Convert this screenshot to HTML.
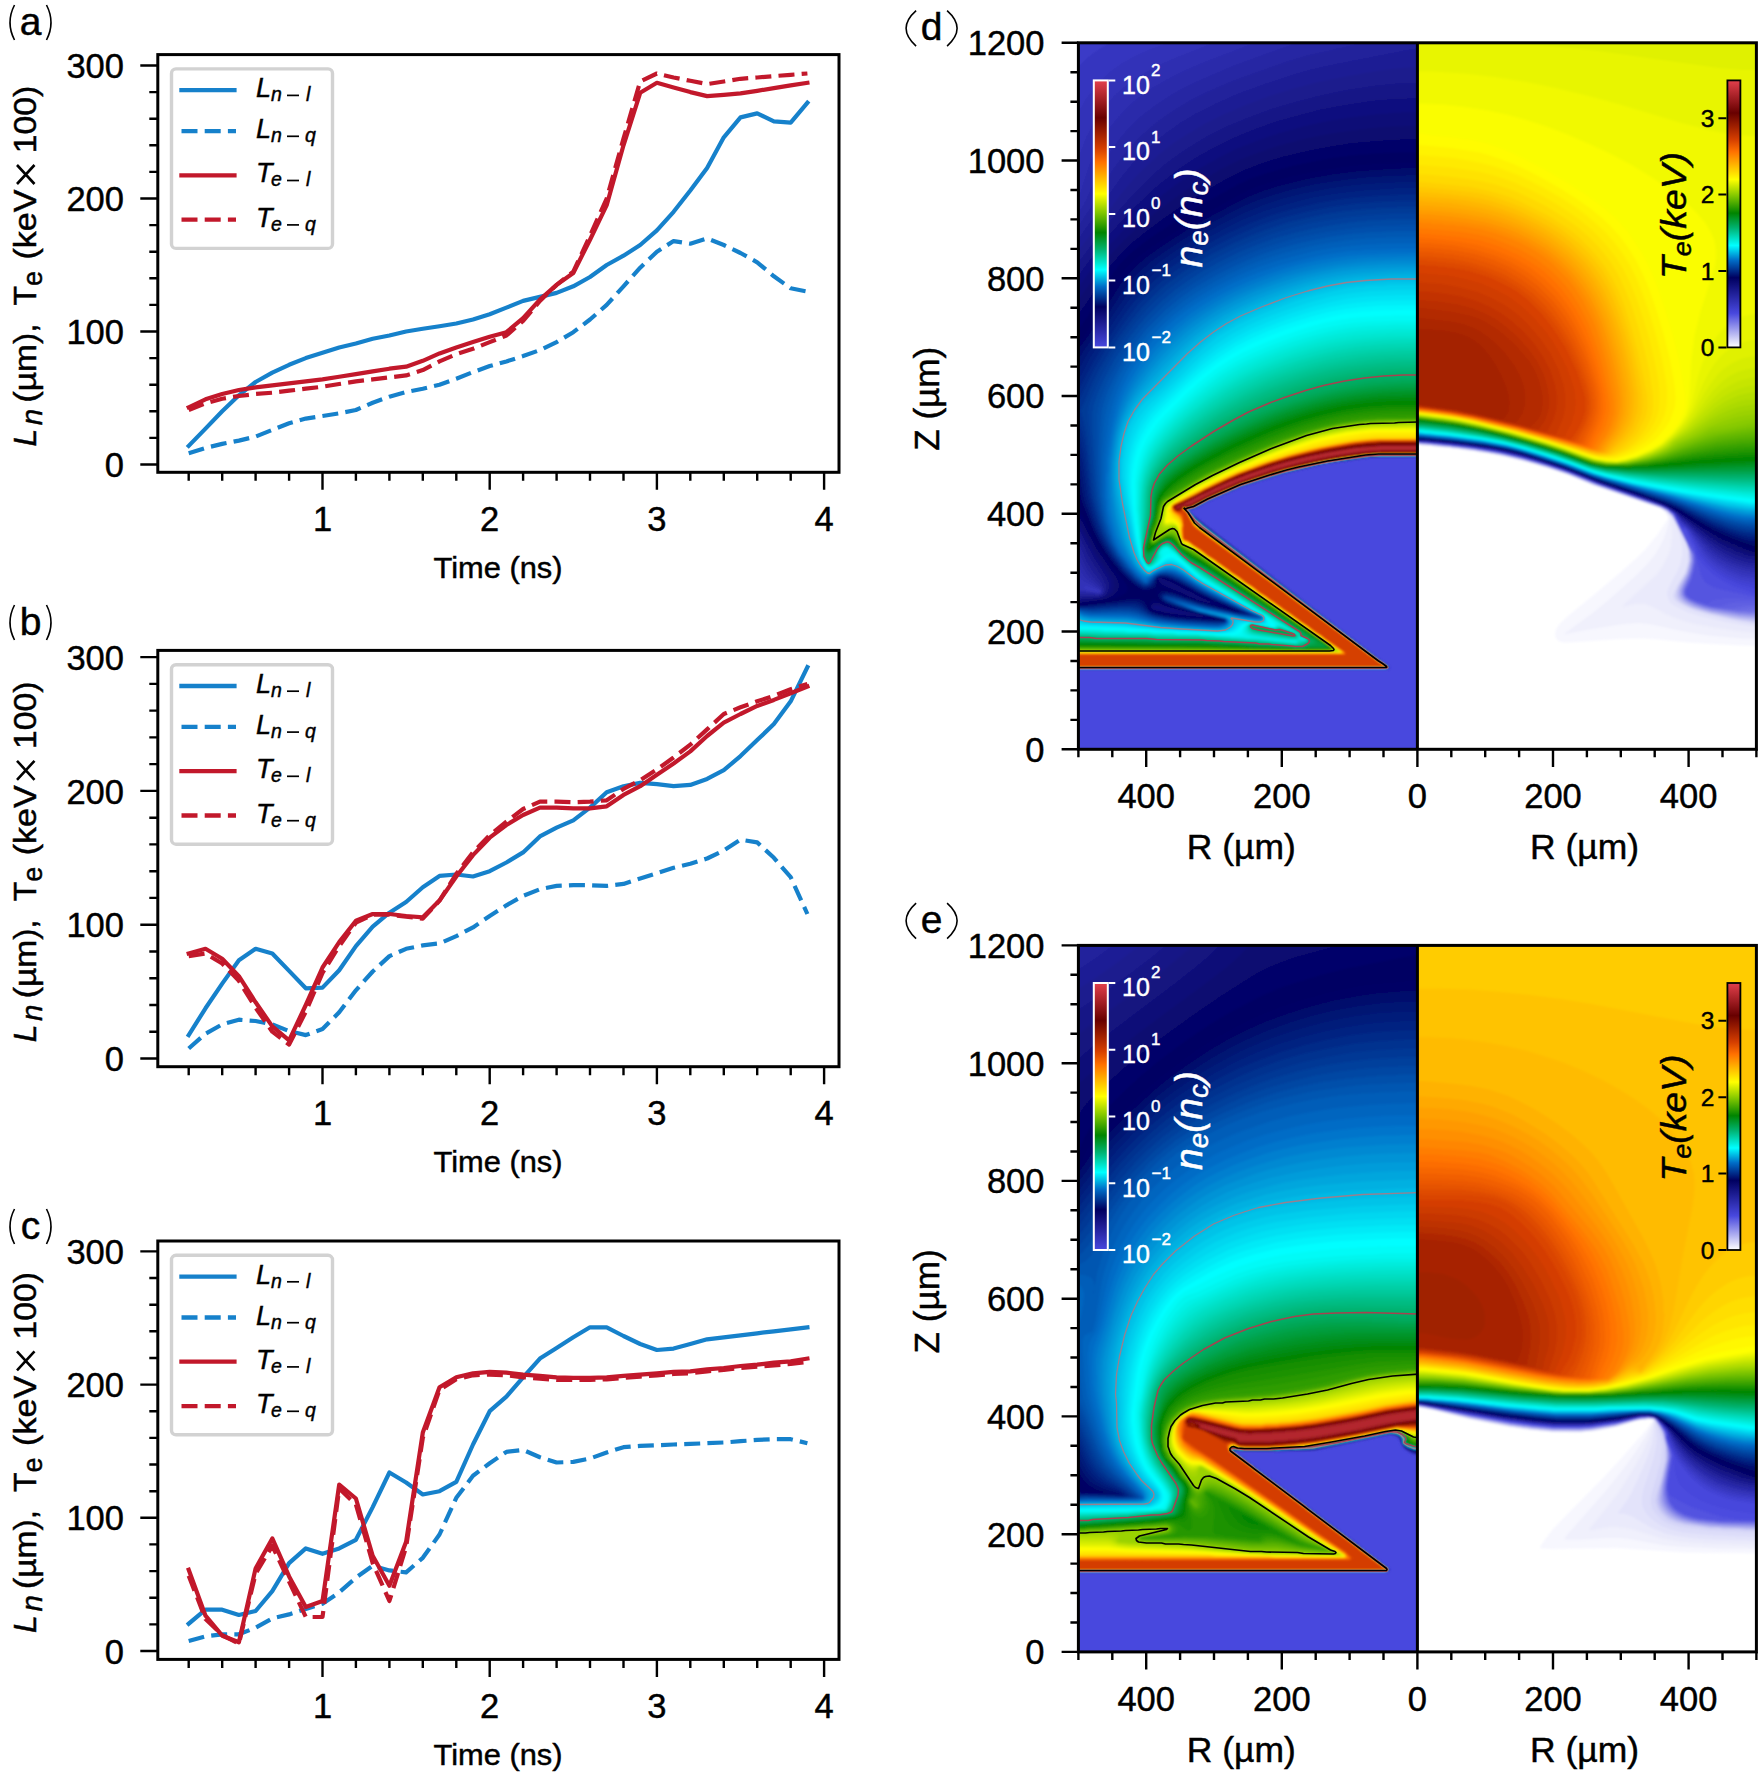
<!DOCTYPE html>
<html><head><meta charset="utf-8"><title>Figure</title>
<style>html,body{margin:0;padding:0;background:#fff}svg{display:block}text{font-family:"Liberation Sans",sans-serif;stroke-width:.45px}</style>
</head><body>
<svg width="1762" height="1776" viewBox="0 0 1762 1776">
<rect width="1762" height="1776" fill="#fff"/>
<g id="pa">
<polyline points="188.7,445.9 205.5,428.6 222.2,411.3 238.9,395.3 255.6,382 272.3,372.7 289.1,364.8 305.8,358.1 322.5,352.8 339.2,347.5 355.9,343.5 372.7,338.8 389.4,335.5 406.1,331.5 422.8,328.8 439.5,326.2 456.3,323.5 473,319.5 489.7,314.2 506.4,307.6 523.1,300.9 539.9,296.9 556.6,292.9 573.3,286.3 590,277 606.7,265 623.5,255.7 640.2,245 656.9,230.4 673.6,211.8 690.3,190.5 707.1,167.9 723.8,137.3 740.5,117.4 757.2,113.4 773.9,121.4 790.7,122.7 807.4,102.7" fill="none" stroke="#1681cb" stroke-width="4.2" stroke-linejoin="round" stroke-linecap="square"/>
<polyline points="188.7,453.2 205.5,447.9 222.2,443.9 238.9,440.6 255.6,436.6 272.3,429.9 289.1,423.3 305.8,418.6 322.5,416 339.2,413.3 355.9,410 372.7,402.7 389.4,396.7 406.1,392 422.8,388.7 439.5,384.7 456.3,378.7 473,372.1 489.7,366.1 506.4,361.4 523.1,356.1 539.9,350.1 556.6,342.1 573.3,332.2 590,319.5 606.7,304.9 623.5,286.3 640.2,267.7 656.9,251.7 673.6,241.1 690.3,243.7 707.1,238.4 723.8,245 740.5,253 757.2,262.3 773.9,276.3 790.7,288.3 807.4,291.6" fill="none" stroke="#1681cb" stroke-width="4.2" stroke-linejoin="round" stroke-linecap="butt" stroke-dasharray="16 7.2"/>
<polyline points="188.7,407.3 205.5,399.3 222.2,394 238.9,390 255.6,387.4 272.3,385.4 289.1,383.4 305.8,381.4 322.5,379.4 339.2,376.7 355.9,374.1 372.7,371.4 389.4,368.7 406.1,366.7 422.8,360.8 439.5,353.4 456.3,347.5 473,342.1 489.7,336.8 506.4,332.2 523.1,318.2 539.9,299.6 556.6,284.9 573.3,273 590,239.7 606.7,205.1 623.5,145.3 640.2,92.8 656.9,82.8 673.6,87.4 690.3,92.1 707.1,96.1 723.8,94.8 740.5,93.4 757.2,90.8 773.9,88.1 790.7,85.4 807.4,82.8" fill="none" stroke="#c2182b" stroke-width="4.2" stroke-linejoin="round" stroke-linecap="square"/>
<polyline points="188.7,410 205.5,403.3 222.2,398.7 238.9,396 255.6,394 272.3,392.7 289.1,390.7 305.8,388.7 322.5,386.7 339.2,384 355.9,381.4 372.7,379.4 389.4,377.4 406.1,375.4 422.8,370.1 439.5,361.4 456.3,354.1 473,348.8 489.7,342.1 506.4,335.5 523.1,320.9 539.9,300.9 556.6,284.9 573.3,271.6 590,235.7 606.7,198.5 623.5,138.6 640.2,81.5 656.9,73.5 673.6,77.5 690.3,80.8 707.1,84.1 723.8,81.5 740.5,78.8 757.2,77.5 773.9,76.1 790.7,74.8 807.4,73.5" fill="none" stroke="#c2182b" stroke-width="4.2" stroke-linejoin="round" stroke-linecap="butt" stroke-dasharray="16 7.2"/>
<path d="M140.3 464.5H157.8M149.3 437.9H157.8M149.3 411.3H157.8M149.3 384.7H157.8M149.3 358.1H157.8M140.3 331.5H157.8M149.3 304.9H157.8M149.3 278.3H157.8M149.3 251.7H157.8M149.3 225.1H157.8M140.3 198.5H157.8M149.3 171.9H157.8M149.3 145.3H157.8M149.3 118.7H157.8M149.3 92.1H157.8M140.3 65.5H157.8M188.7 472.3V480.8M222.2 472.3V480.8M255.6 472.3V480.8M289.1 472.3V480.8M322.5 472.3V489.8M355.9 472.3V480.8M389.4 472.3V480.8M422.8 472.3V480.8M456.3 472.3V480.8M489.7 472.3V489.8M523.1 472.3V480.8M556.6 472.3V480.8M590 472.3V480.8M623.5 472.3V480.8M656.9 472.3V489.8M690.3 472.3V480.8M723.8 472.3V480.8M757.2 472.3V480.8M790.7 472.3V480.8M824.1 472.3V489.8" stroke="#000" stroke-width="2.4" fill="none"/>
<rect x="157.8" y="54.6" width="681.2" height="417.7" fill="none" stroke="#000" stroke-width="3"/>
<text x="124" y="477.1" font-size="34.5" text-anchor="end" stroke="#000">0</text>
<text x="124" y="344.1" font-size="34.5" text-anchor="end" stroke="#000">100</text>
<text x="124" y="211.1" font-size="34.5" text-anchor="end" stroke="#000">200</text>
<text x="124" y="78.1" font-size="34.5" text-anchor="end" stroke="#000">300</text>
<text x="322.5" y="530.9" font-size="34.5" text-anchor="middle" stroke="#000">1</text>
<text x="489.7" y="530.9" font-size="34.5" text-anchor="middle" stroke="#000">2</text>
<text x="656.9" y="530.9" font-size="34.5" text-anchor="middle" stroke="#000">3</text>
<text x="824.1" y="530.9" font-size="34.5" text-anchor="middle" stroke="#000">4</text>
<text x="498" y="577.8" font-size="30" text-anchor="middle" textLength="129" lengthAdjust="spacingAndGlyphs" stroke="#000">Time (ns)</text>
<g transform="translate(36,446.5) rotate(-90)"><text x="0" y="0" font-size="32" font-style="italic" stroke="#000">L</text></g>
<g transform="translate(42,425.2) rotate(-90)"><text x="0" y="0" font-size="29.5" font-style="italic" stroke="#000">n</text></g>
<g transform="translate(36,402.5) rotate(-90)"><text x="0" y="0" font-size="32" textLength="79" lengthAdjust="spacingAndGlyphs" stroke="#000">(µm),</text></g>
<g transform="translate(36,305.5) rotate(-90)"><text x="0" y="0" font-size="32" stroke="#000">T</text></g>
<g transform="translate(42,286) rotate(-90)"><text x="0" y="0" font-size="27" stroke="#000">e</text></g>
<g transform="translate(36,259.5) rotate(-90)"><text x="0" y="0" font-size="32" textLength="70" lengthAdjust="spacingAndGlyphs" stroke="#000">(keV</text></g>
<path d="M17 165l17.5 19m0 -19l-17.5 19" stroke="#000" stroke-width="2.6" fill="none"/>
<g transform="translate(36,153.2) rotate(-90)"><text x="0" y="0" font-size="32" textLength="67.5" lengthAdjust="spacingAndGlyphs" stroke="#000">100)</text></g>
<rect x="171.5" y="68.9" width="161" height="179.5" rx="4.5" fill="#fff" stroke="#d2d2d2" stroke-width="3.4"/>
<path d="M179.3 90.2H236.6" stroke="#1681cb" stroke-width="4.3"/>
<text x="256" y="97.2" font-size="27" stroke="#000"><tspan font-style="italic">L</tspan></text>
<text x="271" y="101.2" font-size="19.5" stroke="#000"><tspan font-style="italic">n</tspan></text>
<path d="M287 95.4h12" stroke="#000" stroke-width="1.7"/>
<text x="306" y="101.2" font-size="19.5" stroke="#000"><tspan font-style="italic">l</tspan></text>
<path d="M181.5 131.1H236" stroke="#1681cb" stroke-width="4.3" stroke-dasharray="16 7.2"/>
<text x="256" y="138.1" font-size="27" stroke="#000"><tspan font-style="italic">L</tspan></text>
<text x="271" y="142.1" font-size="19.5" stroke="#000"><tspan font-style="italic">n</tspan></text>
<path d="M287 136.3h12" stroke="#000" stroke-width="1.7"/>
<text x="305" y="142.1" font-size="19.5" stroke="#000"><tspan font-style="italic">q</tspan></text>
<path d="M179.3 175.3H236.6" stroke="#c2182b" stroke-width="4.3"/>
<text x="256" y="182.3" font-size="27" stroke="#000"><tspan font-style="italic">T</tspan></text>
<text x="271" y="186.3" font-size="19.5" stroke="#000"><tspan font-style="italic">e</tspan></text>
<path d="M287 180.5h12" stroke="#000" stroke-width="1.7"/>
<text x="306" y="186.3" font-size="19.5" stroke="#000"><tspan font-style="italic">l</tspan></text>
<path d="M181.5 219.7H236" stroke="#c2182b" stroke-width="4.3" stroke-dasharray="16 7.2"/>
<text x="256" y="226.7" font-size="27" stroke="#000"><tspan font-style="italic">T</tspan></text>
<text x="271" y="230.7" font-size="19.5" stroke="#000"><tspan font-style="italic">e</tspan></text>
<path d="M287 224.9h12" stroke="#000" stroke-width="1.7"/>
<text x="305" y="230.7" font-size="19.5" stroke="#000"><tspan font-style="italic">q</tspan></text>
<path d="M14.5 5q-9 17.5 0 35M46.5 5q9 17.5 0 35" fill="none" stroke="#000" stroke-width="1.6"/>
<text x="30.5" y="34.5" font-size="39" text-anchor="middle" stroke="#000">a</text>
</g>
<g id="pb">
<polyline points="188.7,1035.1 205.5,1008.3 222.2,983.6 238.9,960.2 255.6,948.8 272.3,953.5 289.1,970.9 305.8,988.3 322.5,987.6 339.2,970.2 355.9,946.1 372.7,926.7 389.4,912.7 406.1,902 422.8,887.2 439.5,875.9 456.3,874.5 473,876.5 489.7,871.2 506.4,862.5 523.1,852.4 539.9,836.4 556.6,827.7 573.3,820.3 590,807.6 606.7,792.2 623.5,786.2 640.2,782.9 656.9,784.2 673.6,786.2 690.3,784.9 707.1,778.9 723.8,770.2 740.5,756.1 757.2,740.1 773.9,724 790.7,701.3 807.4,667.1" fill="none" stroke="#1681cb" stroke-width="4.2" stroke-linejoin="round" stroke-linecap="square"/>
<polyline points="188.7,1048.5 205.5,1033.7 222.2,1024.4 238.9,1019.7 255.6,1021 272.3,1024.4 289.1,1031.1 305.8,1035.1 322.5,1029.1 339.2,1012.3 355.9,990.3 372.7,971.5 389.4,956.1 406.1,948.8 422.8,945.4 439.5,943.4 456.3,936.1 473,927.4 489.7,916 506.4,905.3 523.1,895.9 539.9,889.2 556.6,885.9 573.3,885.2 590,885.2 606.7,885.9 623.5,883.9 640.2,878.5 656.9,873.2 673.6,867.8 690.3,863.8 707.1,858.5 723.8,850.4 740.5,839.7 757.2,842.4 773.9,857.8 790.7,877.2 807.4,914" fill="none" stroke="#1681cb" stroke-width="4.2" stroke-linejoin="round" stroke-linecap="butt" stroke-dasharray="16 7.2"/>
<polyline points="188.7,953.5 205.5,948.8 222.2,958.8 238.9,976.2 255.6,1002.3 272.3,1026.4 289.1,1040.4 305.8,1005 322.5,967.5 339.2,942.1 355.9,920.7 372.7,914 389.4,914 406.1,916 422.8,917.3 439.5,900.6 456.3,876.5 473,855.1 489.7,837.7 506.4,825 523.1,815 539.9,807.6 556.6,807.6 573.3,808.3 590,808.3 606.7,806.3 623.5,794.9 640.2,786.2 656.9,774.8 673.6,763.5 690.3,751.4 707.1,736 723.8,722.7 740.5,714 757.2,705.9 773.9,699.9 790.7,693.2 807.4,686.5" fill="none" stroke="#c2182b" stroke-width="4.2" stroke-linejoin="round" stroke-linecap="square"/>
<polyline points="188.7,956.1 205.5,953.5 222.2,963.5 238.9,980.9 255.6,1007.7 272.3,1031.7 289.1,1044.5 305.8,1011.7 322.5,972.9 339.2,946.1 355.9,922.7 372.7,914.7 389.4,914.7 406.1,916.7 422.8,918.7 439.5,900.6 456.3,873.9 473,852.4 489.7,835.1 506.4,821.7 523.1,809 539.9,801.6 556.6,801.6 573.3,802.3 590,801.6 606.7,800.3 623.5,788.9 640.2,780.2 656.9,769.5 673.6,757.5 690.3,744.7 707.1,729.4 723.8,714 740.5,707.3 757.2,701.3 773.9,695.9 790.7,689.2 807.4,683.9" fill="none" stroke="#c2182b" stroke-width="4.2" stroke-linejoin="round" stroke-linecap="butt" stroke-dasharray="16 7.2"/>
<path d="M140.3 1058.5H157.8M149.3 1031.7H157.8M149.3 1005H157.8M149.3 978.2H157.8M149.3 951.5H157.8M140.3 924.7H157.8M149.3 897.9H157.8M149.3 871.2H157.8M149.3 844.4H157.8M149.3 817.7H157.8M140.3 790.9H157.8M149.3 764.1H157.8M149.3 737.4H157.8M149.3 710.6H157.8M149.3 683.9H157.8M140.3 657.1H157.8M188.7 1066.7V1075.2M222.2 1066.7V1075.2M255.6 1066.7V1075.2M289.1 1066.7V1075.2M322.5 1066.7V1084.2M355.9 1066.7V1075.2M389.4 1066.7V1075.2M422.8 1066.7V1075.2M456.3 1066.7V1075.2M489.7 1066.7V1084.2M523.1 1066.7V1075.2M556.6 1066.7V1075.2M590 1066.7V1075.2M623.5 1066.7V1075.2M656.9 1066.7V1084.2M690.3 1066.7V1075.2M723.8 1066.7V1075.2M757.2 1066.7V1075.2M790.7 1066.7V1075.2M824.1 1066.7V1084.2" stroke="#000" stroke-width="2.4" fill="none"/>
<rect x="157.8" y="650.4" width="681.2" height="416.3" fill="none" stroke="#000" stroke-width="3"/>
<text x="124" y="1071.1" font-size="34.5" text-anchor="end" stroke="#000">0</text>
<text x="124" y="937.3" font-size="34.5" text-anchor="end" stroke="#000">100</text>
<text x="124" y="803.5" font-size="34.5" text-anchor="end" stroke="#000">200</text>
<text x="124" y="669.7" font-size="34.5" text-anchor="end" stroke="#000">300</text>
<text x="322.5" y="1125.3" font-size="34.5" text-anchor="middle" stroke="#000">1</text>
<text x="489.7" y="1125.3" font-size="34.5" text-anchor="middle" stroke="#000">2</text>
<text x="656.9" y="1125.3" font-size="34.5" text-anchor="middle" stroke="#000">3</text>
<text x="824.1" y="1125.3" font-size="34.5" text-anchor="middle" stroke="#000">4</text>
<text x="498" y="1172.2" font-size="30" text-anchor="middle" textLength="129" lengthAdjust="spacingAndGlyphs" stroke="#000">Time (ns)</text>
<g transform="translate(36,1042.3) rotate(-90)"><text x="0" y="0" font-size="32" font-style="italic" stroke="#000">L</text></g>
<g transform="translate(42,1021) rotate(-90)"><text x="0" y="0" font-size="29.5" font-style="italic" stroke="#000">n</text></g>
<g transform="translate(36,998.3) rotate(-90)"><text x="0" y="0" font-size="32" textLength="79" lengthAdjust="spacingAndGlyphs" stroke="#000">(µm),</text></g>
<g transform="translate(36,901.3) rotate(-90)"><text x="0" y="0" font-size="32" stroke="#000">T</text></g>
<g transform="translate(42,881.8) rotate(-90)"><text x="0" y="0" font-size="27" stroke="#000">e</text></g>
<g transform="translate(36,855.3) rotate(-90)"><text x="0" y="0" font-size="32" textLength="70" lengthAdjust="spacingAndGlyphs" stroke="#000">(keV</text></g>
<path d="M17 760.8l17.5 19m0 -19l-17.5 19" stroke="#000" stroke-width="2.6" fill="none"/>
<g transform="translate(36,749) rotate(-90)"><text x="0" y="0" font-size="32" textLength="67.5" lengthAdjust="spacingAndGlyphs" stroke="#000">100)</text></g>
<rect x="171.5" y="664.7" width="161" height="179.5" rx="4.5" fill="#fff" stroke="#d2d2d2" stroke-width="3.4"/>
<path d="M179.3 686H236.6" stroke="#1681cb" stroke-width="4.3"/>
<text x="256" y="693" font-size="27" stroke="#000"><tspan font-style="italic">L</tspan></text>
<text x="271" y="697" font-size="19.5" stroke="#000"><tspan font-style="italic">n</tspan></text>
<path d="M287 691.2h12" stroke="#000" stroke-width="1.7"/>
<text x="306" y="697" font-size="19.5" stroke="#000"><tspan font-style="italic">l</tspan></text>
<path d="M181.5 726.9H236" stroke="#1681cb" stroke-width="4.3" stroke-dasharray="16 7.2"/>
<text x="256" y="733.9" font-size="27" stroke="#000"><tspan font-style="italic">L</tspan></text>
<text x="271" y="737.9" font-size="19.5" stroke="#000"><tspan font-style="italic">n</tspan></text>
<path d="M287 732.1h12" stroke="#000" stroke-width="1.7"/>
<text x="305" y="737.9" font-size="19.5" stroke="#000"><tspan font-style="italic">q</tspan></text>
<path d="M179.3 771.1H236.6" stroke="#c2182b" stroke-width="4.3"/>
<text x="256" y="778.1" font-size="27" stroke="#000"><tspan font-style="italic">T</tspan></text>
<text x="271" y="782.1" font-size="19.5" stroke="#000"><tspan font-style="italic">e</tspan></text>
<path d="M287 776.3h12" stroke="#000" stroke-width="1.7"/>
<text x="306" y="782.1" font-size="19.5" stroke="#000"><tspan font-style="italic">l</tspan></text>
<path d="M181.5 815.5H236" stroke="#c2182b" stroke-width="4.3" stroke-dasharray="16 7.2"/>
<text x="256" y="822.5" font-size="27" stroke="#000"><tspan font-style="italic">T</tspan></text>
<text x="271" y="826.5" font-size="19.5" stroke="#000"><tspan font-style="italic">e</tspan></text>
<path d="M287 820.7h12" stroke="#000" stroke-width="1.7"/>
<text x="305" y="826.5" font-size="19.5" stroke="#000"><tspan font-style="italic">q</tspan></text>
<path d="M14.5 605q-9 17.5 0 35M46.5 605q9 17.5 0 35" fill="none" stroke="#000" stroke-width="1.6"/>
<text x="30.5" y="634.5" font-size="39" text-anchor="middle" stroke="#000">b</text>
</g>
<g id="pc">
<polyline points="188.7,1623.7 205.5,1609.7 222.2,1609.7 238.9,1615 255.6,1611 272.3,1591.1 289.1,1563.1 305.8,1548.4 322.5,1553.8 339.2,1548.4 355.9,1539.8 372.7,1507.1 389.4,1472.5 406.1,1482.5 422.8,1494.5 439.5,1491.2 456.3,1481.8 473,1444.5 489.7,1411.2 506.4,1396.6 523.1,1377.3 539.9,1358.6 556.6,1348 573.3,1337.3 590,1327.3 606.7,1327.3 623.5,1336 640.2,1344 656.9,1350 673.6,1348.6 690.3,1344 707.1,1339.3 723.8,1337.3 740.5,1335.3 757.2,1333.3 773.9,1331.3 790.7,1329.3 807.4,1327.3" fill="none" stroke="#1681cb" stroke-width="4.2" stroke-linejoin="round" stroke-linecap="square"/>
<polyline points="188.7,1641 205.5,1636.3 222.2,1634.3 238.9,1634.3 255.6,1627.7 272.3,1618.4 289.1,1614.4 305.8,1609 322.5,1603.7 339.2,1592.4 355.9,1577.7 372.7,1565.8 389.4,1570.4 406.1,1572.4 422.8,1557.8 439.5,1534.5 456.3,1497.8 473,1475.8 489.7,1463.2 506.4,1451.9 523.1,1449.9 539.9,1457.2 556.6,1462.5 573.3,1461.9 590,1458.5 606.7,1452.5 623.5,1447.2 640.2,1445.9 656.9,1445.2 673.6,1444.5 690.3,1443.9 707.1,1443.2 723.8,1442.5 740.5,1441.2 757.2,1439.9 773.9,1439.2 790.7,1439.2 807.4,1443.2" fill="none" stroke="#1681cb" stroke-width="4.2" stroke-linejoin="round" stroke-linecap="butt" stroke-dasharray="16 7.2"/>
<polyline points="188.7,1569.7 205.5,1615.7 222.2,1635.7 238.9,1642.3 255.6,1568.4 272.3,1538.4 289.1,1576.4 305.8,1607 322.5,1601 339.2,1484.5 355.9,1498.5 372.7,1555.8 389.4,1585.7 406.1,1541.8 422.8,1432.6 439.5,1387.3 456.3,1377.3 473,1373.3 489.7,1371.9 506.4,1372.6 523.1,1374.6 539.9,1375.9 556.6,1377.3 573.3,1377.9 590,1377.9 606.7,1377.3 623.5,1375.9 640.2,1374.6 656.9,1373.3 673.6,1371.9 690.3,1371.3 707.1,1369.3 723.8,1368 740.5,1366 757.2,1364.6 773.9,1362.6 790.7,1361.3 807.4,1358.6" fill="none" stroke="#c2182b" stroke-width="4.2" stroke-linejoin="round" stroke-linecap="square"/>
<polyline points="188.7,1575.7 205.5,1619 222.2,1635 238.9,1643.7 255.6,1573.7 272.3,1545.8 289.1,1581.7 305.8,1617 322.5,1617 339.2,1488.5 355.9,1504.5 372.7,1563.1 389.4,1601 406.1,1547.1 422.8,1437.9 439.5,1389.9 456.3,1379.3 473,1375.3 489.7,1374.6 506.4,1375.3 523.1,1377.3 539.9,1378.6 556.6,1379.9 573.3,1379.9 590,1379.9 606.7,1379.3 623.5,1377.9 640.2,1376.6 656.9,1375.3 673.6,1373.9 690.3,1373.3 707.1,1371.3 723.8,1369.9 740.5,1368 757.2,1366.6 773.9,1365.3 790.7,1364 807.4,1362" fill="none" stroke="#c2182b" stroke-width="4.2" stroke-linejoin="round" stroke-linecap="butt" stroke-dasharray="16 7.2"/>
<path d="M140.3 1651H157.8M149.3 1624.4H157.8M149.3 1597.7H157.8M149.3 1571.1H157.8M149.3 1544.4H157.8M140.3 1517.8H157.8M149.3 1491.2H157.8M149.3 1464.5H157.8M149.3 1437.9H157.8M149.3 1411.2H157.8M140.3 1384.6H157.8M149.3 1358H157.8M149.3 1331.3H157.8M149.3 1304.7H157.8M149.3 1278H157.8M140.3 1251.4H157.8M188.7 1659.4V1667.9M222.2 1659.4V1667.9M255.6 1659.4V1667.9M289.1 1659.4V1667.9M322.5 1659.4V1676.9M355.9 1659.4V1667.9M389.4 1659.4V1667.9M422.8 1659.4V1667.9M456.3 1659.4V1667.9M489.7 1659.4V1676.9M523.1 1659.4V1667.9M556.6 1659.4V1667.9M590 1659.4V1667.9M623.5 1659.4V1667.9M656.9 1659.4V1676.9M690.3 1659.4V1667.9M723.8 1659.4V1667.9M757.2 1659.4V1667.9M790.7 1659.4V1667.9M824.1 1659.4V1676.9" stroke="#000" stroke-width="2.4" fill="none"/>
<rect x="157.8" y="1241" width="681.2" height="418.4" fill="none" stroke="#000" stroke-width="3"/>
<text x="124" y="1663.6" font-size="34.5" text-anchor="end" stroke="#000">0</text>
<text x="124" y="1530.4" font-size="34.5" text-anchor="end" stroke="#000">100</text>
<text x="124" y="1397.2" font-size="34.5" text-anchor="end" stroke="#000">200</text>
<text x="124" y="1264" font-size="34.5" text-anchor="end" stroke="#000">300</text>
<text x="322.5" y="1718" font-size="34.5" text-anchor="middle" stroke="#000">1</text>
<text x="489.7" y="1718" font-size="34.5" text-anchor="middle" stroke="#000">2</text>
<text x="656.9" y="1718" font-size="34.5" text-anchor="middle" stroke="#000">3</text>
<text x="824.1" y="1718" font-size="34.5" text-anchor="middle" stroke="#000">4</text>
<text x="498" y="1764.9" font-size="30" text-anchor="middle" textLength="129" lengthAdjust="spacingAndGlyphs" stroke="#000">Time (ns)</text>
<g transform="translate(36,1632.9) rotate(-90)"><text x="0" y="0" font-size="32" font-style="italic" stroke="#000">L</text></g>
<g transform="translate(42,1611.6) rotate(-90)"><text x="0" y="0" font-size="29.5" font-style="italic" stroke="#000">n</text></g>
<g transform="translate(36,1588.9) rotate(-90)"><text x="0" y="0" font-size="32" textLength="79" lengthAdjust="spacingAndGlyphs" stroke="#000">(µm),</text></g>
<g transform="translate(36,1491.9) rotate(-90)"><text x="0" y="0" font-size="32" stroke="#000">T</text></g>
<g transform="translate(42,1472.4) rotate(-90)"><text x="0" y="0" font-size="27" stroke="#000">e</text></g>
<g transform="translate(36,1445.9) rotate(-90)"><text x="0" y="0" font-size="32" textLength="70" lengthAdjust="spacingAndGlyphs" stroke="#000">(keV</text></g>
<path d="M17 1351.4l17.5 19m0 -19l-17.5 19" stroke="#000" stroke-width="2.6" fill="none"/>
<g transform="translate(36,1339.6) rotate(-90)"><text x="0" y="0" font-size="32" textLength="67.5" lengthAdjust="spacingAndGlyphs" stroke="#000">100)</text></g>
<rect x="171.5" y="1255.3" width="161" height="179.5" rx="4.5" fill="#fff" stroke="#d2d2d2" stroke-width="3.4"/>
<path d="M179.3 1276.6H236.6" stroke="#1681cb" stroke-width="4.3"/>
<text x="256" y="1283.6" font-size="27" stroke="#000"><tspan font-style="italic">L</tspan></text>
<text x="271" y="1287.6" font-size="19.5" stroke="#000"><tspan font-style="italic">n</tspan></text>
<path d="M287 1281.8h12" stroke="#000" stroke-width="1.7"/>
<text x="306" y="1287.6" font-size="19.5" stroke="#000"><tspan font-style="italic">l</tspan></text>
<path d="M181.5 1317.5H236" stroke="#1681cb" stroke-width="4.3" stroke-dasharray="16 7.2"/>
<text x="256" y="1324.5" font-size="27" stroke="#000"><tspan font-style="italic">L</tspan></text>
<text x="271" y="1328.5" font-size="19.5" stroke="#000"><tspan font-style="italic">n</tspan></text>
<path d="M287 1322.7h12" stroke="#000" stroke-width="1.7"/>
<text x="305" y="1328.5" font-size="19.5" stroke="#000"><tspan font-style="italic">q</tspan></text>
<path d="M179.3 1361.7H236.6" stroke="#c2182b" stroke-width="4.3"/>
<text x="256" y="1368.7" font-size="27" stroke="#000"><tspan font-style="italic">T</tspan></text>
<text x="271" y="1372.7" font-size="19.5" stroke="#000"><tspan font-style="italic">e</tspan></text>
<path d="M287 1366.9h12" stroke="#000" stroke-width="1.7"/>
<text x="306" y="1372.7" font-size="19.5" stroke="#000"><tspan font-style="italic">l</tspan></text>
<path d="M181.5 1406.1H236" stroke="#c2182b" stroke-width="4.3" stroke-dasharray="16 7.2"/>
<text x="256" y="1413.1" font-size="27" stroke="#000"><tspan font-style="italic">T</tspan></text>
<text x="271" y="1417.1" font-size="19.5" stroke="#000"><tspan font-style="italic">e</tspan></text>
<path d="M287 1411.3h12" stroke="#000" stroke-width="1.7"/>
<text x="305" y="1417.1" font-size="19.5" stroke="#000"><tspan font-style="italic">q</tspan></text>
<path d="M14.5 1209q-9 17.5 0 35M46.5 1209q9 17.5 0 35" fill="none" stroke="#000" stroke-width="1.6"/>
<text x="30.5" y="1238.5" font-size="39" text-anchor="middle" stroke="#000">c</text>
</g>
<defs>
<linearGradient id="gN" x1="0" y1="0" x2="0" y2="1"><stop offset="0.000" stop-color="#e2404c"/><stop offset="0.140" stop-color="#680000"/><stop offset="0.254" stop-color="#d43e00"/><stop offset="0.305" stop-color="#ff7000"/><stop offset="0.425" stop-color="#ffff00"/><stop offset="0.494" stop-color="#84c800"/><stop offset="0.570" stop-color="#008400"/><stop offset="0.633" stop-color="#00b270"/><stop offset="0.709" stop-color="#00ffff"/><stop offset="0.772" stop-color="#006ec8"/><stop offset="0.848" stop-color="#000060"/><stop offset="1.000" stop-color="#4848de"/></linearGradient>
<linearGradient id="gT" x1="0" y1="0" x2="0" y2="1"><stop offset="0.000" stop-color="#e2404c"/><stop offset="0.122" stop-color="#680000"/><stop offset="0.221" stop-color="#d43e00"/><stop offset="0.266" stop-color="#ff7000"/><stop offset="0.371" stop-color="#ffff00"/><stop offset="0.431" stop-color="#84c800"/><stop offset="0.497" stop-color="#008400"/><stop offset="0.552" stop-color="#00b270"/><stop offset="0.618" stop-color="#00ffff"/><stop offset="0.673" stop-color="#006ec8"/><stop offset="0.739" stop-color="#000060"/><stop offset="0.872" stop-color="#4848de"/><stop offset="1.000" stop-color="#ffffff"/></linearGradient>
<filter id="hb" x="-5%" y="-5%" width="110%" height="110%"><feGaussianBlur stdDeviation="2.4"/></filter>
</defs>
<g id="pd">
<clipPath id="cLd"><rect x="1078.4" y="42.8" width="339.0" height="706.5"/></clipPath>
<clipPath id="cRd"><rect x="1417.4" y="42.8" width="339.0" height="706.5"/></clipPath>
<g clip-path="url(#cLd)"><rect x="1068.4" y="32.8" width="359.0" height="726.5" fill="#4848de"/>
<g transform="scale(.5)"><g filter="url(#hb)"><path fill="#4343d5" d="M2141 69l710 0 0 846-110 0-4 1-12 1-2 1-12 1-2 1-12 1-2 1-14 1-2 1-12 1-2 2-11 0-3 2-6 0-2 2-8 0-2 2-6 0-2 2-14 2-2 1-8 1-2 1-6 1-2 1-6 1-2 1-8 1-2 2-5 0-15 6-5 0-15 6-4 0-2 2-5 0-21 8-5 0-3 2-9 2-25 12-3 0-11 6-3 0-15 8-3 0-37 20-8 0-1 2 13 12 30 23 16 13 12 9 6 5 12 9 16 13 22 16 6 6 12 8 6 6 12 8 16 14 12 8 6 6 12 8 16 14 12 8 6 6 12 8 45 36 29 21 7 7 3 1 8 7 10 7 8 7 2 0 14 12 2 0 4 4 2 0 6 6 2 0 4 4 0 4-2 2-636 0z"/>
<path fill="#3f3fce" d="M2141 69l710 0 0 845-110 1-6 1-10 1-4 1-10 1-4 1-10 1-4 1-10 1-6 1-10 1-4 1-10 1-2 1-6 1-2 1-8 1-26 7-8 1-18 5-16 3-40 13-6 1-20 7-6 1-2 1-10 3-24 11-4 1-10 5-4 1-14 7-4 1-36 19-10 1 4 6 4 3 6 6 45 35 31 23 61 49 13 9 33 27 13 9 16 13 12 9 6 5 12 8 16 14 12 8 16 14 12 8 6 6 10 7 37 29 3 1 5 5 3 1 5 5 3 1 3 3 3 1 5 5 3 1 3 3 1 2-2 3-6 1-630 0z"/>
<path fill="#3b3bc7" d="M2141 69l710 0 0 845-110 0-20 4-8 0-6 2-8 0-6 2-24 2-6 2-8 0-14 4-6 1-28 7-40 9-85 26-37 17-5 1-13 7-4 1-36 19-10 1 0 2 4 4 10 9 44 35 152 117 15 13 13 9 5 5 13 9 16 13 12 9 16 13 4 2 14 12 12 8 6 6 4 2 25 20 3 1 5 5 3 1 5 5 17 11 4 5-2 2-2 2-634 0z"/>
<path fill="#3636bf" d="M2221 69l630 0 0 845-110 0-86 12-20 4-68 16-85 27-64 28-31 16-11 2 1 2 4 5 10 9 46 36 28 21 18 15 10 7 16 13 30 23 81 63 13 9 15 13 13 9 15 13 31 23 6 5 4 2 41 32 17 12 3 4-3 4-634 0 0-1206 16 0 14-14 14-12 15-10 21-12z"/>
<path fill="#3232b8" d="M2338 69l513 0 0 844-110 1-86 12-18 4-68 16-82 25-15 6-55 24-28 15-4 2-9 1 3 5 12 11 17 14 240 186 13 9 15 13 13 9 5 5 41 30 6 6 2 1 14 11 8 5 6 5 4 2 3 4-3 3-634 1 0-163 16 0 2-3-2-4-16 0 0-945 16 0 15-27 15-20 16-18 20-18 23-16 26-14 29-13 37-13zM2169 1173l-2 2 0 2 4 2 22 5 6 0 1-1-3-2-16-6-8-3z"/>
<path fill="#2e2eb1" d="M2428 69l423 0 0 844-110 1-86 12-18 3-68 16-82 26-70 30-28 15-13 3 1 3 4 4 27 23 268 208 59 45 6 5 2 1 14 11 8 5 6 5 4 2 3 4-3 3-634 0 0-159 22 0 8 2 24 5 6-1 0-2-2-3-6-4-26-14-4-3-6-9-16 0 0-835 16 0 16-42 10-20 10-17 10-15 13-16 13-14 15-14 15-12 16-11 36-21 34-15 83-33z"/>
<path fill="#2a2aaa" d="M2512 69l339 0 0 844-110 0-6 2-8 0-6 2-8 0-6 2-8 0-6 2-10 0-4 2-24 2-12 4-6 0-28 8-6 0-20 6-14 2-83 26-65 28-32 17-13 3 5 7 27 23 133 103 34 27 10 7 18 15 10 7 63 49 59 45 6 5 4 2 12 10 18 12 3 4-3 3-4 0-630 0 0-156 22 0 34 5 4 0 2-2 0-2-2-4-4-4-22-16-6-6-5-8-7-13-16 0 0-731 16 0 10-36 8-24 10-26 12-24 14-23 16-22 18-21 18-18 20-16 20-14 22-13 26-14 30-14 36-15 95-36z"/>
<path fill="#2626a3" d="M2595 69l256 0 0 844-110 0-6 2-9 0-5 2-9 0-5 2-9 0-5 2-10 0-6 2-8 0-4 1-10 1-12 3-6 1-28 7-6 1-20 5-14 3-84 26-64 28-34 18-12 2 6 7 26 23 269 208 41 31 24 19 12 8 4 4 18 12 3 4-3 3-4 0-630 0 0-153 22 0 34 3 5-1 2-2 0-2-1-4-4-6-19-18-8-10-7-12-8-20-16 0 0-687 16 0 2-2 12-21 18-41 12-24 12-21 11-18 16-22 17-20 20-20 20-16 22-16 25-16 27-15 32-15 68-29 124-45z"/>
<path fill="#22229b" d="M2729 69l122 0 0 844-110 0-6 2-9 0-5 2-10 0-4 1-10 1-4 1-11 1-3 1-11 1-5 2-8 0-12 3-7 1-27 7-7 1-19 5-15 3-83 26-69 30-29 16-12 2 6 8 26 22 268 208 42 31 24 19 12 8 4 4 18 12 2 4-2 3-4 0-630 0 0-150 24 0 32 2 6-2 3-5-1-6-4-7-20-23-9-14-8-16-7-22-16 0 0-644 16 0 2-2 22-32 28-50 16-26 18-25 19-23 19-20 20-18 20-16 23-16 35-21 40-20 44-19 52-19 54-19 42-13 118-27z"/>
<path fill="#1e1e94" d="M2819 99l14-2 18 0 0 816-110 0-6 1-10 1-4 1-10 1-4 1-10 1-4 1-12 1-4 2-9 0-5 2-9 0-11 3-7 1-27 7-8 1-18 5-15 3-83 26-69 30-29 16-12 2 6 8 26 22 180 139 16 13 30 23 16 13 10 7 16 13 66 50 12 9 4 3 18 13 2 3-2 3-4 0-630 0 0-147 58 0 4-2 3-2 2-6-1-6-4-9-19-25-10-16-17-41-16 0 0-608 16 0 2-2 29-41 35-51 18-26 22-27 22-23 24-22 24-19 28-20 30-18 40-20 46-20 52-19 54-18 42-12 46-10z"/>
<path fill="#1a1a8d" d="M2809 135l42-1 0 778-110 1-6 1-10 1-4 1-10 1-4 1-10 1-4 1-26 3-4 1-9 1-11 3-8 1-26 7-8 1-18 5-16 3-83 26-69 30-12 7-16 8-12 3 6 8 26 23 286 221 48 36 4 3 4 3 4 3 4 3 18 13 2 3-2 2-4 1-630 0 0-144 58-2 4-1 5-4 2-4 0-6-1-8-4-8-18-26-10-16-18-41-2-2-16 0 0-575 16 0 88-117 24-28 26-26 26-24 26-20 28-18 30-18 40-20 46-20 48-18 52-16 50-13 56-11 62-11z"/>
<path fill="#161686" d="M2800 167l51-1 0 746-110 1-6 1-10 1-4 1-10 1-4 1-10 1-4 1-26 3-4 1-10 1-12 3-6 1-26 7-8 1-18 5-16 3-83 26-69 30-12 7-16 8-12 3 4 6 10 10 18 15 195 151 31 23 16 13 38 29 6 5 48 37 4 2 4 4 4 2 4 4 18 12 2 3-2 2-4 1-630 0 0-141 16 0 12-2 24 0 8-2 5-2 4-4 3-6 1-6-2-8-3-8-26-40-24-49-2-3-16 0 0-541 16 0 38-51 42-52 32-36 32-32 26-23 28-21 30-20 32-19 40-20 42-17 46-17 48-14 50-13 54-11 54-8z"/>
<path fill="#11117f" d="M2793 197l58-1 0 716-110 1-20 3-10 1-4 1-10 1-4 1-26 3-4 1-10 1-12 3-6 1-28 7-6 1-20 5-14 3-83 26-69 30-12 7-16 8-12 3 4 6 10 10 18 15 195 151 31 23 16 13 10 7 18 15 10 7 54 42 4 2 4 4 4 2 4 4 18 12 2 3-2 2-4 1-630 0 0-139 16 0 10-1 28-2 8-2 6-3 4-4 3-6 2-8-1-8-4-10-26-40-28-54-2-2-16 0 0-509 16 0 36-49 32-40 38-41 38-37 30-25 30-23 32-21 32-18 38-19 40-17 44-16 46-13 50-13 50-9 52-8z"/>
<path fill="#0d0d77" d="M2800 225l51-1 0 688-110 1-20 3-10 1-4 1-10 1-4 1-26 3-4 1-10 1-12 3-6 1-28 7-6 1-34 8-84 26-64 28-32 17-10 2-2 1 4 6 10 10 18 15 226 174 15 13 11 7 18 15 10 7 70 54 18 12 2 3-2 2-4 1-630 0 0-136 16 0 8-2 32-3 8-2 8-4 6-6 3-6 1-8-1-8-4-10-29-44-30-56-2-2-16 0 0-476 16 0 40-56 25-32 35-37 40-37 34-28 34-25 36-24 36-20 38-19 38-15 44-15 46-13 48-11 50-8 50-6zM2307 1212l-2 2 0 2 10 3 46 8 14 1 4-1-64-15z"/>
<path fill="#090970" d="M2788 253l63-1 0 660-110 0-20 4-10 1-4 1-10 1-4 1-26 3-4 1-10 1-12 3-6 1-28 7-6 1-34 8-84 26-64 28-32 17-10 2-2 1 4 6 10 10 18 15 241 187 11 7 18 15 10 7 70 54 18 12 2 3-2 2-4 0-630 0 0-132 16 0 8-3 34-3 10-3 9-5 7-6 3-6 1-8-1-10-5-10-32-48-30-56-4-5-16 0 0-442 16 0 1-1 44-64 18-24 27-29 32-30 38-31 40-30 42-27 42-25 36-18 36-14 40-14 44-12 46-10 48-8 48-6zM2309 1209l-4 2-2 4 2 3 10 3 46 8 28 2 12 1 2-1-5-2-7-1-4-1-8-1-38-10-24-7zM2319 1157l-1 2 3 4 10 6 65 30 15 4 6 0-12-5-65-33z"/>
<path fill="#050569" d="M2804 279l47-1 0 634-110 0-44 6-4 2-26 3-32 6-28 7-40 9-84 26-64 28-32 17-10 2-3 1 5 7 10 10 18 15 241 186 11 8 18 14 30 22 6 6 40 29 4 4 18 12 2 3-2 2-4 0-630 0 0-130 16 0 8-2 36-5 14-3 11-6 7-6 4-6 1-8-1-8-4-8-39-56-32-60-5-5-16 0 0-406 16 0 2-2 16-23 31-50 15-22 22-25 24-23 42-33 48-34 50-32 51-29 33-16 34-13 42-13 48-11 46-9 44-7 48-4zM2311 1205l-4 1-4 3-1 2-1 4 4 4 8 3 24 5 24 3 50 5 8 0-2 0-1-2-5-1-2-1-32-7-36-9-12-4-12-5zM2317 1156l-1 3 3 5 4 5 6 3 20 8 50 22 32 7 4 0-30-13-65-33-17-7-4 0z"/>
<path fill="#010162" d="M2803 305l48 0 0 607-110 0-74 11-32 6-68 16-84 26-64 28-32 17-10 2-3 1 5 7 10 10 18 15 270 208 30 22 6 6 40 29 4 4 18 12 2 3-2 2-4 0-630 0 0-128 16 0 8-2 22-3 6-1 10-1 25-5 9-3 11-5 6-6 1-6-1-6-6-10-25-30-25-34-16-28-14-32-5-9-4-2-18 0 0-370 16 0 6-6 11-15 14-22 24-44 15-24 14-18 22-22 38-29 64-42 42-26 68-38 28-13 32-11 50-14 48-10 34-6 36-5 50-4zM2303 1200l-2 2-2 5 0 8 4 5 10 4 22 5 26 3 60 6 11-1-4-2-51-12-36-10-12-4-10-6-6-3-6-1zM2319 1155l-2 0-2 2 1 6 3 8 6 4 24 8 50 20 56 14 6 0-4-1-2-1-48-20-64-33-14-5z"/>
<path fill="#000665" d="M2797 325l54-1 0 588-110 0-74 11-32 6-68 16-84 26-65 28-31 17-10 1-3 2 5 7 10 10 18 15 270 208 30 23 6 5 40 29 4 4 18 12 2 3-2 2-4 0-630 0 0-126 16 0 10-2 52-6 46-8 14-1 6 2 4 2 4 5 3 10 4 6 5 4 8 3 22 4 26 4 70 6 12-1-14-4-52-13-43-13-9-4-11-10-2-4-1-10-2-1-4-1-12 4-6-1-8-4-14-9-20-19-15-17-20-26-12-18-14-28-18-46-6-10-3-9-16 0 0-317 20 0 3-2 37-58 24-45 10-17 18-23 13-13 35-27 62-40 116-66 34-16 26-8 42-12 44-9 34-6 46-7 54-4zM2317 1154l-3 3 0 2 1 16 2 3 18 3 10 3 60 22 68 17 3 0-3-2-66-28-62-32-18-6-6-1z"/>
<path fill="#000d6d" d="M2774 339l41-2 36 0 0 575-110 0-74 10-32 6-68 17-84 26-65 28-31 17-10 1-3 2 5 7 10 10 18 15 241 186 59 45 6 5 40 29 4 4 18 12 2 3-2 2-4 0-630 0 0-125 16 0 64-8 34-5 18-1 6 1 6 3 4 3 7 12 4 4 7 4 10 3 30 5 40 4 54 4 4-1 2-1-70-17-29-9-17-6-6-4-4-4-3-4-1-4 1-4 3-3 4-1 6 0 8 1 10 2 54 20 70 18 9 1-2-2-4-2-69-29-58-30-20-8-8-1-6 2-2 4-1 12-3 4-8 3-8 2-6 0-4-2-9-5-9-7-20-18-21-25-15-22-14-24-7-14-24-60-2-10-5-29-16 0 0-266 16 0 14-17 19-28 50-82 15-20 16-17 22-19 31-22 43-28 44-26 56-30 30-15 30-12 36-11 50-12 54-10 52-6z"/>
<path fill="#001574" d="M2798 351l53-1 0 562-110 0-74 10-32 6-68 16-84 27-65 28-31 17-10 1-3 2 5 7 10 10 17 15 242 186 59 45 6 5 40 29 4 4 18 12 1 3-1 2-4 0-630 0 0-124 16 0 62-6 34-5 16 0 8 1 6 3 4 3 9 10 5 4 6 3 12 4 30 5 38 3 44 4 12 0 7-1-1-2-79-20-25-8-14-6-8-6-3-6 1-4 2-2 4-2 6 0 18 4 44 16 12 3 66 17 8 1 7-1-76-32-59-31-12-5-10-3-10-1-6 2-2 2-4 14-6 4-10 3-4 0-6-2-8-4-9-7-19-18-14-16-18-24-13-22-10-20-9-22-14-40-4-14-5-34-3-17-16 0 0-220 16 0 12-19 24-34 50-79 16-21 18-20 24-21 30-22 40-26 44-26 52-28 36-17 36-13 40-12 52-12 54-8 52-6z"/>
<path fill="#001c7b" d="M2771 365l80-2 0 549-110 0-74 10-32 6-68 16-84 27-65 28-31 17-10 1-3 2 5 7 10 10 17 15 242 186 59 45 6 5 44 33 18 13 1 2-1 2-4 0-630 0 0-123 36-2 72-7 18 0 8 1 8 4 13 11 7 5 8 3 12 3 34 5 52 4 32 2 8-1 2-1-2-2-72-19-42-14-9-5-4-6 1-4 2-3 4-1 4-1 8 1 10 3 44 15 14 4 64 16 16 3 3-1-3-2-48-20-30-14-56-29-20-8-10-2-8 1-5 4-3 10-6 6-10 3-4 0-6-2-14-9-20-18-13-16-11-14-13-20-13-22-8-18-9-26-12-38-8-54-5-25-16 0 0-175 16 0 19-34 63-95 20-28 18-21 21-20 25-20 30-21 36-22 48-27 48-24 38-16 38-13 48-12 52-10 52-7z"/>
<path fill="#002482" d="M2788 377l63-1 0 536-110 0-74 10-32 6-68 16-84 27-65 28-31 17-10 1-3 2 5 7 10 10 17 15 242 186 59 45 6 5 44 33 18 13 1 2-1 2-4 0-630 0 0-123 38 0 68-6 18 0 8 1 8 3 16 12 8 4 20 6 36 4 58 5 24 0 6 0 2-2-2-3-72-18-42-15-8-5-4-5 2-4 2-2 8-1 18 4 50 17 70 17 16 2 6 0 1-1-75-32-20-10-46-25-20-7-10-2-8 1-4 3-6 11-4 5-8 3-6 0-4-1-10-5-13-11-14-14-16-20-14-20-13-22-10-22-9-26-11-40-10-68-8-35-16 0 0-130 16 0 25-47 39-60 34-49 26-31 22-21 24-20 30-21 36-23 48-26 48-24 40-16 42-13 50-13 54-9 54-6z"/>
<path fill="#002b89" d="M2811 389l40 0 0 522-110 1-74 10-32 6-68 16-84 27-65 28-31 16-10 2-3 2 5 7 10 11 17 14 241 186 60 45 6 5 44 33 18 13 1 2-1 2-4 0-630 0 0-122 40 0 64-4 18 0 8 1 8 2 18 12 8 4 10 3 14 2 36 5 60 4 20 0 5-1 2-2-1-2-2-1-70-18-41-15-11-6-2-4 2-4 4-1 4 0 20 4 48 16 68 16 18 3 8 1 4-1-4-2-78-34-20-10-42-23-20-8-12-2-8 1-5 4-7 11-4 4-8 3-8-1-8-5-12-10-15-14-11-14-16-22-13-22-10-22-10-28-11-42-12-84-6-28-4-15-16 0 0-86 16 0 29-55 25-40 40-59 16-21 16-18 24-24 26-22 32-22 36-23 48-26 48-22 44-17 44-13 52-12 54-9 58-5z"/>
<path fill="#003290" d="M2769 403l40-1 42-1 0 510-110 1-74 10-32 6-68 16-84 27-65 28-31 16-10 2-3 2 5 7 10 11 17 14 241 186 60 45 6 5 44 33 18 13 1 2-1 1-4 1-630 0 0-121 42 1 60-4 18 0 16 4 20 11 10 4 26 5 38 5 58 3 18 0 4-2 1-2-1-2-2-1-54-14-45-15-15-7-8-5-1-2 0-2 3-2 4 0 16 3 54 16 70 17 24 4 4-1 3-1-82-36-24-12-39-22-20-8-12-2-10 2-6 4-7 10-4 4-7 3-6-1-8-4-8-6-24-24-17-22-13-22-12-24-9-26-8-28-6-24-10-88-5-26-5-20-5-16-16 0 0-40 16 0 2-3 29-59 21-36 36-53 32-42 22-23 24-22 26-20 32-22 44-26 48-24 46-20 44-15 48-12 50-10 52-7z"/>
<path fill="#003a97" d="M2777 415l74-1 0 497-110 1-74 10-32 6-68 16-84 27-65 28-31 16-10 2-3 2 5 7 10 11 17 14 241 186 60 45 6 5 44 33 18 13 1 2-1 1-4 1-630 0 0-120 44 2 56-4 18 1 10 1 8 2 20 10 10 4 26 6 36 3 56 4 18 0 6-1 3-2 1-2-1-2-3-2-54-13-44-15-17-8-6-4-1-2 2-2 4-1 16 3 54 16 70 17 24 3 12 0-89-40-23-12-38-21-18-8-14-2-10 2-5 3-10 12-5 4-6 1-6-1-6-4-10-8-21-22-19-26-15-26-8-18-6-18-6-22-6-24-4-24-10-94-4-26-8-34 0-4 18-42 17-36 19-32 23-36 24-32 21-26 21-22 24-22 28-21 32-22 36-21 38-19 36-16 36-14 36-12 38-9 40-9 40-6 42-4z"/>
<path fill="#00419e" d="M2784 427l67-1 0 485-110 1-74 10-32 6-68 16-84 27-65 28-31 16-10 2-3 2 5 7 10 11 16 14 242 186 60 45 6 5 44 33 18 13 1 2-1 1-4 1-630 0 0-119 16 0 28 2 56-2 18 0 18 4 22 10 10 3 28 5 36 4 56 4 16-1 6-2 1-2 1-2-1-2-3-2-54-13-42-16-16-7-9-6 5-1 22 4 50 15 68 16 24 3 12 1 4-2-4-1-26-11-53-24-29-15-42-24-16-6-12-3-12 1-8 5-14 15-6 1-6-2-16-12-21-22-17-24-14-24-7-18-8-22-6-24-5-26-3-26-7-80-5-50-1-16 2-12 5-14 9-22 10-22 21-38 26-40 23-30 22-26 22-22 24-21 28-21 32-20 36-21 36-18 36-15 34-13 36-11 38-10 40-7 40-6 42-4z"/>
<path fill="#0049a5" d="M2789 439l62-1 0 473-110 1-74 10-32 6-68 16-84 27-65 28-31 16-10 2-3 2 5 7 10 11 16 14 242 186 60 45 6 5 44 33 18 13 1 2-1 1-4 1-630 0 0-118 16 0 16 2 12 1 56-2 20 1 14 3 26 10 14 4 22 4 36 3 62 4 12-2 4-2 2-2 0-2 0-2-4-2-54-14-42-15-20-11 4-1 28 6 42 12 66 15 24 4 18 1 3-1-3-2-6-2-26-11-55-25-29-15-38-22-18-8-14-2-12 2-8 5-13 14-3 1-6-1-16-12-20-22-18-24-13-24-9-20-6-22-6-24-5-26-3-32-6-104 0-30 2-14 4-14 7-18 10-22 21-40 28-42 22-28 22-25 24-23 24-20 28-20 32-21 34-18 36-18 34-14 36-13 36-10 38-9 38-7 40-6 42-4z"/>
<path fill="#0050ac" d="M2790 451l61-1 0 461-110 1-74 10-32 6-68 16-84 26-65 29-31 16-10 2-3 2 5 7 10 11 16 14 242 186 60 45 6 5 44 34 18 12 1 2-1 1-4 1-630 0 0-117 16 0 14 3 14 1 56-2 18 1 16 3 26 10 14 3 22 4 36 3 62 4 12-2 4-2 3-3 0-2-1-2-4-3-52-13-22-7-22-9-14-8 4-1 22 5 42 12 68 15 20 3 20 2 5-2-38-16-51-24-32-16-38-23-16-6-14-3-8 1-6 1-9 6-13 14-2 0-4 0-6-4-10-9-19-19-19-26-13-24-8-20-7-22-5-24-4-28-3-32-2-66 0-40 1-22 2-14 4-16 7-18 8-20 22-40 26-40 22-28 22-24 23-22 25-21 28-19 32-20 34-19 34-16 34-14 36-12 36-11 38-8 38-7 38-5 40-4z"/>
<path fill="#0058b3" d="M2789 463l62-1 0 449-110 1-74 10-32 6-68 16-84 26-66 29-30 16-10 2-3 2 5 7 10 11 16 14 242 186 60 45 5 5 45 34 16 10 3 4-1 1-4 1-630 0 0-116 16 0 14 3 14 2 56-1 18 0 16 3 25 9 15 4 22 3 36 3 44 3 20 1 12-3 4-3 1-2-1-4-4-3-52-13-22-8-22-9-4-3 0-1 2 0 14 2 42 12 70 15 30 4 8 1 8-1-1-2-39-16-58-28-27-14-37-22-16-7-14-2-12 2-10 5-9 8-5 6-2 1-4-1-16-12-16-18-20-26-12-22-8-22-7-22-5-24-4-28-1-32-1-46 1-46 2-28 2-18 4-16 6-18 9-20 10-20 11-20 27-40 20-26 22-23 22-21 26-21 28-20 32-19 32-17 34-16 34-14 36-12 36-10 36-8 36-7 38-5 38-3z"/>
<path fill="#005fba" d="M2784 475l67-1 0 437-110 1-74 10-32 6-68 16-84 26-66 29-30 16-10 2-3 2 5 7 10 11 16 14 242 186 60 45 5 5 45 34 16 10 3 4-1 1-4 1-630 0 0-115 16 0 12 3 14 2 58 0 18 1 16 3 26 8 14 3 52 6 48 3 20 1 12-2 4-2 3-3 1-4-1-2-3-3-54-13-22-8-20-10 4-1 48 13 70 15 36 4 8 0 3-1-1-2-14-5-26-12-60-29-26-14-34-21-16-7-8-2-8 0-14 3-7 3-10 8-4 4-2 4-4 0-17-14-14-16-21-28-11-20-7-20-7-22-4-24-4-28-1-36 0-40 2-38 2-32 3-18 4-18 7-20 7-18 9-20 11-20 13-20 14-20 19-24 24-25 22-20 23-19 29-20 32-19 30-16 32-15 32-13 36-12 36-10 38-9 34-6 36-5 36-3z"/>
<path fill="#0066c1" d="M2777 487l74-1 0 425-110 1-74 10-32 6-68 16-84 26-66 29-30 16-11 2-2 2 5 8 10 10 16 14 307 236 45 34 16 10 3 4-1 1-4 1-630 0 0-114 16 0 12 4 14 2 58 0 18 1 14 2 28 8 16 4 52 5 46 3 20 1 8-1 6-2 4-2 2-3 0-4 0-2-4-3-54-14-24-9-8-4-2-2 2 0 42 10 76 17 32 3 8 0 2-2-2-2-41-18-57-28-28-15-34-21-16-7-14-2-14 2-10 5-13 10-3 5-2 0-16-14-14-15-22-30-10-19-4-11-9-30-4-24-3-28-1-38 1-38 3-34 3-26 3-22 5-20 6-20 7-18 9-20 11-20 11-17 15-21 17-22 26-27 21-19 23-18 24-17 36-22 28-14 30-14 32-13 36-12 38-10 36-9 34-6 36-4 32-3z"/>
<path fill="#006ec8" d="M2774 499l11-1 66 0 0 413-110 1-74 10-32 6-68 16-84 26-66 29-30 16-11 2-3 2 6 8 10 11 16 14 307 235 45 34 16 11 3 3-1 1-4 1-630 0 0-113 16 0 12 5 14 2 56 0 18 1 16 3 32 8 20 3 40 4 60 4 14 0 10-3 6-4 1-2 0-4-1-2-4-3-54-14-22-9-3-2 3-1 3 1 29 7 82 17 26 3 8-1 2-2-2-3-40-17-64-32-24-14-32-20-14-6-14-3-14 2-10 5-16 10-4 4-2-1-13-11-15-16-20-28-8-16-6-15-8-29-5-26 0-16-2-6 0-48 1-6 1-26 1-6 1-14 2-14 4-26 5-28 4-16 8-24 6-14 14-28 14-22 15-22 15-19 35-35 15-13 24-18 19-13 41-24 27-14 22-10 31-12 42-14 64-16 30-6 48-7 18 0 10-2z"/>
<path fill="#0078cc" d="M2780 507l71-1 0 405-110 1-74 10-32 6-68 16-84 26-66 29-30 16-11 2-3 2 6 8 10 11 16 14 307 235 45 34 16 11 3 3-1 1-4 1-630 0 0-112 16 0 10 5 12 2 76 2 16 2 34 8 20 3 40 4 60 4 14-1 10-2 4-2 3-3 1-6-1-2-5-4-54-13-16-7-2-2 4 0 24 6 84 17 26 3 6-1 2-1 1-2-3-3-21-9-21-10-63-32-23-13-32-20-14-7-12-2-12 1-12 4-16 10-6 2-4 0-10-9-9-10-18-24-13-24-7-18-7-28-5-26-2-24-1-38 2-12 0-22 7-50 4-22 7-26 6-20 7-18 10-20 11-18 14-22 14-19 15-17 21-22 18-16 28-22 32-22 28-16 34-17 22-10 40-15 32-11 32-9 36-8 38-6 32-4 30-2z"/>
<path fill="#0081cf" d="M2766 515l31-1 54-1 0 398-110 1-74 10-32 6-68 16-84 26-66 29-30 16-11 2-3 2 6 8 10 11 16 14 307 235 45 34 16 11 3 3-1 1-4 1-630 0 0-111 16 0 10 5 14 3 74 2 16 2 36 8 18 2 40 4 62 4 14-1 10-3 4-3 2-3 1-3-2-4-3-3-4-2-52-13-6-3-3-1 1-1 104 21 24 3 8-2 1-3-1-2-2-1-21-9-20-10-63-32-24-14-32-21-14-6-10-2-12 1-14 5-14 8-6 2-6-1-11-10-11-14-12-18-12-22-7-18-7-26-5-28-2-24-1-40 2-32 4-34 7-38 6-24 8-22 9-18 10-19 14-22 14-19 18-23 20-21 22-21 22-18 27-19 27-17 26-15 32-15 32-13 36-13 34-10 36-9 34-6 34-5 40-4z"/>
<path fill="#008bd3" d="M2792 521l59 0 0 390-110 1-74 10-32 6-68 16-84 26-66 29-30 16-11 2-3 2 6 8 10 11 16 14 336 257 32 23 3 3-3 2-4 0-628 0 0-110 16 0 4 3 6 3 14 2 74 2 16 3 36 7 18 3 40 3 62 4 14-1 10-3 4-2 3-4 0-6-3-4-4-2-24-7-6-1-10-3-6-1-11-4 3-1 78 17 32 5 14 0 4-2 1-3-1-2-2-2-20-8-22-11-67-35-21-12-28-19-14-7-12-2-10 0-14 5-16 9-6 1-6-2-11-9-9-12-11-18-10-20-8-20-6-26-5-26-4-28-1-38 1-30 4-34 4-24 5-18 6-20 8-20 9-19 10-17 14-21 16-21 20-24 22-22 22-21 24-19 26-18 28-17 30-16 30-13 34-13 36-13 34-9 36-8 34-6 34-4 32-3z"/>
<path fill="#0095d7" d="M2769 529l82-1 0 383-110 1-74 10-32 6-68 16-84 26-66 29-30 16-11 2-3 2 6 8 10 11 16 14 336 257 32 23 3 3-3 2-4 0-628 0 0-108 16 0 4 3 6 2 14 3 72 2 18 2 38 7 16 3 40 3 64 3 14 0 10-4 3-2 3-4 0-6-3-4-5-3-20-5-2-1-8-1-2-1-4-1 0-1 6 0 62 13 26 4 12 0 4-2 1-2 1-2-1-2-3-2-23-10-81-42-24-14-30-20-12-7-12-3-12 1-14 5-16 9-4 1-6-2-4-2-13-14-16-28-7-16-5-14-11-40-6-46-2-36 1-28 2-18 6-38 9-33 12-29 16-28 24-33 28-33 26-27 28-25 30-22 32-21 36-19 38-17 42-15 44-14 40-9 42-8 40-4z"/>
<path fill="#009fdb" d="M2803 535l48 0 0 376-110 0-74 11-32 6-68 16-84 26-66 29-30 16-11 2-3 2 16 19 16 14 336 257 32 23 3 3-3 2-4 0-628 0 0-106 16 0 4 3 6 2 14 3 72 2 18 2 54 9 40 3 66 3 12 0 8-2 7-5 3-6-1-4-1-2-6-4-20-6 8 0 42 8 28 4 10 0 4-1 2-3 0-2-1-2-3-2-22-10-84-44-24-14-28-20-14-7-10-2-10 0-16 6-16 10-8-2-8-5-7-8-8-12-8-16-9-20-7-22-6-30-6-30-3-24-1-24 1-30 2-20 3-24 4-20 6-20 7-18 8-16 10-17 12-17 18-23 24-28 24-25 22-20 24-20 26-19 26-16 28-15 30-14 36-14 38-13 36-11 36-8 34-6 34-4 38-2z"/>
<path fill="#00a9de" d="M2771 543l80-1 0 369-110 0-74 11-32 6-68 16-84 26-66 29-30 16-11 2-3 2 16 19 16 14 336 257 2 1 14 11 16 11 3 3-3 2-4 0-628 0 0-104 16 0 10 5 14 2 72 3 70 10 42 3 66 3 10 0 8-2 6-2 4-4 3-6-1-4-2-3-6-4-4-1 2-1 4 0 28 6 28 4 10 0 4-1 1-2 2-4-4-4-43-21-72-39-17-10-27-19-12-7-12-3-12 2-12 4-10 5-6 5-4 1-6-2-4-3-10-11-7-12-7-14-12-32-11-48-7-44-2-30 1-36 6-38 8-32 12-26 15-26 20-25 38-43 30-30 28-25 28-21 31-20 33-17 40-18 44-16 44-14 38-9 40-7 38-4z"/>
<path fill="#00b2e2" d="M2813 549l38 0 0 362-110 0-74 11-32 6-68 16-84 26-66 29-30 16-11 2-3 2 16 19 16 14 336 257 2 1 14 11 16 11 3 3-3 1-4 1-628 0 0-101 16 0 10 4 16 2 76 3 66 9 40 3 70 3 8 0 8-2 6-3 4-4 3-6-1-4-4-4-6-4 38 7 22 3 10-1 3-1 2-4-1-4-3-2-43-21-74-41-16-10-24-17-12-7-12-4-12 1-14 5-11 6-7 5-2 0-6-3-7-6-6-8-6-10-9-20-7-22-6-22-7-36-5-26-3-22-1-20 0-26 3-24 3-20 4-18 5-16 7-16 9-17 10-15 12-15 64-69 23-22 23-20 22-16 24-16 26-15 28-14 38-15 42-15 38-12 36-8 36-7 36-4 52-3z"/>
<path fill="#00bce6" d="M2770 557l81-1 0 355-110 0-74 11-32 6-68 16-84 26-66 29-30 16-11 2-3 2 16 19 16 14 336 257 2 1 14 11 16 11 3 3-3 1-4 1-628 0 0-99 16 0 12 4 14 2 74 2 66 9 42 3 70 3 16-2 5-2 5-3 3-5 2-4-1-4-4-4 2-2 48 9 10 0 4-1 2-2 1-6-3-4-44-22-74-41-15-9-27-20-12-7-12-3-10 1-18 8-9 5-5 4-2 0-6-4-10-11-6-11-5-10-11-34-15-68-5-34-2-22 1-34 5-38 8-28 12-26 16-24 16-17 54-56 28-27 28-24 26-20 26-16 32-17 40-17 48-17 41-13 35-9 40-7 36-4z"/>
<path fill="#00c6e9" d="M2751 565l32-2 68 0 0 348-110 0-74 11-32 6-68 16-84 26-66 29-30 16-11 2-3 2 16 19 16 15 336 256 2 1 14 11 16 11 3 3-3 1-4 1-628 0 0-97 16 0 12 4 14 1 70 3 70 8 40 3 72 3 14-1 10-4 5-4 3-4 1-6-1-4 2-1 48 7 6-1 4-2 2-3 0-4-4-4-24-12-94-52-16-10-26-20-12-7-12-3-10 2-16 7-12 7-4 3-4-1-10-10-10-18-7-18-4-16-17-76-5-32-2-20 0-34 4-30 4-18 4-12 7-18 9-16 12-18 9-10 34-32 50-50 20-18 31-26 31-20 26-15 40-18 56-21 34-11 36-9 36-7 28-4z"/>
<path fill="#00d0ed" d="M2770 571l9-1 72 0 0 341-110 0-74 11-32 6-68 16-84 26-66 29-30 16-11 2-3 2 16 20 16 14 336 256 2 1 14 11 16 11 3 3-3 1-4 0-628 0 0-93 16 0 12 3 14 1 68 2 64 7 46 4 76 3 14-1 10-4 5-5 7-11 2-1 10 0 34 5 6-1 3-2 1-6-1-4-2-2-24-12-95-53-14-9-28-22-12-6-10-3-10 1-10 4-24 13-2 0-2-1-8-8-10-18-10-34-9-46-11-50-2-14-1-10-1-6 0-36 2-6 0-10 2-6 2-16 8-27 8-16 6-11 12-16 10-10 34-29 55-55 26-24 28-22 37-22 33-16 35-14 50-19 38-11 34-8 34-7 8 0 6-2 14 0 6-2 32 0z"/>
<path fill="#00daf1" d="M2768 581l23-1 60 0 0 331-110 0-74 11-32 6-68 16-84 26-67 29-29 16-12 2-2 2 16 20 16 14 336 256 2 1 14 11 16 11 3 3-3 1-4 0-628 0 0-90 16 0 26 3 66 2 70 7 118 6 14-1 10-3 7-5 9-10 5-2 13 0 24 4 6-1 4-2 1-3 0-4-2-4-2-2-24-12-96-54-15-10-26-21-12-7-10-3-10 1-34 17-4 0-7-9-8-12-2-6-9-34-10-56-5-20-5-36-2-18 1-28 5-30 7-22 6-16 10-18 13-17 12-13 44-40 56-54 30-24 32-21 32-17 36-16 52-19 38-12 40-11 36-6 40-5z"/>
<path fill="#00e3f5" d="M2767 591l32-1 52 0 0 320-110 1-74 10-32 6-68 17-84 26-67 29-29 16-12 2-2 2 16 20 16 14 336 256 2 1 14 11 16 11 3 3-3 1-4 0-628 0 0-88 16 0 24 2 68 3 68 6 120 6 14-1 12-3 6-4 10-10 6-2 18 0 22 3 4-2 2-3 0-4-1-4-3-4-24-12-96-55-14-9-28-23-12-7-10-3-8 0-6 2-20 13-10 4-4 0-5-6-10-18-8-28-5-26-13-82-2-28 1-24 5-28 7-24 8-18 10-18 12-16 14-15 97-91 31-24 32-20 30-16 38-16 48-18 40-12 36-9 34-7 34-4z"/>
<path fill="#00edf8" d="M2767 601l84-1 0 310-110 1-74 10-32 6-68 17-84 26-67 29-29 16-12 2-2 2 16 20 16 14 336 256 2 1 14 11 16 11 3 3-3 1-4 0-628 0 0-86 106 4 68 6 124 6 14-1 10-2 7-4 11-10 4-2 6-2 14 0 20 4 4 0 2-1 1-3 0-6-1-4-4-4-24-13-96-55-14-9-28-24-14-8-8-3-8 1-6 3-19 12-9 5-6 0-3-3-12-22-6-26-4-18-8-52-4-36-1-28 1-22 4-26 7-23 8-19 11-18 13-18 15-16 61-58 30-27 30-23 32-20 32-17 36-15 44-17 42-13 36-9 34-6 34-4z"/>
<path fill="#00f7fc" d="M2765 611l86-1 0 300-110 1-74 10-32 6-68 16-84 27-67 29-29 16-12 2-2 2 16 20 16 14 336 256 2 1 14 11 16 11 3 3-3 1-4 0-628 0 0-83 20 0 88 3 50 3 14 2 34 1 14 2 36 0 8 2 34 1 16-1 12-2 6-4 12-11 8-3 10-1 20 4 12 1 0-5-1-6-3-4-4-5-24-12-95-55-15-10-30-26-12-8-8-3-6 1-6 2-16 12-12 7-6 2-2-1-3-4-11-20-7-32-8-60-4-36-1-26 1-22 4-24 7-24 9-20 11-19 14-19 17-18 49-47 34-30 32-24 32-21 32-16 36-16 42-15 42-13 34-9 34-6 34-4z"/>
<path fill="#00fefd" d="M2762 621l35-1 54-1 0 291-90 0-20 1-74 10-32 6-68 16-84 27-67 29-29 16-12 2-2 2 16 20 16 14 336 256 2 1 14 11 16 11 3 3-3 1-4 0-628 0 0-81 58 1 16 1 34 1 14 1 38 2 10 1 36 1 14 2 36 0 8 2 22 0 12 2 24-2 6-1 6-3 10-12 6-3 4-2 8 0 22 4 19 3-10-16-7-7-25-13-95-56-12-8-32-29-14-9-8-2-6 1-4 2-15 13-9 6-10 4-2-1-2-2-11-21 0-6-9-42-6-60-2-38 1-22 4-26 6-22 9-20 12-20 14-20 19-20 41-40 34-30 32-25 32-20 30-16 38-16 42-16 42-13 36-9 34-7 34-4z"/>
<path fill="#00f9f4" d="M2795 631l56 0 0 279-90 0-20 1-74 10-32 6-68 16-84 27-67 29-29 16-12 2-2 2 16 20 16 14 336 256 2 1 14 11 16 11 3 3-1 1-6 0-628 0 0-79 58 0 13 2 37 0 11 2 39 1 10 1 38 1 12 2 38 0 6 2 24 0 8 2 28 0 8-1 5-2 3-2 9-14 5-3 6-2 4 0 40 8 6-1-5-8-17-16-23-12-102-60-8-6-31-29-18-13-6-1-6 1-12 14-12 10-6 3-6 2-2-1-2-2-10-20 0-6-4-16-4-26-5-48-1-52 2-20 5-26 7-21 12-25 20-28 16-18 43-42 23-21 34-27 26-17 28-16 40-18 40-16 44-15 40-11 30-6 28-4 26-2z"/>
<path fill="#00f4eb" d="M2773 643l8-1 70 0 0 268-90 0-20 1-74 10-32 6-68 16-84 27-67 29-29 15-12 3-2 2 16 20 15 14 337 256 2 1 14 11 16 11 2 3 0 1-6 0-628 0 0-78 58 1 10 2 38 0 10 2 42 0 10 2 38 0 8 2 40 0 8 2 24 0 6 2 24 0 10 1 17-1 1-8 2-8 6-6 6-2 4-1 40 9 6 0 1-2 2-6-1-2-14-9-10-7-44-25-82-50-52-47-14-10-3 0-3 2-2 0-4 4 2 4 0 6-3 6-7 8-12 8-6 1-3-1-11-20 0-8-4-26-2-28-2-6 0-16-2-10 0-56 5-28 8-28 8-18 20-30 13-16 24-25 34-33 28-23 26-20 32-20 32-16 42-18 50-18 48-14 28-6 38-6 16-1 8-1z"/>
<path fill="#00efe2" d="M2766 651l27-2 58 0 0 261-90 0-20 1-74 10-32 6-68 16-84 27-67 29-29 15-12 3-3 2 17 20 15 14 337 256 2 1 14 11 16 11 2 3 0 1-6 0-628 0 0-76 56 0 12 2 36 0 12 2 38 0 12 2 38 0 10 2 40 0 8 2 24 0 6 2 24 0 6 1 24 1 6 1 26 0 1 0-17-1-8-2-5-3-2-4 0-4 1-6 3-4 5-3 6-1 36 7 2 1 8 0 2 0 2-4 2-2 6 0-160-96-50-46-16-12-4 0-4 1-6 5-2 4 3 6 0 4-2 4-5 6-7 6-5 3-4 1-4-1-11-19 0-8-4-26-2-28-1-8 0-16-2-10 1-52 3-18 7-28 11-26 14-21 17-21 25-27 36-33 28-23 28-21 30-18 30-15 38-16 42-16 40-12 40-10 32-6 38-4z"/>
<path fill="#00ead9" d="M2801 657l50 0 0 253-92 0-18 1-74 10-32 6-68 16-84 27-67 29-29 15-12 3-3 2 17 21 15 13 337 256 2 1 14 11 16 11 1 1 1 2-6 1-628 0 0-75 56 1 12 1 36 0 12 2 38 0 10 2 38 0 12 2 40 0 8 1 22 1 8 1 22 1 8 1 52 3 42 5 12 0 8 2 14 1 2-2-2-1-12-1-74-9-10-3-4-5 0-7 2-6 3-2 5-2 28 5 14 3 8 1 4-5 2 0 4 0 12 6 3 0-175-106-36-31-15-15-14-10-3-1-6 1-8 8-1 4 2 4 0 4-3 6-5 6-5 4-6 3-4 0-2-1-6-8-5-10 0-8-3-26-4-62 1-50 4-20 6-22 10-24 13-21 20-25 26-27 34-31 32-25 30-21 32-19 34-16 40-16 44-15 44-13 34-7 34-5 30-2zM2601 1275l-1 0 3 2 2 1 2 0 1-1z"/>
<path fill="#00e6d0" d="M2788 665l63-1 0 246-92 0-19 1-73 10-32 6-68 16-84 27-67 29-29 15-12 3-3 2 17 21 15 13 337 256 2 1 14 11 16 11 2 3-6 1-628 0 0-74 54 1 14 1 36 1 12 1 38 0 12 2 36 0 12 2 40 0 8 1 22 1 38 3 22 1 8 1 22 1 62 7 17 0 0-2-3-2-12-1-54-6-22-4-7-3-4-6 1-6 1-4 3-2 4-2 28 5 12 3 10 1 4-4 4 0 16 6 8 5 4 0-185-112-37-32-14-14-14-10-4-2-6 1-6 5-3 6 1 8-1 4-4 6-6 6-5 3-4 1-4-1-2-2-8-15 0-8-3-26-3-64 2-46 3-20 4-14 9-23 13-23 19-24 24-26 32-29 34-27 30-21 32-19 34-17 38-16 42-15 42-12 36-8 34-6 34-3zM2599 1273l0 2 1 2 3 2 6 1 3-1-3-2z"/>
<path fill="#00e1c7" d="M2778 673l73-1 0 238-92 0-19 1-73 10-32 6-68 16-84 27-67 29-29 15-12 3-3 2 17 21 15 13 337 256 2 1 14 11 16 11 2 3-6 1-628 0 0-73 54 1 16 1 32 1 14 1 36 0 14 2 36 0 12 1 38 1 70 5 20 0 10 2 20 0 64 7 14 1 4-1 0-2-1-2-3-1-12-1-54-6-18-3-8-3-5-6 0-6 1-4 2-2 6-2 38 9 10 1 4-4 6 0 24 11 10 5 2 2 1-2-25-16-36-21-134-82-37-31-15-15-14-10-4-1-6 1-8 7-2 4 1 8-1 4-4 6-6 6-4 2-4 2-2-1-4-3-3-4-5-10 0-8-1-6-2-22-1-66 1-24 2-22 5-24 9-22 12-22 17-23 22-24 30-27 36-29 32-23 32-19 32-16 38-16 40-15 40-12 36-9 36-6 36-4zM2599 1272l-1 1 0 2 2 4 9 2 2 0 2-2z"/>
<path fill="#00dcbe" d="M2769 681l38-2 44 0 0 231-92 0-20 1-72 10-32 6-68 16-84 27-67 29-29 15-12 3-3 2 17 21 14 13 338 256 2 1 14 11 16 11 2 3-6 1-628 0 0-72 116 4 36 0 16 2 32 0 14 1 38 0 100 7 20 1 78 8 4-1 4-5 12 0 2-1 0-1-2-2-10-4-5-6-191-117-38-31-24-22-6-4-4-1-6 1-7 6-3 6-1 8-1 4-3 6-6 6-7 3-2 0-4-3-3-4-1-4-4-6-2-34 0-88 2-20 4-19 8-24 11-21 15-21 20-22 30-29 34-28 32-23 34-21 32-17 36-15 38-15 40-12 38-10 36-7 36-5zM2498 1249l3-1 4 0 36 8 10 1 6-3 4 0 24 10 10 5 2 2 0 6-2 2-16 0-54-7-20-4-6-3-4-6 0-6z"/>
<path fill="#00d7b4" d="M2801 687l50-1 0 224-92 0-20 1-72 10-32 6-68 16-84 27-67 29-29 15-12 3-3 2 17 21 14 13 338 256 2 1 14 11 16 11 2 3-8 1-626 0 0-71 70 2 82 2 18 2 44 1 38 0 100 7 20 1 78 8 3-1 7-4 10-1 2-1 1-2-1-1-12-5-4-6-192-118-32-25-30-28-6-4-4-1-6 1-4 3-4 4-2 4-3 14-4 6-5 6-6 2-4-1-2-2-7-13-2-34 2-92 2-20 5-20 9-22 13-21 18-23 24-24 30-27 36-27 34-23 34-19 34-16 38-15 42-14 40-11 36-8 36-6 40-4zM2499 1249l2-1 4 0 36 8 10 1 6-3 4 1 24 9 10 6 1 1 0 4-1 2-2 1-12 0-56-8-18-3-6-3-5-5 0-6z"/>
<path fill="#00d2ab" d="M2785 695l66-1 0 216-92 0-20 1-72 10-32 6-68 16-84 27-67 29-29 15-12 3-3 2 17 21 14 13 338 256 2 1 14 11 16 11 2 3-8 1-626 0 0-70 70 3 80 1 20 2 44 1 38 0 100 7 18 0 80 8 4-1 6-3 12-2 1-3-1-1-12-6-4-6-192-118-32-25-22-21-12-9-4-2-4 0-4 1-4 2-6 7-3 14-6 10-5 4-4 2-4-1-2-2-7-13-2-24 4-100 2-18 3-16 9-22 12-22 17-21 22-23 30-26 34-26 34-23 34-20 34-17 36-14 40-15 38-11 38-9 36-6 38-4zM2499 1249l6-1 36 8 10 2 6-3 4 0 30 13 5 3 0 2-1 3-2 1-10 0-56-7-18-4-8-3-3-4-1-6 0-2z"/>
<path fill="#00cda2" d="M2773 703l38-2 40 0 0 209-92 0-20 1-72 10-32 6-68 16-84 27-68 29-28 15-12 3-3 2 17 21 14 13 338 256 2 1 14 11 16 11 2 3-8 1-626 0 0-69 70 3 80 1 24 2 78 1 100 7 18 0 80 8 22-7 1-3-1-1-12-6-4-6-192-119-31-24-29-27-6-4-4-2-4 0-4 1-4 3-6 7-4 14-6 10-5 4-3 1-4-1-2-1-7-13-1-24 4-58 1-42 2-16 3-14 8-22 12-20 16-21 20-21 28-24 34-26 34-23 34-20 32-16 36-16 38-13 38-12 36-9 36-7 36-5zM2500 1249l5 0 46 9 6-2 4 0 10 3 20 9 5 3 0 2-1 2-4 1-10 0-70-10-8-3-4-4-2-6 1-2z"/>
<path fill="#00c899" d="M2800 709l51-1 0 202-92 0-20 1-72 10-32 6-68 16-84 27-68 29-28 15-12 3-3 2 17 21 14 13 338 256 2 1 14 11 16 11 2 3-8 1-626 0 0-68 70 3 82 1 22 2 80 1 96 6 20 1 80 7 4 0 18-6 2-2 0-2-2-2-12-5-2-5-2-2-192-120-30-22-14-12-16-16-6-4-4-1-4 0-4 1-4 2-7 8-4 14-6 10-3 3-4 2-4-1-2-2-7-12-1-20 5-62 2-44 2-16 4-14 9-21 13-21 19-22 22-20 32-27 34-24 34-21 36-20 34-16 38-15 38-12 38-11 36-7 38-7 38-4zM2501 1249l4 0 46 9 6-2 4 0 10 4 20 8 2 2 2 1 0 2-2 2-4 1-8 0-70-11-8-3-4-5-1-4 0-2z"/>
<path fill="#00c390" d="M2783 717l68-1 0 194-92 0-20 1-72 10-32 6-68 16-84 27-68 29-28 15-12 3-3 2 17 22 14 12 338 257 2 0 14 12 16 10 2 3-2 1-6 0-626 0 0-67 68 3 84 1 22 2 80 1 96 6 20 1 80 7 6-1 16-5 2-3 0-2-2-2-12-5-2-5-2-2-172-108-42-28-22-18-16-17-6-4-4-1-4 0-8 3-5 5-3 4-5 14-5 10-6 4-4-1-2-1-6-12-1-20 6-62 2-42 1-14 3-12 8-20 13-20 16-20 22-21 30-24 36-26 34-22 34-19 34-16 34-13 38-14 38-11 36-8 36-6 36-5zM2502 1249l49 9 6-1 4 0 24 9 10 5 0 1-2 2-4 1-8 0-70-11-7-3-4-4-2-4 1-2z"/>
<path fill="#00be87" d="M2812 723l39 0 0 187-92 0-20 1-72 10-32 6-68 16-84 27-68 29-28 15-12 3-3 2 17 22 13 12 339 257 2 0 14 12 16 10 2 3-2 1-6 0-626 0 0-65 34 0 34 2 84 1 22 2 82 1 92 6 22 0 80 8 14-3 8-3 2-2 1-4-3-2-12-6-1-4-3-3-170-107-44-29-22-18-16-17-6-4-4-1-4 0-8 4-7 7-7 18-5 8-5 4-4-1-2-2-6-11-1-20 8-62 2-44 2-14 4-14 9-19 14-20 18-19 24-21 34-26 36-25 36-21 36-18 36-16 36-13 38-12 38-10 36-7 38-5 40-4zM2499 1251l4-2 38 8 10 2 6-2 4 0 24 9 6 3 3 2-1 2-2 1-8 0-68-10-8-3-4-2-3-4z"/>
<path fill="#00ba7e" d="M2789 731l62-1 0 180-92 0-20 1-72 10-32 6-68 16-84 27-68 29-28 15-12 3-3 2 17 22 13 12 339 257 2 0 14 12 16 10 2 3-2 1-6 0-626 0 0-64 34 0 34 2 84 1 22 2 84 1 50 3 26 1 12 1 24 1 80 7 14-2 9-4 2-2 0-4-3-3-12-5-1-4-3-3-119-75-95-62-22-18-15-16-7-5-4-1-4 0-8 4-8 8-8 20-6 8-4 1-4-2-6-12-1-19 10-62 2-44 4-22 9-20 12-17 16-18 22-19 32-25 36-25 36-21 34-18 34-16 34-13 38-13 36-10 36-8 36-6 36-4zM2500 1251l1-1 4 0 36 7 10 2 6-1 4 0 24 8 6 3 2 2-2 2-2 1-6 0-68-11-8-3-4-2-3-3z"/>
<path fill="#00b575" d="M2818 737l33 0 0 173-92 0-20 1-72 10-32 6-68 16-84 26-68 30-28 15-12 3-4 2 20 24 11 10 339 257 2 0 14 12 16 10 2 3-2 1-6 0-626 0 0-63 36 0 30 2 88 1 20 2 88 0 46 4 26 1 10 1 26 1 8 1 18 1 8 1 16 1 30 3 14-2 10-5 2-2 0-4-4-3-12-5 0-4-2-2-216-138-8-6-14-12-14-16-8-6-4-1-4 0-6 3-4 3-6 7-9 20-4 6-2 2-3 1-4-3-6-12 0-18 11-64 1-34 1-12 5-20 9-18 13-17 18-18 26-22 36-26 36-23 38-21 38-18 36-15 38-14 36-10 36-9 36-7 36-5 38-3zM2500 1251l3-1 2 0 32 6 4 2 10 1 10-1 24 8 6 3 1 2-3 2-6 0-66-11-12-4-4-3z"/>
<path fill="#00b06c" d="M2795 745l56-1 0 166-92 0-20 1-72 10-32 6-68 16-84 26-68 30-28 15-12 3-4 2 2 1 18 23 11 10 339 257 2 0 14 12 16 10 2 3-2 1-6 0-626 0 0-62 36 0 22 2 98 1 16 2 90 0 10 2 26 0 8 2 64 2 8 2 18 1 8 1 38 3 8 1 14-1 10-5 3-4-1-4-2-2-13-6-1-4-2-3-120-76-78-51-18-11-21-17-15-17-8-6-4-1-4 0-6 3-4 3-7 8-13 26-2 2-2 0-4-2-5-12-1-18 13-64 1-36 2-14 3-12 7-16 12-16 14-15 26-22 36-25 34-22 38-22 34-17 36-15 32-12 34-11 38-11 38-8 34-5 34-4zM2500 1251l5-1 32 6 4 2 10 1 10 0 24 8 5 2 1 2-4 1-6 0-64-11-12-4-4-3z"/>
<path fill="#00ac62" d="M2791 753l22-1 38 0 0 158-92 0-20 1-72 10-32 6-68 16-84 26-68 30-28 15-12 3-4 2 2 1 16 21 13 12 339 257 2 0 14 12 16 10 2 3-2 1-6 0-626 0 0-61 36 1 16 1 104 1 16 2 90 0 10 2 26 0 8 2 28 0 8 2 28 0 6 2 20 0 6 2 40 2 8 2 16-2 10-5 2-4-1-4-3-3-12-5-1-4-3-4-119-76-79-52-24-14-14-12-16-18-6-5-4-2-4 0-8 3-5 4-6 6-2 4-11 23-2 2-2 1-3-2-6-12-1-16 15-66 1-36 2-14 4-12 6-14 10-13 14-15 26-21 42-29 33-20 37-21 32-15 36-15 26-10 38-13 38-10 40-9 28-4 32-4zM2501 1251l4-1 46 10 8-1 10 2 16 6 4 2 1 2-3 1-6-1-64-11-12-4-4-3z"/>
<path fill="#00a859" d="M2791 761l14-2 46 0 0 151-92 0-20 1-72 10-32 6-68 16-84 26-68 30-28 15-12 3-4 2 2 1 16 21 13 12 339 257 2 0 14 12 16 10 2 3-2 1-6 0-626 0 0-59 36 0 12 2 108 0 14 2 92 0 8 2 28 0 6 2 30 0 6 1 28 1 8 2 18 0 8 2 40 2 8 1 16 0 12-7 3-4-1-2-6-5-12-5 0-2 1-2-3-3-198-129-24-14-16-13-15-17-7-7-4-1-4 0-8 3-6 5-7 8-13 25-2 1-2-1-6-10-1-17 15-64 2-38 2-14 6-16 8-14 19-20 10-8 17-13 46-30 30-18 55-29 61-25 54-18 30-8 46-10 38-6 18-3 16 0 8-2zM2502 1251l3 0 4 1 8 1 4 1 16 3 4 2 8 0 2 1 8 0 8 1 18 6 3 2 0 2-71-12-12-3-3-3z"/>
<path fill="#00a54f" d="M2805 765l46 0 0 145-92 0-20 1-72 10-32 6-68 16-84 26-68 30-28 15-12 3-4 2 2 1 16 22 12 11 340 257 2 0 14 12 16 10 2 3-2 1-6 0-626 0 0-58 34 0 12 2 108 0 14 2 92 0 10 2 26 0 8 1 28 1 8 1 28 1 6 1 20 1 6 1 42 2 8 2 18-1 20-11-1-2-7-2-6-4-11-4 0-2 3-2-8-6-194-126-25-14-17-14-14-16-8-8-6-2-10 4-8 6-16 21-4 2-2 0-4-3-2-5-1-9 7-25 2-13 8-26 1-36 3-16 7-14 8-14 11-12 36-28 40-26 22-13 30-17 48-24 46-18 34-12 32-10 40-10 28-6 40-6 40-4 26-1zM2503 1251l33 6 3 1 8 1 4 1 8 0 18 5 10 4-2 1-6-1-62-11-12-3-2-2z"/>
<path fill="#00a146" d="M2782 771l31-2 38 0 0 140-92 0-20 2-72 10-32 6-68 16-84 26-68 30-28 15-12 3-4 2 2 1 16 22 12 11 340 257 2 0 14 12 16 10 2 3-8 1-626 0 0-57 32 0 14 2 106 0 16 2 90 0 10 1 64 3 8 1 26 1 8 1 18 1 32 2 18 1 8 1 18 0 4-2 7-2 9-4 2-3-1-3-5-3-4 0-5-3 1-2-4-4-206-134-26-15-18-15-14-15-8-8-4-1-4 0-8 4-8 5-12 15-4 3-4 1-4-1-3-5-1-6 7-24 2-14 7-24 2-36 4-16 6-14 9-14 13-13 20-16 33-23 41-25 34-19 44-21 44-18 34-12 32-10 26-7 34-8 24-4 44-6zM2511 1255l6-1 3 1 1 1 6 0 3 1 1 1 9 1-1 1-2 0zM2542 1261l5-1 12 1 4 1 6 1 2 1 9 3-5 0z"/>
<path fill="#009d3d" d="M2794 775l57-1 0 135-92 0-20 2-72 10-32 6-68 16-84 26-68 30-28 15-12 3-4 2 2 1 16 22 12 11 340 257 2 0 14 12 16 10 2 3-8 1-626 0 0-55 30 0 18 1 100 0 20 2 90 0 10 1 28 1 8 1 28 1 8 1 60 4 42 1 8 2 18 0 4-2 16-3 4-2 1-4-2-4-5-3-6-1-3-2 1-2-2-2-88-57-124-81-24-14-16-13-18-19-6-5-6-2-6 2-12 7-12 14-4 3-4 1-4-2-2-4-1-6 6-22 2-12 8-28 2-32 4-16 9-18 10-13 16-15 24-18 32-21 34-20 36-19 42-20 40-17 36-13 32-9 32-9 36-7 36-6 28-3z"/>
<path fill="#009933" d="M2804 779l47-1 0 131-92 0-20 1-72 11-32 6-68 16-84 26-68 30-28 15-12 3-4 2 2 1 16 22 12 11 340 257 2 0 14 12 16 10 2 3-8 1-626 0 0-54 30 0 18 1 98 1 22 1 88 0 48 3 28 1 42 3 68 2 6 2 20 0 8-2 32 0 3-1-1-2-10-5-9-7-11-4-2-4-2-2-88-56-122-80-26-15-16-13-18-19-6-5-6-2-6 2-12 8-16 15-4 1-4-2-2-4 0-4 6-22 1-12 9-28 2-26 2-12 6-16 11-18 15-15 18-14 32-22 38-23 42-22 42-20 38-16 38-13 34-11 34-8 34-7 36-5 38-4z"/>
<path fill="#00952a" d="M2832 783l19 0 0 126-92 0-20 1-72 11-32 5-68 17-46 14-40 13-66 29-28 15-12 2-4 3 2 1 16 22 12 11 340 257 2 0 14 12 16 11 2 2-8 1-626 0 0-53 50 1 206 2 76 3 42 4 68 2 6 1 22 1 2-1 4-1 34 0 3-2-21-14-8-5-10-7-86-55-122-80-26-16-16-12-18-19-6-5-6-1-7 2-11 7-16 15-4 1-2-1-3-4 0-6 6-20 1-12 9-28 2-28 3-12 8-17 12-16 16-15 26-20 38-23 44-25 44-21 38-17 34-13 38-12 36-10 36-8 36-6 34-4 36-2z"/>
<path fill="#009120" d="M2780 789l71-1 0 121-92 0-20 1-72 10-32 6-68 17-46 14-40 13-66 29-28 15-12 2-4 3 2 1 16 22 12 11 340 257 2 1 14 11 8 5 6 5 3 1 1 2-8 1-626 0 0-52 256 3 94 4 8 2 16 1 68 1 6 2 22 0 6-2 41 0-14-10-115-74-116-76-32-20-16-12-16-17-6-5-6-3-4 1-4 1-12 7-16 14-4 2-2-1-2-3 0-6 5-20 1-12 9-28 4-32 6-16 11-17 14-15 18-14 28-19 36-21 42-23 40-19 34-14 34-13 34-11 34-10 34-7 32-6 34-4z"/>
<path fill="#008d17" d="M2789 793l62-1 0 117-92 0-20 1-72 10-32 6-68 16-46 14-40 14-66 29-28 15-12 2-4 3 2 1 16 22 12 12 340 256 10 7 6 5 8 5 6 5 3 1 0 2-7 1-626 0 0-50 256 2 92 4 10 2 84 2 6 1 22 1 6-2 40 0 2-1-14-10-122-78-110-73-32-20-16-12-16-17-6-5-6-2-4 0-4 1-12 8-17 14-3 1-2-1-1-2-1-4 6-22 0-12 10-28 4-31 6-15 11-16 15-16 20-15 30-20 36-21 42-22 42-19 34-14 36-13 34-11 32-9 34-7 34-5 32-4z"/>
<path fill="#008a0d" d="M2804 797l47 0 0 112-92 0-20 1-72 10-32 6-68 16-46 14-40 14-66 29-28 15-12 2-4 3 2 2 16 22 12 11 340 256 10 7 6 5 8 5 6 5 2 1 1 2-7 1-626 0 0-49 256 2 92 4 10 1 82 2 8 1 22 1 8-2 40 0 0-1-2-2-62-41-67-43-113-75-40-25-12-9-14-16-6-5-6-2-8 2-12 7-18 14-2 1-2-2-1-6 6-20 0-12 9-28 5-30 6-14 11-16 18-18 22-16 34-21 40-22 42-21 42-19 34-13 36-13 34-10 34-8 32-6 34-5 38-3z"/>
<path fill="#008604" d="M2765 803l32-1 54-1 0 108-92 0-20 1-72 10-32 6-68 16-46 14-40 14-66 29-28 15-12 2-4 3 2 2 16 22 12 11 340 256 10 7 6 5 8 5 6 5 2 1 1 2-7 1-626 0 0-48 256 2 90 3 10 2 84 1 8 2 22 0 8-1 41 0 0-2-3-2-56-37-6-5-84-54-96-64-42-26-10-8-14-16-6-5-6-1-8 1-12 7-14 10-4 4-2 1-1-1-1-4 5-22 0-12 10-28 5-30 5-12 9-13 12-12 18-15 26-18 28-16 48-26 48-22 42-18 46-16 42-12 42-10 42-6z"/>
<path fill="#058700" d="M2770 807l81-1 0 103-92 0-20 1-72 10-32 6-68 16-46 14-40 14-66 29-28 15-12 2-4 3 2 2 16 22 12 11 340 256 10 7 6 5 8 5 6 5 2 1 1 2-7 1-626 0 0-46 258 1 88 3 10 2 84 1 30 2 8-2 42 0-1-2-8-6-57-39-68-43-106-71-26-17-22-13-10-8-14-16-6-4-8-2-8 3-23 14-7 6-1-4 5-22 0-6-1-4 1-2 11-34 1-12 3-12 5-10 10-14 12-12 18-14 26-17 28-17 48-25 48-22 40-17 50-17 40-12 46-9 38-6z"/>
<path fill="#0e8b00" d="M2772 811l79-1 0 99-92 0-20 1-72 10-32 6-68 16-46 14-40 14-66 29-28 15-12 2-4 3 2 2 16 22 12 11 340 256 2 1 6 5 2 1 6 5 8 5 6 5 2 1 1 2-7 1-626 0 0-45 258 1 86 2 12 2 84 1 30 2 8-1 42-1-1-2-7-6-57-38-69-45-132-88-10-5-14-9-10-9-10-12-6-5-8-3-8 2-20 12-6 3-6 6 0-5 5-24 0-2-1-4 0-2 12-34 1-12 3-12 5-10 10-12 13-12 16-13 28-18 24-14 52-27 46-21 40-17 52-18 40-11 50-11 46-6z"/>
<path fill="#189000" d="M2772 815l79 0 0 94-92 0-20 1-72 10-32 6-68 16-46 14-40 14-66 28-28 15-12 3-5 3 3 2 16 22 12 11 340 256 2 1 6 5 2 1 6 5 8 5 6 5 2 1 1 2-7 1-626 0 0-44 258 1 84 2 16 2 82 1 30 1 8-1 42 0 1-1-1-2-3-2-61-42-70-46-131-88-11-5-14-9-10-8-10-13-6-5-6-2-8 1-8 4-14 9-8 2-2 2 0-8 4-18-2-5 13-35 1-12 4-12 4-8 10-13 13-11 16-12 29-19 19-11 60-30 43-20 38-16 58-20 36-10 48-10 48-6 22-1z"/>
<path fill="#219500" d="M2770 821l11-1 70 0 0 89-92 0-20 1-72 10-32 6-68 16-46 14-40 14-66 28-28 15-12 3-5 3 3 2 16 22 12 12 340 255 2 1 6 5 2 1 6 5 8 5 6 5 2 1 1 2-7 1-626 0 0-43 258 1 84 1 14 2 82 1 32 1 8-1 42 0 1-1-1-2-2-2-62-42-64-42-128-88-10-6-10-4-16-11-8-6-10-13-6-5-6-2-6 1-8 3-16 10-4 1-4-1-1-3 1-6 3-12 0-2-2-2 1-6 5-12 7-18 0-10 2-8 5-10 5-7 10-9 30-23 26-16 32-18 28-14 70-31 48-19 48-16 38-10 28-6 42-6 20-2z"/>
<path fill="#2a9900" d="M2765 827l22-1 64 0 0 83-92 0-20 1-72 10-32 6-68 16-46 14-40 14-66 28-28 15-12 3-5 3 3 2 16 23 12 11 340 255 2 1 6 5 2 1 6 5 8 5 6 5 2 1 1 2-7 1-626 0 0-42 258 1 84 1 16 1 80 1 32 2 10-1 40 0 1-2-1-2-16-12-112-75-128-88-20-10-16-10-8-7-10-13-6-5-6-2-6 1-8 3-16 10-4 1-2 0-2-3 0-6 4-12 0-4 0-2-2 1 0-3 4-10 2 5 1-3-1-2 0-4 1 2 0 2 1 0 1-4-1-2 0-4 4-12 1-10 2-8 5-10 6-6 26-20 30-19 22-13 38-19 90-41 40-15 42-14 40-11 28-6 42-5z"/>
<path fill="#339e00" d="M2755 833l96-1 0 77-92 0-20 1-72 10-32 6-68 16-46 14-40 14-66 28-28 15-12 3-5 3 3 2 16 23 10 9 342 257 2 1 6 5 2 1 6 5 8 5 6 5 2 1 1 2-7 1-626 0 0-42 260 1 210 5 10-1 40 0 1-2-1-3-16-11-112-76-132-90-14-7-20-13-7-6-7-10-6-5-6-3-8 0-8 4-14 9-6 2-2-1-1-2 0-6 3-10 1-6 3-6 4-12 0-4 0-2 2-2 0-6 1-4 1-10 2-7 6-11 6-5 26-18 40-24 54-28 62-28 46-19 50-18 34-9 36-8 48-7z"/>
<path fill="#3ca300" d="M2754 837l97-1 0 73-92 0-20 1-72 10-34 7-66 15-46 14-40 14-66 28-28 15-12 3-5 3 3 2 16 23 10 9 342 257 2 1 6 5 2 1 6 5 8 5 6 5 2 1 1 2-633 1 0-41 260 1 210 4 8-1 42 0 2-2-2-3-16-12-112-75-128-88-38-22-7-6-7-11-6-6-6-2-8 1-8 3-18 11-2 0-3-2 0-6 4-14 8-20 2-10-1-4 2-4 1-8 2-8 5-10 6-5 18-10 8-6 54-32 54-26 68-30 32-13 50-17 40-12 28-5 46-6 20-1z"/>
<path fill="#45a700" d="M2752 839l7-1 92 0 0 71-92 0-20 1-72 10-34 6-66 16-46 14-40 14-66 28-28 15-12 3-5 3 3 2 16 23 10 10 342 256 2 1 6 5 2 1 6 5 8 5 6 5 2 1 1 2-633 1 0-40 260 1 210 3 10 0 38 0 3-1 1-2-2-3-16-12-112-76-128-88-38-22-6-5-8-12-6-6-6-2-8 1-8 3-18 11-2 0-2-1-1-6 5-14 7-20 3-10-1-4 5-20 5-10 13-9 10-5 6-4 54-33 58-28 68-30 20-7 10-5 46-16 28-8 44-10 10-1 18-3 14-1 4-1z"/>
<path fill="#4eac00" d="M2763 839l88-1 0 71-92 0-20 1-72 10-34 6-66 16-46 14-40 13-66 29-28 15-12 3-5 3 6 6 13 19 10 10 342 256 2 1 6 5 2 1 6 5 8 5 6 5 2 1 1 2-633 1 0-40 260 1 210 4 10-1 38 0 3-1 1-2-2-4-16-11-240-165-40-23-5-5-7-11-6-6-6-2-8 1-8 4-18 11-2 0-2-2 0-5 5-16 7-18 2-8 0-6 5-20 4-8 3-3 10-6 74-44 54-26 68-30 30-12 58-20 40-11 20-4 48-6z"/>
<path fill="#57b100" d="M2751 841l10-1 90-1 0 70-92 0-20 1-72 10-34 6-66 16-46 14-40 13-66 29-28 15-12 3-5 3 6 6 13 19 10 10 342 256 2 1 14 11 8 5 6 5 2 1 1 2-633 1 0-39 260 1 210 3 48-1 4-1 1-2-3-4-64-45-90-61-102-70-40-24-4-4-8-13-6-5-6-2-8 1-8 4-18 11-2 0-2-2 0-4 15-42 0-6 4-18 5-10 5-4 43-26 38-23 54-25 68-30 30-13 48-16 34-10 36-8 48-6z"/>
<path fill="#60b600" d="M2757 841l94-1 0 69-92 0-20 1-72 10-34 6-66 16-46 14-40 13-66 29-28 15-12 3-5 3 6 6 13 20 10 9 342 256 2 1 14 11 8 5 6 5 2 1 1 2-633 0 0-37 260 1 210 2 48 0 4-2 1-2-3-4-16-12-240-165-40-23-4-4-8-14-6-5-6-2-8 1-26 16-2 0-1-2-1-4 15-42 5-24 5-10 5-4 44-27 36-21 54-26 70-30 30-12 46-17 42-11 30-6 30-5z"/>
<path fill="#69ba00" d="M2795 841l56 0 0 68-92 0-20 1-72 10-34 6-66 16-46 14-40 13-66 29-28 15-12 3-5 3 6 6 13 20 10 9 342 256 2 1 14 11 8 5 6 5 2 1 1 2-633 0 0-37 262 1 208 2 48 0 4-1 1-3-2-4-17-12-240-166-40-23-5-5-7-14-6-5-6-1-8 2-26 15-2 0-1-1 0-4 15-42 4-24 3-6 3-4 60-37 38-21 62-29 54-23 36-14 54-18 42-10 42-6 40-3z"/>
<path fill="#72bf00" d="M2754 843l45-1 52-1 0 68-92 0-20 1-40 5-44 7-22 4-66 16-46 14-40 13-66 29-28 15-12 3-5 3 6 6 13 20 10 9 342 256 2 1 14 11 8 5 6 5 2 1 1 2-633 0 0-36 260 1 210 2 48-1 4-1 2-1 0-2-3-4-17-12-239-166-19-12-22-12-4-4-6-12-6-7-6-2-8 1-12 6-16 11-3-1 0-4 15-42 5-24 5-9 4-3 46-28 34-20 42-20 82-37 30-12 46-16 28-8 34-8 42-6z"/>
<path fill="#7bc400" d="M2792 843l7-1 52 0 0 66-92 0-20 2-40 5-66 11-66 16-46 14-40 13-66 29-28 15-12 3-5 3 6 6 13 20 10 9 342 256 2 1 14 11 8 5 6 5 2 1 1 2-633 0 0-35 470 2 52-1 2-2-1-4-19-14-238-166-20-13-22-11-3-4-7-14-6-7-6-2-8 2-28 17-2 0 0-4 15-42 5-24 3-6 3-4 73-44 49-25 90-40 36-13 54-18 42-10 42-7 22-2z"/>
<path fill="#84c800" d="M2798 843l53 0 0 65-92 0-28 2-76 12-58 12-24 6-34 10-58 19-66 29-28 15-12 3-5 3 6 6 13 20 10 10 342 255 2 1 14 11 8 5 8 6 0 2-632 0 0-34 470 1 48 0 5-1 2-2 0-2-3-4-18-13-238-166-20-13-22-11-3-3-7-16-6-7-6-2-6 2-6 3-24 15-2 0 0-3 15-42 5-24 2-4 4-5 74-45 48-24 90-40 36-14 54-18 42-10 42-6 22-2 48-1z"/>
<path fill="#8ecc00" d="M2791 845l8-1 52 0 0 64-92 0-20 2-40 5-66 11-66 16-46 14-39 13-67 29-28 15-12 3-2 1-2 1-2-2-1 1 8 8 13 21 10 9 342 255 2 1 14 11 8 5 8 6 0 2-632 0 0-34 470 1 48 0 6-1 2-2-1-2-3-4-18-13-250-175-8-5-22-10-2-3-8-19-2-3-4-4-6-1-10 4-26 18-2-1 2-7 14-37 5-24 5-8 74-45 50-25 46-21 62-26 50-18 20-6 42-10 42-6 14-1 8-1z"/>
<path fill="#97d100" d="M2795 845l56 0 0 63-92 0-20 2-40 5-66 11-66 16-46 14-39 13-67 29-28 15-12 3-2 1-2 1-2-2-1 1 8 8 13 21 10 9 258 192 54 41 32 23 14 11 8 5 8 6 0 2-632 0 0-33 470 0 48 0 8-1 1-2-1-2-6-6-251-176-23-16-22-10-2-2-9-24-5-5-4-1-6 2-8 5-20 14-4 2 1-7 14-36 5-24 6-8 72-44 52-26 44-20 62-26 50-18 28-8 34-8 22-3 6-1 10-1 6-1 14-1 6-1 50-1z"/>
<path fill="#a0d500" d="M2792 847l7-1 52 0 0 62-92 0-20 2-40 5-66 11-66 16-46 14-39 13-67 29-28 15-12 3-2 1-2 1-2-2-1 1 8 8 13 21 10 9 258 192 100 75 8 5 7 6 1 2-632 0 0-33 470 1 48 0 12-2-8-9-10-7-256-180-9-6-23-11-4-9-6-18-4-6-4-1-4 1-20 10-4 0-2-2-1-4 1-4 8-24 2-16 5-8 5-4 48-30 40-21 78-37 36-15 42-16 34-12 26-8 48-10 24-3 6-1 16-1 6-1z"/>
<path fill="#aad900" d="M2797 847l54 0 0 61-92 0-20 2-40 5-66 11-66 16-46 14-40 13-66 29-28 15-12 3-2 1-2 1-2-2-1 1 8 8 13 21 10 9 258 192 100 75 8 5 7 6 1 2-632 0 0-33 518 1 15-2-11-9-28-20-240-169-13-8-17-7-4-9-5-18-5-8-8 0-12 5-6-1-3-4-1-6 5-16 2-16 5-7 6-5 30-18 16-11 40-21 42-20 72-32 58-22 46-14 46-10 54-6 46-1z"/>
<path fill="#b3dd00" d="M2795 849l10-1 46 0 0 60-92 0-20 2-40 5-66 11-66 16-46 14-40 13-66 29-28 15-12 3-2 1-2 1-2-2-1 1 8 8 13 21 10 9 258 192 100 76 8 4 7 6 1 2-632 0 0-32 518 0 14-1 2-1-40-29-170-120-69-49-17-10-14-6-6-14-2-12-5-8-3-1-6 0-12 3-4-1-2-3-2-4 1-6 5-26 4-6 7-6 45-28 44-23 60-28 50-22 60-22 44-14 46-10 54-6z"/>
<path fill="#bce100" d="M2778 851l27-1 46 0 0 58-92 0-20 1-40 5-66 12-66 16-46 14-40 13-66 29-28 15-12 3-2 1-2 1-2-2-1 1 7 8 14 21 9 9 259 192 98 74 10 6 7 6 1 2-632 0 0-32 537 0-43-31-212-150-26-19-18-10-13-6-4-8-5-19-4-7-4-2-4-1-10 3-4 0-4-2-1-2-1-4 0-4 5-24 5-8 7-6 43-27 42-23 62-28 50-22 28-10 62-21 30-8 20-4 26-4 38-5z"/>
<path fill="#c6e500" d="M2811 851l40 0 0 57-92 0-20 1-40 5-66 12-66 16-46 14-40 13-66 29-28 15-12 3-2 1-2 1-2-2-2 1 8 8 14 22 9 8 259 192 98 74 10 6 7 6 1 2-632 0 0-32 538 0-44-32-212-149-26-19-18-11-12-5-2-1-3-7-5-18-4-9-4-2-4 0-12 2-4-2-2-3-1-6 5-24 2-4 5-6 15-11 32-19 44-24 60-28 50-21 60-22 44-13 48-10 54-6 42-1z"/>
<path fill="#cfea00" d="M2796 853l55-1 0 56-92 0-20 1-40 5-66 12-66 16-46 14-40 13-66 29-29 15-11 3-2 1-2 0-2-1-2 1 8 8 14 22 9 8 259 192 98 74 10 6 7 6 1 2-632 0 0-32 538 1 1-1-13-8-4-4-240-169-25-19-19-11-12-5-2-2-3-6-4-18-5-9-4-3-4 0-12 1-5-3-1-6 4-22 2-5 4-5 16-12 34-21 40-21 40-19 40-17 34-14 42-16 30-10 28-8 50-11 54-6z"/>
<path fill="#d8ee00" d="M2750 855l101-1 0 54-92 0-20 1-40 5-66 12-66 15-46 14-40 14-66 29-29 15-11 3-2 1-2 0-2-1-2 1 8 8 14 22 9 8 259 192 98 74 10 7 7 5 1 2-632 0 0-31 530 0 8 0 1-1-257-182-25-18-19-12-12-5-2-2-3-5-4-18-5-10-4-2-4-1-10 1-4-1-3-3 0-6 4-20 1-3 5-7 10-8 37-23 18-10 52-26 34-15 68-27 38-14 34-11 30-7 32-6 30-5z"/>
<path fill="#e2f200" d="M2739 857l112-2 0 53-92 0-20 1-40 5-66 12-66 15-46 14-40 14-66 29-29 15-11 3-2 1-2 0-2-1-2 1 8 8 14 22 9 8 259 192 98 74 10 7 7 5 0 2-631 0 0-31 530 0 8 1 2-2-14-9-31-23-17-11-220-157-20-12-12-5-4-7-5-18-4-10-3-2-6-2-12 1-4-3 0-6 4-22 6-8 12-9 34-21 18-10 52-26 34-15 68-27 36-13 36-11 32-8 30-6z"/>
<path fill="#ebf600" d="M2799 857l52 0 0 51-92 0-20 1-40 5-66 12-60 14-34 10-58 19-66 29-29 15-11 3-2 1-2 0-2-1-2 1 8 8 14 22 8 8 259 192 99 74 10 7 7 5 0 2-631 0 0-31 530 0 9 1 1-2-14-9-268-191-20-12-12-6-5-8-5-21-4-7-8-4-4 0-8 2-3-2 0-6 3-10 0-8 1-4 5-6 8-8 10-7 30-18 44-22 44-21 46-19 44-17 64-21 34-8 30-6 50-6z"/>
<path fill="#f4fa00" d="M2744 859l107-1 0 50-92 0-20 1-40 5-66 12-60 14-34 10-58 19-66 29-29 15-11 3-2 1-2 0-2-2-2 2 8 8 14 23 8 7 259 192 99 74 10 7 7 5 0 2-631 0 0-31 530 0 10 1 0-2-62-43-220-157-20-13-12-5-5-8-5-23-3-5-3-2-6-3-4 0-8 2-2-1 0-4 3-12-1-8 2-4 5-6 11-10 36-22 68-34 66-29 68-24 48-15 56-12z"/>
<path fill="#feff00" d="M2737 861l14-1 100 0 0 48-94 0-26 2-44 6-54 10-60 14-34 10-58 19-66 29-29 15-11 3-2 1-2 0-2-2-2 2 8 8 14 23 8 7 259 192 35 27 8 5 56 42 10 7 7 5-1 2-630 0 0-31 530 0 10 1 0-2-162-115-119-85-21-13-12-5-4-8-4-17-2-7-2-4-6-5-6-2-4 1-4 2-3 0 0-6 3-10-1-8 1-3 6-7 10-9 34-21 71-36 65-28 50-18 58-18 34-9 30-6z"/>
<path fill="#fff700" d="M2737 863l10-1 104 0 0 46-94 0-26 2-44 6-54 10-60 14-36 10-56 19-66 29-29 15-11 3-2 1-2 0-2-2-2 2 8 8 14 23 8 7 259 192 35 27 8 5 56 43 10 6 7 5-1 2-630 0 0-30 541 0-1-3-162-114-119-85-21-14-12-5-4-7-5-24-3-6-6-4-8-3-4 1-4 2 0-4 4-10-3-8 8-10 5-5 12-9 24-14 76-38 62-26 50-18 58-19 34-8 30-6 30-4z"/>
<path fill="#ffed00" d="M2743 865l108 0 0 43-94 0-26 2-44 6-54 10-60 14-36 10-56 19-66 28-29 16-11 3-2 1-2 0-2-2-2 2 8 8 14 23 8 7 259 192 35 27 8 5 56 43 10 6 6 5 0 2-630 0 0-30 528 0 10 1 3-1 0-2-1-1-162-114-14-11-14-9-90-65-21-14-7-4-6-1-4-7-4-24-2-5-4-5-12-8-1-2 0-6-3-2-2-4 2-3 3-1 2-6 5-5 38-22 58-30 26-12 38-15 54-20 64-20 40-10 20-4 38-6 14-1z"/>
<path fill="#ffe400" d="M2729 871l24-2 98 0 0 39-94 0-26 2-44 6-54 9-60 14-36 11-56 19-66 28-29 16-13 4-2 0-2-2-2 2 8 8 14 24 8 7 259 191 35 27 8 5 56 43 10 6 6 5 0 1-4 1-626 0 0-30 528 0 10 1 4-1-1-2-1-1-162-114-14-11-24-16-80-58-26-17-8-3-4-6-3-18-1-8-1-4-5-6-8-7-2-3-2-6-4-2-1-2 1-1 2-1 2-2 1-4 5-6 31-18 65-33 26-12 36-14 58-21 62-19 52-11z"/>
<path fill="#ffda00" d="M2734 875l17-2 100 0 0 34-94 1-26 2-44 6-54 9-60 14-36 11-56 19-66 28-29 16-13 4-2 0-2-2-2 2 8 8 14 24 8 7 259 191 35 27 8 5 56 43 10 6 6 5-2 2-4 0-624 0 0-30 528 0 10 1 4-1 0-2-12-8-154-109-12-9-16-11-88-63-26-18-6-1-2-1-3-4-1-6-3-16 1-6-2-6-4-5-8-7-5-8-5-4 4 0 1-8 3-4 12-7 46-25 40-19 26-12 36-14 66-23 60-16 50-11 40-6z"/>
<path fill="#ffd100" d="M2740 877l3-1 14 0 94 0 0 31-94 0-26 3-44 6-54 9-60 14-36 11-56 19-66 28-30 16-12 4-2 0-2-2-3 2 9 8 14 24 8 7 280 207 14 11 8 5 48 37 4 2 4 4 10 6 6 5-2 2-628 0 0-29 538 0 5-1-1-2-12-9-154-108-12-10-16-10-88-64-26-17-6-1-2-2-3-5-2-6-1-12 1-8-1-6-4-6-10-9-5-7 0-8 2-4 3-3 80-42 48-22 48-18 56-18 36-10 26-6 66-12z"/>
<path fill="#ffc800" d="M2754 877l97 0 0 30-94 0-26 2-44 7-54 9-60 14-36 11-56 18-66 29-30 16-12 4-2 0-2-2-3 2 9 8 14 24 8 7 280 207 14 11 8 5 40 31 4 2 4 4 4 2 4 4 10 6 6 5-2 1-628 1 0-29 538 0 6-1-14-11-106-75-32-23-16-11-12-9-92-65-12-9-26-18-8-2-3-5-1-6-2-14 2-6-2-9-4-6-10-8-4-5-1-8 2-4 3-3 82-42 46-21 60-22 58-18 48-12 64-12 12 0 6-2 14 0 6-2z"/>
<path fill="#ffbe00" d="M2739 879l4-1 14-1 94 0 0 30-94 0-26 2-44 7-54 9-60 14-36 11-56 18-66 29-30 16-12 4-2 0-2-2-3 2 5 5 2 1 2 3 13 23 9 8 280 206 14 11 7 5 41 31 4 2 4 4 4 2 4 4 10 6 6 5-2 1-628 0 0-28 538 0 7-1-43-31-22-15-6-5-96-67-14-11-14-9-62-45-16-11-12-9-26-18-6-1-2-1-3-5-1-6-1-14 2-6-3-11-4-5-10-8-3-4-2-8 2-4 3-3 84-43 44-20 48-17 56-18 44-12 8-1 10-3 8-1 34-7 8-1 4-1 8-1 4-1 12-1 4-1z"/>
<path fill="#ffb500" d="M2741 879l18-1 92 0 0 29-94 0-26 2-44 6-54 10-62 15-34 10-56 18-66 29-30 16-12 3-2 1-2-2-3 2 7 6 15 26 9 8 280 206 14 11 7 5 41 31 4 2 4 4 4 2 4 4 10 6 5 5-1 1-628 0 0-28 538 1 7-2-43-32-22-14-6-6-48-33-34-25-14-9-14-11-14-9-14-11-62-43-14-11-26-17-6-2-2-1-3-4-2-14 0-6 2-6-1-8-4-7-15-13-1-8 1-4 3-3 84-42 44-20 9-3 39-15 56-18 46-12 70-14 24-3 4-1z"/>
<path fill="#ffab00" d="M2742 879l19-1 90 0 0 29-94 0-26 2-44 6-54 10-62 15-34 10-56 18-66 29-30 16-12 3-2 0-2-1-3 2 5 5 2 1 15 26 9 8 163 120 87 65 8 5 84 63 4 2 4 4 4 2 4 4 10 6 5 5-1 1-628 0 0-28 538 1 6-1 2-1-44-32-22-14-6-6-48-33-34-25-14-9-14-11-14-9-14-11-14-9-34-25-14-9-14-11-14-9-12-9-6-1-2-1-2-4-2-14 0-6 2-6-2-9-4-7-14-12-2-8 0-2 4-4 44-22 4-3 4-1 8-5 12-5 12-7 4-1 40-19 10-3 38-15 58-18 44-12 70-13 30-5z"/>
<path fill="#ffa200" d="M2747 879l104-1 0 29-94 0-26 2-44 6-54 10-62 15-34 10-56 18-66 29-30 16-12 3-2 0-2-2-2 1-1 2 5 5 2 1 15 26 9 8 163 120 87 65 8 5 84 63 4 2 4 4 4 2 4 4 10 6 5 5-1 1-628 0 0-27 546 0 0-2-2-2-36-25-6-5-15-10-13-10-15-10-19-14-14-9-34-25-14-9-14-11-14-9-14-11-14-9-34-25-14-9-14-11-14-9-12-9-6-1-2-2-2-3-2-14 0-6 2-6-2-10-2-4-3-4-12-10-3-6 0-4 4-4 6-3 46-23 8-5 12-5 8-5 22-10 26-12 60-21 46-15 36-9 26-6 64-12z"/>
<path fill="#ff9800" d="M2757 879l94 0 0 28-94 0-26 2-44 6-54 10-74 18-78 25-66 29-30 16-12 3-2 0-2-2-2 1-1 2 7 6 14 26 10 9 163 119 65 49 8 5 14 11 8 5 84 63 4 3 4 3 4 3 4 3 10 7 5 4-1 1-628 0 0-27 547 0-1-2-2-2-36-25-6-5-15-10-13-10-15-10-19-14-14-9-6-5-23-16-5-4-14-9-14-11-14-9-14-11-14-9-34-25-14-9-14-11-14-9-12-9-6-1-2-2-2-3-1-6-1-12 2-8-2-11-4-7-13-10-2-4 0-6 3-4 6-3 46-23 8-5 12-5 30-15 28-12 60-22 44-13 34-9 28-7 64-11z"/>
<path fill="#ff8f00" d="M2738 881l23-2 90 0 0 28-92 0-28 2-32 4-66 12-60 14-70 21-22 8-38 16-32 15-26 14-12 3-2 0-2-2-2 1-1 2 7 6 16 28 8 7 163 119 65 49 8 5 78 59 28 21 4 2 4 4 4 2 4 4 10 6 5 4-1 1-628 0 0-27 548 0-4-4-36-25-6-6-15-9-13-11-15-9-19-15-14-8-6-6-23-15-5-5-14-8-14-12-14-8-14-12-14-8-6-6-23-15-5-5-14-8-14-12-14-8-12-9-6-2-2-1-2-3-1-6 0-12 2-8-3-12-2-4-3-4-11-8-3-4 0-6 3-4 6-3 35-17 19-10 42-20 28-13 58-21 58-17 50-12 64-12z"/>
<path fill="#ff8500" d="M2740 881l21-1 90-1 0 28-92 0-28 2-32 4-66 12-60 14-70 21-24 9-36 15-32 15-27 14-11 3-2 0-2-2-2 1-1 2 7 7 2 3 8 16 5 8 9 7 163 119 65 49 8 5 78 59 28 21 4 2 12 10 10 6 5 4-1 0-628 1 0-27 546 1 2-1-4-5-36-24-6-6-15-9-13-11-15-9-19-15-14-8-6-6-23-15-5-5-14-8-14-12-14-8-14-12-14-8-6-6-23-15-5-5-14-8-14-12-14-8-12-10-6-1-2-2-1-2-1-6-1-12 2-8-3-13-4-7-12-8-3-6 0-4 3-4 4-2 38-18 20-11 42-20 26-11 58-22 46-14 36-9 26-6 64-12z"/>
<path fill="#ff7c00" d="M2742 881l19-1 90 0 0 27-94 0-26 2-32 4-66 12-60 14-70 21-24 9-38 16-30 14-27 14-11 3-2 0-2-2-2 1-2 2 8 7 2 3 13 24 9 7 141 103 13 11 8 5 44 33 8 5 100 75 28 21 4 2 12 10 10 6 4 4-628 1 0-26 548-1-1-2-3-3-36-25-6-5-14-9-14-11-14-9-20-15-14-9-6-5-22-15-6-5-14-9-14-11-14-9-14-11-14-9-6-5-22-15-6-5-14-9-14-11-14-9-12-9-5-1-3-2-2-4-1-14 2-12-3-12-4-6-12-9-3-5 0-4 3-3 4-2 38-19 20-11 42-20 24-10 60-22 46-14 62-16 54-10z"/>
<path fill="#ff7200" d="M2746 881l17-1 88 0 0 27-94 0-26 2-76 11-58 13-24 6-34 10-60 20-64 28-31 16-11 3-2 0-2-2-3 1-1 2 10 10 8 16 5 8 9 8 118 86 14 11 8 5 14 11 8 5 22 17 8 5 14 11 8 5 86 64 14 11 28 21 4 2 12 10 10 6 4 4-628 1 0-26 548 0 1-1-2-2-3-3-36-25-6-5-14-9-14-11-14-9-20-15-14-9-6-5-22-15-6-5-14-9-14-11-14-9-14-11-14-9-20-15-8-5-6-5-14-9-14-11-14-9-6-5-6-4-5-1-3-2-1-2-1-6 0-12 1-8-2-14-4-6-13-9-2-5-1-4 3-3 4-2 39-19 19-11 42-20 24-10 60-22 46-14 62-15 54-10 30-4z"/>
<path fill="#fa6a00" d="M2752 881l99-1 0 27-94 0-26 2-76 11-58 13-24 5-34 10-60 21-64 28-31 16-11 3-2 0-2-2-3 1-1 2 10 10 7 16 5 8 8 7 98 71 14 11 8 5 14 11 8 5 14 11 8 5 22 17 118 87 12 9 10 7 20 15 2 1 12 10 10 6 4 4-628 1 0-26 548 0 1-1-5-5-36-25-6-5-14-9-14-11-14-9-20-15-14-9-6-5-22-15-6-5-14-9-14-11-14-9-14-11-14-9-6-5-22-15-6-5-14-9-14-11-14-9-6-5-6-4-4-1-3-2-2-4-1-12 1-14-3-14-4-6-8-4-4-4-2-4-1-4 3-3 4-2 39-19 19-10 42-20 24-11 66-24 40-12 62-15 67-12z"/>
<path fill="#f46300" d="M2756 881l95 0 0 25-94 1-10 1-16 1-32 4-44 7-58 13-24 5-34 10-60 20-64 28-31 17-11 3-2 0-2-2-3 1-1 2 1 2 7 5 2 4 7 15 5 8 8 7 54 39 14 11 8 5 14 11 8 5 14 11 8 5 14 11 8 5 14 11 8 5 22 17 97 71 11 9 10 7 12 9 10 7 20 15 2 1 12 10 10 6 4 4-628 0 0-25 548 0 1-1-3-4-16-12-22-14-6-6-14-8-14-12-14-8-20-16-14-8-34-26-14-8-14-12-14-8-14-12-14-8-34-26-14-8-14-12-14-8-12-10-7-2-1-2-1-4-1-14 1-10-2-14-4-6-9-5-4-3-2-4 0-4 2-3 4-2 40-19 18-10 42-20 26-12 64-23 40-12 62-15 68-12z"/>
<path fill="#ee5c00" d="M2761 881l90 0 0 25-94 0-10 2-16 0-32 5-44 7-58 12-24 6-34 10-60 20-64 28-31 17-11 3-2-1-2-1-3 1-1 2 1 2 7 6 14 26 8 7 164 120 86 64 33 23 11 9 10 7 12 10 32 22 12 10 10 6 3 4-627 0 0-24 548 0 2-2-4-4-38-27-4-3-16-11-12-9-16-11-18-13-16-11-32-23-16-11-12-9-16-11-12-9-16-11-32-23-16-11-12-9-28-20-7-2-2-4 0-14 1-12-3-16-3-4-12-7-4-6 0-3 2-3 4-2 40-19 18-10 42-20 26-11 64-23 34-11 40-10 48-11 50-8z"/>
<path fill="#e75500" d="M2739 883l22-2 90 0 0 25-94 0-10 2-16 0-32 5-44 7-58 12-24 6-34 10-60 20-64 28-31 17-11 3-4-2-3 1-1 2 0 2 8 6 11 22 5 7 170 124 64 48 10 6 12 10 11 7 11 9 10 7 12 10 10 6 12 10 4 2 24 19 3 1 5 5 3 1 5 5 9 5 4 4-627 0 0-24 548 0 2-2-4-5-38-26-4-4-16-10-12-10-16-10-18-14-16-10-18-14-10-6-4-4-16-10-12-10-16-10-12-10-16-10-4-4-24-16-4-4-16-10-12-10-16-10-10-8-8-3-2-2 0-2-1-14 1-12-2-16-2-3-2-2-12-6-4-7 0-2 2-3 4-2 36-17 24-13 40-19 26-11 58-21 40-13 40-10 28-6 56-11 30-4z"/>
<path fill="#e14d00" d="M2742 883l19-1 90 0 0 24-94 0-10 2-18 0-30 5-44 7-58 12-24 6-34 10-60 20-64 28-32 17-10 3-4-2-3 1-1 2 0 2 8 6 10 22 3 4 3 3 148 108 12 10 10 6 42 32 10 7 12 9 10 7 12 9 10 7 12 10 10 6 4 4 18 12 40 31 3 1 5 5 3 1 5 5 9 5 4 4-627 0 0-24 549 0 2-2-5-5-38-26-4-4-16-10-12-10-16-10-18-14-16-10-18-14-10-6-4-4-16-10-12-10-16-10-12-10-16-10-4-4-24-16-4-4-16-10-12-10-16-10-10-8-8-3-2-4-1-16 1-8-2-20-4-4-8-3-4-3-4-6 0-2 2-2 4-3 37-17 23-13 40-19 26-11 64-23 42-12 60-15 56-10 30-4z"/>
<path fill="#db4600" d="M2748 883l15-1 88 0 0 24-94 0-10 2-18 0-6 2-24 2-44 8-58 12-24 6-34 10-60 20-10 5-28 11-22 11-4 1-32 17-10 3-4-2-3 1-2 2 1 3 7 5 3 4 1 4 9 18 10 9 76 54 12 10 10 7 12 9 10 7 12 9 10 7 12 9 10 7 20 15 32 23 12 10 10 6 12 10 10 6 4 4 18 12 62 47 2 1 6 5 2 1 6 5 8 5 4 4-626 0 0-23 546 0 4-1 1-2-5-6-38-26-4-4-16-10-12-10-16-10-4-3-10-7-4-4-16-10-4-4-10-6-4-4-10-6-4-4-16-10-12-10-16-10-12-10-16-10-4-4-24-16-4-4-16-10-12-10-16-10-4-4-8-5-6-2-2-3 0-4 0-14 1-6-2-20-3-4-10-3-4-3-4-6 0-2 2-2 4-2 16-7 43-23 41-19 26-12 64-23 42-12 60-15 56-10 30-4z"/>
<path fill="#d53f00" d="M2753 883l10-1 88 0 0 24-94 0-10 2-18 0-64 10-32 6-12 3-24 5-24 6-34 10-60 20-10 5-28 11-22 11-4 1-32 17-10 3-4-3-3 2-2 2 1 4 2 2 6 4 6 12 1 4 7 11 18 13 12 10 10 6 12 10 10 6 12 10 10 6 12 10 10 6 14 11 8 5 4 4 18 12 14 11 8 5 22 17 29 21 35 26 9 6 13 11 9 5 13 11 8 5 14 11 8 5 20 16 2 0 14 12 2 0 4 4 2 0 2 2 0 2-624 0 0-23 546 1 4-1 2-3-1-2-5-4-37-26-5-4-15-10-13-10-15-10-19-14-15-10-5-4-23-16-5-4-15-10-13-10-15-10-13-10-15-10-19-14-9-6-5-4-15-10-13-10-15-10-11-8-8-4-1-14 1-14-3-20-1-3-2-1-8-1-4-2-4-4-2-5 2-2 4-2 14-6 45-24 41-19 26-12 64-23 42-12 60-14 70-13 18-2z"/>
<path fill="#cd3a00" d="M2755 883l96-1 0 24-98 0-4 1-20 1-6 2-24 2-66 12-12 3-24 5-38 10-40 12-40 14-10 5-24 9-26 13-4 1-8 4-4 3-20 10-10 2-4-2-2 1-3 3 0 4-1 3-4 0-6-1-4-3-3-5 0-2 1-2 4-2 14-6 36-18 6-4 44-21 26-11 64-23 34-11 40-10 48-10 50-8z"/>
<path fill="#c53500" d="M2757 883l94 0 0 23-98 0-4 1-20 1-6 2-24 2-66 12-62 14-34 10-58 20-64 28-8 4-4 3-20 10-10 2-4-2-2 1-3 3-1 5-2 1-6 0-4-2-5-6 0-2 1-2 4-2 14-6 36-18 6-4 44-21 26-11 64-23 34-10 40-11 48-10 50-8z"/>
<path fill="#bd3100" d="M2737 885l24-2 90 0 0 23-98 0-4 1-20 1-6 2-24 2-66 12-12 3-24 5-40 10-38 12-40 14-64 28-16 9-16 8-10 2-4-2-2 1-3 3-1 3-2 2-4 1-4-1-4-3-2-4-1-2 1-1 5-3 13-6 36-18 7-4 42-20 27-12 58-21 40-12 40-10 28-6 56-11z"/>
<path fill="#b52c00" d="M2746 885l15-2 90 0 0 23-98 0-4 1-20 1-4 1-26 3-4 1-8 1-14 3-8 1-4 1-28 5-12 3-26 5-38 10-38 12-40 14-11 5-23 9-18 9-12 5-16 9-17 8-9 2-4-2-2 1-2 1-3 6-3 1-4 0-4-1-4-6 0-3 5-3 13-5 36-18 7-5 13-5 30-15 27-12 63-23 50-14 52-12 56-10 32-4z"/>
<path fill="#ac2700" d="M2753 885l8-1 90 0 0 22-98 0-4 1-20 1-4 1-26 3-4 1-8 1-14 3-8 1-4 1-28 5-12 3-26 5-38 10-38 12-40 14-11 5-23 9-23 11-7 3-16 9-17 8-9 2-4-2-2 0-2 2-4 6-2 1-4 0-4-2-4-6 0-1 5-4 13-5 36-18 8-5 12-5 30-15 28-12 62-22 34-10 40-11 48-10 50-8 18-2z"/>
<path fill="#a42300" d="M2755 885l8-1 88 0 0 21-94 0-10 2-18 1-4 1-12 1-4 1-22 3-14 3-8 0-5 2-29 5-28 7-8 1-38 10-38 12-40 14-34 14-23 11-7 3-17 9-16 8-9 2-4-2-2 0-3 2-3 5-2 1-4 1-4-2-4-7 6-4 12-5 36-18 8-5 12-5 31-15 27-12 62-22 34-10 40-10 48-10 50-9 12 0 6-2z"/>
<path fill="#9c1e00" d="M2756 885l95-1 0 21-94 0-10 2-18 1-5 1-11 1-4 1-22 3-15 3-7 0-16 4-18 3-11 3-25 5-38 10-38 12-40 13-34 15-23 11-7 2-17 10-17 8-8 2-4-2-2 0-3 2-3 5-2 1-6 0-3-2-2-4-1-2 6-4 12-5 45-23 42-20 28-12 62-22 49-14 72-16 50-8 12-1 6-1 22-1z"/>
<path fill="#941900" d="M2758 885l93 0 0 20-96 0-8 2-18 0-5 2-11 0-5 2-9 0-5 2-9 1-14 3-6 0-6 2-28 5-12 3-6 1-42 10-70 22-22 7-34 14-34 16-9 6-21 10-8 2-4-2-2 0-3 2-5 5-6 1-2-2-3-4 0-2 5-4 12-4 46-24 42-20 22-9 26-10 42-15 50-14 24-6 14-2 14-4 6 0 14-4 8-1 27-5 9 0 6-2 10 0 6-2 22-1z"/>
<path fill="#8c1500" d="M2752 887l11-2 88 0 0 20-96 0-8 2-18 0-6 2-10 0-6 2-8 0-5 2-9 1-14 3-8 0-4 2-28 4-12 4-24 5-38 9-38 12-40 14-34 14-30 14-34 18-8 2-4-3-2 1-3 2-3 3-4 2-4 0-2-1-2-4 0-2 4-3 12-5 46-24 42-19 22-10 26-10 42-14 50-15 72-15 50-9 12 0 6-2z"/>
<path fill="#841000" d="M2755 887l8-1 88 0 0 19-96 0-8 2-18 0-6 2-12 0-4 2-8 0-6 2-8 0-14 4-8 0-68 14-24 6-34 10-58 20-34 14-32 15-12 7-21 10-7 1-4-2-2 1-4 2-2 3-4 2-4 0-3-3-1-4 4-3 12-5 46-23 42-20 22-10 26-10 42-14 50-14 72-16 50-8 12-1 6-1z"/>
<path fill="#7c0c00" d="M2757 887l8-1 86 0 0 19-96 0-8 1-18 1-6 2-26 2-4 2-30 4-68 14-24 6-34 10-58 20-36 15-30 14-12 7-21 10-7 1-4-2-2 1-10 7-4 0-3-3 0-4 3-3 12-5 88-43 22-9 26-10 42-14 50-15 64-14 58-10 12 0 8-2 18 0z"/>
<path fill="#740700" d="M2760 887l91 0 0 18-94 0-10 1-18 1-64 10-32 6-38 8-24 6-34 10-60 21-34 14-30 14-13 7-20 10-7 1-4-2-2 0-8 7-4 1-2-1-3-2 0-4 3-2 20-9 80-39 22-10 26-10 42-14 50-14 64-14 58-10 12-1 8-1 18-1z"/>
<path fill="#6c0200" d="M2752 889l13-2 86 0 0 17-94 0-10 2-18 1-64 9-32 6-36 8-24 6-34 10-60 21-36 15-30 14-13 7-21 10-6 0-4-1-2 0-8 6-4 1-2 0-2-2 0-4 2-2 20-9 80-39 22-10 26-9 42-14 50-15 64-14 58-9 20-3z"/>
<path fill="#6c0202" d="M2756 889l11-1 84 0 0 16-94 0-10 2-18 0-64 10-68 14-24 6-36 11-58 19-34 15-26 12-4 1-36 19-6 0-4-1-4 1-8 6-4 0-2-2 0-4 3-2 19-8 58-29 26-12 44-18 50-16 42-12 64-14 58-10 20-2z"/>
<path fill="#730607" d="M2758 889l93-1 0 16-94 0-10 1-18 1-64 10-70 14-58 16-58 20-10 5-24 9-26 13-4 1-16 9-21 10-5 0-4-1-4 1-8 5-4 1-2-2 0-2 1-2 2-2 19-8 58-29 26-12 44-18 50-16 42-12 64-14 58-9z"/>
<path fill="#7a0a0b" d="M2766 889l85 0 0 15-94 0-10 1-18 1-6 1-24 3-4 1-20 3-2 1-10 1-2 1-20 3-2 1-8 1-28 7-8 1-58 16-58 20-11 5-23 9-27 13-3 1-33 17-5 2-8-2-4 2-8 5-4 0-1-1-1-2 1-2 3-2 20-9 56-28 26-12 44-17 50-17 42-11 66-15 56-9z"/>
<path fill="#820d10" d="M2753 891l14-1 84-1 0 14-96 0-8 2-20 1-4 1-12 1-4 1-10 1-3 1-9 1-14 3-8 1-3 1-19 3-3 1-7 1-3 1-15 3-12 3-6 1-58 16-58 20-34 14-30 13-34 18-6 2-6-2-4 1-8 6-4 0-1-1-1-2 1-2 3-2 20-8 56-28 26-12 44-18 50-16 42-12 66-14 56-9 20-2z"/>
<path fill="#891114" d="M2756 891l11-1 84 0 0 13-96 0-12 2-16 0-6 2-24 2-4 2-8 0-4 2-18 2-68 14-58 16-58 20-44 19-54 27-6 1-6-1-4 1-8 5-4 1-1-1 0-2 1-2 2-1 20-9 58-29 24-11 44-17 50-17 20-6 48-11 40-9 56-9z"/>
<path fill="#901519" d="M2760 891l91 0 0 11-86 0-38 3-28 3-46 8-60 13-44 12-32 10-40 14-42 18-54 27-4 1-10 0-10 6-2 1-3-1 0-2 3-3 20-9 28-14 55-26 43-17 50-16 20-6 48-12 40-8 50-8z"/>
<path fill="#97191e" d="M2749 893l16-2 86 0 0 10-86 0-36 3-56 8-32 6-48 10-44 12-60 20-16 6-46 20-46 23-6 2-6 0-4 1-9 5-3 0-1-2 3-3 20-8 28-15 56-26 42-16 50-17 20-6 48-12 40-8 50-8 24-2z"/>
<path fill="#9f1d22" d="M2754 893l13-1 84 0 0 8-84 1-36 2-58 8-32 6-48 11-46 12-70 24-52 22-44 23-6 1-6 0-6 2-6 4-4 1-1-2 3-2 20-9 28-14 54-26 44-17 50-16 20-6 48-12 40-8 50-8 24-3z"/>
<path fill="#a62027" d="M2756 893l11-1 84 0 0 8-84 0-36 2-58 8-32 6-46 10-48 13-70 24-52 23-44 22-6 2-6 0-6 2-6 4-2 1-2-1 0-1 2-2 8-3 14-6 26-14 54-25 44-18 51-16 19-6 48-12 40-8 50-8z"/>
<path fill="#ad242b" d="M2761 893l90 0 0 6-84 0-34 2-60 8-32 6-44 10-50 13-70 24-52 23-44 22-8 2-6 1-1-1 69-34 42-18 48-17 46-14 48-12 40-8 52-9 22-2 18 0zM2356 1013l3-1 2 1-4 3-2 0-2-1z"/>
<path fill="#b42830" d="M2753 895l12-1 86 0 0 4-84 0-36 2-58 8-32 6-44 10-52 14-70 24-50 22-44 22-8 3-6 0 8-3 16-8 4-3 4-1 4-3 4-1 25-13 9-3 17-9 5-1 6-3 26-10 62-21 62-16 40-8 50-8 14-1 8-1zM2357 1013l3 0-3 2-3 0z"/>
<path fill="#bc2c34" d="M2756 895l95-1 0 2-84 0-10 2-22 0-34 5-48 8-54 11-52 14-74 26-22 10-2 0-1-1 12-6 5-1 1-1 4-2 3 0 6-4 10-3 6-3 4-1 2-1 30-10 6-1 2-1 4-1 14-5 6-1 8-3 22-5 2-1 22-5 2-1 6-1 4-1 18-3 2-1 6-1 4-1 8-1 4-1 20-3 4-1 10-1 4-1 16-1 6-1 22-1zM2438 975l5 0-14 7-3-1zM2404 991l4 0-5 3-2 0zM2396 995l4 0-5 3-2-1zM2381 1003l4 0-4 3-3-1z"/></g>
<path d="M2839 911l-98 0 -74 11 -32 6 -68 16 -84 26 -66 29 -30 16 -11 2 -3 2 16 19 16 14 336 257 32 23 3 3 -1 1 -622 1M2153 1239l4 0 10 3 14 2 70 2 70 9 42 3 72 4 16 -2 10 -6 4 -5 1 -4 0 -4 -4 -4 1 -1 48 8 10 0 6 -3 1 -6 -3 -4 -24 -11 -94 -52 -16 -10 -24 -18 -12 -7 -12 -4 -12 1 -18 8 -9 5 -5 4 -4 -1 -6 -5 -8 -10 -7 -12 -6 -14 -9 -30 -14 -68 -7 -48 0 -36 4 -30 6 -26 8 -24 13 -23 16 -22 90 -91 26 -23 26 -20 26 -17 28 -15 42 -18 50 -19 42 -13 40 -10 38 -7 38 -4 52 -3 56 0" fill="none" stroke="#9a7f8e" stroke-width="2.6" stroke-linejoin="round"/>
<path d="M2839 910l-80 0 -20 1 -84 12 -80 18 -54 16 -40 13 -66 29 -28 15 -12 3 -4 2 18 22 13 12 339 257 32 22 2 3 -8 1 -614 0M2501 1251l4 -1 46 10 9 -1 25 8 4 2 1 2 -3 1 -6 -1 -64 -11 -12 -3 -4 -4 0 -2M2153 1275l26 0 14 2 100 0 20 2 90 1 10 1 26 1 8 1 64 3 8 2 18 0 6 1 40 3 8 1 14 0 11 -6 3 -4 -1 -4 -3 -2 -13 -6 0 -4 -3 -4 -198 -127 -19 -11 -19 -16 -16 -18 -6 -5 -4 -2 -4 0 -8 3 -5 4 -5 6 -15 28 -3 2 -3 -2 -6 -12 -1 -17 14 -65 1 -38 2 -12 5 -15 10 -18 16 -18 22 -19 26 -19 46 -30 38 -22 30 -16 42 -18 30 -11 42 -14 36 -10 42 -9 40 -6 38 -4 40 -2 32 0" fill="none" stroke="#a8414f" stroke-width="3.0" stroke-linejoin="round"/>
<path d="M2839 908l-82 0 -26 2 -76 12 -58 12 -24 6 -34 10 -58 19 -66 29 -28 15 -12 3 -2 1 -2 1 -2 -2 -1 1 8 8 13 21 10 9 358 267 8 5 8 6 0 2 -620 0M2153 1302l458 0 48 0 8 -1 1 -2 -1 -2 -6 -6 -251 -176 -23 -16 -22 -10 -2 -2 -9 -24 -5 -5 -4 -1 -6 2 -32 21 4 -15 11 -28 5 -24 4 -6 4 -4 56 -34 34 -18 54 -26 64 -28 70 -26 52 -14 54 -8 14 -1 8 -1 48 -1 8 -1 42 -1" fill="none" stroke="#000" stroke-width="3.2" stroke-linejoin="round"/>
</g></g>
<g clip-path="url(#cRd)"><rect x="1407.4" y="32.8" width="359.0" height="726.5" fill="#ffffff"/>
<g transform="scale(.5)"><g filter="url(#hb)"><path fill="#f7f7fe" d="M2819 69l710 0 0 1223-46-1-60-3-46-3-70-7-26-1-42 1-100 7-14 0-8-3-3-3-3-4-1-8 2-8 6-10 19-18 60-49 48-41 26-23 20-20 24-29 20-30 1-4-1-2-6-10-8-6-134-46-49-20-42-14-35-10-48-12-40-8-10-1-18-4-22-2-6-2-10 0-6-2-12 0-6-2-14 0-6-2-16 0-6-2-22 0z"/>
<path fill="#f0f0fc" d="M2819 69l710 0 0 1209-48-1-66-6-48-8-64-14-26-3-16 1-20 2-68 11-44 9 0-2 55-40 33-27 56-50 26-27 11-14 9-15 7-13 6-16 5-18 1-10-2-6-4-6-10-8-4-2-131-44-53-22-35-12-40-12-48-12-40-8-10 0-16-4-10 0-18-4-12 0-4-2-32-2-6-1-16-1-6-1-22-1z"/>
<path fill="#eaeafb" d="M2819 69l710 0 0 1196-28 0-28-3-46-7-38-7-22-6-20-7-16-7-28-15-14-5-16 0-12 2-14 4-2-1 7-8 61-56 13-18 10-20 5-16 2-16 1-18-2-18-1-8-4-6-6-6-10-7-46-16-7-3-5-1-7-3-5-1-7-3-5-1-7-3-45-15-51-21-42-14-5-1-15-5-5-1-9-3-15-4-42-10-28-5-2-1-22-2-5-2-9 0-5-2-9 0-6-2-10 0-5-2-13 0-5-2-15 0-6-2-16 0-6-2-22 0z"/>
<path fill="#e3e3fa" d="M2819 69l710 0 0 1184-22 0-16-2-40-7-48-11-24-7-18-8-12-6-9-7-3-6-2-6-1-6 1-6 4-10 15-28 6-14 4-18 0-16-1-10-4-14-12-30-6-10-4-4-4-4-12-8-46-15-6-3-6-1-6-3-6-1-6-3-6-1-6-3-46-15-50-21-42-14-6-1-14-5-30-8-32-8-40-8-10-1-16-3-10-1-4-1-10-1-6-1-10-1-6-1-12-1-4-1-16-1-6-1-16-1-6-1-22 0z"/>
<path fill="#ddddf9" d="M2819 69l710 0 0 1179-22 0-16-3-8-1-72-16-15-5-5-1-16-6-16-8-10-7-3-6 0-6 3-8 5-10 17-28 6-22-1-20-5-15-20-41-6-10-12-12-12-8-134-45-50-21-42-14-50-15-32-7-40-8-10-1-16-3-10-1-20-4-10 0-6-2-32-2-6-2-16 0-6-1-22-1z"/>
<path fill="#d6d6f8" d="M2819 69l710 0 0 1177-20 0-26-4-70-15-26-8-12-5-12-6-10-7-4-6-1-4 1-4 7-16 15-26 6-22 0-22-6-16-20-41-6-10-11-11-12-8-133-45-52-21-42-15-50-14-42-10-30-6-10-1-16-3-30-4-10 0-6-2-32-2-6-2-14 0-8-2-22 0z"/>
<path fill="#d0d0f6" d="M2819 69l710 0 0 1176-20 0-26-4-20-3-50-12-22-6-16-7-11-6-8-6-3-4-2-4 0-8 5-12 16-28 6-24-1-20-4-14-22-44-6-10-10-10-13-8-133-45-52-22-42-14-50-14-42-10-30-6-26-4-46-6-30-2-8-2-14 0-8-2-22 0z"/>
<path fill="#c9c9f5" d="M2819 69l710 0 0 1174-20 0-24-3-22-4-42-9-36-11-16-7-11-8-3-4-2-4 0-8 4-12 16-28 6-24-1-20-5-14-26-51-4-6-8-7-13-8-133-46-52-21-42-14-50-14-42-10-56-10-46-6-38-4-14-1-8-1-22 0z"/>
<path fill="#c3c3f4" d="M2819 69l710 0 0 1173-20 0-24-3-22-4-42-9-28-8-16-6-12-7-7-6-4-8 1-8 4-12 14-24 3-10 4-16-2-20-5-15-26-51-5-6-9-8-10-6-136-47-50-20-42-14-50-15-42-10-30-5-28-5-44-5-38-4-14-1-8-1-22 0z"/>
<path fill="#bcbcf3" d="M2819 69l710 0 0 1171-20 0-24-3-22-3-42-9-28-8-10-3-13-7-10-8-4-8 0-8 4-12 14-24 3-10 3-16-1-18-6-17-26-51-4-6-9-8-11-6-136-47-50-20-42-14-50-15-42-10-30-6-28-4-44-6-38-4-22-2-22 0z"/>
<path fill="#b6b6f2" d="M2819 69l710 0 0 1170-22-1-24-2-22-4-40-8-26-7-12-4-12-7-9-7-4-8-1-8 5-12 12-24 4-14 3-14-2-18-6-16-26-51-4-5-9-8-11-6-136-47-50-21-42-14-50-14-42-10-30-6-27-4-45-6-38-4-22-2-22 0z"/>
<path fill="#afaff1" d="M2819 69l710 0 0 1168-22 0-24-2-24-4-38-7-36-12-12-6-9-7-5-8 0-8 3-10 12-24 4-12 3-16 0-8-1-10-7-18-26-51-4-5-8-8-12-6-134-47-52-21-42-14-50-14-42-10-56-10-46-6-38-4-22-2-22 0z"/>
<path fill="#a8a8ef" d="M2819 69l710 0 0 1167-24-1-24-2-58-10-16-4-20-7-14-7-8-6-5-8 0-4 0-6 4-10 11-22 4-14 3-16-2-16-7-18-26-52-3-4-9-8-12-7-134-46-52-21-42-14-50-15-42-10-56-9-46-6-38-4-22-2-22 0z"/>
<path fill="#a2a2ee" d="M2819 69l710 0 0 1165-26 0-22-2-56-9-18-5-20-7-12-6-8-6-5-8-1-4 0-6 4-10 11-22 3-10 4-18-2-14-2-8-6-14-26-52-3-4-9-8-12-7-134-46-52-21-42-14-50-15-42-10-56-9-46-7-38-3-22-2-22 0z"/>
<path fill="#9b9bed" d="M2819 69l710 0 0 1164-26 0-24-2-54-9-16-4-20-7-12-6-9-6-5-8-1-4 0-6 4-10 10-20 4-12 3-18-1-14-2-8-6-14-22-44-6-10-10-10-15-8-132-45-52-21-42-15-50-14-42-10-56-10-46-6-38-4-22-2-22 0z"/>
<path fill="#9595ec" d="M2819 69l710 0 0 1162-28 0-22-2-54-8-16-4-20-7-12-6-8-6-5-7-1-4 0-6 4-10 10-20 3-12 4-18-2-14-8-22-28-54-10-10-15-8-132-45-52-22-42-14-50-14-42-10-56-10-46-6-38-4-22-2-22 0z"/>
<path fill="#8e8eeb" d="M2819 69l710 0 0 1161-28 0-24-2-52-8-16-4-20-7-12-6-8-6-5-8 0-8 3-8 10-21 4-11 3-18 0-8 0-6-4-10-6-14-28-54-10-10-14-8-133-46-52-21-42-14-50-14-42-10-56-10-46-6-38-4-22-2-22 0z"/>
<path fill="#8888ea" d="M2819 69l710 0 0 1160-30 0-22-2-52-8-16-4-20-7-11-5-8-6-5-8 0-8 3-8 9-20 5-14 3-18-1-12-10-24-27-54-10-10-15-8-133-46-52-21-42-14-50-15-42-10-56-9-46-6-38-4-22-2-22 0z"/>
<path fill="#8181e8" d="M2819 69l710 0 0 1158-30 0-22-1-52-8-14-3-20-7-12-6-8-5-5-8 0-8 3-8 9-20 5-14 3-18-1-12-11-24-20-42-8-14-11-9-13-7-127-44-58-23-42-14-50-15-42-10-56-10-84-9-22-2-22 0z"/>
<path fill="#7b7be7" d="M2819 69l710 0 0 1157-30 0-22-1-52-8-14-3-20-7-12-6-8-6-4-6 0-8 2-8 10-20 5-16 3-16-2-12-10-22-29-58-11-10-12-6-128-44-58-23-42-15-50-14-42-10-56-10-84-9-22-2-22-1z"/>
<path fill="#7474e6" d="M2819 69l710 0 0 1155-32 1-20-2-52-7-14-3-20-7-12-6-7-5-4-6 0-8 2-8 9-17 4-11 4-22-1-12-4-12-36-70-11-10-12-6-128-44-58-24-42-14-50-14-42-10-56-10-84-10-22-2-22 0z"/>
<path fill="#6e6ee5" d="M2819 69l710 0 0 1153-16 0-16 1-6-1-16 0-40-5-18-3-24-8-12-5-8-6-4-6-1-8 3-7 8-16 4-13 5-22-1-12-5-12-3-5-19-39-13-26-12-10-12-6-128-44-58-24-40-13-52-16-42-10-56-9-84-10-22-2-22 0z"/>
<path fill="#6767e4" d="M2819 69l710 0 0 1148-18 0-34 4-42-5-18-3-24-8-12-5-8-6-4-7 0-6 11-22 4-14 5-22-1-12-2-6-7-11-32-65-12-10-12-6-128-45-56-22-26-9-36-12-32-9-42-10-56-9-84-10-22-2-22 0z"/>
<path fill="#6161e2" d="M2819 69l710 0 0 1142-34 1-20 3-10 2-16 0-24-3-20-5-15-6-9-4-8-6-3-6 0-6 11-22 4-14 4-22 0-12-3-6-7-12-3-8-29-56-11-10-13-7-128-44-56-22-25-9-37-12-32-9-42-10-56-10-84-9-22-2-22 0z"/>
<path fill="#5a5ae1" d="M2819 69l710 0 0 1136-56 0-18 3-15 5-13 0-10-2-24-8-12-5-7-5-3-6 0-6 11-22 4-14 4-20-1-14-2-6-8-13-3-7-28-56-12-10-13-7-128-44-56-23-24-8-38-12-32-9-42-10-56-10-48-6-42-4-18-1-20 0z"/>
<path fill="#5454e0" d="M2819 69l710 0 0 1130-22-1-40-3-20 1-19 3-7 3-5 5-3 0-21-6-17-10-2-4 0-6 10-20 5-16 3-20-1-14-1-6-4-4-6-10-31-62-12-10-13-7-128-44-56-23-24-8-38-12-32-9-52-12-46-8-48-6-42-4-18-2-20 0z"/>
<path fill="#4d4ddf" d="M2819 69l710 0 0 1124-24-1-61-13-19-6-12-7-6-7-5-10-12-44-5-14-11-22-3-7-2-3-1 2 0 2 10 20-1 2-29-56-11-10-14-7-128-44-56-23-24-8-38-13-32-9-52-12-46-7-48-6-42-4-18-2-20 0zM3379 1085l1 2 3 6-2 0 0-2-2-2z"/>
<path fill="#4747dc" d="M2819 69l710 0 0 1118-18 0-42-14-22-11-16-10-14-12-9-9-13-17-3-7 0-4-5-12-14-28-4-6-4 2-2-2-14-28-12-10-16-8-126-44-56-22-26-9-36-12-38-10-46-11-46-7-48-6-42-5-18-1-20 0z"/>
<path fill="#4343d6" d="M2819 69l710 0 0 1109-22-1-24-6-30-13-22-14-16-14-16-19-10-22-15-28-5-5-6-2-15-27-13-10-14-6-126-44-56-22-26-10-36-11-38-11-50-11-42-7-48-6-42-4-20-1-18 0z"/>
<path fill="#4040cf" d="M2819 69l710 0 0 1102-24-1-24-6-26-11-12-7-12-8-14-12-13-15-29-50-4-5-6-3-4-4-13-22-11-9-16-8-126-43-56-23-22-7-40-13-36-11-44-10-50-8-48-6-44-4-36-2z"/>
<path fill="#3c3cc9" d="M2819 69l710 0 0 1095-24 0-24-5-26-11-22-14-14-12-12-13-30-48-5-6-9-6-14-22-12-9-16-8-126-44-56-22-22-8-40-13-36-10-44-10-50-8-48-6-44-5-36-1z"/>
<path fill="#3838c2" d="M2819 69l710 0 0 1090-24-1-22-4-24-10-24-14-14-11-12-13-32-47-4-4-10-8-14-20-13-10-15-7-126-44-56-22-22-8-40-13-36-10-52-12-42-7-50-6-42-4-36-1z"/>
<path fill="#3434bb" d="M2819 69l710 0 0 1084-24 0-22-4-24-10-22-13-14-11-12-12-33-44-15-14-13-18-14-10-15-7-124-43-58-24-22-7-40-13-36-11-52-11-42-7-50-6-42-4-36-1z"/>
<path fill="#3030b5" d="M2819 69l710 0 0 1079-24 0-20-4-22-8-22-12-14-10-14-14-33-41-15-14-16-20-16-10-22-9-114-40-58-23-22-8-40-13-44-12-46-10-56-9-76-8-36-1z"/>
<path fill="#2d2dae" d="M2819 69l710 0 0 1075-24-1-20-4-22-8-20-11-14-10-14-12-35-41-15-14-16-18-16-11-24-9-112-39-58-23-22-8-40-13-44-12-44-10-58-9-76-8-36-1z"/>
<path fill="#2929a7" d="M2819 69l710 0 0 1070-24 0-18-4-22-8-22-11-14-10-14-13-33-36-17-15-13-15-7-6-12-7-12-5-28-11-96-32-58-24-40-13-50-16-40-10-20-4-42-6-50-6-44-4-34-1z"/>
<path fill="#2525a1" d="M2819 69l710 0 0 1066-24-1-18-3-20-7-22-12-14-9-14-12-33-34-17-15-16-17-20-12-38-15-96-33-58-23-22-8-68-21-40-10-20-4-42-6-50-7-44-4-34-1z"/>
<path fill="#21219a" d="M2819 69l710 0 0 1061-22 0-18-3-20-7-22-11-14-9-14-11-68-64-20-12-38-15-96-33-56-22-24-9-68-21-40-10-20-4-42-7-50-6-42-4-36-1z"/>
<path fill="#1d1d94" d="M2819 69l710 0 0 1057-22 0-18-3-20-7-22-11-14-9-14-11-67-60-21-13-36-14-98-33-56-23-24-8-68-22-40-10-20-4-42-6-50-6-42-4-36-1z"/>
<path fill="#1a1a8d" d="M2819 69l710 0 0 1054-22-1-16-3-20-6-22-11-16-10-14-10-66-57-22-13-36-14-98-33-56-23-28-10-64-20-40-10-20-4-40-6-52-7-34-2-8-2-36-1z"/>
<path fill="#161686" d="M2819 69l710 0 0 1050-20 0-16-3-22-8-22-10-16-10-14-10-65-53-23-13-36-14-98-34-56-22-28-10-64-21-40-9-20-4-40-7-52-6-34-3-8-1-36-1z"/>
<path fill="#121280" d="M2819 69l710 0 0 1046-20 0-14-2-20-7-24-11-16-9-14-10-66-51-24-14-38-15-96-32-56-23-36-12-56-18-40-10-20-4-40-6-52-6-34-3-8-1-36-1z"/>
<path fill="#0e0e79" d="M2819 69l710 0 0 1043-20 0-12-2-22-8-24-11-16-9-18-12-62-46-24-13-38-15-96-32-56-23-60-21-32-9-32-8-40-8-44-6-10-1-6-1-32-3-6-2-16 0-8-2-36-1z"/>
<path fill="#0b0b72" d="M2819 69l710 0 0 1040-18 0-12-2-22-8-26-12-18-9-18-12-60-42-24-14-36-14-98-33-56-23-58-19-34-11-24-6-48-10-24-3-4-1-12-1-4-1-12-1-4-1-32-2-6-2-16 0-8-2-36-1z"/>
<path fill="#07076c" d="M2819 69l710 0 0 1037-18 0-12-3-30-11-26-12-42-26-46-31-24-13-36-14-97-33-57-23-64-22-26-8-32-8-42-8-24-3-4-1-12-1-4-1-12-1-4-1-12-1-6-1-14-1-6-1-16-1-6-1-18-1-4-1-16 0z"/>
<path fill="#030365" d="M2819 69l710 0 0 1034-16 0-6 0-30-12-33-14-43-25-42-28-28-15-36-14-96-32-58-23-64-22-26-8-40-10-34-7-22-2-6-2-10 0-6-2-10 0-6-2-32-2-6-2-16 0-6-2-16 0-6-1-16 0z"/>
<path fill="#000161" d="M2819 69l710 0 0 1031-20-1-44-17-22-10-42-23-48-30-22-11-36-13-96-33-58-23-64-22-26-8-40-10-34-6-22-3-6-1-10-1-6-1-10-1-6-1-30-3-8-1-16-1-6-1-16-1-6-1-16 0z"/>
<path fill="#000868" d="M2819 69l710 0 0 1024-16 0-8-1-38-13-18-8-24-11-28-16-30-18-14-8-22-10-36-14-108-37-36-14-32-12-68-22-40-10-46-8-86-11-16 0-6-2-16 0-6-1-16 0z"/>
<path fill="#000f6f" d="M2819 69l710 0 0 1019-18 0-8-1-16-5-20-7-18-7-22-10-28-15-45-26-27-12-48-17-92-31-36-15-32-12-68-22-40-10-46-8-42-5-6-1-10-1-6-1-14-1-6-1-18-1-6-1-16-1-6-1-16 0z"/>
<path fill="#001675" d="M2819 69l710 0 0 1014-18 0-10-1-16-4-20-7-36-15-28-14-46-26-26-11-50-18-91-30-41-17-28-10-68-22-40-10-46-8-42-5-6-1-10-1-6-1-14-1-6-1-18-1-6-1-16-1-6-1-16 0z"/>
<path fill="#001d7c" d="M2819 69l710 0 0 1010-18 0-12-1-16-4-20-7-36-15-71-37-27-11-50-18-90-29-42-17-28-10-74-24-32-8-48-9-84-10-16 0-6-2-16 0-8-2-16 0z"/>
<path fill="#002482" d="M2819 69l710 0 0 1006-18 0-12-1-18-4-20-7-34-13-70-36-27-11-23-8-118-39-42-17-28-10-74-23-32-9-48-8-84-10-16-1-30-3-16 0z"/>
<path fill="#002b88" d="M2819 69l710 0 0 1002-20 0-12-1-18-4-20-7-34-13-68-33-26-11-142-46-58-23-86-28-32-8-48-8-84-11-16 0-30-4-16 0z"/>
<path fill="#00328f" d="M2819 69l710 0 0 998-20 0-14-1-18-4-20-6-32-13-64-30-30-12-142-46-58-22-86-28-32-8-46-9-86-10-46-4-16 0z"/>
<path fill="#003995" d="M2819 69l710 0 0 995-20 0-14-2-18-3-20-6-34-13-59-27-30-12-145-46-58-23-86-28-32-8-46-8-86-10-46-4-16 0z"/>
<path fill="#003f9c" d="M2819 69l710 0 0 991-20 0-16-1-18-4-20-6-32-12-60-26-28-11-140-44-64-24-86-28-32-8-46-8-86-11-44-4-18 0z"/>
<path fill="#0046a2" d="M2819 69l710 0 0 988-20 0-16-2-18-3-20-6-32-11-61-26-27-10-120-37-28-9-62-24-54-18-42-12-16-4-34-6-62-8-80-8-18 0z"/>
<path fill="#004da9" d="M2819 69l710 0 0 985-20 0-16-2-20-4-20-5-32-11-56-23-27-10-123-37-28-10-62-23-54-18-42-12-16-4-34-6-62-9-80-8-18 0z"/>
<path fill="#0054af" d="M2819 69l710 0 0 982-22-1-16-1-18-4-22-6-30-10-57-22-25-9-124-37-28-9-55-21-37-13-48-15-26-6-54-11-66-8-64-6-18 0z"/>
<path fill="#005bb6" d="M2819 69l710 0 0 978-22 0-16-1-20-4-22-6-30-10-76-28-136-40-28-9-48-19-36-12-50-16-24-6-54-10-66-9-64-6-18 0z"/>
<path fill="#0062bc" d="M2819 69l710 0 0 975-22 0-16-1-20-4-24-6-28-9-74-26-138-40-28-10-48-18-36-12-26-9-48-13-54-10-50-7-80-8-18 0z"/>
<path fill="#0069c3" d="M2819 69l710 0 0 972-22 0-18-1-20-4-24-6-104-35-134-38-28-9-48-19-36-12-26-8-48-14-52-10-54-7-76-7-20-1z"/>
<path fill="#0070c9" d="M2819 69l710 0 0 969-22 0-18-1-22-4-26-7-100-32-134-37-28-10-48-18-42-14-44-14-24-6-52-10-54-7-76-8-20 0z"/>
<path fill="#0079cc" d="M2819 69l710 0 0 967-24 0-18-2-22-4-26-7-98-30-134-37-26-8-50-20-42-14-44-13-32-8-44-8-68-9-62-6-20-1z"/>
<path fill="#0082d0" d="M2819 69l710 0 0 965-24-1-18-1-24-5-28-7-94-28-132-36-28-9-50-19-42-14-44-13-32-9-44-8-70-9-60-6-20 0z"/>
<path fill="#008bd3" d="M2819 69l710 0 0 962-24 0-18-2-24-4-30-7-92-27-76-20-56-15-26-8-50-20-44-14-44-14-32-8-44-8-70-9-60-6-20 0z"/>
<path fill="#0094d7" d="M2819 69l710 0 0 960-24 0-20-2-26-5-32-8-82-23-80-20-56-16-26-8-50-19-44-15-46-14-30-7-44-8-70-10-60-6-20 0z"/>
<path fill="#009dda" d="M2819 69l710 0 0 958-34-1-38-7-38-9-82-22-72-18-58-16-24-7-46-18-48-16-46-14-30-8-44-8-70-9-60-6-20 0z"/>
<path fill="#00a6dd" d="M2819 69l710 0 0 955-34-1-38-6-190-47-60-16-24-8-46-17-48-16-46-14-30-8-44-8-70-10-60-6-20 0z"/>
<path fill="#00afe1" d="M2819 69l710 0 0 953-34-1-38-6-40-9-150-36-58-16-26-8-46-18-48-16-46-14-30-7-44-9-70-9-60-6-20 0z"/>
<path fill="#00b9e4" d="M2819 69l710 0 0 951-34-1-40-6-42-9-146-35-50-13-28-8-52-20-48-16-46-14-30-8-42-8-72-10-60-5-20-1z"/>
<path fill="#00c2e8" d="M2819 69l710 0 0 949-32-1-42-6-44-10-144-32-50-13-28-9-52-19-48-16-46-14-30-8-54-10-60-8-58-6-22 0z"/>
<path fill="#00cbeb" d="M2819 69l710 0 0 947-32-1-42-6-44-9-144-32-58-15-20-6-50-19-54-18-40-12-32-9-54-9-58-8-60-6-22 0z"/>
<path fill="#00d4ef" d="M2819 69l710 0 0 945-32-1-54-9-56-11-120-26-50-12-28-9-50-18-66-22-60-17-54-10-58-8-52-4-8-2-22 0z"/>
<path fill="#00ddf2" d="M2819 69l710 0 0 942-30 0-56-9-56-10-120-25-58-15-20-6-50-19-66-22-60-16-54-10-58-8-52-5-8-1-22 0z"/>
<path fill="#00e6f5" d="M2819 69l710 0 0 940-30 0-58-9-90-16-84-18-58-14-20-6-18-7-32-12-66-22-60-17-54-10-58-7-32-3-8-2-12 0-8-2-22 0z"/>
<path fill="#00eff9" d="M2819 69l710 0 0 938-28 0-60-9-78-13-96-19-58-15-38-12-32-13-66-22-44-12-26-6-44-8-24-3-18-3-12-1-4-1-32-2-6-2-14 0-6-2-24 0z"/>
<path fill="#00f8fc" d="M2819 69l710 0 0 936-28 0-58-8-80-13-96-19-57-14-20-6-18-6-33-13-66-22-42-12-26-6-44-8-39-5-5-1-11-1-5-1-12-1-6-1-14-1-6-1-14-1-6-1-24-1z"/>
<path fill="#00fefd" d="M2819 69l710 0 0 934-28 0-18-3-10-1-6-2-8 0-6-2-10 0-18-4-10 0-18-4-32-4-96-19-58-13-20-6-18-6-34-14-80-26-44-12-30-6-38-6-10 0-6-2-24-2-6-2-12-1-4-1-14 0-6-2-14 0-8-2-24 0z"/>
<path fill="#00f9f4" d="M2819 69l710 0 0 931-24 0-88-11-52-8-76-14-62-13-36-10-18-6-33-13-36-12-44-14-45-12-54-10-24-3-20-4-10 0-6-2-30-2-6-1-14-1-8-2-24 0z"/>
<path fill="#00f5ec" d="M2819 69l710 0 0 928-24 0-58-7-80-11-78-13-36-7-56-14-24-7-32-13-42-14-52-16-40-10-46-9-24-3-20-3-10-1-6-1-30-3-6-1-14-1-6-1-26 0z"/>
<path fill="#00f0e4" d="M2819 69l710 0 0 925-26 0-56-6-80-11-78-12-36-7-54-13-26-8-32-13-42-14-52-16-40-10-46-8-76-11-12 0-28-4-26 0z"/>
<path fill="#00ecdb" d="M2819 69l710 0 0 922-36-1-88-10-62-8-72-12-50-10-24-6-24-8-32-12-36-12-58-18-40-10-46-9-74-10-42-5-26 0z"/>
<path fill="#00e7d3" d="M2819 69l710 0 0 919-36-1-88-9-84-11-68-11-40-8-20-6-20-6-32-13-36-12-58-18-40-10-44-8-76-11-42-4-26 0z"/>
<path fill="#00e3ca" d="M2819 69l710 0 0 917-40-2-86-8-82-10-68-11-40-8-20-5-18-6-34-13-36-12-58-18-40-10-44-9-76-11-42-4-26 0z"/>
<path fill="#00dec2" d="M2819 69l710 0 0 914-42-1-86-8-82-10-66-10-40-8-20-5-18-5-34-13-36-13-58-18-40-10-44-8-62-9-56-7-26 0z"/>
<path fill="#00daba" d="M2819 69l710 0 0 911-44-1-86-8-82-8-64-10-40-7-20-5-18-6-34-13-36-12-58-18-40-10-44-9-62-9-56-6-26-1z"/>
<path fill="#00d5b1" d="M2819 69l710 0 0 908-46-1-90-7-80-8-60-8-40-8-20-5-18-5-34-13-36-13-58-17-40-11-44-8-62-10-56-6-26 0z"/>
<path fill="#00d1a9" d="M2819 69l710 0 0 906-48-2-98-7-80-8-52-7-38-6-26-7-82-29-58-18-40-10-44-9-62-9-56-7-26 0z"/>
<path fill="#00cca0" d="M2819 69l710 0 0 903-50-1-100-7-80-7-50-7-36-6-26-6-82-29-56-18-42-11-44-8-62-10-56-6-26-1z"/>
<path fill="#00c898" d="M2819 69l710 0 0 900-52-1-100-6-78-7-50-6-36-6-26-6-82-29-58-18-50-12-48-9-62-10-42-4-26 0z"/>
<path fill="#00c390" d="M2819 69l710 0 0 898-60-2-124-7-82-8-44-6-20-4-16-4-76-28-58-18-42-10-44-9-62-10-56-7-26 0z"/>
<path fill="#00bf87" d="M2819 69l710 0 0 895-64-1-130-7-76-7-44-6-32-8-76-27-56-17-44-12-44-9-62-10-54-6-28-1z"/>
<path fill="#00ba7f" d="M2819 69l710 0 0 892-66-1-132-6-72-6-44-6-32-7-76-28-54-16-46-12-44-10-62-10-54-6-28-1z"/>
<path fill="#00b677" d="M2819 69l710 0 0 890-68-1-132-6-70-5-44-6-32-7-76-27-56-17-52-14-48-9-52-9-52-6-28 0z"/>
<path fill="#00b16e" d="M2819 69l710 0 0 887-72-1-132-4-68-5-44-5-32-8-68-25-52-16-62-16-48-10-52-8-52-6-28-1z"/>
<path fill="#00ae65" d="M2819 69l710 0 0 884-88-1-136-4-48-3-44-5-30-7-76-27-54-17-54-14-48-10-54-8-50-6-28-1z"/>
<path fill="#00aa5d" d="M2819 69l710 0 0 881-90 0-136-3-48-3-44-5-32-7-66-25-58-18-62-16-44-9-52-8-50-6-28-1z"/>
<path fill="#00a654" d="M2819 69l710 0 0 878-228-1-46-3-44-4-32-8-66-24-60-19-60-15-42-9-54-9-50-6-28 0z"/>
<path fill="#00a34b" d="M2819 69l710 0 0 876-228-1-46-2-46-4-30-7-62-23-62-20-62-16-42-9-54-9-48-5-30-1z"/>
<path fill="#009f42" d="M2819 69l710 0 0 873-228 1-46-1-46-5-30-7-62-23-62-19-62-16-42-9-54-10-48-5-30-1z"/>
<path fill="#009c3a" d="M2819 69l710 0 0 870-228 3-46-1-46-4-30-7-62-23-64-20-68-18-34-7-54-9-48-6-30-1z"/>
<path fill="#009831" d="M2819 69l710 0 0 867-228 4-46 0-46-4-30-7-62-23-64-20-68-17-34-8-54-9-48-6-30-1z"/>
<path fill="#009528" d="M2819 69l710 0 0 864-38 0-190 6-44 0-48-3-30-7-62-23-64-20-68-18-34-7-54-10-46-6-32-1z"/>
<path fill="#009120" d="M2819 69l710 0 0 861-72 2-156 6-30-1-16 1-12-1-34-2-30-7-62-23-64-20-76-19-26-6-54-10-46-5-32-2z"/>
<path fill="#008d17" d="M2819 69l710 0 0 858-34 1-38 1-156 8-32-1-14 1-12-1-34-2-14-2-16-4-61-23-64-20-77-20-26-6-52-9-48-6-16-2-16 0z"/>
<path fill="#008a0e" d="M2819 69l710 0 0 855-38 1-98 4-60 5-22 0-10 1-34 0-8 2-6-1-8-1-36-1-14-2-16-5-60-22-64-20-76-20-28-6-52-10-40-5-6-1-18-2-16 0z"/>
<path fill="#008606" d="M2819 69l710 0 0 853-40 0-10 1-24 1-10 1-54 2-32 3-18 1-8 1-22 1-8 1-36 0-8 2-6 0-8-2-36-1-14-2-16-4-60-23-64-20-76-20-26-6-54-10-64-8-16 0z"/>
<path fill="#038600" d="M2819 69l710 0 0 849-42 1-10 1-26 1-6 1-26 1-8 1-22 1-8 1-18 1-6 1-19 1-7 2-22 0-8 2-36 0-6 2-6 0-8-2-34 0-16-3-16-4-44-17-28-9-74-23-54-13-26-6-54-10-62-8-18 0z"/>
<path fill="#0b8a00" d="M2819 69l710 0 0 845-42 1-36 2-64 5-32 4-18 1-8 2-22 1-10 2-32 1-8 1-10-1-36-1-6-1-8-1-18-4-43-17-48-16-55-16-54-14-66-14-22-2-6-2-10 0-6-2-10 0-6-2-10 0-6-2-18 0z"/>
<path fill="#148e00" d="M2819 69l710 0 0 841-40 1-36 2-64 6-60 8-22 2-8 2-34 1-8 1-10-1-36 0-6-2-8 0-16-4-44-17-48-16-54-16-54-14-68-14-22-3-6-2-10 0-6-2-10 0-6-2-10 0-6-1-18-1z"/>
<path fill="#1c9300" d="M2819 69l710 0 0 837-42 1-64 5-128 18-30 1-10 2-8-1-34 0-16-3-16-4-44-17-48-16-54-15-54-14-68-15-76-10-18 0z"/>
<path fill="#259700" d="M2819 69l710 0 0 833-42 1-58 5-134 21-30 2-10 1-8-1-34 0-16-2-16-4-44-17-48-16-54-16-54-14-68-14-76-10-18 0z"/>
<path fill="#2d9b00" d="M2819 69l710 0 0 829-42 1-52 5-48 7-61 12-33 5-38 4-42-1-16-3-16-4-44-16-48-16-54-16-54-14-68-15-76-10-18 0z"/>
<path fill="#35a000" d="M2819 69l710 0 0 825-42 0-52 6-48 8-62 14-33 5-37 4-42-1-16-2-16-4-44-17-48-16-54-16-54-14-68-14-75-10-19 0z"/>
<path fill="#3ea400" d="M2819 69l710 0 0 820-42 1-52 6-48 10-62 14-34 6-36 4-42 0-16-2-16-4-44-17-48-16-54-16-54-14-66-14-76-10-20-1z"/>
<path fill="#46a800" d="M2819 69l710 0 0 816-42 1-52 6-48 11-62 16-34 6-36 5-40 0-18-3-16-4-44-16-48-16-54-16-54-14-66-14-76-11-20 0z"/>
<path fill="#4fac00" d="M2819 69l710 0 0 812-42 1-54 7-48 11-60 17-34 7-36 5-40 0-18-2-16-4-50-19-42-14-54-16-54-14-46-10-34-6-62-8-20 0z"/>
<path fill="#57b100" d="M2819 69l710 0 0 807-24 0-20 2-30 3-24 4-50 13-56 18-34 7-36 5-40 1-18-3-16-4-50-18-42-14-76-22-32-8-46-10-34-6-62-8-20-1z"/>
<path fill="#5fb500" d="M2819 69l710 0 0 802-38 2-50 7-34 8-40 12-40 14-30 7-42 7-22 1-18-1-18-2-16-4-50-19-42-13-76-22-32-8-46-11-34-6-62-8-20 0z"/>
<path fill="#68b900" d="M2819 69l710 0 0 798-20 0-18 1-54 8-30 8-42 14-36 13-30 9-44 7-22 1-16 0-20-3-14-3-52-19-40-13-76-22-34-9-46-10-36-6-60-8-20-1z"/>
<path fill="#70be00" d="M2819 69l710 0 0 793-20 0-16 1-58 9-26 8-46 16-34 14-28 8-46 9-22 1-16 0-20-3-14-3-56-21-38-12-74-22-52-12-48-10-28-5-50-6-18 0z"/>
<path fill="#79c200" d="M2819 69l710 0 0 788-20 0-14 1-66 12-14 4-46 17-37 16-21 7-22 6-30 6-28 2-18-1-26-5-62-22-36-12-74-21-58-14-42-9-30-4-48-6-18 0z"/>
<path fill="#81c600" d="M2819 69l710 0 0 783-24 0-52 9-28 5-62 24-30 15-20 7-20 6-20 4-18 4-22 1-20 0-24-5-24-7-40-15-36-12-74-21-58-14-42-9-28-4-48-6-20-1z"/>
<path fill="#89ca00" d="M2819 69l710 0 0 776-26 1-42 9-36 7-8 2-19 9-39 16-26 14-20 8-20 6-20 5-18 3-22 2-20-1-24-4-24-8-40-15-34-11-76-22-56-13-40-9-32-5-48-6-20 0z"/>
<path fill="#92ce00" d="M2819 69l710 0 0 768-22 1-16 2-70 17-24 13-42 18-22 13-18 8-18 6-22 6-20 4-22 2-20-1-24-4-24-8-40-15-34-11-76-22-56-14-40-8-34-5-46-6-20 0z"/>
<path fill="#9bd200" d="M2819 69l710 0 0 760-22 0-16 2-20 4-26 8-30 12-37 20-25 11-19 13-17 8-20 7-22 6-20 4-22 2-20-1-24-4-24-8-40-14-34-11-76-22-56-14-40-8-34-6-46-6-20 0z"/>
<path fill="#a3d600" d="M2819 69l710 0 0 750-22 0-14 2-16 3-20 7-22 8-18 9-36 21-30 15-16 12-17 9-19 7-24 7-22 5-20 2-20-1-24-4-24-8-36-13-38-13-76-22-56-13-38-8-36-6-46-6-20 0z"/>
<path fill="#acda00" d="M2819 69l710 0 0 740-22 0-14 2-16 3-18 6-20 9-20 11-41 27-33 18-3 4-5 4-18 10-20 8-24 7-22 5-20 3-20-1-24-5-24-7-36-14-38-12-68-20-64-16-38-8-34-5-48-6-20-1z"/>
<path fill="#b4de00" d="M2819 69l710 0 0 729-22 0-14 1-16 4-16 6-18 9-18 11-44 32-36 22-8 8-14 9-21 9-27 9-22 5-20 2-20-1-24-4-24-8-36-13-38-12-68-20-64-16-38-8-34-6-48-6-20 0z"/>
<path fill="#bde200" d="M2819 69l710 0 0 716-22 0-14 2-16 4-16 7-14 7-16 11-53 43-33 22-10 9-10 7-21 10-29 10-22 5-20 3-20-1-24-4-66-24-38-12-62-18-64-16-38-8-34-5-48-6-20-1z"/>
<path fill="#c6e500" d="M2819 69l710 0 0 702-22 0-14 2-16 5-16 7-14 8-14 10-14 12-44 42-32 24-9 8-9 6-22 11-28 10-24 6-18 3-20-1-24-5-30-10-30-11-44-14-62-18-64-16-38-8-34-6-48-6-20 0z"/>
<path fill="#cee900" d="M2819 69l710 0 0 686-22 0-16 3-16 5-16 8-16 10-16 15-39 43-15 16-46 37-22 12-29 11-25 7-18 2-20-1-24-4-30-10-30-11-42-14-64-18-64-16-38-8-34-6-48-6-20 0z"/>
<path fill="#d7ed00" d="M2819 69l710 0 0 667-22 0-16 3-16 5-16 8-16 12-16 16-14 18-25 35-16 18-12 12-31 26-9 6-15 8-31 12-23 6-18 3-20-1-24-5-64-22-38-12-64-19-64-16-48-10-24-4-48-6-20 0z"/>
<path fill="#e0f100" d="M2819 69l710 0 0 643-24 1-20 4-20 9-18 12-14 14-12 16-12 18-22 39-14 20-19 20-25 22-8 6-20 11-30 11-20 6-18 3-20-2-24-4-72-25-66-20-28-8-64-16-48-10-24-4-10-1-38-5-20 0z"/>
<path fill="#e8f500" d="M2819 69l207 0 0 16 97 9 74 8 240 34 48 4 44 0 0 540-26 0-10 2-12 4-10 5-10 5-10 8-10 9-14 17-13 21-11 23-17 43-13 22-11 14-13 14-22 20-10 7-17 9-25 10-24 7-18 3-6-1-14 0-24-4-66-24-58-18-42-12-64-16-48-10-24-3-10-1-36-5-22-1z"/>
<path fill="#f1f900" d="M2819 143l46 0 62 4 62 7 64 10 62 13 66 16 62 17 120 36 54 14 30 6 28 4 26 2 28 0 0 356-18 0-10 1-12 3-12 5-12 7-12 8-10 10-10 11-15 24-13 28-9 28-13 56-8 20-10 16-10 12-11 12-22 20-21 12-30 13-20 5-18 4-20-2-24-4-30-10-34-13-58-18-44-12-64-16-46-10-26-4-10 0-36-6-22 0z"/>
<path fill="#fafd00" d="M2819 209l0-2 16 0 50 2 46 5 44 7 38 8 40 11 40 13 42 16 46 20 43 20 41 22 36 22 36 24 30 24 24 22 19 22 11 18 8 18 3 18 0 18-2 14-4 14-25 78-6 24-6 24-6 46-4 74-3 22-5 16-12 20-14 17-22 21-20 12-32 14-6 1-15 5-7 1-4 1-6 1-20-1-4-1-10-1-8-2-31-10-35-13-58-18-42-12-66-16-46-10-22-3-4-1-10-1-20-3-10-1-6-1-22 0z"/>
<path fill="#fffc00" d="M2819 269l0-2 24 0 20 4 46 4 20 4 10 0 28 6 20 6 12 4 28 12 46 23 22 12 44 26 40 26 34 26 20 18 21 23 28 42 17 32 14 34 10 28 20 64 16 64 9 52 1 8 1 8 0 20-5 16-6 12-8 12-8 10-22 22-23 14-27 12-20 6-18 4-20-1-22-4-30-10-30-11-38-12-68-19-48-13-34-8-56-10-24-2-6-2-10 0-6-2-22 0z"/>
<path fill="#fff300" d="M2819 291l0-1 18 0 26 2 40 4 32 5 24 4 24 7 20 7 24 9 32 15 30 16 35 20 31 20 26 18 22 18 19 18 16 18 18 24 15 24 14 28 13 30 15 44 14 46 13 52 7 38 3 22 1 18-1 14-4 14-6 16-9 14-13 16-12 12-13 9-15 9-11 6-14 5-22 6-14 1-16-2-24-6-46-16-56-18-50-14-46-12-35-8-43-8-22-3-6-1-10-1-6-1-10-1-6-1-22 0z"/>
<path fill="#ffea00" d="M2819 311l26 0 28 2 34 3 30 5 24 5 24 6 24 8 24 9 28 13 30 16 30 17 28 18 24 18 20 17 18 17 16 18 18 24 15 24 13 26 12 30 14 40 13 44 12 48 7 38 3 22 0 18-1 16-4 16-7 16-9 14-11 14-13 12-23 16-21 10-12 4-8 1-8 0-16-1-22-5-48-16-56-18-72-20-58-13-32-7-40-6-26-2-6-2-22 0z"/>
<path fill="#ffe200" d="M2819 331l0-1 20 0 28 2 36 3 34 5 24 4 24 6 24 8 22 8 28 13 28 14 26 15 26 17 22 16 22 18 16 16 16 18 17 22 15 24 14 28 12 30 13 38 13 44 11 46 7 38 2 22 0 18-1 16-4 14-6 14-10 16-12 14-13 12-18 13-24 10-14 2-16 0-22-5-78-26-68-19-88-22-32-6-40-6-32-4-22 0z"/>
<path fill="#ffd900" d="M2819 349l22 0 22 1 48 5 36 5 22 4 20 5 22 7 22 8 26 12 28 14 22 13 26 17 18 13 26 22 14 14 14 17 16 21 14 24 13 28 13 32 14 46 12 44 9 40 6 38 2 14 0 18-2 16-3 10-10 20-8 12-12 14-14 12-9 6-19 9-16 3-18-1-16-4-78-25-68-20-88-22-30-6-42-6-32-4-22 0z"/>
<path fill="#ffd000" d="M2819 365l0-1 26 0 96 10 34 7 22 6 22 7 24 10 42 21 18 10 27 18 17 12 18 16 25 26 20 26 16 26 11 22 11 28 16 50 10 38 12 52 8 42 1 22-2 14-3 10-11 22-6 10-22 23-9 7-19 10-14 2-16-1-16-4-76-24-68-19-88-22-30-6-40-6-34-4-22 0z"/>
<path fill="#ffc800" d="M2819 375l0-1 16 0 22 1 48 5 36 4 24 4 20 5 18 6 22 8 24 10 30 15 20 11 24 16 18 14 18 15 16 16 13 15 17 22 14 24 11 22 12 30 13 40 11 40 11 50 6 32 2 18 0 16-2 14-4 12-7 16-7 12-12 14-12 12-20 15-14 2-14-1-16-4-76-24-68-19-88-22-30-6-40-6-34-4-22 0z"/>
<path fill="#ffbf00" d="M2819 385l0-1 42 1 42 4 34 4 24 4 22 5 22 7 22 8 24 11 26 13 22 13 22 14 18 14 18 17 16 16 14 17 15 21 14 24 12 26 11 30 12 36 12 46 8 42 5 32 0 18-1 16-5 16-5 14-9 14-9 12-10 10-18 16-6 3-10 0-10 0-12-3-80-24-68-20-88-21-30-6-40-6-34-4-22 0z"/>
<path fill="#ffb600" d="M2819 395l0-2 40 1 40 3 34 4 26 5 22 5 22 7 22 8 24 10 24 12 22 13 20 14 18 14 18 16 16 16 13 16 15 22 14 24 12 26 11 28 12 36 11 42 8 40 5 30 0 18-1 16-3 16-5 14-8 14-8 12-9 10-19 20-4 1-10 1-20-3-83-25-64-18-89-22-30-6-40-6-34-4-22 0z"/>
<path fill="#ffad00" d="M2819 403l0-1 20 0 28 2 34 2 32 5 24 4 22 5 22 6 22 8 24 11 22 11 20 11 20 14 18 14 16 14 16 16 13 16 15 20 14 24 12 25 11 27 11 34 11 38 8 38 5 32 2 18-1 16-2 16-4 14-7 14-7 12-27 34-2 1-8 2-10-1-12-2-82-24-64-18-90-22-30-6-42-6-32-4-22 0z"/>
<path fill="#ffa500" d="M2819 413l0-2 40 1 36 3 34 4 24 4 22 5 22 6 22 8 22 9 22 11 20 11 18 12 18 14 17 14 15 16 14 16 16 22 13 22 12 24 11 26 10 32 11 38 8 38 6 32 1 18 0 16-2 16-4 14-6 14-7 12-26 34-5 1-8 0-16-3-144-41-90-22-42-8-46-6-18-2-20 0z"/>
<path fill="#ff9c00" d="M2819 421l0-1 40 1 38 3 32 4 44 8 20 6 22 7 22 9 20 10 20 11 19 12 17 13 16 14 15 15 14 16 15 20 14 23 12 25 11 26 10 30 11 38 8 36 5 32 2 18 0 16-1 14-4 14-5 14-7 12-24 35-2 1-8 0-16-3-144-40-90-22-42-8-46-6-18-2-20-1z"/>
<path fill="#ff9300" d="M2819 429l18-1 22 1 42 4 30 4 42 8 40 12 22 9 20 10 18 10 18 11 16 12 16 14 14 14 14 16 15 20 14 22 12 24 11 26 10 30 11 38 8 36 6 32 2 18 0 14-2 14-3 14-5 14-6 12-23 33-6 2-14-2-146-41-90-22-42-8-46-6-18-2-20 0z"/>
<path fill="#ff8b00" d="M2819 437l18 0 20 1 72 7 42 7 22 7 18 6 40 17 34 20 15 11 16 14 17 16 10 12 15 20 15 23 13 25 10 24 9 28 12 40 8 34 7 38 1 16 0 14 0 10-4 14-4 12-7 14-21 32-2 1-6 0-16-3-138-39-90-21-42-8-46-6-18-2-20-1z"/>
<path fill="#ff8200" d="M2819 445l0-1 20 0 6 2 14 0 6 2 18 0 6 2 18 0 6 2 12 0 38 7 30 8 22 8 24 10 30 16 18 12 20 16 28 28 14 18 18 28 14 28 8 18 10 30 8 28 8 32 10 50 2 14 0 22-6 25-10 21-18 26-4 2-16-3-138-38-90-22-42-8-46-6-18-2-20 0z"/>
<path fill="#ff7900" d="M2819 457l0-1 24 0 78 7 36 6 20 5 20 7 40 16 18 10 17 10 27 21 16 15 14 15 15 19 14 22 12 22 10 22 11 30 9 28 8 32 8 38 2 14 2 18-1 12-3 12-3 12-4 10-21 36-3 2-2 0-10-2-138-38-90-21-42-8-46-6-18-2-20-1z"/>
<path fill="#ff7100" d="M2819 467l18 0 22 1 62 6 40 7 36 11 38 17 16 9 16 10 16 11 14 12 14 14 12 13 14 18 14 21 11 20 11 22 10 26 9 28 9 32 7 30 3 18 1 14 0 12-3 14-3 12-4 12-19 36-2 2-2 0-22-5-122-33-90-22-42-8-46-6-18-2-20 0z"/>
<path fill="#fa6a00" d="M2819 477l16-1 24 1 56 6 40 7 38 12 36 15 32 19 28 22 14 13 13 14 14 18 14 20 11 20 11 22 11 26 9 26 9 30 6 26 3 18 1 14 0 14-2 12-3 12-5 12-17 36-5 2-16-4-122-33-90-21-44-8-44-6-20-3-18 0z"/>
<path fill="#f46300" d="M2819 487l0-1 36 0 54 5 40 8 38 11 36 15 32 19 28 22 26 26 14 17 14 20 12 20 10 20 11 24 9 26 9 28 7 26 3 16 1 14 0 14-2 12-3 12-4 12-17 36-4 1-18-3-114-31-92-22-44-8-46-6-18-2-18 0z"/>
<path fill="#ee5c00" d="M2819 495l44 1 48 5 38 7 36 11 34 15 30 18 28 21 26 26 14 17 14 19 12 20 10 20 11 24 10 24 8 26 7 24 4 28 0 14-2 12-3 12-4 12-17 36-4 1-12-2-114-31-92-21-44-8-46-7-18-2-18 0z"/>
<path fill="#e85600" d="M2819 505l0-1 34 0 52 5 38 7 36 11 34 14 30 18 28 21 26 25 14 17 13 19 13 20 11 20 10 22 10 24 9 26 6 22 3 16 1 12 0 12-2 12-3 12-4 12-16 34-5 1-6-1-114-30-92-22-44-8-46-6-18-2-18 0z"/>
<path fill="#e24f00" d="M2819 513l38 0 50 5 34 7 36 11 32 13 30 18 27 20 24 24 14 16 13 18 13 20 12 20 11 23 10 24 9 25 6 22 4 24 0 12-2 12-8 24-17 32-4 1-10-2-104-28-92-21-44-8-46-7-18-2-18 0z"/>
<path fill="#dd4800" d="M2819 523l0-2 28 0 60 6 32 6 34 11 32 13 30 17 27 21 22 22 15 17 12 16 14 21 12 20 12 26 10 23 10 27 5 18 2 12 1 8-1 12-1 10-4 14-5 10-7 14-10 15-2 1-6 0-104-27-92-22-44-8-46-6-18-2-18 0z"/>
<path fill="#d74100" d="M2819 531l0-1 30 0 8 1 16 1 36 4 30 6 38 12 30 14 24 13 26 20 24 24 20 25 18 26 11 17 17 35 7 15 9 26 6 20 2 10 0 22-6 20-4 9-8 14-10 14-2 1-20-4-84-22-92-21-44-8-46-7-18-2-18 0z"/>
<path fill="#d03c00" d="M2819 547l0-1 28 1 50 4 34 7 32 9 30 13 26 14 24 18 24 23 26 30 12 17 10 17 11 20 8 18 7 18 6 18 3 14 1 12 0 12-1 10-6 22-14 30-7 1-7-1-79-20-48-12-44-10-32-6-74-10-20 0z"/>
<path fill="#c93800" d="M2819 567l0-2 22 0 44 3 36 7 34 9 28 12 26 14 24 17 24 23 24 28 20 29 8 16 8 16 10 30 4 24 0 12-1 12-2 12-4 12-12 28-16-2-107-27-44-10-32-6-74-10-20 0z"/>
<path fill="#c23300" d="M2819 583l34 0 36 4 34 6 30 9 26 11 24 14 22 16 22 20 23 26 17 26 14 26 9 28 4 24 0 12-1 12-6 22-12 24-6 0-14-2-38-10-74-17-50-10-72-10-22 0z"/>
<path fill="#ba2f00" d="M2819 601l0-1 24 0 38 3 36 6 30 8 24 10 22 12 20 15 22 19 23 26 17 24 12 24 8 26 4 24 0 12-2 12-3 10-4 10-5 8-6 8-4 2-13-2-25-7-74-17-50-10-72-10-22 0z"/>
<path fill="#b32b00" d="M2819 617l0-2 26 1 62 8 32 7 18 6 18 9 20 13 14 11 23 21 25 29 13 21 8 20 7 28 0 22-1 8-3 12-8 12-11 10-7 0-110-25-8 0-24-6-72-10-22 0z"/>
<path fill="#ab2700" d="M2819 637l0-1 20 0 30 3 34 4 24 5 18 7 16 8 16 11 15 13 19 20 18 24 11 20 8 22 3 20-1 18-3 10-3 8-11 16-8 0-14-2-20-5-7-1-19-5-7-1-11-3-9-1-3-1-7-1-15-4-7 0-5-2-9 0-5-2-11 0-3-1-11-1-5-2-11 0-5-2-22 0z"/>
<path fill="#a42200" d="M2819 659l0-2 30 1 38 3 24 4 14 4 12 5 12 7 12 9 15 17 14 20 13 24 10 24 5 18 1 16-2 14-3 6-4 6-5 3-4 1-12-3-6-1-2-1-6-1-2-1-6-1-2-1-8-1-2-1-6-1-2-1-10-1-2-1-8-1-2-1-8-1-2-1-10-1-2-1-12-1-4-2-12 0-2-1-12-1-4-2-12 0-4-2-22 0z"/></g>
</g></g>
<rect x="1093.8" y="80.4" width="14" height="267" fill="url(#gN)" stroke="#fff" stroke-width="2"/>
<path d="M1108.8 347.4h6.5M1108.8 280.6h6.5M1108.8 213.9h6.5M1108.8 147.1h6.5M1108.8 80.4h6.5" stroke="#fff" stroke-width="2" fill="none"/>
<text x="1122" y="360.6" font-size="25" fill="#fff" stroke="#fff">10</text>
<text x="1151.5" y="342.8" font-size="17" fill="#fff" stroke="#fff">−2</text>
<text x="1122" y="293.8" font-size="25" fill="#fff" stroke="#fff">10</text>
<text x="1151.5" y="276" font-size="17" fill="#fff" stroke="#fff">−1</text>
<text x="1122" y="227.1" font-size="25" fill="#fff" stroke="#fff">10</text>
<text x="1151" y="209.3" font-size="17" fill="#fff" stroke="#fff">0</text>
<text x="1122" y="160.3" font-size="25" fill="#fff" stroke="#fff">10</text>
<text x="1151" y="142.5" font-size="17" fill="#fff" stroke="#fff">1</text>
<text x="1122" y="93.6" font-size="25" fill="#fff" stroke="#fff">10</text>
<text x="1151" y="75.8" font-size="17" fill="#fff" stroke="#fff">2</text>
<g transform="translate(1201.6,267.5) rotate(-90)"><text x="0" y="0" font-size="38" textLength="99" lengthAdjust="spacingAndGlyphs" fill="#fff" stroke="#fff" font-style="italic">n<tspan font-size="27" dy="6">e</tspan><tspan dy="-6">(n</tspan><tspan font-size="27" dy="6">c</tspan><tspan dy="-6">)</tspan></text></g>
<rect x="1727.4" y="80.4" width="13" height="267" fill="url(#gT)" stroke="#000" stroke-width="1.8"/>
<path d="M1718.4 347.4h8M1718.4 271h8M1718.4 194.6h8M1718.4 118.2h8" stroke="#000" stroke-width="2" fill="none"/>
<text x="1714.5" y="356" font-size="24.5" text-anchor="end" stroke="#000">0</text>
<text x="1714.5" y="279.6" font-size="24.5" text-anchor="end" stroke="#000">1</text>
<text x="1714.5" y="203.2" font-size="24.5" text-anchor="end" stroke="#000">2</text>
<text x="1714.5" y="126.8" font-size="24.5" text-anchor="end" stroke="#000">3</text>
<g transform="translate(1686.3,279) rotate(-90)"><text x="0" y="0" font-size="34.5" textLength="127" lengthAdjust="spacingAndGlyphs" font-style="italic" stroke="#000">T<tspan font-size="25" dy="5">e</tspan><tspan dy="-5">(keV)</tspan></text></g>
<path d="M1061.6 749.3H1078.4M1070.4 719.9H1078.4M1070.4 690.4H1078.4M1070.4 661H1078.4M1061.6 631.5H1078.4M1070.4 602.1H1078.4M1070.4 572.7H1078.4M1070.4 543.2H1078.4M1061.6 513.8H1078.4M1070.4 484.4H1078.4M1070.4 454.9H1078.4M1070.4 425.5H1078.4M1061.6 396H1078.4M1070.4 366.6H1078.4M1070.4 337.2H1078.4M1070.4 307.7H1078.4M1061.6 278.3H1078.4M1070.4 248.9H1078.4M1070.4 219.4H1078.4M1070.4 190H1078.4M1061.6 160.5H1078.4M1070.4 131.1H1078.4M1070.4 101.7H1078.4M1070.4 72.2H1078.4M1061.6 42.8H1078.4M1078.4 749.3V757.3M1112.3 749.3V757.3M1146.2 749.3V766.9M1180.1 749.3V757.3M1214 749.3V757.3M1247.9 749.3V757.3M1281.8 749.3V766.9M1315.7 749.3V757.3M1349.6 749.3V757.3M1383.5 749.3V757.3M1417.4 749.3V766.9M1451.3 749.3V757.3M1485.2 749.3V757.3M1519.1 749.3V757.3M1553 749.3V766.9M1586.9 749.3V757.3M1620.8 749.3V757.3M1654.7 749.3V757.3M1688.6 749.3V766.9M1722.5 749.3V757.3M1756.4 749.3V757.3" stroke="#000" stroke-width="2.4" fill="none"/>
<path d="M1417.4 42.8V749.3" stroke="#000" stroke-width="3"/>
<rect x="1078.4" y="42.8" width="678" height="706.5" fill="none" stroke="#000" stroke-width="3"/>
<text x="1044.5" y="761.7" font-size="34.5" text-anchor="end" stroke="#000">0</text>
<text x="1044.5" y="643.9" font-size="34.5" text-anchor="end" stroke="#000">200</text>
<text x="1044.5" y="526.2" font-size="34.5" text-anchor="end" stroke="#000">400</text>
<text x="1044.5" y="408.4" font-size="34.5" text-anchor="end" stroke="#000">600</text>
<text x="1044.5" y="290.7" font-size="34.5" text-anchor="end" stroke="#000">800</text>
<text x="1044.5" y="172.9" font-size="34.5" text-anchor="end" stroke="#000">1000</text>
<text x="1044.5" y="55.2" font-size="34.5" text-anchor="end" stroke="#000">1200</text>
<text x="1146.2" y="808.3" font-size="34.5" text-anchor="middle" stroke="#000">400</text>
<text x="1281.8" y="808.3" font-size="34.5" text-anchor="middle" stroke="#000">200</text>
<text x="1417.4" y="808.3" font-size="34.5" text-anchor="middle" stroke="#000">0</text>
<text x="1553" y="808.3" font-size="34.5" text-anchor="middle" stroke="#000">200</text>
<text x="1688.6" y="808.3" font-size="34.5" text-anchor="middle" stroke="#000">400</text>
<text x="1241.3" y="858.9" font-size="34.5" text-anchor="middle" textLength="109" lengthAdjust="spacingAndGlyphs" stroke="#000">R (µm)</text>
<text x="1584.5" y="858.9" font-size="34.5" text-anchor="middle" textLength="109" lengthAdjust="spacingAndGlyphs" stroke="#000">R (µm)</text>
<g transform="translate(939,450.8) rotate(-90)"><text x="0" y="0" font-size="34.5" textLength="104" lengthAdjust="spacingAndGlyphs" stroke="#000">Z (µm)</text></g>
<path d="M916.1 10.6q-20 17.75 0 35.5M947.1 10.6q20 17.75 0 35.5" fill="none" stroke="#000" stroke-width="1.6"/>
<text x="931.6" y="40.1" font-size="39" text-anchor="middle" stroke="#000">d</text>
</g>
<g id="pe">
<clipPath id="cLe"><rect x="1078.4" y="945.4" width="339.0" height="706.5"/></clipPath>
<clipPath id="cRe"><rect x="1417.4" y="945.4" width="339.0" height="706.5"/></clipPath>
<g clip-path="url(#cLe)"><rect x="1068.4" y="935.4" width="359.0" height="726.5" fill="#4848de"/>
<g transform="scale(.5)"><g filter="url(#hb)"><path fill="#4343d5" d="M2141 1873l710 0 0 1038-22 0-6-2-14-10-7-10-3-9-3-5-8-4-7-2-10 2-10 3-8 1-2 1-8 1-10 3-18 3-10 3-18 3-10 3-8 1-10 3-8 1-22 5-160 1 2 2 2 0 6 6 2 0 6 6 2 0 6 6 2 0 6 6 2 0 8 8 2 0 6 6 2 0 6 6 2 0 6 6 2 0 6 6 2 0 14 12 2 0 6 6 2 0 6 6 2 0 6 6 2 0 6 6 2 0 6 6 2 0 6 6 2 0 8 8 2 0 6 6 2 0 6 6 2 0 6 6 2 0 6 6 2 0 14 12 2 0 6 6 2 0 6 6 2 0 6 6 2 0 6 6 2 0 14 12 2 0 8 8 2 0 6 6 2 0 6 6 2 0 6 6 2 0 6 6 2 0 6 6 2 0 6 6 2 0 4 4 0 2 0 2-4 4-634 0z"/>
<path fill="#3f3fce" d="M2141 1873l710 0 0 1037-20 0-8-2-12-8-3-3-6-10-5-12-8-4-8-2-154 32-88 2-68-1-3 1 2 2 3 1 5 5 3 1 5 5 3 1 5 5 3 1 5 5 3 1 7 7 3 1 5 5 3 1 5 5 3 1 5 5 3 1 5 5 3 1 5 5 3 1 5 5 3 1 5 5 3 1 5 5 3 1 5 5 3 1 5 5 3 1 5 5 3 1 5 5 3 1 7 7 3 1 5 5 3 1 5 5 3 1 5 5 3 1 5 5 3 1 5 5 3 1 5 5 3 1 5 5 3 1 5 5 3 1 5 5 3 1 5 5 3 1 5 5 3 1 5 5 3 1 7 7 3 1 5 5 3 1 5 5 3 1 5 5 3 1 5 5 3 1 5 5 3 1 5 5 3 1 3 3 1 2-1 2-3 3-4 1-630 0z"/>
<path fill="#3b3bc7" d="M2141 1873l710 0 0 1037-22-1-12-6-9-6-5-8-2-8-4-7-12-5-4-1-152 33-92 1-68 0-1 1 10 8 3 1 5 5 3 1 5 5 3 1 5 5 3 1 7 7 3 1 5 5 3 1 5 5 3 1 5 5 3 1 5 5 3 1 5 5 3 1 5 5 11 7 5 5 3 1 21 17 3 1 5 5 3 1 7 7 3 1 5 5 3 1 5 5 3 1 5 5 3 1 5 5 3 1 5 5 3 1 5 5 11 7 5 5 3 1 13 11 3 1 5 5 11 7 7 7 3 1 5 5 3 1 5 5 3 1 5 5 3 1 5 5 3 1 5 5 11 7 4 5-4 5-4 1-630 0z"/>
<path fill="#3737c0" d="M2141 1873l710 0 0 1036-20 0-8-3-14-9-5-8-3-8-4-7-11-5-5-1-36 7-12 4-16 2-12 3-16 3-12 3-7 1-11 3-7 1-23 5-92 2-48 0-20-1-2 2 27 20 3 2 5 4 3 2 7 6 3 2 5 4 3 2 5 4 3 2 5 4 3 2 5 4 3 2 5 4 3 2 5 4 3 2 5 4 3 2 5 4 3 2 5 4 27 20 7 6 3 2 5 4 3 2 5 4 3 2 5 4 3 2 5 4 3 2 5 4 3 2 5 4 3 2 5 4 3 2 5 4 3 2 5 4 27 20 7 6 3 2 5 4 3 2 5 4 3 2 5 4 27 20 3 4-5 6-632 0z"/>
<path fill="#3333b8" d="M2141 1873l710 0 0 1036-22-1-12-6-6-4-4-5-10-20-10-4-6-1-9 1-21 5-7 1-11 3-17 3-11 3-18 3-10 3-8 1-10 3-8 1-22 5-92 2-70-1 0 2 2 2 2 1 22 17 4 2 4 4 4 2 6 6 4 2 4 4 4 2 4 4 4 2 4 4 4 2 4 4 4 2 4 4 2 1 22 17 4 2 4 4 4 2 4 4 4 2 4 4 4 2 4 4 4 2 6 6 4 2 4 4 4 2 4 4 4 2 4 4 4 2 4 4 4 2 4 4 2 1 22 17 4 2 4 4 4 2 4 4 4 2 4 4 4 2 4 4 4 2 6 6 2 1 22 17 4 2 4 4 4 2 4 4 4 2 4 4 4 2 3 4-5 5-632 1z"/>
<path fill="#2e2eb1" d="M2141 1873l710 0 0 1035-22-1-12-5-6-4-4-5-10-20-9-4-7-1-10 1-10 3-18 3-10 3-18 3-10 3-18 3-12 3-6 1-40 9-92 2-71-1 3 4 2 1 14 11 4 2 4 4 4 2 4 4 4 2 6 6 4 2 4 4 4 2 4 4 4 2 4 4 4 2 4 4 4 2 4 4 4 2 4 4 4 2 4 4 4 2 4 4 4 2 4 4 4 2 4 4 2 1 14 11 4 2 6 6 4 2 4 4 4 2 4 4 4 2 4 4 4 2 4 4 4 2 4 4 4 2 4 4 4 2 4 4 4 2 4 4 4 2 4 4 4 2 4 4 2 1 14 11 4 2 6 6 4 2 4 4 4 2 4 4 4 2 4 4 4 2 4 4 2 1 14 11 4 2 3 4-5 5-632 0z"/>
<path fill="#2a2aaa" d="M2141 1873l710 0 0 1035-22-1-12-6-6-4-4-5-3-5-3-8-3-6-10-4-7-2-154 33-90 1-71 0 3 4 20 14 4 4 4 2 4 4 4 2 6 6 4 2 4 4 4 2 4 4 4 2 4 4 4 2 4 4 4 2 4 4 4 2 4 4 4 2 4 4 4 2 4 4 4 2 4 4 4 2 4 4 20 14 6 6 4 2 4 4 4 2 4 4 4 2 4 4 4 2 4 4 4 2 4 4 4 2 4 4 4 2 4 4 4 2 4 4 4 2 4 4 4 2 4 4 20 14 6 6 4 2 4 4 4 2 4 4 4 2 4 4 4 2 4 4 20 14 3 4-1 2-4 3-632 0z"/>
<path fill="#2626a3" d="M2141 1873l710 0 0 1034-20 0-6-2-6-3-8-5-3-4-4-6-3-9-3-5-9-4-8-2-154 33-90 1-72 0 4 4 20 14 4 4 4 2 4 4 4 2 6 6 4 2 4 4 4 2 4 4 4 2 4 4 4 2 4 4 4 2 4 4 4 2 4 4 4 2 4 4 4 2 4 4 4 2 4 4 4 2 4 4 20 14 6 6 4 2 4 4 4 2 4 4 4 2 4 4 4 2 4 4 4 2 4 4 4 2 4 4 4 2 4 4 4 2 4 4 4 2 4 4 4 2 4 4 20 14 6 6 4 2 4 4 4 2 4 4 4 2 4 4 4 2 4 4 20 14 3 4-1 2-4 3-632 0z"/>
<path fill="#22229c" d="M2173 1873l678 0 0 1034-20-1-6-1-8-5-6-4-4-4-3-5-3-10-3-4-9-4-8-2-154 32-88 2-70-1-4 1 4 4 20 14 4 4 4 2 4 4 4 2 6 6 4 2 4 4 4 2 4 4 4 2 4 4 4 2 4 4 4 2 4 4 4 2 4 4 4 2 4 4 4 2 4 4 4 2 4 4 4 2 4 4 20 14 6 6 4 2 4 4 4 2 4 4 4 2 4 4 4 2 4 4 4 2 4 4 4 2 4 4 4 2 4 4 4 2 4 4 4 2 4 4 4 2 4 4 20 14 6 6 4 2 4 4 4 2 4 4 4 2 4 4 4 2 4 4 20 14 2 4 0 2-4 3-632 0 0-1245 16 0 14-8 2-2z"/>
<path fill="#1e1e95" d="M2227 1873l624 0 0 1033-20 0-6-2-8-4-6-4-4-5-3-6-3-8-3-4-8-4-9-2-154 32-88 2-70-1-4 1 4 4 20 15 4 3 4 3 4 3 4 3 6 5 4 3 4 3 4 3 4 3 4 3 4 3 4 3 4 3 4 3 4 3 4 3 4 3 4 3 4 3 4 3 4 3 4 3 4 3 4 3 4 3 20 15 6 5 4 3 4 3 4 3 4 3 4 3 4 3 4 3 4 3 4 3 4 3 4 3 4 3 4 3 4 3 4 3 4 3 4 3 4 3 4 3 4 3 20 15 6 5 4 3 4 3 4 3 4 3 4 3 4 3 4 3 4 3 20 15 2 3-1 2-3 3-632 0 0-1206 16 0 2-1 32-21 30-22 6-5z"/>
<path fill="#1a1a8e" d="M2281 1873l570 0 0 1033-20-1-12-4-8-5-4-5-3-6-3-8-2-4-9-4-9-2-154 32-88 2-70-1-4 1 4 4 20 15 4 3 4 3 4 3 4 3 6 5 4 3 4 3 4 3 4 3 4 3 4 3 4 3 4 3 4 3 4 3 4 3 4 3 4 3 4 3 4 3 4 3 4 3 4 3 4 3 4 3 20 15 6 5 4 3 4 3 4 3 4 3 4 3 4 3 4 3 4 3 4 3 4 3 4 3 4 3 4 3 4 3 4 3 4 3 4 3 4 3 4 3 4 3 20 15 6 5 4 3 4 3 4 3 4 3 4 3 4 3 4 3 4 3 20 15 2 3-1 2-3 3-632 0 0-1168 16 0 2 0 36-23 42-30 44-34z"/>
<path fill="#161686" d="M2335 1873l516 0 0 1032-20 0-12-5-8-5-4-5-3-5-2-8-3-4-8-4-10-2-154 32-88 2-50 0-20-1-4 1 4 5 28 20 4 4 4 2 6 6 4 2 4 4 4 2 4 4 4 2 4 4 4 2 4 4 4 2 4 4 4 2 4 4 4 2 4 4 4 2 4 4 4 2 4 4 28 20 6 6 4 2 4 4 4 2 4 4 4 2 4 4 4 2 4 4 4 2 4 4 4 2 4 4 4 2 4 4 4 2 4 4 4 2 4 4 28 20 6 6 4 2 4 4 4 2 4 4 4 2 4 4 28 20 2 3-1 2-3 2-632 1 0-1124 16 0 2-1 56-38 52-38 38-29 30-25z"/>
<path fill="#12127f" d="M2389 1873l462 0 0 1032-20-1-12-4-8-5-4-5-3-5-2-8-3-4-8-4-10-3-154 33-88 2-50 0-20-1-5 1 5 5 28 20 4 4 4 2 6 6 4 2 4 4 4 2 4 4 4 2 4 4 4 2 4 4 4 2 4 4 4 2 4 4 4 2 4 4 4 2 4 4 4 2 4 4 28 20 6 6 4 2 4 4 4 2 4 4 4 2 4 4 4 2 4 4 4 2 4 4 4 2 4 4 4 2 4 4 4 2 4 4 4 2 4 4 28 20 6 6 4 2 4 4 4 2 4 4 4 2 4 4 28 20 2 3-1 2-3 2-632 1 0-1075 16 0 2-2 31-24 87-64 55-42 55-46 2-2z"/>
<path fill="#0e0e78" d="M2443 1873l408 0 0 1031-20 0-12-4-8-6-4-4-3-5-2-8-3-5-8-3-10-3-154 32-88 3-50 0-20-1-4 0-1 1 5 5 36 26 6 6 4 2 4 4 4 2 4 4 4 2 4 4 4 2 4 4 4 2 4 4 4 2 4 4 4 2 4 4 4 2 4 4 36 26 6 6 4 2 4 4 4 2 4 4 4 2 4 4 4 2 4 4 4 2 4 4 4 2 4 4 4 2 4 4 4 2 4 4 36 26 6 6 4 2 4 4 4 2 4 4 36 26 2 3-1 2-3 2-632 1 0-1026 16 0 2-1 30-26 35-28 127-96 42-33 27-23 21-20 2-2z"/>
<path fill="#0a0a71" d="M2497 1873l354 0 0 1031-20 0-12-5-8-5-4-5-2-4-3-8-3-5-8-4-10-2-154 32-88 3-50 0-22-2-3 2 5 5 36 26 6 6 4 2 4 4 4 2 4 4 4 2 4 4 4 2 4 4 4 2 4 4 4 2 4 4 4 2 4 4 44 32 6 6 4 2 4 4 4 2 4 4 4 2 4 4 4 2 4 4 4 2 4 4 4 2 4 4 4 2 4 4 44 32 6 6 4 2 4 4 44 32 2 3-1 2-3 2-632 0 0-976 16 0 2-1 58-51 49-40 53-40 103-76 36-28 22-20 14-16 3-6z"/>
<path fill="#06066a" d="M2681 1873l170 0 0 1031-20-1-12-4-8-5-4-5-2-4-2-8-4-5-8-4-10-2-154 32-88 2-50 0-22-1-3 2 5 5 36 26 6 6 4 2 4 4 4 2 4 4 4 2 4 4 4 2 4 4 4 2 4 4 4 2 4 4 52 38 6 6 4 2 4 4 4 2 4 4 4 2 4 4 4 2 4 4 4 2 4 4 4 2 4 4 52 38 6 6 52 38 2 3-2 3-6 1-628 0 0-913 16 0 12-19 17-18 40-38 41-36 36-29 42-31 46-33 50-34 66-42 20-11 20-9 20-8 26-9 88-24z"/>
<path fill="#020263" d="M2827 1911l24 0 0 992-20 0-12-5-6-3-6-6-4-12-4-5-8-4-10-2-154 32-88 2-50 0-22-1-2 1-1 1 5 5 36 26 6 6 4 2 4 4 4 2 4 4 4 2 4 4 4 2 4 4 68 50 6 6 4 2 4 4 4 2 4 4 4 2 4 4 4 2 4 4 68 50 6 6 52 38 2 3-1 2-3 2-4 0-628 0 0-839 16 0 5-15 7-15 10-16 12-16 14-16 22-23 29-28 24-22 37-31 48-36 50-34 44-27 38-20 34-17 36-15 38-12 44-13 48-12 106-21z"/>
<path fill="#000565" d="M2822 1961l29-1 0 943-20-1-12-4-6-3-6-6-4-12-4-6-10-4-8-1-154 32-88 2-50 0-22-1-2 0-1 2 5 5 36 26 6 6 100 74 6 6 4 2 4 4 92 68 6 6 52 38 2 3-1 2-3 2-4 0-628 0 0-161 16 0 20 3 6-2-12-6-6-4-4-5-4-7-16 0 0-632 16 0 8-12 10-20 10-12 19-22 83-80 34-30 44-33 32-23 40-25 40-22 42-20 42-17 44-14 48-14 42-9 34-6 34-4z"/>
<path fill="#000c6c" d="M2804 1983l47-1 0 920-20 0-12-4-6-4-6-6-4-11-4-6-10-4-8-1-154 32-88 2-50 0-22-1-2 0-2 2 6 5 36 26 6 6 100 74 6 6 4 2 4 4 92 68 6 6 52 38 2 3-1 2-3 2-4 0-628 0 0-158 16 0 20 1 18 0 6 1 12 0 1-2-11-3-12-4-14-8-9-9-11-18-16 0 0-597 16 0 11-15 22-32 23-27 54-53 44-40 32-26 38-27 38-25 38-22 38-19 38-17 44-16 46-14 46-12 44-8 42-6z"/>
<path fill="#001473" d="M2809 2003l42-1 0 900-20 0-12-4-6-4-6-6-4-11-4-6-10-4-8-1-154 31-88 3-50 0-22-1-2 0-2 2 6 5 36 26 6 6 100 74 6 6 4 2 4 4 92 68 6 6 52 38 2 3-1 2-3 2-4 0-628 0 0-156 52 0 8 2 16-1 8 2 16-1-3-2-11-3-20-6-18-9-9-6-7-8-7-10-9-17-16 0 0-565 16 0 14-18 28-38 22-26 42-42 48-44 32-25 36-26 38-24 38-22 40-20 40-17 44-16 46-14 46-11 46-8 46-6z"/>
<path fill="#001b7a" d="M2801 2023l50-1 0 880-20 0-12-5-6-3-6-6-3-11-5-6-10-4-8-1-154 31-88 3-50 0-22-1-2 0-2 2 6 5 36 26 6 6 100 74 6 6 4 2 4 4 92 68 6 6 52 38 2 3-1 2-3 2-4 0-628 0 0-155 28 0 74 3 2 0 1-2-5-4-33-12-17-10-10-9-8-11-7-12-9-18-16 0 0-533 16 0 2-2 48-63 22-26 36-36 42-38 32-26 34-24 36-24 38-21 40-21 40-17 44-16 44-13 46-12 48-9 46-6z"/>
<path fill="#002281" d="M2786 2043l65-2 0 861-20-1-12-4-6-3-6-6-3-11-5-6-10-4-8-1-154 31-88 3-50 0-22-1-2 0-2 2 6 5 36 26 6 6 100 74 6 6 158 119 1 2-1 2-2 2-4 0-628 0 0-153 28-1 74 3 7-1 0-2-7-5-32-15-18-12-9-10-9-12-8-15-10-23-16 0 0-500 16 0 2-2 53-68 21-25 31-33 37-33 32-27 32-23 34-22 36-21 40-21 40-18 42-16 44-13 46-12 46-9 46-7z"/>
<path fill="#002a88" d="M2799 2061l52-1 0 842-20-1-6-1-8-4-6-4-4-4-3-11-5-6-9-4-9-1-154 31-88 3-50 0-22-1-2 0-2 2 6 5 36 27 6 5 100 75 6 5 158 119 1 2-1 2-2 2-4 0-628 0 0-151 16 0 14-2 72 3 13-2-13-10-32-17-14-11-11-12-9-14-8-16-12-29-16 0 0-468 16 0 2-2 58-74 21-25 29-31 34-31 32-26 32-24 36-23 36-21 42-21 42-17 44-16 44-13 46-11 48-9 48-6z"/>
<path fill="#00318f" d="M2809 2079l42 0 0 822-20 0-6-2-8-3-6-4-4-4-3-11-4-6-10-4-9-2-154 32-88 3-50 0-22-1-3 0-1 2 6 5 36 27 6 5 100 75 6 5 158 119 1 2-1 2-2 2-4 0-628 0 0-150 16 0 6-1 8 0 72 2 16-1 1-2-15-12-30-18-16-14-10-12-10-16-7-16-15-35-16 0 0-435 16 0 2-2 57-74 23-29 30-32 32-30 32-27 32-23 34-22 36-20 42-21 44-18 44-16 46-13 48-10 50-9 50-5z"/>
<path fill="#003995" d="M2808 2097l43 0 0 804-20 0-12-4-8-5-4-5-3-10-4-6-10-4-9-2-154 32-88 3-50 0-22-2-3 1-1 2 6 5 36 27 6 5 100 75 6 5 158 119 1 2-1 2-2 2-4 0-628 0 0-148 16 0 6-2 8 0 72 2 14-1 7-1 0-2-7-6-37-26-18-16-11-14-9-16-25-59-16 0 0-402 16 0 2-2 58-77 23-30 29-32 30-29 30-25 32-24 32-21 36-20 42-21 44-18 44-15 48-14 48-10 50-9 52-5z"/>
<path fill="#00409c" d="M2798 2115l53-1 0 787-20-1-12-4-8-5-4-4-3-10-4-6-9-4-10-2-154 32-88 3-50 0-22-2-3 1-1 2 6 5 36 27 6 5 100 75 6 5 158 119 1 2-1 2-2 2-4 0-628 0 0-147 16 0 8-2 8 0 72 2 14-1 10-2-1-2-13-11-34-25-16-16-10-14-9-16-29-68-16 0 0-370 16 0 2-2 14-17 43-61 25-32 28-32 28-28 27-24 29-22 32-21 34-20 42-21 44-19 44-16 46-13 48-11 50-8 52-6z"/>
<path fill="#0047a3" d="M2783 2133l68-1 0 769-20-1-12-4-8-5-4-4-3-10-4-6-9-4-10-2-154 32-88 3-50 0-22-2-3 1-1 2 6 5 36 27 6 5 100 75 6 5 158 119 1 2-1 2-2 2-4 0-628 0 0-146 16 0 8-2 8 0 72 2 26-2 2 0 0-2-16-15-32-25-17-18-9-14-10-18-31-74-1-2-16 0 0-336 16 0 8-8 14-18 39-58 23-32 26-31 28-29 26-24 26-20 30-21 32-19 40-20 42-19 44-16 46-13 48-12 48-8 50-6z"/>
<path fill="#004faa" d="M2811 2149l40 0 0 751-20 0-12-4-6-3-6-6-2-10-5-6-8-4-11-2-154 32-88 3-50 0-22-2-4 1 0 2 6 6 36 26 6 6 100 74 6 6 158 118 1 2-1 2-2 2-4 0-628 0 0-145 16 0 8-1 10-1 70 2 26-1 6-2 0-2-14-13-36-31-16-18-9-14-9-18-24-62-10-21-2-3-16 0 0-303 16 0 8-6 8-9 12-16 35-56 24-34 27-34 28-30 26-23 26-21 30-20 32-19 42-20 46-19 46-16 48-13 50-10 50-7 56-5z"/>
<path fill="#0056b1" d="M2783 2167l32-1 36-1 0 735-20 0-12-4-6-4-6-5-2-10-5-6-8-4-11-2-156 32-86 3-50 0-22-2-4 1 0 2 6 6 36 26 6 6 100 74 6 6 158 118 1 2-1 2-2 2-4 0-628 0 0-144 16 0 18-2 72 2 26-2 9-2-50-46-17-20-10-16-9-18-25-68-10-22-4-7-16 0 0-269 16 0 4-1 10-6 10-9 10-15 26-49 23-38 27-36 26-29 26-26 24-20 30-21 30-18 40-20 42-18 46-17 40-11 54-12 48-7 50-6z"/>
<path fill="#005db8" d="M2803 2183l48 0 0 717-20 0-14-5-6-4-4-4-2-10-4-6-9-4-11-2-156 32-86 3-50 0-22-2-4 1 0 2 6 6 36 26 6 6 100 74 6 6 156 116 3 4-1 2-2 2-4 0-628 0 0-143 16 0 18-2 82 1 26-2 1-2-52-52-13-16-10-16-13-30-30-86-2-14-7-54-16 0 0-178 16 0 10 1 11 3 6 4 3 6 2 16-3 6 1 6 0-4 2-4 0-12 2-4 3-20 13-44 20-46 14-26 12-18 22-30 36-40 20-18 22-18 20-14 27-16 25-13 22-11 38-16 41-14 21-6 40-10 40-8 52-8 14-1 8-1 16-1 8-1 28-1 10-1 34-1z"/>
<path fill="#0065bf" d="M2801 2207l50-1 0 694-20-1-14-5-6-3-4-4-2-10-4-6-8-4-12-2-156 31-86 4-50 0-22-2-4 1-1 2 7 6 36 26 6 6 98 72 8 8 156 116 3 4-1 2-2 1-4 1-628 0 0-142 16 0 20-1 80 0 18-1 8-1 3-1 0-2-3-5-39-39-15-18-13-20-12-24-10-30-20-68-5-34-4-60 0-16 3-8 4-4 11-5 3-3 1-4 4-16 12-76 6-24 8-24 9-24 12-24 13-22 13-20 20-26 21-24 22-22 26-22 26-18 28-17 30-16 34-15 36-13 36-12 38-10 42-8 40-7 40-4 44-4zM2141 2569l0-1 16 0 7 7 4 10 0 10-2 16-5 26-4 12-16 0z"/>
<path fill="#006cc6" d="M2778 2231l73-1 0 669-20 0-14-5-6-4-4-3-2-10-4-6-8-4-12-2-156 31-86 4-50 0-22-2-4 1-1 2 7 6 36 26 6 6 98 73 8 7 156 117 3 3-1 2-2 1-4 1-628 0 0-141 16 0 20-1 82 0 24-2 2 0 2-2 0-4-4-6-36-38-15-18-11-18-10-20-12-34-16-62-4-28-3-40 0-24 2-16 4-10 10-16 3-10 16-74 9-34 10-26 11-25 13-23 15-24 18-24 20-23 22-22 24-20 26-19 26-16 28-16 32-14 34-14 34-11 36-9 38-9 40-7 40-5 44-4z"/>
<path fill="#0075cb" d="M2801 2251l50 0 0 648-20 0-14-5-6-4-3-3-3-10-4-6-8-4-12-2-106 22-50 9-86 4-50 0-22-2-4 1-1 2 7 6 36 26 6 6 98 73 8 7 156 117 3 3-1 2-2 1-4 1-628 0 0-140 36-1 64 0 28 0 16-2 3-3-1-6-4-7-32-35-16-20-11-18-9-20-11-34-13-56-5-30-2-34 1-26 3-18 14-40 16-66 10-32 10-26 12-26 15-26 16-23 18-23 22-23 22-21 24-19 26-18 28-16 28-14 32-13 34-13 34-10 36-9 40-8 42-6 42-5 46-3z"/>
<path fill="#007fcf" d="M2765 2271l42-1 44-1 0 630-20 0-14-5-9-7-1-2-1-8-5-6-8-4-12-2-106 22-50 9-86 4-50 0-22-2-4 1-1 2 7 6 36 26 6 6 98 73 8 7 2 1 6 5 92 68 6 6 50 37 3 3-1 2-2 1-4 1-628 0 0-139 34-1 66 0 32-1 12-1 3-2 1-4-1-6-3-6-31-34-15-20-11-18-9-20-10-32-11-50-5-32-1-32 0-28 4-22 13-42 14-53 8-27 10-27 12-25 13-24 16-24 17-22 20-22 22-21 22-18 24-18 24-15 28-14 28-13 32-12 32-11 34-9 36-8 38-6 40-6 42-4z"/>
<path fill="#0089d2" d="M2773 2289l78-1 0 611-20 0-14-5-9-7-1-2-1-8-5-6-8-4-12-2-106 22-50 9-86 4-50 0-22-2-4 1-1 2 7 6 36 26 6 6 2 1 38 29 2 1 6 5 2 1 6 5 42 31 8 7 2 1 6 5 2 1 6 5 2 1 6 5 2 1 6 5 2 1 6 5 2 1 6 5 2 1 6 5 44 32 6 6 2 1 6 5 42 31 3 3-1 2-2 1-4 1-628 0 0-139 34-1 66 1 34-1 12-2 2-2 2-4-1-6-4-8-29-32-16-22-10-18-9-20-9-30-9-46-4-32-2-32 2-30 4-24 32-110 11-28 12-26 14-25 16-23 17-22 19-20 22-21 22-18 24-16 24-15 26-13 30-13 30-11 32-10 36-10 36-7 40-7 40-5 42-3z"/>
<path fill="#0093d6" d="M2777 2307l74-1 0 593-20-1-14-4-9-7-1-2-1-8-5-7-8-3-12-2-106 22-50 9-86 4-50 0-22-2-4 1-1 2 7 6 2 1 6 5 28 20 6 6 2 1 30 23 2 1 6 5 2 1 6 5 2 1 22 17 26 19 8 7 2 1 6 5 2 1 6 5 2 1 6 5 2 1 6 5 2 1 6 5 2 1 6 5 2 1 6 5 2 1 6 5 2 1 6 5 28 20 6 6 2 1 6 5 2 1 6 5 2 1 6 5 26 19 3 3-1 2-2 1-4 1-628 0 0-138 136-1 10-2 4-3 2-4-1-6-4-8-27-32-18-24-10-18-7-18-8-26-7-38-5-38-1-34 1-30 5-26 18-66 11-34 11-28 12-26 15-26 17-24 18-22 19-20 21-19 22-17 24-17 24-14 26-13 28-11 30-11 32-10 34-8 36-7 38-6 42-5 44-4z"/>
<path fill="#009cda" d="M2775 2325l76-1 0 575-20-1-14-5-9-6-1-2-1-8-5-7-8-3-12-2-106 22-50 9-86 4-50 0-22-2-4 1-1 2 39 30 4 2 6 6 18 13 6 5 2 1 6 5 2 1 62 47 2 1 8 7 2 1 6 5 2 1 6 5 2 1 6 5 2 1 6 5 2 1 6 5 2 1 6 5 2 1 6 5 2 1 6 5 2 1 6 5 2 1 6 5 20 14 6 6 2 1 6 5 2 1 6 5 2 1 6 5 2 1 6 5 18 13 3 3-1 2-2 1-4 1-628 0 0-137 138-1 10-3 4-3 2-4 0-6-4-8-26-30-18-26-11-20-7-18-7-24-4-28-6-46-1-34 2-30 5-28 11-42 16-48 11-28 13-27 15-25 17-24 18-22 18-18 20-18 22-17 24-16 24-14 26-13 26-10 30-10 30-9 32-7 36-7 38-6 42-5 44-4z"/>
<path fill="#00a6dd" d="M2769 2343l82-2 0 557-20 0-14-5-9-6-1-2-1-8-2-4-3-3-8-4-12-1-106 21-50 10-86 3-50 0-22-1-4 1-1 2 39 30 4 2 6 6 2 1 6 5 2 1 6 5 2 1 6 5 2 1 6 5 2 1 6 5 2 1 6 5 2 1 6 5 2 1 6 5 2 1 6 5 2 1 6 5 2 1 6 5 12 8 6 6 10 7 6 5 2 1 6 5 2 1 6 5 2 1 6 5 2 1 14 11 2 1 6 5 2 1 6 5 2 1 6 5 2 1 6 5 2 1 6 5 2 1 8 7 2 1 6 5 2 1 6 5 2 1 6 5 2 1 6 5 2 1 6 5 10 7 3 3-1 2-2 1-4 1-628 0 0-136 140-1 10-3 4-4 2-4 0-6-2-6-25-30-16-22-14-24-8-20-5-20-4-22-5-54-1-32 2-30 5-30 10-36 14-44 12-30 13-26 15-26 17-23 18-21 18-19 20-17 22-17 22-15 24-13 24-11 26-11 28-9 30-8 32-8 34-6 38-5 42-5z"/>
<path fill="#00b0e1" d="M2821 2359l30 0 0 539-20 0-14-5-9-6-1-2-1-8-2-4-3-3-8-4-12-1-106 21-50 10-86 3-50 0-22-1-4 0-1 3 39 30 4 2 6 6 2 1 6 5 2 1 6 5 2 1 6 5 2 1 6 5 2 1 6 5 2 1 6 5 2 1 6 5 2 1 6 5 2 1 6 5 2 1 6 5 2 1 6 5 12 8 6 6 2 1 6 5 2 1 30 23 2 1 46 35 10 7 8 7 2 1 6 5 2 1 6 5 2 1 6 5 2 1 6 5 2 1 6 5 10 7 3 3-1 2-2 1-4 1-628 0 0-135 142-1 6-1 6-3 3-4 2-4 1-6-2-6-26-30-16-22-14-26-8-20-5-20-2-18-5-58 1-34 3-30 6-34 11-38 13-37 12-28 15-27 15-24 20-24 18-20 20-18 22-18 22-15 22-12 24-12 26-11 28-9 30-9 32-7 34-6 38-5 44-4 46-4z"/>
<path fill="#00bae5" d="M2796 2377l55-1 0 522-20 0-14-5-9-6-1-2-1-8-2-4-3-3-8-4-12-2-106 22-50 10-86 3-50 0-22-2-4 1-1 3 39 30 4 2 6 6 2 1 6 5 2 1 6 5 2 1 6 5 2 1 6 5 2 1 6 5 2 1 6 5 2 1 6 5 2 1 6 5 2 1 6 5 2 1 6 5 2 1 6 5 12 8 6 6 2 1 6 5 2 1 54 41 2 1 6 5 2 1 14 11 2 1 6 5 2 1 8 7 2 1 6 5 2 1 6 5 2 1 6 5 2 1 6 5 2 1 6 5 10 7 3 3-1 2-2 1-4 1-628 0 0-135 144 0 8-2 4-2 4-3 3-6 1-6-2-6-5-6-15-15-14-17-14-22-10-20-4-10-6-20-2-14-4-76 1-34 4-28 8-38 12-38 14-38 13-25 18-29 20-26 18-19 16-15 22-18 22-16 22-13 22-12 24-10 26-9 26-7 30-7 32-6 34-5 86-8z"/>
<path fill="#00c3e8" d="M2823 2393l28 0 0 505-20-1-14-4-9-6-1-2 0-8-3-4-3-3-8-4-12-2-106 22-50 10-86 3-50 0-22-2-4 1-1 3 39 30 4 2 6 6 2 1 6 5 2 1 6 5 2 1 6 5 2 1 6 5 2 1 6 5 2 1 6 5 2 1 6 5 2 1 6 5 2 1 6 5 2 1 6 5 2 1 6 5 12 8 6 6 2 1 46 35 2 1 46 35 2 1 8 7 2 1 6 5 2 1 6 5 2 1 6 5 2 1 6 5 2 1 6 5 10 7 3 3-1 2-2 1-4 1-628 0 0-134 152-1 6-1 2-1 7-7 3-6 0-4-2-6-24-22-14-18-10-16-14-28-6-18-5-22 0-56-2-10 0-8 1-10 1-26 4-26 8-38 12-38 7-19 16-35 18-28 22-29 32-32 20-16 27-19 25-15 25-11 41-15 22-6 40-8 64-8 102-9z"/>
<path fill="#00cdec" d="M2805 2409l46-1 0 490-20-1-14-4-9-6-1-2 0-8-2-4-4-3-8-4-12-2-106 22-50 9-86 4-50 0-22-2-4 1-1 3 39 30 4 2 6 6 2 1 6 5 2 1 6 5 2 1 6 5 2 1 6 5 2 1 6 5 2 1 6 5 2 1 6 5 2 1 6 5 2 1 6 5 2 1 6 5 2 1 6 5 12 8 6 6 2 1 30 23 2 1 6 5 2 1 6 5 2 1 38 29 10 7 8 7 2 1 6 5 2 1 6 5 2 1 6 5 2 1 6 5 2 1 6 5 10 7 3 3-1 2-2 1-4 0-628 0 0-131 158-1 3-1 5-4 6-6 3-4 0-6-3-6-27-26-17-24-12-22-8-20-5-20-3-16-1-68 2-34 5-28 8-36 8-28 17-40 12-24 16-24 20-26 17-18 20-17 20-15 24-16 22-12 20-10 26-10 24-7 24-7 30-6 68-9 102-8z"/>
<path fill="#00d7f0" d="M2794 2423l57-1 0 475-20 0-14-5-9-5-1-2 0-6-1-4-5-6-8-3-12-2-106 22-50 9-86 4-50 0-22-2-4 1-1 3 39 30 4 2 6 6 2 1 6 5 2 1 6 5 2 1 6 5 2 1 6 5 2 1 6 5 2 1 6 5 2 1 6 5 2 1 6 5 2 1 6 5 2 1 6 5 2 1 6 5 12 8 6 6 2 1 30 23 2 1 54 41 10 7 8 7 2 1 6 5 2 1 6 5 2 1 6 5 2 1 6 5 2 1 6 5 10 7 3 3-1 2-2 1-4 0-628 0 0-129 158-2 4-1 7-5 5-5 3-5 0-6-3-6-6-7-20-21-17-24-11-22-7-18-5-20-3-20 0-62 3-34 4-30 8-32 10-30 12-30 14-28 16-24 18-22 16-17 18-15 22-16 22-15 22-12 22-10 24-10 24-8 24-6 28-6 64-9 84-8z"/>
<path fill="#00e0f3" d="M2784 2437l67-1 0 461-20 0-14-5-8-5-2-2 1-6-2-4-5-6-8-3-12-2-106 22-50 9-86 4-50 0-22-2-4 1-1 3 39 30 4 2 6 6 2 1 6 5 2 1 6 5 2 1 6 5 2 1 6 5 2 1 6 5 2 1 6 5 2 1 6 5 2 1 6 5 2 1 6 5 2 1 6 5 2 1 6 5 12 8 6 6 2 1 38 29 2 1 6 5 10 7 38 29 2 1 8 7 2 1 6 5 2 1 6 5 2 1 6 5 2 1 6 5 2 1 6 5 10 7 3 3-1 2-2 1-4 0-628 0 0-127 156-2 6-2 7-4 5-4 4-6 1-8-3-7-6-8-18-19-9-12-12-20-10-24-7-20-3-20-2-20 1-28 1-32 5-38 7-32 9-32 12-30 15-30 15-24 18-23 14-14 18-15 22-16 24-15 22-12 22-11 24-9 24-8 24-7 28-6 60-9 80-7z"/>
<path fill="#00eaf7" d="M2771 2451l80-1 0 447-20 0-14-5-8-5-2-2 1-6-2-4-5-6-8-3-12-2-106 22-50 9-86 4-50 0-22-2-4 1-1 3 39 30 4 2 6 6 2 1 6 5 2 1 6 5 2 1 6 5 2 1 6 5 2 1 6 5 2 1 6 5 2 1 6 5 2 1 6 5 2 1 6 5 2 1 6 5 2 1 6 5 12 8 6 6 2 1 22 17 2 1 6 5 2 1 6 5 2 1 6 5 2 1 6 5 2 1 6 5 2 1 6 5 2 1 6 5 10 7 6 5 2 1 8 7 2 1 6 5 2 1 6 5 2 1 6 5 2 1 6 5 2 1 6 5 10 7 3 3-1 2-2 1-4 0-628 0 0-126 156-2 8-2 8-4 5-5 3-6 1-8-3-8-6-8-18-20-9-12-10-18-9-20-6-20-4-18-2-22 0-24 3-36 4-36 7-32 9-30 11-30 15-30 17-26 16-20 14-14 16-13 22-15 24-15 22-11 22-11 24-9 24-8 24-6 26-6 58-9 74-7z"/>
<path fill="#00f4fb" d="M2756 2465l95-2 0 434-20 0-14-5-8-5-1-2 0-6-1-4-6-6-8-3-12-2-106 22-50 9-86 4-50 0-22-2-4 1-1 3 39 30 4 2 6 6 2 1 6 5 2 1 6 5 2 1 6 5 2 1 6 5 2 1 6 5 2 1 6 5 2 1 6 5 2 1 6 5 2 1 6 5 2 1 6 5 2 1 6 5 12 8 6 6 2 1 6 5 2 1 6 5 2 1 6 5 2 1 54 41 2 1 6 5 10 7 8 7 2 1 6 5 2 1 6 5 2 1 6 5 2 1 6 5 2 1 6 5 10 7 3 3-2 2-1 1-4 0-628 0 0-124 32-1 80 0 44-1 10-3 8-4 5-4 3-6 1-8-3-10-6-9-16-19-9-12-10-18-8-18-6-20-4-18-2-22 0-22 2-34 6-40 6-28 8-28 12-30 13-28 16-26 16-20 12-12 16-13 22-14 24-14 24-13 22-10 22-9 24-7 46-12 56-9 70-7z"/>
<path fill="#00feff" d="M2742 2479l49-2 60 0 0 420-20-1-16-5-6-4-1-2 0-8-5-7-4-2-6-2-12-2-106 22-50 9-86 4-50 0-22-2-4 1-1 1 0 2 39 30 3 2 7 6 2 1 6 5 2 1 6 5 2 1 6 5 2 1 6 5 2 1 6 5 2 1 6 5 2 1 6 5 2 1 6 5 2 1 6 5 2 1 6 5 2 1 6 5 11 8 7 6 2 1 14 11 2 1 6 5 2 1 6 5 2 1 6 5 2 1 6 5 2 1 6 5 2 1 6 5 2 1 6 5 2 1 6 5 2 1 6 5 10 7 8 7 2 1 6 5 2 1 6 5 2 1 6 5 2 1 6 5 2 1 6 5 10 7 3 3-2 2-1 1-4 0-628 0 0-122 30-1 82 0 46-2 12-3 6-3 5-4 4-6 1-4 0-6-3-10-7-10-16-20-9-12-8-16-8-18-6-20-3-18-3-24 0-20 3-24 7-52 6-26 8-26 11-28 15-28 15-25 15-19 11-11 12-9 50-29 24-12 22-10 22-8 22-7 44-11 52-8 66-7z"/>
<path fill="#00fbf7" d="M2760 2493l91-1 0 405-20-1-16-5-6-4-1-2 0-8-5-7-4-2-6-3-12-1-106 22-50 9-86 4-50 0-22-2-4 1-1 1-1 2 32 24 3 2 5 4 3 2 7 6 2 1 6 5 2 1 6 5 2 1 6 5 2 1 6 5 2 1 6 5 2 1 6 5 2 1 6 5 2 1 6 5 2 1 6 5 2 1 6 5 2 1 6 5 11 8 7 6 2 1 38 29 2 1 22 17 2 1 22 17 10 7 8 7 2 1 6 5 2 1 6 5 2 1 6 5 2 1 6 5 2 1 6 5 10 7 3 3-2 2-1 1-4 0-628 0 0-121 114 0 12-2 32 0 17-4 5-2 5-4 3-6 2-10-3-10-9-14-15-18-8-12-8-14-5-14-7-24-4-20-3-24 0-18 2-18 10-60 5-20 8-28 12-28 14-28 17-26 14-18 10-9 8-6 68-34 40-17 42-13 44-10 54-7 64-6z"/>
<path fill="#00f6ee" d="M2748 2509l19-2 84 0 0 389-20 0-16-5-6-4-1-2 0-8-2-4-3-3-4-3-6-2-12-1-106 22-50 9-86 4-50 0-22-2-4 1-1 1-1 2 32 24 3 2 5 4 3 2 7 6 2 1 6 5 2 1 6 5 2 1 6 5 2 1 6 5 2 1 6 5 2 1 6 5 2 1 6 5 2 1 6 5 2 1 6 5 2 1 6 5 2 1 6 5 11 8 7 6 2 1 14 11 10 7 6 5 2 1 6 5 2 1 6 5 2 1 6 5 2 1 6 5 2 1 6 5 2 1 6 5 11 8 5 4 2 1 8 7 2 1 6 5 2 1 6 5 2 1 6 5 2 1 6 5 2 1 6 5 10 7 3 3-2 2-1 1-4 0-628 0 0-119 116-1 12-2 32 0 26-4 2-2 4-8 2-6 0-5 0-4-2-6-12-19-14-17-8-12-7-12-5-14-7-24-4-22-1-16-1-8 0-16 2-18 3-10 9-50 4-16 8-26 11-27 8-17 18-30 18-25 12-11 6-4 20-6 46-22 34-15 30-10 22-6 40-8 46-6 66-6 22-1 12-1z"/>
<path fill="#00f1e5" d="M2778 2517l73 0 0 379-20 0-16-6-6-3-1-2 0-8-2-4-4-4-9-4-12-1-106 22-50 9-88 4-48 0-22-2-4 1-1 1-1 2 32 24 3 2 5 4 3 2 7 6 2 1 6 5 2 1 6 5 2 1 6 5 2 1 6 5 2 1 6 5 2 1 6 5 2 1 6 5 2 1 6 5 2 1 6 5 2 1 6 5 2 1 6 5 11 8 7 6 2 1 6 5 2 1 6 5 2 1 6 5 2 1 6 5 2 1 6 5 2 1 6 5 2 1 6 5 2 1 6 5 2 1 6 5 2 1 6 5 2 1 6 5 10 7 8 7 2 1 6 5 2 1 6 5 2 1 6 5 2 1 6 5 2 1 6 5 10 7 3 3-2 2-1 1-4 0-628 0 0-118 118-1 12-1 32-1 6-2 20 0 2-2 2-4 4-10 0-14-4-9-8-12-12-15-16-24-6-14-5-14-4-16-3-22-1-16-1-8 0-12 2-18 3-10 10-50 4-16 9-24 8-20 17-32 19-28 16-18 6-5 8-5 20-8 70-33 32-11 42-11 40-7 52-6 80-6z"/>
<path fill="#00ecdc" d="M2774 2525l77 0 0 371-20 0-16-6-6-3-1-2 0-8-2-4-4-4-9-4-12-1-106 22-50 9-88 4-48 0-22-2-4 1-1 1-1 2 32 24 3 2 5 4 3 2 7 6 2 1 6 5 2 1 6 5 2 1 6 5 2 1 6 5 2 1 6 5 2 1 6 5 2 1 6 5 2 1 6 5 2 1 6 5 2 1 6 5 2 1 6 5 11 8 7 6 2 1 54 41 2 1 6 5 2 1 22 17 10 7 8 7 2 1 6 5 2 1 6 5 2 1 6 5 2 1 6 5 2 1 6 5 10 7 3 3-2 2-1 1-4 0-628 0 0-116 118-2 12-1 32-1 6-2 22-1 3-6 4-12 1-10-2-6-10-17-21-29-6-10-7-14-5-14-4-16-3-22-2-34 3-20 10-50 7-24 8-21 11-23 15-26 16-23 16-19 10-8 12-8 66-31 38-15 42-13 44-8 58-7 54-5z"/>
<path fill="#00e7d3" d="M2767 2533l84-1 0 364-20 0-16-6-5-3-2-2 0-8-2-4-4-4-9-4-12-1-106 21-50 10-86 4-50 0-22-2-4 1-2 1 0 2 32 24 3 2 5 4 3 2 7 6 2 1 6 5 2 1 6 5 2 1 6 5 2 1 6 5 2 1 6 5 2 1 6 5 2 1 6 5 2 1 6 5 2 1 6 5 2 1 6 5 2 1 6 5 11 8 7 6 2 1 6 5 2 1 6 5 2 1 6 5 2 1 6 5 2 1 6 5 2 1 6 5 2 1 6 5 2 1 6 5 2 1 6 5 2 1 6 5 2 1 6 5 10 7 8 7 2 1 6 5 2 1 6 5 2 1 6 5 2 1 6 5 2 1 6 5 10 7 3 3-2 2-1 1-4 0-628 0 0-115 116-2 16-2 30-1 28-2 4-7 4-10 0-4 1-10-2-6-10-16-15-20-11-18-7-14-5-14-4-16-4-22-1-34 3-20 10-48 6-20 7-18 14-28 14-23 16-22 16-17 12-11 12-8 48-24 46-19 24-8 24-7 44-8 56-8 60-4z"/>
<path fill="#00e2ca" d="M2756 2541l95-1 0 356-20-1-16-5-5-3-2-2 1-8-2-4-4-4-10-4-12-1-106 21-50 10-86 4-50 0-22-2-4 1-2 1 0 2 24 18 3 2 5 4 3 2 5 4 3 2 7 6 2 1 6 5 2 1 6 5 2 1 6 5 2 1 6 5 2 1 6 5 2 1 6 5 2 1 6 5 2 1 6 5 2 1 6 5 2 1 6 5 2 1 6 5 11 8 7 6 2 1 38 29 2 1 14 11 2 1 6 5 2 1 6 5 2 1 6 5 2 1 6 5 10 7 8 7 2 1 6 5 2 1 6 5 2 1 6 5 2 1 6 5 2 1 6 5 10 7 3 3-2 2-1 1-4 0-628 0 0-114 116-2 16-2 30-1 28-3 2-1 3-6 4-10 0-4 1-10-2-6-9-16-16-22-10-16-7-14-6-16-4-16-3-20-1-34 3-20 8-38 7-22 8-21 12-23 14-23 16-21 16-18 12-11 13-9 15-9 22-11 50-22 24-8 24-7 44-10 54-7 62-5z"/>
<path fill="#00dec1" d="M2740 2549l111-1 0 347-20 0-16-5-7-5 1-8-2-4-4-4-10-4-12-1-106 21-50 9-86 5-50 0-22-3-4 1-2 2 0 2 24 18 3 2 5 4 3 2 5 4 3 2 7 6 2 1 6 5 2 1 6 5 2 1 6 5 2 1 6 5 2 1 6 5 2 1 6 5 2 1 6 5 2 1 6 5 2 1 6 5 2 1 6 5 2 1 6 5 11 8 7 6 2 1 6 5 2 1 6 5 2 1 6 5 2 1 14 11 2 1 14 11 2 1 14 11 2 1 14 11 10 7 8 7 2 1 6 5 2 1 6 5 2 1 6 5 2 1 6 5 2 1 6 5 10 7 3 3-2 2-1 1-4 0-628 0 0-113 114-2 18-2 30-1 28-3 3-2 3-6 4-10 1-6 0-8-2-8-8-14-19-26-8-14-8-16-5-16-4-14-2-18-1-34 3-20 8-34 6-20 7-19 12-23 14-22 16-21 16-17 12-11 14-11 14-9 18-9 24-12 26-10 24-9 24-7 44-10 48-8 58-5z"/>
<path fill="#00d9b8" d="M2724 2557l127-1 0 339-20 0-16-5-7-5 1-8-2-4-4-4-10-4-12-1-106 21-50 9-86 5-50 0-22-3-4 1-2 2 0 2 24 18 3 2 5 4 3 2 5 4 3 2 7 6 2 1 6 5 2 1 6 5 2 1 14 11 2 1 6 5 2 1 6 5 2 1 6 5 2 1 6 5 2 1 22 17 10 7 8 7 2 1 46 35 2 1 14 11 2 1 14 11 2 1 14 11 2 1 8 7 2 1 6 5 2 1 6 5 2 1 6 5 2 1 6 5 2 1 6 5 10 7 2 3-1 2-1 1-4 0-628 0 0-111 114-3 48-4 28-2 3-3 4-6 3-8 2-8 0-8-1-6-3-7-5-9-26-38-11-24-5-16-4-18-1-18 0-22 3-22 7-30 5-18 7-18 10-18 14-23 16-20 16-18 12-11 14-12 14-9 16-9 22-11 24-10 24-10 24-7 42-11 48-8 56-6z"/>
<path fill="#00d4af" d="M2708 2565l61-1 82-1 0 332-20 0-16-5-7-5 1-8-2-4-4-4-8-4-12-1-12 1-96 20-50 9-86 5-50 0-22-3-4 1-2 2 0 2 24 18 3 2 5 4 3 2 5 4 3 2 7 6 2 1 6 5 2 1 6 5 2 1 14 11 2 1 6 5 2 1 14 11 2 1 6 5 2 1 14 11 2 1 14 11 2 1 8 7 2 1 38 29 2 1 54 41 2 1 8 7 2 1 6 5 2 1 6 5 2 1 6 5 2 1 6 5 2 1 6 5 10 7 2 3-1 2-5 1-628 0 0-110 116-4 70-5 6-2 6-8 3-8 2-8 0-8-1-6-3-8-4-8-28-40-10-24-5-16-3-16-1-18 0-20 3-22 6-28 5-18 7-16 9-17 14-22 14-18 16-18 12-11 14-12 14-9 16-10 42-20 46-17 42-12 46-8 52-6z"/>
<path fill="#00cfa6" d="M2693 2573l62-2 96 0 0 324-20 0-16-6-6-4 1-8-2-4-4-4-9-4-12-2-12 2-96 20-50 9-86 5-50 0-22-3-4 1-2 2 0 2 24 18 3 2 5 4 3 2 5 4 3 2 7 6 2 1 14 11 2 1 46 35 2 1 14 11 2 1 6 5 10 7 8 7 2 1 14 11 2 1 6 5 2 1 6 5 2 1 6 5 2 1 6 5 2 1 6 5 2 1 6 5 2 1 6 5 2 1 6 5 2 1 6 5 10 7 8 7 2 1 6 5 2 1 6 5 2 1 6 5 2 1 6 5 2 1 6 5 10 7 2 3-1 2-5 1-628 0 0-109 114-4 72-6 4 0 3-2 6-8 4-10 1-8 0-8-1-6-7-14-27-40-11-24-5-16-2-14-1-16 0-20 2-22 6-26 5-18 6-16 9-17 12-18 14-18 14-15 26-24 14-11 16-10 18-10 22-10 44-17 42-12 44-10 50-6z"/>
<path fill="#00ca9d" d="M2747 2579l104 0 0 316-20-1-16-5-6-4 1-8-2-4-4-4-9-4-12-2-12 2-96 20-50 9-86 5-50 0-22-3-4 1-2 2 0 2 24 18 3 2 5 4 3 2 5 4 3 2 7 6 2 1 14 11 2 1 6 5 2 1 6 5 2 1 6 5 2 1 6 5 2 1 6 5 2 1 6 5 11 8 5 4 2 1 6 5 10 7 8 7 2 1 22 17 2 1 6 5 2 1 6 5 2 1 6 5 2 1 6 5 2 1 6 5 2 1 6 5 2 1 6 5 2 1 6 5 10 7 8 7 2 1 6 5 2 1 6 5 2 1 6 5 2 1 6 5 2 1 6 5 10 7 2 3-1 2-5 1-628 0 0-108 114-4 72-6 4-1 4-2 5-6 4-10 2-10 1-8-1-6-7-14-27-40-6-12-6-14-4-14-3-16-1-18 1-18 3-22 5-26 5-16 7-16 10-17 14-19 16-19 16-16 14-12 16-12 16-10 18-10 22-11 24-10 24-8 24-7 46-11 50-8 56-4z"/>
<path fill="#00c594" d="M2712 2587l139 0 0 307-20 0-16-5-6-4 1-8-2-4-4-4-9-4-12-2-12 2-96 20-50 9-88 5-48 0-22-3-4 1-2 2 0 2 24 19 3 1 5 5 3 1 5 5 3 1 7 7 2 0 6 6 2 0 6 6 2 0 6 6 2 0 6 6 2 0 6 6 2 0 6 6 2 0 6 6 2 0 6 6 2 0 6 6 2 0 6 6 2 0 6 6 10 6 8 8 10 6 6 6 2 0 6 6 2 0 6 6 2 0 6 6 2 0 6 6 2 0 6 6 2 0 6 6 2 0 6 6 2 0 6 6 11 7 5 5 2 0 8 8 2 0 6 6 2 0 6 6 2 0 6 6 2 0 6 6 2 0 6 6 10 6 2 3-1 2-5 1-628 0 0-107 16 0 98-4 72-6 8-3 4-3 2-4 4-10 3-12 0-8-1-6-7-14-26-38-6-12-6-14-4-12-3-14-1-18 0-16 3-20 5-26 4-18 6-14 7-14 12-17 14-16 16-17 14-13 16-12 16-12 16-9 20-11 20-9 46-17 44-12 48-9 52-5z"/>
<path fill="#00c08b" d="M2688 2595l51-1 112 0 0 300-20 0-16-5-6-4 1-4 0-4-2-4-4-4-9-4-12-2-12 2-96 20-50 9-88 5-48 0-22-3-4 1-2 2 0 2 24 19 3 1 5 5 3 1 5 5 3 1 7 7 2 0 6 6 2 0 6 6 2 0 6 6 2 0 6 6 2 0 6 6 2 0 6 6 2 0 6 6 2 0 6 6 2 0 6 6 2 0 6 6 2 0 6 6 10 6 8 8 2 0 6 6 2 0 6 6 2 0 6 6 2 0 6 6 2 0 6 6 2 0 6 6 2 0 6 6 2 0 6 6 2 0 6 6 2 0 6 6 2 0 6 6 10 6 8 8 2 0 6 6 2 0 6 6 2 0 6 6 2 0 6 6 2 0 6 6 10 6 2 3-1 2-5 1-628 0 0-106 16 0 98-4 74-7 4-1 4-2 5-7 7-22 0-8 0-6-7-14-26-38-11-22-5-14-3-12-1-28 1-18 4-24 5-22 5-16 7-14 9-14 12-15 14-15 14-13 16-13 32-22 36-19 44-18 44-13 44-10 50-6z"/>
<path fill="#00bc82" d="M2668 2603l61-2 122 1 0 292-20 0-16-5-6-4 1-4 0-4-1-4-4-4-10-5-12-1-12 2-96 20-50 9-88 5-48 0-22-3-4 1-2 2 0 2 24 19 3 1 5 5 3 1 5 5 3 1 7 7 2 0 6 6 2 0 6 6 10 6 6 6 2 0 6 6 2 0 6 6 2 0 6 6 2 0 6 6 2 0 6 6 2 0 6 6 11 7 5 5 2 0 8 8 2 0 6 6 2 0 6 6 2 0 6 6 2 0 6 6 10 6 54 42 2 0 8 8 2 0 6 6 2 0 6 6 2 0 6 6 2 0 6 6 2 0 6 6 10 6 2 3-1 2-5 1-628 0 0-104 32-1 82-4 60-6 18-2 6-3 4-5 7-24 1-8-1-8-7-14-25-36-11-21-5-13-3-12-2-26 2-20 3-20 5-24 4-15 5-11 7-12 10-12 12-14 30-27 32-23 34-19 40-18 44-14 44-11 46-8z"/>
<path fill="#00b779" d="M2700 2609l151 1 0 284-20 0-16-5-6-4 2-4 0-4-2-4-4-4-10-5-12-1-12 2-96 20-50 9-36 2-52 3-48 0-22-3-4 1-2 2 0 2 24 19 3 1 5 5 3 1 5 5 3 1 7 7 2 0 6 6 2 0 6 6 2 0 6 6 2 0 6 6 2 0 6 6 2 0 6 6 2 0 6 6 2 0 6 6 11 7 5 5 2 0 6 6 10 6 8 8 2 0 22 18 2 0 6 6 2 0 6 6 2 0 6 6 2 0 6 6 2 0 6 6 2 0 6 6 2 0 6 6 2 0 6 6 10 6 8 8 2 0 6 6 2 0 6 6 2 0 6 6 2 0 6 6 2 0 6 6 10 6 2 3-1 2-5 1-628 0 0-103 32-1 82-4 60-6 20-3 6-4 3-4 8-26 1-8-1-6-7-14-25-36-12-24-5-12-3-12-1-24 1-20 4-20 4-22 5-16 6-12 6-10 10-12 12-12 16-15 16-13 18-12 20-13 38-20 46-18 46-13 46-10 52-6z"/>
<path fill="#00b270" d="M2667 2617l62-1 122 2 0 276-20 0-16-5-6-4 2-4 0-4-2-4-4-4-10-5-12-1-12 2-96 20-50 9-36 2-52 3-48 0-22-3-4 1-2 2 0 2 24 19 3 1 5 5 3 1 5 5 3 1 7 7 2 0 6 6 2 0 6 6 2 0 6 6 2 0 6 6 2 0 6 6 2 0 14 12 2 0 14 12 2 0 6 6 2 0 6 6 10 6 8 8 10 6 6 6 2 0 6 6 2 0 6 6 2 0 6 6 2 0 6 6 2 0 14 12 2 0 14 12 2 0 14 12 2 0 8 8 2 0 6 6 2 0 6 6 2 0 6 6 2 0 6 6 2 0 6 6 10 6 2 3-1 2-5 1-628 0 0-102 34-1 10-1 46-2 8-1 18-1 60-5 18-3 6-3 3-4 10-28 1-8-1-6-5-10-25-36-10-18-7-16-4-10-2-10-1-14 1-12 1-16 6-30 5-22 4-10 5-10 7-9 10-11 32-27 34-24 36-20 40-18 46-15 42-11 46-7z"/>
<path fill="#00ae66" d="M2654 2625l73-1 86 2 38 0 0 268-20-1-16-5-6-3 2-6 0-2-2-4-4-4-10-5-12-1-12 2-96 20-50 8-36 3-52 3-48 0-22-3-4 1-2 1 0 3 24 19 3 1 5 5 3 1 5 5 3 1 7 7 2 0 6 6 2 0 6 6 2 0 6 6 2 0 6 6 2 0 6 6 2 0 6 6 2 0 6 6 2 0 6 6 2 0 6 6 2 0 6 6 2 0 6 6 10 6 8 8 2 0 6 6 2 0 6 6 2 0 6 6 2 0 6 6 2 0 6 6 2 0 6 6 2 0 6 6 2 0 6 6 2 0 6 6 2 0 6 6 2 0 6 6 10 6 8 8 2 0 6 6 2 0 6 6 2 0 6 6 2 0 6 6 2 0 6 6 10 6 2 3-1 2-5 1-628 0 0-101 34 0 10-2 20 0 8-2 44-2 8-1 32-3 6-1 14-1 18-2 8-4 3-4 10-28 1-8-1-6-4-10-25-35-12-20-8-19-4-14-1-6 0-22 2-16 10-48 2-8 5-9 6-9 8-9 12-11 20-16 28-20 38-22 38-17 42-15 46-13 46-8z"/>
<path fill="#00aa5d" d="M2647 2633l20-1 66 0 74 3 44 0 0 258-20 0-16-5-5-3 1-4 1-4-2-4-4-4-5-3-6-2-12-1-12 2-96 19-50 9-36 3-52 3-48-1-22-2-4 1-2 1 0 3 24 19 3 1 5 5 3 1 5 5 3 1 7 7 2 0 6 6 2 0 6 6 2 0 6 6 2 0 6 6 2 0 6 6 2 0 6 6 2 0 6 6 2 0 6 6 2 0 6 6 2 0 6 6 2 0 6 6 10 6 8 8 2 0 6 6 2 0 6 6 2 0 6 6 2 0 6 6 2 0 6 6 2 0 6 6 2 0 6 6 2 0 6 6 2 0 6 6 2 0 6 6 2 0 6 6 10 6 8 8 2 0 6 6 2 0 6 6 2 0 6 6 2 0 6 6 2 0 6 6 10 6 2 3-1 2-5 1-628 0 0-100 36 0 8-2 22 0 6-2 46-2 6-1 32-3 6-1 14-1 4-1 16-1 7-3 3-4 6-20 4-8 2-6 1-6 0-4-6-10-26-36-12-20-8-18-3-14-1-6 0-22 2-14 10-50 3-8 4-8 4-6 10-11 12-10 20-15 22-15 36-21 22-11 18-7 42-16 28-8 24-6 46-8z"/>
<path fill="#00a654" d="M2693 2639l44 0 10 2 40 0 14 2 50 0 0 250-20 0-16-5-5-3 2-4 0-4-2-4-4-4-5-3-6-2-12-1-108 21-50 9-36 3-52 2-48 0-22-2-4 1-2 1 0 3 24 19 3 1 5 5 3 1 5 5 3 1 7 7 2 0 6 6 2 0 6 6 2 0 6 6 2 0 6 6 2 0 6 6 2 0 6 6 2 0 6 6 2 0 6 6 2 0 6 6 2 0 6 6 2 0 6 6 10 6 8 8 2 0 6 6 2 0 6 6 2 0 6 6 2 0 6 6 2 0 6 6 2 0 6 6 2 0 6 6 2 0 6 6 2 0 6 6 2 0 6 6 2 0 6 6 10 6 8 8 2 0 6 6 2 0 6 6 2 0 6 6 2 0 6 6 2 0 6 6 10 6 2 3-1 2-5 1-628 0 0-98 39-1 7-2 20 0 6-1 22-1 6-1 18-1 8-1 14-1 6-1 12-1 6-1 12-1 6-1 13-1 9-2 3-4 6-20 7-15 2-7-1-4-2-6-4-6-8-10-27-38-11-26-4-14 0-6 0-20 8-44 5-20 2-6 6-10 16-16 12-10 36-24 36-20 46-21 34-12 48-14 28-6 46-6 18-1 10-2z"/>
<path fill="#00a34a" d="M2653 2647l24-1 48-1 78 3 48 0 0 245-20 0-16-5-5-3 2-4 0-4-2-4-4-4-5-3-6-2-12-1-108 21-50 9-36 3-52 2-48 0-22-3-4 1-2 2 0 3 24 19 3 1 5 5 3 1 5 5 3 1 7 7 2 0 6 6 2 0 6 6 2 0 6 6 2 0 6 6 2 0 6 6 2 0 6 6 2 0 6 6 2 0 6 6 2 0 6 6 2 0 6 6 2 0 6 6 10 6 8 8 2 0 6 6 2 0 6 6 2 0 6 6 2 0 6 6 2 0 6 6 2 0 6 6 2 0 6 6 2 0 6 6 2 0 6 6 2 0 6 6 2 0 6 6 10 6 8 8 2 0 6 6 2 0 6 6 2 0 6 6 2 0 6 6 2 0 6 6 10 6 2 3-1 2-5 1-628 0 0-97 40-1 8-2 18 0 8-1 20-1 6-1 40-3 6-1 12-1 6-1 32-3 10-3 3-4 6-20 6-14 2-6 0-6-2-6-4-6-9-10-26-38-10-20-4-14-2-12 1-20 4-22 8-32 3-10 5-8 5-8 8-8 20-16 42-27 40-20 36-16 44-14 44-11 46-8z"/>
<path fill="#009f41" d="M2666 2653l61-1 80 2 44 0 0 239-20 0-16-5-5-3 2-4 1-4-2-4-4-4-6-3-6-2-12-1-108 21-50 9-36 3-52 2-48 0-22-3-4 1-2 2 0 3 24 19 3 1 5 5 3 1 5 5 3 1 7 7 2 0 22 18 2 0 54 42 2 0 14 12 2 0 8 8 2 0 14 12 2 0 5 5 11 7 6 6 2 0 6 6 2 0 6 6 2 0 6 6 2 0 6 6 2 0 6 6 2 0 6 6 2 0 6 6 2 0 8 8 2 0 6 6 2 0 6 6 2 0 6 6 2 0 6 6 2 0 6 6 10 6 2 3-1 2-5 1-628 0 0-96 40-1 8-1 46-3 64-6 36-4 10-2 4-2 3-4 12-34 1-6 0-6-3-8-12-14-28-42-8-18-3-12-2-14 0-16 2-14 11-40 4-10 5-8 6-8 8-8 22-17 38-23 42-21 40-16 44-13 44-11 46-7z"/>
<path fill="#009b38" d="M2681 2659l50-1 120 1 0 233-20 0-16-4-4-3 2-4 0-4-2-4-4-4-6-4-6-2-12 0-108 21-50 9-36 3-52 2-48 0-22-3-4 1-2 2 0 3 24 19 3 1 5 5 3 1 5 5 3 1 7 7 2 0 6 6 2 0 6 6 2 0 6 6 2 0 6 6 2 0 6 6 2 0 6 6 2 0 6 6 2 0 6 6 2 0 6 6 2 0 6 6 2 0 6 6 11 7 7 7 2 0 6 6 2 0 6 6 2 0 6 6 2 0 6 6 2 0 6 6 2 0 6 6 2 0 6 6 2 0 6 6 2 0 6 6 2 0 6 6 2 0 6 6 10 6 8 8 2 0 6 6 2 0 6 6 2 0 6 6 2 0 6 6 2 0 6 6 10 6 2 3-1 2-5 1-628 0 0-95 40-1 100-8 36-4 20-2 10-2 4-3 2-4 12-34 1-6 0-6-5-10-9-12-30-42-5-12-3-12-3-14-1-8 1-14 2-12 5-20 5-16 5-12 5-8 8-10 8-8 24-18 36-21 42-20 42-15 46-14 44-9 48-7z"/>
<path fill="#00972e" d="M2692 2665l45-1 114 1 0 227-20 0-16-5-4-2 2-4 0-4-2-4-4-4-6-4-6-2-12 0-108 21-50 9-36 3-52 2-48 0-22-3-4 1-2 2-1 3 25 19 3 1 5 5 3 1 5 5 3 1 7 7 2 0 6 6 2 0 6 6 2 0 6 6 2 0 6 6 2 0 6 6 2 0 6 6 2 0 6 6 2 0 6 6 2 0 6 6 2 0 6 6 2 0 6 6 11 7 7 7 2 0 14 12 2 0 5 5 11 7 6 6 2 0 6 6 2 0 6 6 2 0 6 6 2 0 6 6 2 0 6 6 2 0 6 6 2 0 6 6 2 0 8 8 2 0 6 6 2 0 6 6 2 0 6 6 2 0 6 6 2 0 6 6 10 6 2 3-1 2-5 1-628 0 0-94 40-1 100-8 36-4 30-4 5-4 3-4 11-34 1-8-1-6-3-8-10-12-11-16-13-17-7-11-4-12-4-12-1-12-1-10 0-12 3-14 4-16 6-16 6-13 6-9 7-8 9-9 12-9 14-9 36-20 42-18 42-15 46-12 46-10 50-6z"/>
<path fill="#009325" d="M2701 2671l46-1 104 1 0 221-20 0-16-5-4-2 3-4 0-4-2-4-4-4-7-4-6-2-12-1-108 22-50 9-36 3-52 2-48 0-22-3-4 1-2 2-1 3 25 19 3 1 5 5 3 1 5 5 3 1 7 7 2 1 6 5 2 1 6 5 2 1 6 5 2 1 6 5 2 1 6 5 2 1 6 5 2 1 6 5 2 1 6 5 2 1 6 5 2 1 6 5 2 1 6 5 11 7 7 7 2 1 6 5 2 1 6 5 2 1 6 5 2 1 6 5 2 1 6 5 2 1 6 5 2 1 6 5 2 1 6 5 2 1 6 5 2 1 6 5 2 1 6 5 10 7 8 7 2 1 6 5 2 1 6 5 2 1 6 5 2 1 6 5 2 1 6 5 10 7 2 2-1 2-5 1-628 0 0-93 42-2 98-7 38-4 28-4 5-3 5-6 3-8 8-28 0-6 0-6-4-8-10-12-12-18-13-16-6-10-4-10-3-14-2-22 0-12 2-12 5-16 6-16 6-12 6-9 8-9 8-7 12-9 14-10 34-18 40-17 44-15 48-12 50-10 52-6z"/>
<path fill="#008f1c" d="M2707 2677l46-1 98 0 0 216-20 0-16-5-3-2 2-4 0-4-2-4-4-4-7-4-6-2-12-1-108 22-50 9-36 3-52 2-48 0-22-3-4 1-2 2-1 3 25 19 3 1 5 5 3 1 5 5 3 1 7 7 2 1 6 5 2 1 6 5 2 1 6 5 2 1 6 5 2 1 6 5 2 1 6 5 2 1 6 5 2 1 6 5 2 1 6 5 2 1 6 5 2 1 6 5 11 7 7 7 2 1 6 5 2 1 6 5 2 1 6 5 2 1 6 5 2 1 6 5 10 7 46 35 2 1 8 7 2 1 6 5 2 1 6 5 2 1 6 5 2 1 6 5 2 1 6 5 10 7 2 2-1 2-5 1-628 0 0-92 20 0 22-2 96-7 40-4 30-5 5-3 5-6 3-8 7-28 1-6-1-6-5-10-9-10-10-16-15-18-6-10-4-10-3-14-2-22 1-12 1-10 5-16 5-13 6-11 7-10 7-9 10-9 12-9 14-9 34-17 40-17 42-13 50-13 52-9 52-7z"/>
<path fill="#008b12" d="M2711 2683l44-1 96 0 0 210-20-1-15-4-4-2 3-4-1-4-2-4-4-4-5-3-6-3-6-1-8 0-108 22-50 9-36 3-52 2-48 0-14-1-8-2-4 1-2 2-1 3 25 19 3 1 5 5 3 1 5 5 3 1 7 7 2 1 6 5 2 1 6 5 2 1 6 5 2 1 6 5 2 1 6 5 2 1 6 5 2 1 6 5 2 1 6 5 2 1 6 5 2 1 6 5 2 1 6 5 11 7 7 7 2 1 6 5 2 1 6 5 2 1 6 5 2 1 14 11 2 1 14 11 2 1 14 11 2 1 14 11 10 7 8 7 2 1 6 5 2 1 6 5 2 1 6 5 2 1 6 5 2 1 6 5 10 7 2 2-1 2-5 1-628 0 0-91 22 0 60-5 58-4 38-4 30-5 6-3 5-5 4-8 6-30 1-6-1-6-5-10-9-10-11-18-14-16-6-10-4-10-3-14-1-22 0-12 2-10 5-16 5-12 6-11 8-10 16-16 12-9 14-8 32-16 38-16 42-13 50-11 56-11 54-7z"/>
<path fill="#008809" d="M2713 2689l42-2 96 1 0 203-20 0-14-4-4-2 2-4 0-4-2-4-4-4-6-4-7-2-13-1-108 22-50 8-36 4-42 1-10 1-48 0-14-1-8-2-4 1-2 1-1 4 25 19 3 1 5 5 3 1 5 5 3 1 7 7 2 1 6 5 2 1 6 5 2 1 6 5 2 1 6 5 2 1 6 5 2 1 6 5 2 1 6 5 2 1 6 5 2 1 6 5 2 1 6 5 2 1 6 5 11 7 7 7 2 1 22 17 2 1 14 11 2 1 6 5 2 1 6 5 2 1 6 5 2 1 6 5 2 1 6 5 2 1 14 11 2 1 8 7 2 1 6 5 2 1 6 5 2 1 6 5 2 1 6 5 2 1 6 5 10 7 2 2-1 2-5 1-628 0 0-90 22 0 38-4 22 0 58-5 38-4 32-5 8-4 4-5 3-8 6-30 0-6-1-6-5-10-9-10-11-18-6-8-9-9-5-9-5-12-2-14-1-16 1-20 4-14 4-11 6-12 6-9 10-11 10-10 24-16 30-15 40-16 40-12 50-11 60-11 56-7z"/>
<path fill="#018400" d="M2714 2695l39-2 98 0 0 198-20 0-14-5-3-1 2-4-1-4-2-4-4-4-6-4-7-2-13-1-108 22-50 8-36 3-42 2-10 1-48 0-14-1-8-2-4 1-2 1-1 4 25 19 2 1 6 5 2 1 6 5 2 1 8 7 2 1 6 5 2 1 6 5 2 1 6 5 2 1 6 5 2 1 6 5 2 1 6 5 2 1 6 5 2 1 6 5 2 1 6 5 2 1 6 5 2 1 6 5 10 7 8 7 2 1 6 5 2 1 6 5 2 1 6 5 2 1 6 5 2 1 6 5 2 1 6 5 2 1 6 5 2 1 6 5 2 1 6 5 2 1 6 5 2 1 6 5 10 7 8 7 2 1 6 5 2 1 6 5 2 1 6 5 2 1 6 5 2 1 6 5 10 7 2 2-2 2-4 1-628 0 0-89 24 0 8-2 50-2 8-2 20 0 8-2 22 0 8-2 14-1 46-6 10-4 6-5 3-8 1-16 4-18 0-8-6-13-9-9-11-18-6-8-10-10-5-8-4-12-2-14 0-16 0-20 8-24 6-10 5-7 12-14 10-9 22-14 28-14 40-16 38-11 46-10 68-12 58-8z"/>
<path fill="#0a8900" d="M2745 2699l106 0 0 191-20 0-16-5 2-4-1-4-2-4-5-4-6-4-8-2-12-1-108 22-50 8-36 3-42 2-10 1-48 0-14-1-8-2-4 1-2 1-1 4 25 19 2 1 6 5 2 1 6 5 2 1 8 7 2 1 6 5 2 1 6 5 2 1 6 5 2 1 6 5 2 1 6 5 2 1 6 5 2 1 6 5 2 1 6 5 2 1 6 5 2 1 6 5 2 1 6 5 10 7 8 7 2 1 6 5 2 1 6 5 2 1 6 5 2 1 6 5 2 1 6 5 2 1 6 5 2 1 6 5 2 1 6 5 2 1 6 5 2 1 6 5 2 1 6 5 10 7 8 7 2 1 6 5 2 1 6 5 2 1 6 5 2 1 6 5 2 1 6 5 10 7 2 2-2 2-632 1 0-88 24 0 8-2 20 0 8-2 22 0 8-2 20 0 8-2 22 0 8-2 16-1 46-6 12-4 4-4 2-6 2-20 4-18 0-6 0-4-7-12-5-4-5-6-5-10-10-14-10-9-4-5-6-14 0-10-2-6 1-34 6-20 9-17 14-16 10-9 22-14 28-14 42-15 38-11 54-10 86-15 66-7zM2483 3031l1 2 3 4 8 7 10 4 10 1 3 0-5-4-14-8-12-6z"/>
<path fill="#138e00" d="M2739 2705l112 0 0 185-20 0-14-5 1-4-2-4-2-4-5-5-6-3-8-3-12 0-108 22-50 8-36 3-42 2-10 1-48 0-14-2-8-2-4 1-2 2-1 4 25 19 2 1 6 5 2 1 6 5 2 1 8 7 2 1 6 5 2 1 6 5 2 1 6 5 2 1 6 5 2 1 6 5 2 1 6 5 2 1 6 5 2 1 6 5 2 1 6 5 2 1 6 5 2 1 6 5 10 7 8 7 2 1 6 5 2 1 6 5 2 1 6 5 2 1 6 5 2 1 6 5 2 1 6 5 2 1 6 5 2 1 6 5 2 1 6 5 2 1 6 5 2 1 6 5 10 7 8 7 2 1 6 5 2 1 6 5 2 1 6 5 2 1 6 5 2 1 6 5 10 7 2 2-2 2-632 1 0-87 26 0 6-2 22 0 8-2 22 0 6-2 22 0 8-2 22 0 6-2 16 0 6-2 10 0 6-2 24-2 16-3 2-1 3-8 0-24 4-14 1-12-8-14-1-2-5-3-4-5-5-10-10-14-9-8-5-6-6-14 0-10-2-6 1-34 6-18 10-18 22-21 23-15 30-14 39-14 39-10 53-10 8-1 4-1 8-1 4-1 32-5 4-1 10-1 18-3 10-1 4-1 26-3 6-1 12-1 6-1 12-1 6-1 20-1zM2459 3015l-1 2 1 2 10 16 8 9 10 7 8 3 10 3 32 3 3-1-19-12-22-13-34-17z"/>
<path fill="#1c9200" d="M2782 2713l69-1 0 177-18 0-9-2-4-2-6-12-7-6-12-5-12 0-108 21-50 9-36 3-42 2-10 1-48 0-14-2-8-2-4 1-3 4 1 3 16 12 2 1 6 5 2 1 6 5 2 1 6 5 2 1 7 6 11 8 6 5 2 1 6 5 2 1 6 5 2 1 6 5 2 1 6 5 2 1 6 5 2 1 6 5 2 1 6 5 2 1 6 5 2 1 6 5 2 1 6 5 2 1 8 7 2 1 6 5 2 1 6 5 2 1 6 5 2 1 6 5 2 1 6 5 2 1 6 5 2 1 6 5 2 1 6 5 2 1 6 5 2 1 6 5 2 1 6 5 10 7 8 7 2 1 6 5 2 1 6 5 2 1 6 5 2 1 6 5 2 1 6 5 10 7 2 2-2 2-632 1 0-87 26 0 8-1 22-1 6-1 22-1 8-1 50-2 6-2 16 0 24-4 16-1 22 2 4-1 3-3 2-4 0-6-2-26 3-14 2-12-8-14-4-4-4-2-3-4-4-6-1-4-9-12-15-16-6-14 0-10-2-6 2-32 5-16 6-10 8-12 11-10 10-7 18-11 24-11 36-11 38-10 116-20 102-15 50-6zM2437 3001l-1 2 15 36 8 10 11 8 13 5 16 4 12 1 16-2 8 0 14 2 14 4 3 0-67-39-40-21z"/>
<path fill="#259700" d="M2805 2721l46-1 0 168-18 0-8-2-4-3-6-10-7-6-13-5-12 0-108 21-50 9-36 3-42 2-10 1-48 0-14-2-8-2-4 1-3 4 1 3 16 12 2 1 6 5 2 1 6 5 2 1 6 5 2 1 7 6 11 8 6 5 2 1 6 5 2 1 6 5 2 1 6 5 2 1 6 5 2 1 6 5 2 1 6 5 2 1 6 5 2 1 6 5 2 1 6 5 2 1 6 5 2 1 8 7 2 1 6 5 2 1 6 5 2 1 6 5 2 1 6 5 2 1 6 5 2 1 6 5 2 1 6 5 2 1 6 5 2 1 6 5 2 1 6 5 2 1 6 5 10 7 8 7 2 1 6 5 2 1 6 5 2 1 6 5 2 1 6 5 2 1 6 5 10 7 2 2-2 2-632 1 0-86 26 0 8-1 22-1 8-1 20-1 8-1 50-3 6-1 16 0 26-4 12 1 8 2 7 3 17 12 4 0 4-4 1-6 0-10-7-24-2-12 0-6 4-10 1-12-4-8-5-7-3-3-4-2-3-4-4-6-2-4-8-12-15-16-6-14 0-10-2-6 2-28 4-12 3-7 6-10 8-10 10-9 10-7 18-10 22-8 28-8 34-7 126-20 124-21 38-5zM2417 2988l-1 1 8 12 4 12 1 16-3 30 1 6 4 4 16 2 4 2 18 1 6 1 18 1 6 1 6 1 12-1 6-5 6-2 12-1 14 3 32 11 3 0-19-12-72-42-48-25-27-13z"/>
<path fill="#2e9c00" d="M2813 2729l38-1 0 159-16 0-9-2-5-4-6-8-7-6-5-3-8-2-12 0-108 21-50 9-36 3-42 2-10 1-48 0-14-2-8-2-4 1-3 4 1 3 16 12 2 1 6 5 2 1 6 5 2 1 6 5 2 1 7 6 11 8 6 5 2 1 6 5 2 1 6 5 2 1 6 5 2 1 6 5 2 1 6 5 2 1 6 5 2 1 6 5 2 1 6 5 2 1 6 5 2 1 6 5 2 1 8 7 2 1 6 5 2 1 6 5 2 1 6 5 2 1 6 5 2 1 6 5 2 1 6 5 2 1 6 5 2 1 6 5 2 1 6 5 2 1 6 5 2 1 6 5 10 7 8 7 2 1 6 5 2 1 6 5 2 1 6 5 2 1 6 5 2 1 6 5 10 7 2 2-2 2-632 1 0-85 26 0 8-1 22-1 8-1 20-1 8-1 22-1 8-1 42-3 22-2 8 0 10 1 7 5 4 6-1 6-3 4-5 3-10 2-15 1 33 1 12-2 50 1 34 3 16 1 8 1 16 1 8 1 22 1 4-4 4-3 12-1 18 3 40 13 9 0-5-1-6-4-112-65-34-18-35-16-5 0 0 2 5 10 2 10 0 10-3 9-6 7-6 2-8-1-6-3-4-4-4-7-5-13 0-6 4-14 0-10-1-3-8-13-2-2-4-2-4-5-5-9-8-12-15-16-1-2 1-2-2 0-4-10-1-10-1-8 1-18 3-12 6-14 6-9 6-7 10-9 10-6 12-7 12-5 28-8 44-8 90-11 48-8 44-8 86-17 38-4z"/>
<path fill="#37a000" d="M2815 2737l36-1 0 150-16 0-8-2-5-3-8-10-9-6-12-4-10 1-108 21-50 9-36 3-42 2-10 1-48 0-14-2-8-2-4 1-3 4 1 3 16 12 2 1 6 5 2 1 6 5 2 1 6 5 2 1 7 6 11 8 6 5 2 1 6 5 2 1 6 5 2 1 6 5 2 1 6 5 2 1 6 5 2 1 6 5 2 1 6 5 2 1 6 5 2 1 6 5 2 1 6 5 2 1 8 7 2 1 6 5 2 1 6 5 2 1 6 5 2 1 6 5 2 1 6 5 2 1 6 5 2 1 6 5 2 1 6 5 2 1 6 5 2 1 6 5 2 1 6 5 10 7 8 7 2 1 6 5 2 1 6 5 2 1 6 5 2 1 6 5 2 1 6 5 10 7 2 2-2 2-632 1 0-84 26 0 10-2 20 0 136-10 10 2 6 5 2 4 0 4-3 4-2 2-7 3-24 3-30 2 28 1 14-1 30 0 10-1 46 1 86 7 20 1 4-1 8-4 12-2 18 3 40 12 20 3 7-1-5-1-24-9-112-66-38-20-30-13-6-1-3 2 2 24-2 6-3 6-4 4-6 1-4 0-6-3-6-8-4-10 1-6 4-10-1-12-1-4-8-12-7-5-2-3-7-12-9-12-8-8-2-5-2-1-1-4-3-4 1-2-3-2-2-4 0-10-2-6 2-16 2-8 5-14 11-15 14-12 10-7 12-5 28-9 32-5 92-8 36-4 80-14 56-14 26-6 44-6z"/>
<path fill="#40a500" d="M2814 2741l7-2 30 0 0 146-16 0-6-1-6-3-9-10-9-6-12-4-10 1-108 21-50 9-36 3-42 2-10 1-48 0-14-2-8-2-4 1-2 2-1 2 1 3 16 12 2 1 6 5 2 1 6 5 2 1 6 5 2 1 6 6 12 8 6 5 2 1 6 5 2 1 6 5 2 1 6 5 2 1 6 5 2 1 6 5 2 1 6 5 2 1 6 5 2 1 6 5 2 1 6 5 2 1 6 5 2 1 8 7 2 1 6 5 2 1 6 5 2 1 6 5 2 1 6 5 2 1 6 5 2 1 6 5 2 1 6 5 2 1 6 5 2 1 6 5 2 1 6 5 2 1 6 5 10 7 8 7 2 1 6 5 2 1 6 5 2 1 6 5 2 1 6 5 2 1 6 5 10 7 2 2-2 2-632 1 0-84 26 1 10-2 20 0 136-10 8 2 3 2 3 4 0 6-3 4-2 2-7 2-20 3-32 3-1 0-1 2 34 1 10-2 30 0 14-1 38 1 92 8 20 1 14-5 12 0 18 3 38 10 38 5 4-1-4-2-6-1-32-12-116-68-36-20-26-11-10-1-2 0-3 3-1 8-1 18-2 4-3 4-6 2-4 0-4-2-6-8-3-8 1-4 4-6 1-4-3-14-8-14-8-7-15-23-10-10-1-4-4-4-2-8-5-6-2-18 2-14 6-18 8-12 17-17 14-8 28-10 12-2 7-1 5-1 12-1 4-1 18-1 8-2 20 0 6-1 19-1 5-1 20-1 6-1 14-1 6-2 9 0 5-2 9 0 17-4 7 0 15-4 7 0 11-3 17-3 47-13 38-8 10-1 4-1 13-1 5-1 15-1 5-1z"/>
<path fill="#49a900" d="M2819 2741l32-1 0 144-16 0-8-2-4-3-8-8-6-4-8-4-10-2-10 1-106 21-36 7-28 3-76 5-46 0-14-2-8-2-4 1-2 1-1 3 1 3 16 12 2 1 6 5 2 1 6 5 2 1 6 5 2 1 6 6 12 8 6 5 2 1 6 5 2 1 6 5 2 1 6 5 2 1 6 5 2 1 6 5 2 1 6 5 2 1 6 5 2 1 6 5 2 1 6 5 2 1 6 5 2 1 8 7 2 1 6 5 2 1 6 5 2 1 6 5 2 1 6 5 2 1 6 5 2 1 6 5 2 1 6 5 2 1 6 5 2 1 6 5 2 1 6 5 2 1 6 5 10 7 8 7 2 1 6 5 2 1 6 5 2 1 6 5 2 1 6 5 2 1 6 5 10 7 1 2-1 2-632 1 0-83 26 0 12-1 18-1 136-9 8 3 4 4 0 6-2 3-4 2-6 2-18 3-32 3-2 1-1 2 3 1 20 0 66-1 38 1 102 8 12 0 14-3 12 0 18 2 36 9 38 5 8 1 2-1-2-2-34-12-12-5-114-68-36-19-24-11-10-2-4 0-4 2-4 5-3 8-1 14-2 6-2 2-4 1-6-2-4-5-4-8 1-4 5-4 2-4-1-4-4-12-9-14-7-8-15-22-10-11-12-23-2-16 4-20 4-12 8-12 16-15 14-9 30-10 40-6 44-3 32-3 18-1 50-6 46-8 28-6 40-11 34-8 26-4z"/>
<path fill="#52ae00" d="M2815 2743l12-1 24-1 0 141-16 0-6-1-6-3-13-11-9-4-10-2-10 1-106 21-36 6-28 4-76 5-46 0-14-2-8-2-4 1-2 1-1 3 1 3 10 7 6 5 2 1 6 5 2 1 6 5 2 1 6 5 2 1 6 6 12 8 6 5 2 1 6 5 2 1 6 5 2 1 6 5 2 1 6 5 2 1 6 5 2 1 6 5 2 1 6 5 2 1 6 5 2 1 6 5 2 1 6 5 2 1 8 7 2 1 6 5 2 1 6 5 2 1 6 5 2 1 6 5 2 1 6 5 2 1 6 5 2 1 6 5 2 1 6 5 2 1 6 5 2 1 6 5 2 1 6 5 10 7 8 7 2 1 6 5 2 1 6 5 2 1 6 5 2 1 6 5 2 1 6 5 10 7 1 2-1 2-632 1 0-82 26 0 12-1 18-1 134-9 8 2 4 4 0 2 0 4-4 4-6 2-18 3-32 4-3 1 0 2 1 2 2 0 16 0 70-1 36 1 102 9 12 0 16-2 12-1 16 2 40 9 48 5 1-2-5-3-32-11-14-7-112-68-34-18-24-11-12-3-6 1-4 2-15 14 4 12-1 6-1 2-3 1-2 0-4-3-6-8-1-4 1-2 10-4 1-2-14-26-5-8-6-6-15-22-11-12-11-22-1-14 1-12 2-10 5-12 8-12 14-14 14-8 30-11 40-6 94-7 50-6 46-8 28-6 40-11 34-8 44-6z"/>
<path fill="#5bb300" d="M2821 2743l30-1 0 139-16 0-6-1-6-3-7-6-7-5-8-3-10-2-10 0-10 2-52 11-80 15-28 4-76 5-46 0-14-2-8-2-4 1-2 1-1 3 1 3 10 7 6 5 2 1 6 5 2 1 6 5 2 1 6 5 2 1 6 6 12 8 6 5 2 1 6 5 2 1 6 5 2 1 6 5 2 1 6 5 2 1 6 5 2 1 6 5 2 1 6 5 2 1 6 5 2 1 6 5 2 1 6 5 2 1 8 7 2 1 6 5 2 1 6 5 2 1 6 5 2 1 6 5 2 1 6 5 2 1 6 5 2 1 6 5 2 1 6 5 2 1 6 5 2 1 6 5 2 1 6 5 10 7 8 7 2 1 6 5 2 1 6 5 2 1 6 5 2 1 6 5 2 1 6 5 10 7 1 2-1 2-632 1 0-81 26 0 12-2 20 0 132-9 6 1 4 4 1 2-1 4-4 4-6 2-16 3-32 3-3 2-1 2 2 2 16 1 72 0 36 1 100 9 14 0 18-2 12 0 16 2 44 8 38 4 10 0 0-1-10-5-33-13-13-6-104-65-32-18-24-12-14-5-10-1-8 3-10 8-4 1-4-2-4-5-12-20-8-9-14-21-11-12-10-20-1-4-1-12 1-12 2-10 5-12 8-12 15-14 14-8 28-10 24-4 16-2 96-7 48-6 46-8 28-6 40-11 36-8 26-4zM2381 3001l4-1 6 3 4 6 0 4-2 1-4-1-6-7z"/>
<path fill="#64b700" d="M2813 2745l16-2 22 0 0 137-16 0-6-1-6-3-14-10-8-3-10-2-20 2-52 11-80 15-28 4-76 5-46 0-14-2-8-2-4 0-2 2-1 3 0 2 1 1 10 7 6 5 2 1 6 5 2 1 6 5 2 1 6 5 2 1 6 6 12 8 6 5 2 1 6 5 2 1 6 5 2 1 6 5 2 1 6 5 2 1 6 5 2 1 6 5 2 1 6 5 2 1 6 5 2 1 6 5 2 1 6 5 2 1 8 7 2 1 6 5 2 1 6 5 2 1 6 5 2 1 6 5 2 1 6 5 2 1 6 5 2 1 6 5 2 1 6 5 2 1 6 5 2 1 6 5 2 1 6 5 10 7 8 7 2 1 6 5 2 1 6 5 2 1 6 5 2 1 6 5 2 1 6 5 10 7 1 2-1 2-632 0 0-80 26 1 12-2 20 0 132-9 6 1 3 3 1 2-2 4-4 3-22 5-30 4-4 2 0 3 2 2 16 1 70 0 38 2 100 9 46-1 58 8 48 5 4-1-14-8-29-12-16-8-103-64-32-19-24-12-14-5-10-1-8 2-12 8-4 1-4-2-4-4-10-16-9-12-14-20-11-13-6-9-4-10-1-4-1-10 0-12 3-12 4-10 7-12 16-15 14-8 28-10 24-4 20-2 92-7 48-6 46-8 28-6 40-11 36-8 26-4zM2384 3003l1 0 3 2 4 6-1 1-2-2z"/>
<path fill="#6dbc00" d="M2822 2745l29-1 0 136-16 0-6-1-6-3-8-7-8-4-6-3-10-1-20 2-42 9-66 13-52 8-36 2-8 1-20 0-12 2-46 0-14-2-8-3-5 2-2 4 0 2 1 1 10 7 6 5 2 1 6 5 2 1 6 5 2 1 6 5 2 1 6 6 12 8 6 5 2 1 6 5 2 1 6 5 2 1 6 5 2 1 6 5 2 1 6 5 2 1 6 5 2 1 6 5 2 1 6 5 2 1 6 5 2 1 6 5 2 1 8 7 2 1 6 5 2 1 6 5 2 1 6 5 2 1 6 5 2 1 6 5 2 1 6 5 2 1 6 5 2 1 6 5 2 1 6 5 2 1 6 5 2 1 6 5 10 7 8 7 2 1 6 5 2 1 6 5 2 1 6 5 2 1 6 5 2 1 6 5 10 7 1 2-1 2-632 0 0-79 26 0 12-1 20-1 132-8 6 1 3 4-1 3-4 3-20 5-32 5-4 2-1 2 1 2 4 2 14 1 64 0 42 2 102 10 48 0 56 7 58 5 2-1-3-2-5-1-14-7-42-20-106-67-32-19-24-12-14-5-10-1-8 2-12 9-4 1-4-2-4-4-32-46-12-14-6-10-4-12-1-14 1-12 5-16 8-14 15-14 18-10 26-9 24-4 20-2 90-6 48-6 46-8 28-6 42-12 34-8 28-4z"/>
<path fill="#76c100" d="M2834 2745l17 0 0 134-16 0-6-1-4-2-17-11-7-3-10-1-20 2-42 9-66 13-52 8-36 2-8 1-20 0-12 2-46 0-14-2-8-3-5 2-2 4 0 2 1 1 10 7 6 5 2 1 6 5 2 1 6 5 2 1 6 5 2 1 6 6 12 8 6 5 2 1 6 5 2 1 6 5 2 1 6 5 2 1 6 5 2 1 6 5 2 1 6 5 2 1 6 5 2 1 6 5 2 1 6 5 2 1 6 5 2 1 8 7 2 1 6 5 2 1 6 5 2 1 6 5 2 1 6 5 2 1 6 5 2 1 6 5 2 1 6 5 2 1 6 5 2 1 6 5 2 1 6 5 2 1 6 5 10 7 8 7 2 1 6 5 2 1 6 5 2 1 6 5 2 1 6 5 2 1 6 5 10 7 1 2-1 2-632 0 0-78 26 0 12-1 22-1 14-1 116-7 6 1 2 3-1 2-3 3-18 5-36 6-3 2-1 2 1 2 3 2 14 2 88 2 118 11 54 0 56 6 56 4 2 0 1-1-3-2-6-1-10-6-46-23-106-68-32-19-24-12-14-5-10-1-6 2-4 2-10 8-4 1-4-1-6-7-29-42-12-14-6-10-4-12-1-14 1-12 5-16 8-13 14-14 18-10 26-9 24-4 20-2 42-2 72-7 50-8 42-8 56-15 26-6 46-6z"/>
<path fill="#7fc500" d="M2822 2747l7-1 22 0 0 132-16 0-6-1-21-12-7-3-10-2-20 3-42 9-66 13-52 8-36 2-8 1-22 0-10 2-46 0-14-2-8-3-5 2-2 4 0 2 1 1 16 12 2 1 6 5 2 1 6 5 2 1 6 5 2 1 6 6 20 14 6 5 2 1 6 5 2 1 6 5 2 1 6 5 2 1 6 5 2 1 6 5 2 1 6 5 2 1 6 5 2 1 6 5 2 1 6 5 2 1 8 7 2 1 6 5 2 1 6 5 2 1 6 5 2 1 6 5 2 1 6 5 2 1 6 5 2 1 6 5 2 1 6 5 2 1 6 5 2 1 6 5 18 13 8 7 2 1 6 5 2 1 6 5 2 1 6 5 2 1 6 5 18 13 1 2-1 2-632 0 0-77 28 0 10-2 24 0 12-2 26 0 10-2 24 0 10-2 46-2 6 1 1 2-1 2-4 3-8 2-44 8-4 3 0 2 0 2 4 3 14 2 28 0 60 2 120 12 54 1 54 5 58 3 2-2-3-2-7-2-53-28-109-71-30-18-26-13-14-5-10-1-6 1-4 2-10 11-4 1-4-2-6-6-28-42-12-13-6-10-5-12 0-14 0-10 5-16 8-14 14-14 18-10 12-5 14-4 24-4 20-2 46-3 68-6 50-8 42-8 48-13 34-8 46-6z"/>
<path fill="#88ca00" d="M2828 2747l23 0 0 130-16 0-6-1-24-13-14-3-20 3-42 9-54 10-36 7-28 4-36 2-8 1-22 0-10 2-46-1-14-1-8-3-5 2-2 4 0 2 1 1 24 18 2 1 6 5 2 1 6 5 2 1 6 6 28 20 6 5 2 1 6 5 2 1 6 5 2 1 6 5 2 1 6 5 2 1 6 5 2 1 6 5 2 1 6 5 2 1 6 5 2 1 8 7 2 1 78 59 18 13 8 7 2 1 6 5 2 1 6 5 2 1 6 5 26 19 1 2-1 2-632 0 0-76 28 0 10-2 26 0 10-2 28 0 8-2 60-3 10-1 12 0 4 2-1 2-3 2-52 11-4 3-2 2 0 2 4 3 16 3 28 0 10 1 26 0 24 2 120 12 56 1 36 2 16 2 59 2 1-2-2-2-8-2-47-26-115-76-30-18-28-14-14-6-6 0-6 0-8 5-8 11-2 2-6-2-5-6-29-42-12-13-5-9-5-12 0-16 0-8 6-18 8-13 14-13 18-10 24-8 24-4 22-2 46-3 68-6 50-8 40-8 48-13 34-8 29-4z"/>
<path fill="#91ce00" d="M2823 2749l6-1 22 0 0 128-16 0-6-1-24-12-14-3-20 3-52 11-96 17-34 3-14 1-8 1-22 0-8 1-48 0-14-1-8-3-6 2-1 4 0 2 1 1 42 31 6 6 52 38 6 5 2 1 6 5 2 1 6 5 2 1 6 5 2 1 6 5 2 1 6 5 2 1 8 7 2 1 6 5 2 1 6 5 2 1 6 5 2 1 6 5 2 1 6 5 2 1 6 5 50 37 8 7 50 37 1 2-1 2-632 0 0-75 30 0 8-2 28 0 8-2 28 0 8-2 26 0 8-2 26 0 10-2 12 0 3 1-3 3-52 11-6 4-1 4 1 2 3 2 15 2 30 1 8 1 28 0 8 2 16 0 118 13 92 3 18 2 56 1 4-1 1-2-3-2-8-3-51-29-113-76-27-16-35-19-12-4-6 0-4 1-4 1-4 4-7 15-3 0-4-1-4-5-28-42-14-15-4-7-5-14 0-16 2-14 4-10 7-12 14-13 18-10 24-8 26-4 12-1 8-1 46-3 8-1 42-3 18-2 50-8 40-8 48-13 34-8 48-6z"/>
<path fill="#9ad200" d="M2829 2749l22 0 0 126-16 0-6-1-26-12-12-2-20 3-52 11-96 17-34 3-16 1-6 1-22 0-8 1-48 0-14-1-8-3-4 1-2 1-1 4 0 2 1 1 42 31 6 6 100 74 8 7 2 1 6 5 90 67 8 7 50 37 1 2-1 2-4 0-628 0 0-74 32 0 7-2 29 0 8-2 28 0 6-2 28 0 6-2 30 0 6-2 9 0 1 2-50 11-9 5-2 4 0 2 5 3 18 2 28 1 8 1 28 0 8 2 18 0 6 2 14 0 42 6 12 0 6 1 30 3 6 1 22 1 10 1 64 1 12 2 60 0 4 0 1-1 0-2-2-2-9-3-40-24-120-81-29-18-41-23-14-5-6 0-4 1-3 3-4 8-3 14-4 0-6-6-28-41-12-13-6-9-4-13 0-18 2-12 4-10 8-12 10-10 6-5 12-7 27-8 25-4 14-1 6-1 20-1 6-1 22-1 6-1 18-1 6-1 20-1 5-1 11 0 17-4 9 0 5-2 19-2 42-9 47-13 35-8 22-2 6-2 12 0 6-2 16 0 6-2 16 0z"/>
<path fill="#a4d600" d="M2832 2751l19 0 0 124-16 0-6-1-26-12-12-2-20 3-42 9-54 10-36 7-28 3-36 2-8 2-22 0-10 1-46 0-14-2-8-2-4 1-2 1-2 4 1 2 1 1 42 31 6 6 100 74 8 7 156 117 1 2-1 2-4 0-628 0 0-73 32 1 10-2 42-1 8 2 4 3 1 4-2 6 1 2 14 1 6 1 28 1 8 2 26 0 10 2 26 0 8 1 20 1 6 1 12 1 6 1 12 0 6 2 12 0 6 2 12 0 6 2 12 0 6 2 12 0 8 2 20 0 12 1 64 1 10 1 62 1 6-1 0-1-1-2-2-2-9-4-40-24-70-48-60-40-88-52-2 0-2 1-3 11-3 5-6 2-6-2-8-8-14-19-12-13-6-11-3-10 0-16 2-10 4-12 6-10 15-15 14-8 28-8 26-4 14 0 6-2 46-2 8-1 16-1 8-1 18-1 6-1 10-1 52-8 30-6 26-6 40-11 28-6 22-3 4-1 36-3 6-1 16-1z"/>
<path fill="#adda00" d="M2828 2755l23-1 0 120-16 0-6-1-26-11-12-2-20 3-42 9-54 10-36 6-28 4-38 2-6 2-22 0-10 1-46 0-14-2-8-2-4 0-2 2-2 4 1 2 1 1 42 31 6 6 100 74 8 8 156 116 1 2-1 2-4 0-628 0 0-70 30 0 18-1 30 0 6 2 4 2 3 3 2 6 5 2 18 2 24 0 10 2 26 0 10 2 26 0 10 1 18 1 8 1 48 5 6 1 12 0 6 2 12 0 6 2 12 0 6 1 24 1 6 1 68 1 8 1 72 1 2-1-6-6-12-5-38-24-71-49-53-35-7-5-85-50-4-2-2 1-6 9-4 3-6 0-6-3-6-5-12-15-11-12-7-12-2-10 0-14 5-22 5-8 5-6 13-11 12-8 22-6 32-4 68-4 48-4 32-4 68-11 64-16 30-7 26-4z"/>
<path fill="#b6de00" d="M2813 2759l38-1 0 115-16 0-6-1-26-10-12-2-20 2-22 6-74 14-36 6-30 4-36 2-6 2-22 0-4 1-8 0-44 0-14-2-8-3-4 1-2 2-2 4 1 2 1 1 42 31 6 6 100 74 6 6 158 118 1 2-1 2-4 0-628 0 0-67 74 0 10 3 4 3 5 5 5 1 18 2 124 6 62 7 48 4 6 1 22 0 8 2 68 0 10 2 66 0 4 0 5-1-3-1-8-6-7-3-13-8-6-4-22-14-70-48-48-32-6-3-6-5-86-51-4-1-2 0-8 8-4 1-6-1-6-3-6-5-19-22-7-12-3-10-1-12 2-10 3-12 7-12 16-15 12-7 22-6 34-4 90-4 54-6 72-12 64-16 28-5 28-5z"/>
<path fill="#bfe300" d="M2832 2761l19 0 0 111-22 0-24-10-12-3-22 3-22 6-74 14-36 6-30 4-36 2-6 2-22 0-4 1-8 0-44 0-14-2-8-3-4 1-2 2-2 4 1 2 1 1 42 31 6 6 100 74 6 6 158 119 1 1-1 1-4 1-628 0 0-64 72 0 10 3 12 7 20 3 126 5 116 11 22 1 8 1 66 1 10 1 66 0 14 1-2-2-4-2-6-4-12-6-38-24-70-49-60-40-86-51-4-1-2 0-8 6-6 1-6-1-6-4-23-25-7-12-2-8-1-12 2-12 4-12 8-12 13-12 12-8 22-5 34-3 66-2 68-6 38-5 42-8 70-16 32-7 40-5z"/>
<path fill="#c9e700" d="M2815 2765l36-1 0 108-22-1-26-10-10-2-22 3-22 5-74 15-36 6-30 4-36 2-6 2-20 0-8 1-8 0-42 0-14-2-8-3-4 1-2 1-2 5 1 2 1 1 42 31 6 6 100 74 6 6 158 119 1 1-1 1-4 1-628 0 0-61 70 1 10 1 14 7 20 2 124 5 118 11 22 0 8 1 24 1 42 0 12 1 80 1-36-21-28-18-130-88-85-51-5-2-2 1-8 3-6 2-6-2-6-3-22-23-7-12-2-10-1-10 1-10 3-12 7-12 13-12 14-10 10-2 30-4 82-1 46-4 26-3 40-5 38-7 96-22 28-4z"/>
<path fill="#d2eb00" d="M2804 2769l23-2 24 0 0 104-22-1-26-9-10-2-22 3-22 5-74 15-36 6-30 4-36 2-6 1-20 1-8 1-8 0-42 0-14-2-8-3-4 1-2 1-2 5 0 2 2 2 42 30 6 6 100 74 6 6 158 119 1 1-1 1-4 1-628 0 0-58 72 1 8 1 16 6 18 2 124 5 118 9 22 1 8 1 24 0 42 1 12 1 62 0 8 1 11-1-9-5-8-5-10-5-38-24-130-88-84-51-6-2-12 3-4 0-6-1-6-4-20-20-4-6-4-8-2-8-1-10 1-10 3-12 4-8 9-11 8-7 12-7 8-2 14-2 20-2 82 0 68-6 38-5 40-7 98-21z"/>
<path fill="#dbef00" d="M2816 2771l35-1 0 100-22 0-26-9-10-2-22 3-22 5-74 15-36 6-30 4-36 2-6 1-20 1-8 1-10 0-40 0-6-1-8-1-4-2-4-1-4 1-4 4 0 4 8 6 142 107 6 5 100 75 6 5 44 33 8 6 1 1-1 1-4 1-628 0 0-55 74 1 22 5 18 2 124 5 118 9 54 2 42 0 12 1 62 0 8 1 10 0 2-1-38-22-158-106-84-51-6-2-16 3-6-2-6-4-19-18-4-6-4-8-2-8-1-10 1-10 3-12 3-8 9-11 8-6 8-5 4-3 8-2 14-2 20 0 80 1 68-6 38-5 38-6 108-23 30-5z"/>
<path fill="#e4f300" d="M2804 2775l23-2 24 0 0 97-22-1-26-8-10-2-22 3-22 5-74 15-36 6-30 4-14 0-6 2-16 0-6 1-22 1-6 1-34 0-17 0-5-1-8-1-4-2-4-1-4 1-2 1-2 5 0 2 2 2 42 31 6 5 100 75 6 5 150 113 8 6 1 1-1 1-4 1-628 0 0-51 76 0 20 4 18 2 124 4 118 8 54 2 42 1 12 1 82 0 0-1-36-21-30-20-130-87-84-51-6-3-16 2-6-2-6-3-8-7-10-11-5-7-4-8-2-8 0-10 1-10 2-10 5-10 7-8 8-7 8-4 4-4 8-2 32-1 80 2 68-5 36-4 40-7 110-23z"/>
<path fill="#eef700" d="M2815 2777l36-1 0 93-22 0-26-9-10-1-22 3-22 5-74 14-36 7-30 4-14 0-6 2-16 0-6 1-22 1-6 1-42 0-8 0-6-1-8-1-4-2-4-1-4 0-2 2-2 3 0 4 8 6 142 107 6 5 100 75 6 5 44 33 8 6 1 1-1 1-4 1-628 0 0-49 76 0 22 4 16 1 124 4 118 8 54 2 116 1 20 1 0-3-37-21-159-107-56-34-30-18-6-1-10 1-6-1-6-3-6-4-16-16-5-7-3-8-2-8 0-10 1-12 2-8 5-8 8-10 18-13 8-1 30-1 78 4 28-1 40-4 38-4 40-7 118-24z"/>
<path fill="#f7fb00" d="M2830 2779l21 0 0 90-22-1-26-8-10-2-22 4-22 5-74 14-36 7-30 4-14 0-6 1-16 1-6 1-22 0-8 2-42 0-20-2-4-2-4-1-4 0-2 2-2 3 0 4 8 6 36 27 6 5 100 75 6 5 158 119 1 1-3 2-630 0 0-47 76 1 38 4 124 3 38 2 26 2 108 5 137 2 0-2-1-1-36-21-160-107-84-52-6-2-12 0-6-1-6-2-6-4-8-7-8-9-4-7-3-7-2-8-1-10 1-10 3-10 5-10 7-7 16-11 2-2 8-2 28 0 78 5 26-1 40-3 40-4 40-6 126-26 36-5z"/>
<path fill="#fffd00" d="M2813 2783l38-1 0 86-22 0-24-7-12-3-22 4-22 5-74 14-36 7-30 4-14 0-6 1-16 1-6 1-22 0-8 2-40 0-8 0-6-2-7 0-5-3-4-1-4 1-2 1-2 4 0 4 8 6 142 107 6 5 100 75 6 5 44 33 8 6 1 1-1 1-4 1-628 0 0-44 76 0 38 3 126 3 36 2 26 2 98 4 10 1 138 1-2-3-36-21-160-108-84-51-6-3-12 0-6-1-6-3-6-4-14-14-5-8-4-8-2-8 0-10 1-10 2-8 4-8 8-9 16-11 2-2 8-2 28 1 76 7 24-1 40-2 38-5 34-5 40-7 88-18z"/>
<path fill="#fff400" d="M2816 2787l35-1 0 81-22 0-24-7-12-2-22 4-22 5-74 14-36 6-30 4-14 1-6 1-16 1-6 1-22 0-8 2-40 0-8 0-6-2-7 0-7-3-4-1-4 2-2 4 0 4 8 7 36 26 6 6 100 74 6 6 4 2 4 4 92 68 6 6 52 38 1 1-1 1-2 1-630 0 0-40 74-1 38 2 144 4 44 2 100 3 10 1 138 1 0-2-2-1-36-22-160-107-56-35-30-19-6-2-10 0-6-1-12-7-14-14-4-6-3-8-2-8-1-10 1-10 2-8 4-8 6-8 17-11 3-3 5-1 22 1 82 9 24 0 38-2 42-4 34-5 43-8 89-18z"/>
<path fill="#ffeb00" d="M2819 2791l32-1 0 76-22 0-24-6-12-2-118 23-66 10-14 1-6 1-16 0-6 2-22 0-8 2-40 0-20-2-8-4-4 0-4 2-2 4 0 4 8 7 36 26 6 6 100 74 6 6 4 2 4 4 92 68 6 6 52 38 0 2-2 1-630 0 0-36 16 0 10-2 46 0 44 2 142 2 22 1 20 2 98 2 12 1 138 1 1-1-1-2-2-2-36-22-148-99-68-43-34-21-16-2-6-2-8-5-13-14-4-6-4-8-1-8-1-10 2-16 4-8 7-8 18-13 4-1 16 0 88 13 24 0 38-2 44-4 32-5 48-8 90-18z"/>
<path fill="#ffe200" d="M2821 2795l14-1 16 0 0 71-22 0-24-6-12-2-119 24-65 10-14 1-6 1-16 0-6 2-22 0-8 1-40 1-20-2-6-3-6-1-4 1-2 5 0 4 8 7 36 26 6 6 92 68 4 4 4 2 6 6 92 68 4 4 4 2 6 6 44 32 8 6 0 2-2 1-630 0 0-33 16 0 10-2 46 0 202 3 20 2 104 1 12 2 138 0 1-1-1-2-2-2-47-30-135-91-70-45-33-20-17-3-6-2-8-6-13-13-4-6-3-8-2-8 0-10 1-10 2-6 4-8 5-6 18-12 4-2 6 0 10 1 86 16 34 0 56-4 40-5 58-9 96-20z"/>
<path fill="#ffd800" d="M2822 2799l13-2 16 0 0 68-20-1-38-7-120 24-20 3-15 3-25 3-4 1-14 0-6 2-16 0-6 2-22 0-8 1-42 0-18-1-6-3-6-1-4 1-2 5 0 4 8 7 4 2 12 10 20 14 6 6 68 50 4 4 4 2 4 4 4 2 4 4 4 2 4 4 4 2 6 6 68 50 4 4 4 2 4 4 4 2 4 4 4 2 4 4 4 2 6 6 44 32 8 6 0 2-2 1-630 0 0-31 62-1 210 1 10 0 8 2 108 1 10 1 140 0 1-1-2-4-45-28-120-82-86-56-36-22-14-2-8-3-6-4-13-13-4-6-4-8-1-8-1-10 1-10 1-6 5-8 4-6 20-13 4-1 14 2 86 19 34 0 10-1 22-1 10-1 16-1 38-4 82-14 72-15z"/>
<path fill="#ffcf00" d="M2827 2801l8-1 16 0 0 64-20 0-38-7-120 24-20 3-16 3-8 0-6 2-8 0-6 2-14 0-6 2-16 0-6 1-22 1-8 1-42 0-18-1-6-4-6-1-5 3-2 4 1 4 8 7 36 26 6 6 52 38 4 4 4 2 4 4 4 2 4 4 4 2 4 4 4 2 4 4 4 2 4 4 4 2 6 6 52 38 4 4 4 2 4 4 4 2 4 4 4 2 4 4 4 2 4 4 4 2 4 4 4 2 6 6 44 32 8 6 0 2-2 1-630 0 0-30 276 0 14 2 106 0 12 2 140 0 2-2-2-4-46-29-119-81-86-56-35-22-18-4-13-8-7-6-6-8-4-6-2-8-2-9 0-9 1-8 3-8 6-9 20-13 4-1 14 2 48 11 26 8 12 2 38 0 8-2 24 0 8-2 18-1 4-1 16-1 4-1 24-2 90-17 50-11z"/>
<path fill="#ffc500" d="M2822 2803l13-2 16 0 0 62-20 0-38-6-120 24-20 2-16 4-8 0-20 4-14 0-6 2-16 0-6 1-22 1-8 1-42 0-18-2-8-3-4-1-4 2-3 3 1 6 8 7 4 2 4 4 28 20 6 6 44 32 4 4 4 2 4 4 4 2 4 4 4 2 4 4 4 2 4 4 4 2 4 4 4 2 4 4 4 2 6 6 44 32 4 4 4 2 4 4 4 2 4 4 4 2 4 4 4 2 4 4 4 2 4 4 4 2 4 4 4 2 6 6 44 32 8 6 0 2-2 1-630 0 0-29 276 0 12 1 108 1 10 1 142 0 2-2-2-4-24-16-22-13-84-58-86-57-68-44-4-2-16-4-12-7-13-13-3-6-3-8-2-8-1-10 1-8 3-8 6-9 11-7 11-6 4 0 10 1 64 16 10 3 12 2 42 1 8-2 24 0 6-2 18 0 6-2 14 0 20-4 10-1 36-6 14-3 8-1 24-5 8-1 50-11 8-1 16-3 10-1 4-1z"/>
<path fill="#ffbc00" d="M2826 2803l25-1 0 60-20 0-38-6-110 22-46 9-8 0-20 3-14 1-6 1-16 1-6 1-22 1-8 1-40 0-20-2-8-4-4 0-4 1-3 4 1 6 8 7 36 26 6 6 36 26 4 4 4 2 4 4 4 2 4 4 4 2 4 4 4 2 4 4 4 2 4 4 4 2 4 4 4 2 4 4 4 2 6 6 36 26 4 4 4 2 4 4 4 2 4 4 4 2 4 4 4 2 4 4 4 2 4 4 4 2 4 4 4 2 4 4 4 2 6 6 36 26 4 4 4 2 8 7-2 1-4 0-626 0 0-27 276 0 12 1 108 0 10 1 143 0 1-2-2-4-23-16-23-14-66-44-18-14-82-54-72-47-20-7-12-7-12-12-6-13-3-18 1-8 3-8 5-8 12-8 8-5 4-1 12 2 74 19 12 2 40 1 10-2 22-1 10-1 16-1 48-6 92-16 50-11z"/>
<path fill="#ffb300" d="M2820 2805l15-2 16 0 0 59-20-1-38-5-110 22-46 8-30 4-12 1-6 1-16 1-6 1-22 0-8 2-42 0-18-2-8-4-4 0-4 1-3 4 1 6 8 7 20 14 12 10 4 2 6 6 28 20 4 4 4 2 4 4 4 2 4 4 4 2 4 4 4 2 4 4 4 2 4 4 4 2 4 4 4 2 4 4 4 2 4 4 4 2 6 6 28 20 4 4 4 2 4 4 4 2 4 4 4 2 4 4 4 2 4 4 4 2 4 4 4 2 4 4 4 2 4 4 4 2 4 4 4 2 6 6 28 20 4 4 4 2 4 4 4 2 8 7-2 1-4 0-626 0 0-27 276 0 12 1 106 1 14 1 138 0 3-1 2-2-3-5-23-15-23-14-66-45-18-13-82-55-70-46-6-3-16-5-12-8-11-11-6-12-3-16 1-10 2-8 5-8 12-8 8-4 4-1 12 2 74 19 14 2 38 0 10-1 22-1 10-1 16-1 34-4 39-6 67-12 50-11 38-6z"/>
<path fill="#ffa900" d="M2823 2805l12-1 16 0 0 57-18 0-40-5-110 22-46 8-30 4-12 0-6 2-16 0-6 2-22 0-8 2-42 0-18-2-8-4-4-1-5 2-2 4 1 6 8 7 12 8 20 16 4 2 6 6 28 20 4 4 4 2 4 4 4 2 4 4 4 2 4 4 4 2 4 4 4 2 4 4 4 2 4 4 4 2 4 4 4 2 4 4 4 2 6 6 28 20 4 4 4 2 4 4 4 2 4 4 4 2 4 4 4 2 4 4 4 2 4 4 4 2 4 4 4 2 4 4 4 2 4 4 4 2 6 6 4 2 4 4 4 2 4 4 4 2 32 25-2 1-4 0-626 0 0-26 276 0 12 1 106 0 16 1 136 0 4-1 1-2-3-5-22-15-24-15-122-83-114-76-22-9-10-6-12-12-6-11-3-16 0-10 3-8 5-8 13-9 10-3 12 2 74 18 14 3 36 0 12-2 20 0 12-2 14 0 36-4 40-6 66-12 50-11z"/>
<path fill="#ffa000" d="M2829 2805l22 0 0 55-18 0-40-4-110 22-46 8-30 4-12 0-6 2-16 0-6 2-22 0-8 1-42 1-18-2-8-4-4-1-5 2-2 4 0 6 9 7 4 2 4 4 28 20 6 6 28 20 4 4 4 2 4 4 4 2 4 4 4 2 4 4 4 2 4 4 4 2 4 4 4 2 4 4 4 2 4 4 4 2 4 4 4 2 6 6 28 20 4 4 4 2 4 4 4 2 4 4 4 2 4 4 4 2 4 4 4 2 4 4 4 2 4 4 4 2 4 4 4 2 4 4 4 2 6 6 4 2 4 4 4 2 4 4 4 2 4 4 4 2 24 19-6 1-626 0 0-25 276 0 14 0 106 0 14 1 136 0 4 0 2-3-2-4-2-1-22-15-24-15-116-80-116-77-8-5-18-7-10-7-12-12-6-15-2-8 0-8 0-5 2-7 4-6 10-8 6-3 8-2 12 1 74 19 14 2 36 1 12-2 20 0 26-2 22-3 40-5 80-15 50-11z"/>
<path fill="#ff9600" d="M2820 2807l9-1 22-1 0 55-18 0-40-4-110 22-46 8-30 4-12 0-6 1-16 1-6 1-22 1-8 1-42 0-18-1-8-5-4 0-6 2-2 4 1 6 9 7 4 3 4 3 4 3 20 15 4 3 6 5 20 15 4 3 4 3 4 3 4 3 4 3 4 3 4 3 4 3 4 3 4 3 4 3 4 3 4 3 4 3 4 3 4 3 4 3 4 3 4 3 4 3 6 5 20 15 4 3 4 3 4 3 4 3 4 3 4 3 4 3 4 3 4 3 4 3 4 3 4 3 4 3 4 3 4 3 4 3 4 3 4 3 4 3 4 3 6 5 4 3 4 3 4 3 4 3 4 3 4 3 4 3 4 3 4 3 16 12-6 1-626 0 0-25 276 0 132 2 142-1 1-1 1-2-2-4-24-17-24-15-116-80-110-73-12-8-20-9-10-7-9-9-8-16-2-10 0-6 0-4 2-8 4-6 10-8 5-3 8-2 22 4 64 17 16 2 34 0 12-1 20-1 26-2 36-4 38-6 68-12 50-11z"/>
<path fill="#ff8d00" d="M2824 2807l27-1 0 53-18 0-40-4-110 22-46 8-30 4-12 1-6 1-16 1-6 1-24 1-6 1-42 0-18-2-6-3-6-1-6 2-2 4 1 6 9 8 4 2 28 22 4 2 6 6 20 14 4 4 4 2 4 4 4 2 4 4 4 2 4 4 4 2 4 4 4 2 4 4 4 2 4 4 4 2 4 4 4 2 4 4 4 2 4 4 4 2 6 6 20 14 4 4 4 2 4 4 4 2 4 4 4 2 4 4 4 2 4 4 4 2 4 4 4 2 4 4 4 2 4 4 4 2 4 4 4 2 4 4 4 2 6 6 4 2 4 4 4 2 4 4 4 2 4 4 4 2 4 4 4 2 4 4 12 8-6 1-626 0 0-24 550 0 2-1 1-2-2-4-3-2-46-30-116-81-104-69-24-15-14-7-10-7-8-7-8-16-2-14 0-6 2-8 4-6 9-8 7-3 6-1 22 4 64 16 16 3 34 0 12-1 20-1 24-2 38-4 26-4 78-14 52-11z"/>
<path fill="#ff8400" d="M2834 2807l17 0 0 51-18 0-40-3-77 16-55 10-38 6-28 3-6 1-16 1-6 1-22 1-10 1-46 0-12-2-6-3-6-2-4 1-3 2-1 2 1 8 9 8 4 2 4 4 4 2 4 4 20 14 6 6 20 14 4 4 4 2 4 4 4 2 4 4 4 2 4 4 4 2 4 4 4 2 4 4 4 2 4 4 4 2 4 4 4 2 4 4 4 2 4 4 4 2 6 6 20 14 4 4 4 2 4 4 4 2 4 4 4 2 4 4 4 2 4 4 4 2 4 4 4 2 4 4 4 2 4 4 4 2 4 4 4 2 4 4 4 2 6 6 4 2 4 4 4 2 4 4 4 2 4 4 4 2 4 4 4 2 16 12-6 1-626 0 0-23 534 0 14 0 4-1 1-1 0-2-2-4-3-3-46-30-132-91-88-59-24-16-14-6-10-7-8-9-7-13-2-16 3-14 3-4 9-8 6-2 8-1 20 4 64 16 14 3 34 0 14-2 20 0 46-4 30-4 90-16 52-12 38-6z"/>
<path fill="#ff7a00" d="M2820 2809l9-1 22 0 0 50-18 0-40-3-78 16-54 10-38 6-34 4-16 0-6 2-24 1-10 1-42 0-14-2-6-3-6-2-6 2-2 3 1 8 2 2 11 8 4 4 4 2 4 4 4 2 4 4 4 2 4 4 4 2 6 6 20 14 4 4 4 2 4 4 4 2 4 4 4 2 4 4 4 2 4 4 4 2 4 4 4 2 4 4 4 2 4 4 4 2 4 4 4 2 4 4 4 2 6 6 20 14 4 4 4 2 4 4 4 2 4 4 4 2 4 4 4 2 4 4 4 2 4 4 4 2 4 4 4 2 4 4 4 2 4 4 4 2 4 4 4 2 6 6 4 2 4 4 4 2 4 4 4 2 4 4 4 2 4 4 4 2 15 12-5 1-626 0 0-23 552 0 2-2 0-2-3-4-3-3-68-46-110-76-92-63-20-12-12-5-12-9-8-8-6-12-1-16 2-14 3-4 9-8 5-2 8-1 20 4 66 17 12 2 34 1 14-2 20 0 46-5 30-4 90-16 50-11z"/>
<path fill="#ff7100" d="M2823 2809l28-1 0 49-18 0-40-2-78 16-54 10-38 6-34 4-16 0-8 2-22 0-8 2-42 0-16-2-8-5-4 0-6 1-3 4 2 8 1 2 12 8 4 4 4 2 4 4 4 2 4 4 4 2 4 4 4 2 6 6 12 8 4 4 4 2 4 4 4 2 4 4 4 2 4 4 4 2 4 4 4 2 4 4 4 2 4 4 4 2 4 4 4 2 4 4 4 2 4 4 4 2 4 4 4 2 6 6 12 8 4 4 4 2 4 4 4 2 4 4 4 2 4 4 4 2 4 4 4 2 4 4 4 2 4 4 4 2 4 4 4 2 4 4 4 2 4 4 4 2 4 4 4 2 6 6 4 2 4 4 4 2 4 4 4 2 4 4 4 2 4 4 4 2 15 12-5 1-626 0 0-22 534 0 22-1-3-6-5-6-68-45-41-29-5-4-155-106-19-12-14-7-10-7-10-10-5-10-1-14 3-16 3-6 7-6 5-2 8 0 28 6 58 15 12 2 34 0 14-1 20-1 8-1 38-3 30-4 90-16 50-11z"/>
<path fill="#f96900" d="M2817 2811l10-2 24 0 0 48-18 0-40-3-78 16-54 10-38 6-34 4-54 4-42 0-16-1-8-5-4-1-6 2-3 4 2 8 1 2 4 2 6 5 2 1 6 5 2 1 4 4 4 2 4 4 4 2 4 4 4 2 6 6 4 2 4 4 4 2 14 11 2 1 4 4 4 2 4 4 4 2 4 4 4 2 4 4 4 2 4 4 4 2 4 4 4 2 4 4 4 2 4 4 4 2 4 4 4 2 6 6 4 2 4 4 4 2 14 11 2 1 4 4 4 2 4 4 4 2 4 4 4 2 4 4 4 2 4 4 4 2 4 4 4 2 4 4 4 2 4 4 4 2 4 4 4 2 6 6 4 2 4 4 4 2 4 4 4 2 4 4 4 2 4 4 4 2 15 12-631 1 0-22 534 0 16 0 8-1-6-8-4-4-68-46-45-32-155-107-18-11-15-8-11-8-10-9-3-5-1-4-1-16 3-16 5-6 5-4 4-1 8-1 28 7 58 15 12 2 36 0 10-2 22 0 8-2 16 0 8-2 14 0 30-4 90-16 52-12 38-6z"/>
<path fill="#f36200" d="M2821 2811l6-1 24 0 0 46-58-2-78 16-54 10-38 6-34 4-54 4-42 0-16-2-8-4-4-1-4 1-3 1-2 4 2 8 1 2 4 2 6 5 2 1 6 5 2 1 6 5 2 1 6 5 2 1 6 5 2 1 6 6 4 2 4 4 4 2 4 4 4 2 4 4 4 2 4 4 4 2 4 4 4 2 22 17 2 1 4 4 4 2 4 4 4 2 4 4 4 2 4 4 4 2 6 6 4 2 4 4 4 2 4 4 4 2 4 4 4 2 4 4 4 2 4 4 4 2 22 17 2 1 4 4 4 2 4 4 4 2 4 4 4 2 4 4 4 2 6 6 4 2 4 4 4 2 4 4 4 2 4 4 4 2 23 18-631 0 0-20 534 0 24-1 1-1-1-2-9-10-69-47-44-31-156-107-18-12-16-9-12-9-8-8-4-7 0-14 3-18 4-6 5-4 4-1 8 0 26 6 58 15 14 2 38 0 8-1 24-1 8-1 16-1 6-1 14-1 32-4 88-16 52-11 38-6z"/>
<path fill="#ed5b00" d="M2822 2811l9-1 20 0 0 45-58-1-78 16-54 10-38 6-34 4-54 4-42 0-16-2-8-4-6-1-6 2-2 4 1 4 3 6 20 14 4 4 4 2 4 4 4 2 4 4 4 2 6 6 36 26 4 4 4 2 4 4 4 2 12 10 4 2 12 10 4 2 12 10 4 2 6 6 4 2 12 10 4 2 12 10 4 2 12 10 4 2 12 10 36 26 6 6 4 2 47 36-631 0 0-20 558-1 1-1 0-2-9-10-70-47-44-32-156-107-34-21-12-9-8-8-3-6 0-10 3-22 4-6 4-3 4-2 8 0 84 21 14 3 38 0 8-2 24 0 8-2 36-2 32-4 88-16 52-12z"/>
<path fill="#e75400" d="M2824 2811l27-1 0 45-58-1-78 16-54 10-38 6-34 3-54 5-42 0-16-2-8-5-6 0-7 2-1 4 1 4 3 6 11 8 5 5 3 1 5 5 3 1 5 5 3 1 5 5 3 1 7 7 3 1 5 5 3 1 5 5 3 1 5 5 3 1 13 11 3 1 5 5 3 1 13 11 3 1 13 11 3 1 5 5 11 7 7 7 3 1 5 5 3 1 5 5 3 1 13 11 3 1 5 5 3 1 5 5 3 1 5 5 3 1 5 5 3 1 5 5 3 1 21 17 3 1 7 7 3 1 5 5 3 1 5 5 3 1 5 5 3 1 5 5 3 1 15 12-630 0 0-19 558-1 2-2 0-2-10-10-70-48-44-31-154-107-36-23-14-10-6-6-2-5 2-32 2-4 6-5 4-1 8 0 84 21 14 2 38 0 8-1 24-1 8-1 38-3 30-4 88-16 62-13z"/>
<path fill="#e04c00" d="M2831 2811l20 0 0 43-58 0-78 15-54 10-38 6-34 4-54 4-42 0-16-1-8-5-6-1-6 2-3 3 0 4 5 9 3 1 5 5 3 1 5 5 3 1 5 5 3 1 5 5 3 1 5 5 3 1 7 7 3 1 5 5 3 1 5 5 3 1 5 5 3 1 5 5 3 1 21 17 3 1 5 5 3 1 5 5 3 1 5 5 3 1 5 5 3 1 5 5 3 1 7 7 3 1 5 5 3 1 5 5 3 1 5 5 3 1 5 5 3 1 5 5 3 1 13 11 3 1 21 17 3 1 5 5 3 1 5 5 3 1 7 7 3 1 5 5 3 1 5 5 3 1 5 5 3 1 5 5 3 1 13 11 2 1-630 0 0-19 548 0 8 0 4-1 1-2 0-2-11-11-69-47-45-32-154-107-36-23-14-11-6-5-2-4 3-22 0-8 1-4 3-4 3-3 4-1 8 0 86 22 12 2 40 0 6-2 24 0 8-2 18 0 6-2 14 0 6-2 24-2 68-12 84-18z"/>
<path fill="#da4500" d="M2821 2813l8-2 22 0 0 43-58-1-132 26-38 6-34 4-54 4-42 0-16-1-8-5-6-1-6 1-2 2-1 2 0 4 5 9 2 1 6 5 2 1 6 5 2 1 6 5 2 1 6 5 2 1 6 5 2 1 8 7 2 1 6 5 2 1 6 5 2 1 6 5 2 1 6 5 2 1 6 5 2 1 6 5 2 1 14 11 2 1 6 5 2 1 6 5 2 1 14 11 2 1 8 7 2 1 6 5 2 1 6 5 2 1 6 5 2 1 6 5 2 1 6 5 2 1 6 5 2 1 6 5 2 1 6 5 2 1 6 5 2 1 6 5 2 1 14 11 2 1 8 7 2 1 6 5 2 1 6 5 2 1 6 5 2 1 6 5 2 1 6 5 2 1 7 6-629 0 0-18 548 0 12-1 2-3 0-2-12-12-54-36-20-15-14-9-20-14-6-5-14-9-140-98-36-23-18-14-2-2-1-3 3-22-1-8 1-4 3-4 5-3 10 0 85 21 13 2 40 0 6-1 26-1 6-1 18-1 6-1 14-1 6-1 25-3 5-2 7 0 49-9 7-1 83-17 9-1 17-3z"/>
<path fill="#d43e00" d="M2822 2813l9-1 20-1 0 42-58 0-130 25-40 7-34 4-54 4-42 0-16-2-8-4-6-2-7 2-3 2-1 2 2 6 5 8 1 0 23 18 4 2 4 4 4 2 4 4 4 2 6 6 4 2 4 4 4 2 4 4 4 2 4 4 4 2 4 4 4 2 4 4 4 2 4 4 4 2 4 4 4 2 4 4 4 2 4 4 4 2 20 16 4 2 6 6 1 0 23 18 4 2 4 4 4 2 4 4 4 2 4 4 4 2 4 4 4 2 4 4 4 2 4 4 4 2 4 4 4 2 4 4 4 2 4 4 4 2 6 6 1 0 23 18 4 2 4 4 4 2 4 4 4 2 2 2 0 1-626 1 0-17 552 0 10-2 2-3 0-2-12-11-57-39-213-149-34-23-20-14-2-4 3-14 1-8-2-8 1-4 2-4 5-3 10 0 84 21 14 2 40 0 6-1 26-1 6-1 18-1 52-6 4-1 8-1 48-9 8-1 82-17z"/>
<path fill="#cc3900" d="M2823 2813l8-1 20 0 0 41-58 0-86 17-68 12-32 4-42 5-32 2-42 0-14-2-8-5-6-1-6 1-6 3-2-1-3-3-7-4-36-20-4 0-2-2-6 0-2-2-6 0-4-2-6-1-4-9 1-4 3-4 4-3 4 0 14 2 76 19 12 2 20 1 54-2 6-1 40-4 30-4 68-12 72-15z"/>
<path fill="#c43500" d="M2825 2813l8-1 18 0 0 40-58 1-86 17-68 12-72 8-34 2-40 0-16-1-8-5-4-1-4 0-10 1-12-7-33-18-5-1-2-1-6-1-2-1-8-1-2-1-6-1-3-3 0-2-2-4 0-4 3-4 4-3 4 0 14 3 76 19 12 2 20 1 54-3 46-4 30-4 68-12 72-15z"/>
<path fill="#bc3000" d="M2827 2813l24-1 0 39-58 1-84 17-70 13-50 6-52 4-42 0-16-1-4-1-6-4-4-2-14 1-44-24-18-5-6 0-2-1-6-1-2-3 0-2-2-3-1-3 2-4 3-3 2-1 4-1 30 7 60 15 12 2 20 1 54-3 46-4 30-4 68-12 74-16z"/>
<path fill="#b42c00" d="M2829 2813l22 0 0 38-58 1-84 17-80 14-40 5-52 4-42 0-16-1-12-7-16 0-44-23-18-5-4 0-10-3-2-2 1-2-3-4 0-2 1-4 3-3 2-1 4 0 30 6 60 15 12 2 20 1 54-2 46-5 30-4 68-12 74-15zM2383 2849l2 1 3-1-3-1z"/>
<path fill="#ac2700" d="M2832 2813l19 0 0 37-30 0-28 2-84 17-70 12-46 6-48 4-50 1-18-2-10-6-14-1-4-1-44-22-16-5-4 0-10-2-2-2 1-2-2-4-1-2 1-2 3-4 2-2 4 0 30 6 60 16 12 2 20 1 54-3 46-4 30-4 68-12 74-16zM2383 2848l-1 1 3 2 2-1 2-1-4-1z"/>
<path fill="#a42200" d="M2821 2815l12-2 18 0 0 36-30 1-28 1-84 17-70 13-46 6-48 4-50 0-18-1-10-6-14-2-4-1-44-22-16-4-6 0-4-2-4 0-1-2 1-2-1-2-2-2 0-2 3-6 2-1 4-1 30 6 58 15 14 3 16 1 28-1 56-4 50-6 68-12 74-16zM2383 2848l-2 1 4 2 4 0 1-2-5-1z"/>
<path fill="#9c1e00" d="M2823 2815l10-2 18 0 0 35-30 1-28 2-84 17-70 13-46 5-48 4-50 1-18-1-10-7-14-1-4-2-44-21-12-3-3-1-7-1-3-1-5-1-1-1 1-2 2 0-1-2-4-2 0-2 3-6 2-1 4 0 30 6 58 15 14 2 16 2 28-2 56-4 50-6 68-12 74-15zM2381 2849l-1 0 4 2 7 0-1-2-5-2z"/>
<path fill="#941900" d="M2825 2815l8-1 18 0 0 34-30 0-28 3-84 17-70 12-46 6-14 1-12 1-14 1-8 1-50 1-18-1-8-6-4-2-16-2-44-21-12-3-2-1-8-1-2-1-6-1-1-1 1-1 2-1 4 0 4 3 8-1-2-2-6-2-6 1-4-1-2-2-1-2 4-6 5-1 30 6 58 15 12 2 18 2 28-1 56-4 50-6 68-12 74-16z"/>
<path fill="#8c1500" d="M2828 2815l5-1 18 0 0 33-30 1-28 2-84 18-70 12-46 6-16 1-8 1-18 1-6 1-50 0-18-1-6-5-4-2-18-3-44-20-12-3-2-2-8 0-2-2-6 0-1-1 1-1 2 0 4 0 2 2 8 0 2 1 1-2-8-4-11-1-3-3 4-6 5-1 30 6 58 16 12 2 20 1 10-1 28-1 52-4 42-5 70-12 72-16z"/>
<path fill="#841000" d="M2829 2815l22-1 0 32-16 0-42 4-84 17-68 12-30 5-12 0-6 2-16 0-6 2-20 0-6 2-50 0-18-1-6-5-4-2-18-4-44-19-12-3-2-2-6 0-4-2-6-1 0-1 4 0 2 0 2 2 8 0 2 2 2-1 0-2-6-3-4-1-10-1-2-3 4-6 4 0 30 6 50 13 18 4 22 2 10-2 28 0 8-2 12 0 32-2 44-6 68-12 72-15z"/>
<path fill="#7c0b00" d="M2830 2815l21 0 0 31-16 0-42 4-74 15-18 3-36 7-20 3-4 1-14 2-10 1-6 1-12 1-6 1-16 1-6 1-20 1-6 1-67 0-11-8-18-4-44-19-12-3-1 0 1-1 2-1 0-2-3-2-5-2-12-1-2-3 4-6 4 0 30 6 10 3 6 1 10 3 6 1 10 3 26 6 22 2 10-1 30-1 6-1 20-1 8-1 16-1 58-8 64-12 62-13zM2375 2851l4-1 3 1-3 1zM2382 2853l7-1 3 1-5 1z"/>
<path fill="#740700" d="M2832 2815l19 0 0 30-16 0-44 5-84 17-6 0-26 6-30 4-5 2-9 1-4 1-10 0-6 2-12 0-6 2-16 0-6 2-20 0-6 2-66 0-12-8-18-4-44-19-12-3 3-2-1-2-8-4-12-2-2-2 2-3 4-3 13 2 29 8 4 0 10 3 6 1 26 7 12 2 11 1 5 1 10 0 6-1 30-1 6-1 22-1 6-1 16-1 5-1 11-1 6-1 10-1 18-3 8-1 66-12 62-13 39-6 11-1z"/>
<path fill="#6c0200" d="M2824 2817l9-2 18 0 0 29-16 0-6 1-10 1-5 1-23 2-74 16-90 16-28 2-6 2-16 0-8 2-18 0-8 2-64 0-2-1-6-6-4-2-18-4-44-18-12-3 3-2-1-3-8-4-12-1-1-2 1-3 4-2 12 1 76 20 28 4 10 0 6-2 30 0 6-2 22 0 6-2 16 0 22-4 12 0 90-16 62-14z"/>
<path fill="#6c0203" d="M2829 2817l4-1 18 0 0 27-16 0-6 2-10 0-6 2-22 2-74 15-78 14-30 4-10 1-6 1-16 1-8 1-18 1-8 1-64 0-3-1-5-5-4-2-18-5-44-17-11-3 2-2 0-2-1-1-8-4-11-1-2-2 1-2 4-3 12 2 76 19 28 4 10 0 6-1 30-1 8-1 20-1 6-1 16-1 34-4 90-16 62-13 26-4z"/>
<path fill="#730607" d="M2830 2817l5-1 16 0 0 26-16 0-6 2-10 0-6 2-22 2-74 16-78 14-30 4-10 0-6 2-16 0-8 2-18 0-8 2-64 0-2-1-8-7-20-5-42-16-12-4 2-2 0-2-2-1-6-4-12-1-3-2 1-2 4-2 12 1 86 22 12 0 10 2 12-2 30 0 8-2 20 0 6-2 16 0 34-4 90-16 62-13z"/>
<path fill="#7a0a0b" d="M2832 2817l19 0 0 25-16 0-6 1-10 1-6 1-22 3-74 15-6 1-72 13-30 4-10 1-6 1-16 1-8 1-18 1-8 1-64 0-2-1-8-7-20-5-42-16-6-1-5-2 1-4-2-2-6-3-12-1-2-2 2-3 2-1 12 2 86 21 12 1 10 1 14-1 28-1 8-1 18-1 8-1 16-1 8-1 26-3 90-16 63-13 25-4 24-3z"/>
<path fill="#820d10" d="M2825 2819l10-2 16 0 0 24-16 0-44 6-74 16-78 14-30 4-10 0-6 2-16 0-8 2-18 0-10 2-62 0-2-1-8-7-20-5-42-16-6-1-4-2 0-4-2-2-6-3-8-1-6-2 2-2 2-1 12 1 86 22 12 0 10 2 14-2 28 0 8-2 18 0 8-2 16 0 34-4 90-16 64-14 24-4z"/>
<path fill="#891114" d="M2829 2819l6-1 16 0 0 23-16 0-44 6-74 15-78 14-30 4-10 1-6 1-16 1-8 1-18 1-10 1-62 0-2-1-8-7-20-5-42-15-5-1-5-2 1-4-3-3-6-2-7-1-7-2 4-3 12 2 86 21 12 1 10 2 14-2 26 0 10-2 18 0 8-2 16-1 34-4 90-16 64-13 24-4z"/>
<path fill="#901519" d="M2831 2819l20-1 0 22-16 0-44 6-74 15-78 14-30 4-10 1-6 1-16 1-8 2-18 0-10 2-62-1-4-2-3-4-3-2-20-5-42-14-4-1-5-2 0-4-3-3-6-3-13-2 3-2 14 2 84 21 12 1 10 1 14-2 26 0 10-1 18-1 8-1 16-1 58-8 60-11 6-1 64-13z"/>
<path fill="#97191d" d="M2821 2821l14-2 16 0 0 20-16 0-42 6-76 16-78 14-30 4-10 0-6 2-16 0-8 2-18 0-10 2-62 0-3-2-3-4-4-2-28-8-40-13-2-1 0-4-2-3-8-3 0-1 4 0 84 21 12 0 10 2 14-2 26 0 10-2 18 0 8-2 16 0 58-8 66-12 64-14zM2377 2843l4-1 7 1-5 1z"/>
<path fill="#9f1d22" d="M2829 2821l6-1 16 0 0 19-16 0-42 6-42 8-32 7-80 14-8 1-20 3-12 1-6 1-16 1-8 1-18 1-8 1-64 0-3-1-3-5-4-2-20-5-48-15-1-1-1-2 1-2-2-2-7-4 2-1 8 2 76 19 12 1 10 2 14-2 26 0 10-2 18 0 8-2 16-1 6-1 26-3 92-16 50-11 24-4z"/>
<path fill="#a62026" d="M2831 2821l20 0 0 17-16 0-6 1-10 1-4 1-10 1-4 1-20 3-62 13-8 1-14 3-18 3-26 5-8 1-6 1-8 1-4 1-10 1-6 1-12 1-6 1-16 1-6 1-20 1-8 1-64 0-2 0-4-6-2-1-30-8-40-13-1-2 0-2-2-4 11 2 68 17 14 1 8 1 12-1 30-1 6-1 20-1 8-1 16-1 6-1 12-1 6-1 8-1 16-3 10-1 26-5 8-1 24-5 8-1 12-3 28-5 10-3 8-1 16-3 8-1 6-1 24-3z"/>
<path fill="#ad242b" d="M2828 2823l7-1 16 0 0 15-16 0-6 1-10 1-6 1-8 1-26 4-62 13-54 10-38 6-26 3-8 1-14 1-6 1-20 1-12 1-60 0-2-1-3-4-3-2-38-10-14-4-12-5-6-1 0-2 2-4 4 1 68 17 14 1 8 1 6 0 8-1 28-1 10-1 20-1 6-1 16-1 6-1 12-1 6-1 8-1 18-3 8-1 66-12 64-13 24-4z"/>
<path fill="#b4282f" d="M2831 2825l20-1 0 10-18 1-42 5-96 20-70 12-34 4-14 0-8 2-18 0-10 2-44 1-16-1-10-6-22-5-40-12-2-2-5 0 1-1 2-1 4 0 68 17 22 2 14-2 28 0 10-2 16 0 10-2 14 0 6-2 28-2 80-14 74-16 24-4z"/></g>
<path d="M2839 2898l-12 -1 -12 -5 -7 -5 -1 -2 0 -8 -6 -7 -8 -4 -12 -2 -156 32 -86 3 -50 0 -20 -2 -7 2 0 2 7 6 36 26 6 6 98 73 8 7 158 118 1 2 -3 3 -620 1M2153 3009l136 -1 6 -1 4 -2 8 -10 1 -6 -2 -6 -23 -22 -9 -12 -15 -22 -12 -24 -8 -22 -5 -26 -1 -50 -2 -16 2 -40 6 -36 10 -42 13 -40 13 -28 14 -26 18 -28 18 -21 26 -26 38 -30 38 -24 40 -17 24 -8 26 -8 54 -10 72 -9 82 -7 114 -4" fill="none" stroke="#9a7f8e" stroke-width="2.6" stroke-linejoin="round"/>
<path d="M2839 2894l-10 -1 -17 -6 -3 -2 3 -6 -1 -4 -6 -6 -10 -5 -12 -1 -108 22 -50 8 -88 6 -48 0 -22 -3 -4 1 -2 2 0 2 43 32 6 6 99 73 8 8 157 117 1 2 -2 3 -620 0M2153 3041l24 0 8 -2 72 -4 46 -5 14 0 18 -3 8 -3 2 -3 11 -30 1 -12 -5 -12 -29 -42 -8 -14 -10 -24 -2 -10 0 -26 5 -36 8 -34 5 -10 8 -12 18 -17 20 -16 40 -27 42 -23 48 -19 46 -14 46 -10 38 -5 46 -2 60 -1 106 3" fill="none" stroke="#a8414f" stroke-width="3.0" stroke-linejoin="round"/>
<path d="M2839 2876l-12 -2 -24 -12 -12 -2 -20 3 -42 9 -66 12 -54 9 -76 4 -44 0 -14 -1 -8 -3 -4 1 -3 3 0 4 1 1 312 235 1 2 -1 2 -620 0M2153 3066l18 0 8 -1 28 -1 8 -1 28 -1 8 -1 26 -1 8 -1 28 -1 8 -1 12 0 2 0 -2 2 -54 13 -7 5 1 4 4 3 16 2 30 0 8 2 26 0 10 1 16 1 118 13 22 0 10 1 62 1 12 2 60 1 4 -1 1 -2 -2 -2 -9 -3 -44 -26 -118 -79 -28 -17 -38 -21 -14 -5 -8 1 -4 2 -4 5 -6 17 -6 -2 -4 -4 -28 -42 -14 -16 -4 -6 -5 -14 0 -16 3 -14 3 -10 8 -12 11 -11 6 -4 12 -7 26 -8 26 -5 14 0 6 -2 46 -2 8 -2 16 0 8 -2 18 0 18 -2 50 -8 40 -8 48 -13 34 -8 48 -7 54 -4" fill="none" stroke="#000" stroke-width="3.2" stroke-linejoin="round"/>
</g></g>
<g clip-path="url(#cRe)"><rect x="1407.4" y="935.4" width="359.0" height="726.5" fill="#ffffff"/>
<g transform="scale(.5)"><g filter="url(#hb)"><path fill="#f7f7fe" d="M2819 1873l710 0 0 1234-96-1-66-1-132-9-132 2-22-1-1-2 1-2 6-10 18-24 25-26 77-78 36-39 48-55 14-19 1-3-9 0-6 1-8 0-12 3-34 10-36 8-14 2-26 2-58 0-6-1-16-1-6-2-12 0-44-6-80-16-72-18-26-5-4-1-18 0z"/>
<path fill="#f0f0fc" d="M2819 1873l710 0 0 1225-98-1-66-3-36-3-64-12-26-3-24 0-50 3-30 0-6 0 0-2 4-6 80-91 38-48 20-28 16-25 18-33 2-7-10-1-24 3-42 13-28 5-4 1-10 1-4 1-12 1-10 2-58-1-8-1-14-1-8-1-12-1-4-1-10-1-4-1-10-1-4-1-10-1-14-3-8-1-14-3-8-1-2-1-8-1-21-5-7-1-74-18-30-6-16 0z"/>
<path fill="#eaeafb" d="M2819 1873l710 0 0 1217-104-2-36-2-30-3-36-6-58-18-24-4-14-1-14 1-33 6-1-2 2-4 44-55 16-21 32-52 14-27 10-22 10-33 1-4-1-2-10-2-6 2-8 0-4 1-7 1-33 11-10 2-44 8-12 0-10 2-58 0-8-2-14 0-8-2-12 0-32-6-10 0-80-16-76-19-6-1-4-1-6-1-14-3-16 0z"/>
<path fill="#e3e3fa" d="M2819 1873l710 0 0 1209-44-1-66-2-38-3-28-4-22-5-18-7-15-7-29-17-10-5-10-3-13-1 0-2 17-23 9-15 24-52 11-27 7-23 3-20 2-22-1-4-3-2-9 0-5 2-10 0-4 1-6 1-34 11-38 7-14 2-24 2-54 0-42-4-44-6-80-15-74-19-8-1-2-1-8-1-13-3-17 0z"/>
<path fill="#ddddf9" d="M2819 1873l710 0 0 1201-42-1-66-3-34-3-24-3-20-5-17-6-15-9-13-11-8-10-4-8-2-8 0-12 4-20 19-56 5-24 2-18-2-18-3-18-1-2-3-2-10 0-4 1-10 1-10 2-34 10-52 10-24 2-54 0-44-4-42-6-80-16-74-18-6-1-24-5-18 0z"/>
<path fill="#d6d6f8" d="M2819 1873l710 0 0 1192-42 0-16-1-26-1-30-2-34-4-22-3-20-6-12-6-10-9-7-8-5-8-3-10 0-8 2-14 17-60 2-16 1-16-2-18-3-10-5-14-5-12-3-2-9 0-6 1-10 1-10 2-42 12-44 7-24 3-54-1-42-4-44-6-80-15-74-18-30-6-18 0z"/>
<path fill="#cfcff6" d="M2819 1873l710 0 0 1188-42 0-10-2-32 0-6-2-22 0-6-2-28-2-4-2-8 0-12-3-14-4-12-6-7-7-6-6-5-8-4-12-1-4 2-10 9-28 9-44 0-26-5-22-2-7-14-25-2-2-10-1-16 2-10 2-42 12-44 8-24 2-54 0-42-4-44-6-80-16-74-18-30-5-18-1z"/>
<path fill="#c9c9f5" d="M2819 1873l710 0 0 1187-40 0-10-2-32 0-8-2-20 0-34-5-14-2-20-5-14-6-8-7-8-8-3-6-4-8-1-8 1-10 7-26 10-44 0-28-6-27-8-15-7-12-3-2-10-1-16 2-10 2-42 12-46 8-22 2-54 0-42-5-44-6-80-15-74-18-30-6-18 0z"/>
<path fill="#c2c2f4" d="M2819 1873l710 0 0 1186-38 0-13-2-31 0-8-2-20 0-34-5-14-2-20-6-12-5-10-8-5-6-5-8-3-8-1-8 1-12 12-46 4-20 0-28-7-28-8-15-7-11-3-2-10-1-16 2-10 2-42 12-46 7-24 2-52 0-42-4-44-6-80-15-74-18-30-6-18 0z"/>
<path fill="#bcbcf3" d="M2819 1873l710 0 0 1185-38-1-14-1-28 0-10-2-20 0-32-5-16-2-18-5-12-6-10-8-6-7-4-6-3-8-1-8 1-12 15-66 0-12-1-16-5-22-2-7-8-15-7-10-3-2-10-1-16 2-10 2-42 11-46 8-24 2-52 0-42-4-44-6-80-16-74-17-30-6-18 0z"/>
<path fill="#b5b5f2" d="M2819 1873l710 0 0 1184-36 0-16-2-28 0-30-2-32-5-16-2-18-6-12-6-9-7-5-6-5-8-3-8-1-8 2-16 13-60 1-12-1-16-5-22-3-8-8-14-7-10-3-2-10-1-16 2-10 1-42 12-46 8-24 2-50-1-44-4-44-6-80-15-74-17-30-6-18 0z"/>
<path fill="#afaff1" d="M2819 1873l710 0 0 1183-36 0-44-2-30-2-32-5-16-3-16-4-12-6-9-7-6-8-5-8-2-8-1-8 2-16 12-58 0-12-1-16-5-22-2-8-8-14-7-10-4-3-10 0-16 1-10 2-42 12-46 7-24 2-50 0-44-4-44-6-80-15-74-18-30-5-18 0z"/>
<path fill="#a8a8ef" d="M2819 1873l710 0 0 1182-34 0-46-2-30-2-30-4-18-4-16-5-10-5-10-8-5-6-5-8-3-8-1-8 2-18 12-58 0-12-2-14-5-22-3-10-14-22-4-3-10 0-16 1-10 2-42 12-46 7-24 2-50 0-44-5-44-6-80-15-74-17-30-5-18-1z"/>
<path fill="#a2a2ee" d="M2819 1873l710 0 0 1181-34 0-46-2-30-2-30-4-18-4-14-4-12-7-8-6-7-8-4-8-3-8 0-8 1-18 11-56 1-10-2-16-8-30-8-14-7-10-4-3-10-1-16 2-10 2-42 11-46 8-24 1-50 0-44-4-44-6-80-15-74-17-30-6-18 0z"/>
<path fill="#9b9bed" d="M2819 1873l710 0 0 1180-80-2-48-4-22-4-16-4-14-7-10-7-6-7-5-7-3-8-1-10 1-20 11-54 0-10-2-14-7-32-8-14-8-10-4-3-10-1-16 2-10 2-42 11-46 7-26 2-48 0-44-4-44-6-80-15-74-17-20-4-12-2-16 0z"/>
<path fill="#9494ec" d="M2819 1873l710 0 0 1179-80-2-32-2-24-3-18-4-14-4-12-6-10-8-5-6-5-8-3-8-1-10 1-18 10-54 1-10-2-12-8-34-8-14-7-10-5-3-10-1-16 2-10 1-42 12-46 7-26 2-48-1-44-4-44-6-80-15-74-16-20-4-12-2-16 0z"/>
<path fill="#8e8eeb" d="M2819 1873l710 0 0 1178-80-2-32-2-20-3-18-3-16-5-12-6-10-7-7-8-4-8-3-8-1-10 1-18 10-52 0-10-1-12-9-34-8-14-7-10-5-3-10-1-16 1-52 13-46 7-26 2-48 0-44-4-44-6-80-15-74-17-20-3-12-2-16 0z"/>
<path fill="#8787e9" d="M2819 1873l710 0 0 1177-80-2-50-4-18-3-16-5-12-6-10-7-7-8-5-8-2-8-2-10 1-18 10-56 0-6-1-10-9-36-9-14-7-10-5-3-10-1-16 1-52 13-46 7-26 2-48 0-44-5-44-6-80-14-74-17-20-3-12-2-16 0z"/>
<path fill="#8181e8" d="M2819 1873l710 0 0 1176-82-1-32-3-18-2-16-3-16-5-12-6-10-8-7-8-4-8-2-8-2-10 1-18 10-54 0-6-2-10-6-22-1-8-2-6-8-14-8-10-5-3-10-1-16 1-52 13-46 7-26 1-48 0-44-4-44-6-80-15-94-20-12-1-16 0z"/>
<path fill="#7a7ae7" d="M2819 1873l710 0 0 1175-84-1-48-5-16-3-16-5-12-7-8-6-7-8-5-8-2-8-2-10 1-18 9-56-1-14-7-22-1-8-1-6-8-12-9-12-5-3-10-1-16 1-52 12-46 7-26 2-48 0-44-4-44-6-80-15-94-20-12-2-16 0z"/>
<path fill="#7474e6" d="M2819 1873l710 0 0 1174-84-1-32-3-16-2-12-2-18-6-12-6-8-6-7-8-5-8-3-10-2-10 1-16 9-56-2-14-7-22-1-10-2-6-8-12-8-10-5-4-10-1-16 2-52 12-46 7-26 2-48-1-44-4-44-6-80-14-94-20-12-2-16 0z"/>
<path fill="#6d6de5" d="M2819 1873l710 0 0 1173-88-1-44-5-12-2-18-6-10-5-10-7-7-9-5-8-3-12-1-12 1-12 9-54-1-8-8-28-1-8-2-6-7-12-9-12-6-4-10-1-16 2-46 11-52 8-26 1-48 0-44-4-44-6-80-15-94-19-12-2-16 0z"/>
<path fill="#6767e4" d="M2819 1873l710 0 0 1172-88-1-44-5-10-2-20-6-10-5-9-7-7-8-4-8-4-12-1-12 0-10 2-16 8-40-1-6-9-30 0-8-2-6-8-12-9-12-6-4-10-1-16 1-46 11-52 8-26 2-48 0-44-5-44-6-80-14-96-20-10-1-16 0z"/>
<path fill="#6060e2" d="M2819 1873l710 0 0 1171-89-1-41-4-12-3-18-5-11-6-9-7-8-9-3-6-4-12-1-12 0-10 2-16 7-40 0-6-10-30 0-8-2-6-6-10-11-14-6-4-10-1-16 1-46 11-52 8-26 2-48-1-42-4-46-6-80-14-96-20-10-1-16 0z"/>
<path fill="#5959e1" d="M2819 1873l710 0 0 1170-90-1-10-2-16 0-6-2-10-1-10-2-19-6-19-12-6-8-4-6-4-12-2-14 3-26 7-38 0-6-10-30-1-8-1-6-7-10-11-14-6-4-10-1-16 1-46 11-52 8-28 1-46 0-44-4-44-6-80-15-96-19-10-1-16 0z"/>
<path fill="#5353e0" d="M2819 1873l710 0 0 1169-89-1-9-2-18-1-6-2-8 0-12-3-19-6-17-11-8-9-2-4-4-12-3-14 0-8 2-6 1-12 5-26 1-8 1-4 0-4-11-32-1-10-2-6-7-10-10-12-6-4-10-1-16 1-46 10-52 8-28 2-46 0-42-5-46-6-80-14-98-19-8-1-16 0z"/>
<path fill="#4c4cdf" d="M2819 1873l710 0 0 1167-53-1-31-5-30-9-24-8-16-7-34-18-2-2-3-11 0-10 8-50 1-4 0-4-8-24-4-11 0-7-2-6-11-16-9-10-4-2-12-1-14 1-46 10-52 8-28 1-46 0-42-4-46-6-80-14-98-20-8-1-16 0z"/>
<path fill="#4747dc" d="M2819 1873l710 0 0 1154-22 0-18-2-26-4-24-6-20-7-18-7-17-10-13-10-12-12-6-14-4-18-2-26-14-36 1-6-2-6-11-16-9-10-5-2-12-2-14 1-46 11-52 7-28 2-46 0-42-4-46-7-82-14-96-19-8-1-16 0z"/>
<path fill="#4343d5" d="M2819 1873l710 0 0 1134-24 0-38-6-16-4-28-11-10-5-14-10-18-16-12-14-12-16-7-12-10-22-5-14-1-10-3-6-7-10-10-12-7-4-12-2-14 1-46 10-52 8-28 1-46 0-42-4-46-6-82-14-96-19-8-1-16 0z"/>
<path fill="#3f3fcf" d="M2819 1873l710 0 0 1129-18 0-16-1-26-5-16-4-28-11-10-5-14-9-18-16-11-12-13-17-8-13-9-18-6-16-1-8-3-6-7-10-11-12-3-3-4-2-12-1-14 1-46 10-54 8-26 1-46 0-42-5-46-6-82-14-96-18-8-1-16 0z"/>
<path fill="#3b3bc8" d="M2819 1873l710 0 0 1125-18 0-14-1-24-4-14-3-14-5-16-6-14-8-12-8-24-21-18-21-9-14-8-16-7-16-2-10-3-6-8-10-10-10-3-3-4-2-12-1-14 1-46 10-54 7-28 1-44 0-42-4-46-6-82-14-96-18-8-1-16 0z"/>
<path fill="#3838c1" d="M2819 1873l710 0 0 1122-18 0-14-2-18-3-18-4-16-5-14-6-14-7-12-8-22-19-20-22-8-12-9-16-7-16-3-10-4-6-8-10-9-10-4-3-4-2-12-1-16 1-42 9-56 8-28 1-44-1-42-4-46-6-44-7-136-25-22-1z"/>
<path fill="#3434bb" d="M2819 1873l710 0 0 1118-20 0-12-1-18-3-16-4-16-5-14-6-14-7-12-8-22-18-19-20-9-12-8-14-16-34-8-10-10-10-4-3-4-2-12-2-16 1-42 9-56 8-28 1-44 0-42-4-46-6-44-7-136-25-22-1z"/>
<path fill="#3030b4" d="M2819 1873l710 0 0 1114-20 0-12-1-32-6-16-6-16-6-14-8-12-7-22-18-18-19-16-23-8-15-7-15-4-6-17-18-4-3-4-2-12-2-16 1-42 9-56 7-28 2-44-1-44-4-62-9-162-29-22 0z"/>
<path fill="#2c2cad" d="M2819 1873l710 0 0 1111-30-1-16-3-16-4-16-5-16-6-14-8-12-7-22-17-18-18-10-13-8-12-13-25-5-8-18-18-8-5-12-2-16 1-42 9-56 7-28 1-44 0-44-5-62-8-162-29-22 0z"/>
<path fill="#2828a7" d="M2819 1873l710 0 0 1107-30 0-30-7-16-5-16-7-14-7-14-8-20-15-18-18-18-23-19-33-20-20-7-4-12-1-16 0-42 9-56 7-28 1-44 0-44-4-62-9-162-28-22-1z"/>
<path fill="#2525a0" d="M2819 1873l710 0 0 1104-28-1-14-2-16-4-32-12-14-6-14-9-20-14-16-15-18-22-18-29-6-8-19-18-5-3-4-1-10-2-16 1-42 9-56 7-30 1-44-1-42-4-62-8-160-28-24-1z"/>
<path fill="#212199" d="M2819 1873l710 0 0 1101-28-1-28-6-32-12-16-7-14-9-20-14-16-14-18-22-17-26-7-8-19-18-5-3-4-1-10-2-16 1-42 8-56 7-74 1-42-4-62-9-160-27-24-1z"/>
<path fill="#1d1d93" d="M2819 1873l710 0 0 1098-26-1-28-6-32-11-30-16-20-14-16-14-18-20-25-34-19-18-4-3-6-2-10-1-16 0-42 9-54 7-30 1-46-1-40-4-64-8-160-28-24 0z"/>
<path fill="#19198c" d="M2819 1873l710 0 0 1095-26-1-26-6-34-12-30-16-18-12-16-13-18-19-26-34-20-18-4-3-6-2-10-1-16 0-40 8-56 7-76 1-42-5-62-8-160-27-24-1z"/>
<path fill="#151585" d="M2819 1873l710 0 0 1092-24 0-26-7-36-13-30-15-18-12-16-13-18-19-26-32-20-17-8-5-12-2-16 1-41 8-55 7-76 0-42-4-62-8-160-27-24-1z"/>
<path fill="#12127f" d="M2819 1873l710 0 0 1089-22 0-24-6-38-14-32-16-18-11-14-11-18-18-19-23-9-10-20-17-8-4-10-2-18 0-42 9-54 6-78 0-40-4-62-8-160-27-24 0z"/>
<path fill="#0e0e78" d="M2819 1873l710 0 0 1087-22-1-22-5-42-16-32-16-16-10-12-9-18-17-20-23-9-10-21-17-8-4-10-2-20 0-40 8-54 7-77 0-39-4-62-8-162-27-24 0z"/>
<path fill="#0a0a71" d="M2819 1873l710 0 0 1084-20 0-20-5-46-18-32-16-14-8-12-9-18-16-20-22-12-11-20-16-8-5-10-1-20 0-40 8-54 6-78 0-8-1-30-3-62-8-56-9-24-3-16-4-24-3-16-3-10-1-16-3-24-1z"/>
<path fill="#06066b" d="M2819 1873l710 0 0 1082-20 0-12-4-56-21-30-15-20-12-12-9-16-15-17-18-19-17-14-10-6-3-8-2-22 1-40 7-28 3-6 2-14 0-6 2-78 0-6-2-32-2-6-2-42-5-4-1-10 0-56-10-36-5-4-1-23-3-17-4-8 0-18-4-24 0z"/>
<path fill="#020264" d="M2819 1873l710 0 0 1080-18 0-12-4-66-26-28-14-16-10-10-8-14-13-19-19-23-19-14-8-10-3-22 0-40 8-10 0-7 2-11 0-6 2-14 0-6 2-78 0-6-2-14 0-6-2-12 0-6-2-10 0-6-2-25-2-5-2-10 0-18-4-8 0-30-6-8 0-6-2-8 0-18-4-22-2-44-8-24 0z"/>
<path fill="#000363" d="M2819 1873l710 0 0 1076-16 0-7-2-57-22-32-14-26-15-18-14-34-31-16-12-12-7-12-3-22 0-40 7-28 3-6 1-14 1-6 1-76 0-8-1-14-1-6-1-12-1-6-1-56-7-162-25-24-1z"/>
<path fill="#000a69" d="M2819 1873l710 0 0 1070-18-1-10-2-42-14-40-17-20-10-22-16-37-32-16-12-13-7-12-4-22 0-42 8-26 2-6 1-14 1-6 1-74 1-8-2-34-3-6-1-54-6-164-26-24 0z"/>
<path fill="#001070" d="M2819 1873l710 0 0 1065-20-1-16-3-42-14-30-13-20-10-16-11-10-7-33-28-17-12-14-8-12-3-22 0-42 7-26 2-8 2-12 0-8 2-70 0-10-2-14 0-8-2-12 0-20-4-26-2-178-27-24 0z"/>
<path fill="#001776" d="M2819 1873l710 0 0 1060-20 0-18-3-36-12-32-13-20-10-18-11-41-33-19-13-16-8-10-2-22 0-42 6-54 6-70 0-42-4-48-6-178-26-24 0z"/>
<path fill="#001e7d" d="M2819 1873l710 0 0 1056-22 0-18-3-32-10-32-12-20-10-18-11-44-34-18-12-12-6-14-4-22 0-42 7-56 5-68 0-42-4-46-5-178-26-26-1z"/>
<path fill="#002583" d="M2819 1873l710 0 0 1052-22 0-20-3-32-10-30-11-20-10-18-10-43-32-18-12-13-6-12-4-24 0-44 6-54 5-68 0-42-4-46-5-178-26-26 0z"/>
<path fill="#002c8a" d="M2819 1873l710 0 0 1049-22 0-20-4-30-8-30-11-20-9-18-10-46-33-16-10-14-7-12-3-24 0-44 5-54 6-66 0-44-4-46-6-178-25-26 0z"/>
<path fill="#003390" d="M2819 1873l710 0 0 1045-22 0-20-3-28-7-30-11-20-9-18-9-46-32-17-10-15-7-12-3-24-1-44 6-54 5-66 0-44-4-46-6-178-24-26 0z"/>
<path fill="#003a97" d="M2819 1873l710 0 0 1042-24 0-20-3-28-8-28-9-20-9-18-10-44-29-17-10-17-8-12-3-24 0-44 5-54 5-66 0-42-4-48-5-178-25-26 0z"/>
<path fill="#00419d" d="M2819 1873l710 0 0 1039-24-1-20-3-26-6-28-9-22-9-18-10-45-29-18-10-15-6-12-3-24-1-76 9-22 1-66 0-42-4-48-5-178-24-26 0z"/>
<path fill="#0048a4" d="M2819 1873l710 0 0 1035-24 0-18-2-26-6-28-9-22-9-18-9-46-28-18-10-16-7-12-3-24 0-98 9-66 0-42-3-48-6-166-22-14-1-24 0z"/>
<path fill="#004faa" d="M2819 1873l710 0 0 1032-24 0-20-3-26-6-26-8-22-8-18-9-47-28-15-8-16-7-14-3-24 0-98 8-66 0-42-3-48-6-166-21-14-2-24 0z"/>
<path fill="#0055b1" d="M2819 1873l710 0 0 1029-24 0-20-2-24-6-28-8-20-8-20-9-45-26-15-8-18-7-14-3-24-1-98 9-66 0-40-4-48-5-168-22-14-1-24 0z"/>
<path fill="#005cb7" d="M2819 1873l710 0 0 1026-24 0-20-2-24-6-26-7-22-8-18-8-48-27-14-7-18-7-14-3-24 0-98 8-66 0-38-3-50-6-90-12-78-9-14-1-24 0z"/>
<path fill="#0063be" d="M2819 1873l710 0 0 1023-24 0-20-2-24-5-26-8-22-7-18-8-46-25-17-8-16-6-15-3-24-1-98 8-66 0-86-8-92-12-78-9-14-2-24 0z"/>
<path fill="#006ac4" d="M2819 1873l710 0 0 1020-24 0-18-2-24-4-26-7-22-8-20-8-46-24-15-7-17-6-18-4-24 0-96 7-66 0-84-8-94-12-78-9-14-1-24 0z"/>
<path fill="#0072ca" d="M2819 1873l710 0 0 1018-24-1-18-1-24-5-26-7-22-7-20-8-45-23-15-7-18-6-18-3-24 0-96 6-68 0-82-7-94-13-78-8-14-1-24-1z"/>
<path fill="#007bcd" d="M2819 1873l710 0 0 1015-24 0-18-2-24-4-26-7-22-7-20-7-44-22-16-7-18-6-18-4-24 0-96 7-68 0-82-8-94-12-78-9-14-1-24 0z"/>
<path fill="#0084d0" d="M2819 1873l710 0 0 1013-24 0-18-2-24-4-26-7-22-7-20-7-46-22-14-6-18-6-18-3-24 0-96 6-68 0-80-7-96-13-78-8-38-1z"/>
<path fill="#008dd4" d="M2819 1873l710 0 0 1011-24-1-18-1-24-5-26-6-22-6-20-8-43-20-15-6-18-6-20-3-24 0-96 5-68 0-80-7-96-12-50-6-40-3-26 0z"/>
<path fill="#0096d7" d="M2819 1873l710 0 0 1008-24 0-18-1-24-5-26-6-22-6-20-7-44-20-14-6-18-5-20-4-24 0-94 6-70 0-80-7-94-12-52-6-40-3-26-1z"/>
<path fill="#009fdb" d="M2819 1873l710 0 0 1006-22 0-18-1-24-4-28-7-22-6-20-7-43-19-15-5-18-6-20-3-24 0-94 5-72 0-78-7-94-12-52-5-38-4-28 0z"/>
<path fill="#00a9de" d="M2819 1873l710 0 0 1004-22 0-18-2-24-3-28-7-22-5-20-7-42-18-15-6-19-5-20-3-24 0-94 4-72 0-78-7-94-12-52-5-38-3-28 0z"/>
<path fill="#00b2e2" d="M2819 1873l710 0 0 1002-22 0-18-2-24-4-28-6-42-11-42-18-16-6-16-4-22-4-26 0-90 5-74 0-98-9-98-13-48-3-10-2-36 0z"/>
<path fill="#00bbe5" d="M2819 1873l710 0 0 1000-22 0-18-2-26-4-28-6-40-11-42-17-16-6-16-4-22-3-22 0-52 2-40 2-76 0-98-9-98-12-48-4-10-1-36-1z"/>
<path fill="#00c4e9" d="M2819 1873l710 0 0 998-22 0-16-2-26-4-30-6-42-11-40-16-16-5-16-4-22-3-22-1-54 2-20 2-18 0-78 0-96-8-96-12-50-4-10-2-36 0z"/>
<path fill="#00cdec" d="M2819 1873l710 0 0 996-22 0-16-2-58-10-40-10-39-16-17-5-16-4-22-3-78 1-32 3-82 0-96-9-96-12-50-3-10-2-36 0z"/>
<path fill="#00d6ef" d="M2819 1873l710 0 0 994-22-1-14-1-60-10-22-5-20-5-46-18-22-5-24-3-78 1-28 2-86 0-96-9-96-11-50-4-10-1-36-1z"/>
<path fill="#00dff3" d="M2819 1873l710 0 0 992-24-1-16-1-70-12-30-8-42-16-24-6-16-1-8-2-80 1-24 2-88 0-96-8-96-12-50-3-8-2-38 0z"/>
<path fill="#00e8f6" d="M2819 1873l710 0 0 990-28-1-42-6-40-7-28-7-44-16-24-5-16-1-6-2-82 1-24 2-88 0-10-2-20 0-8-2-16-1-8-1-34-3-22-3-12-1-40-5-14-1-8-2-20 0-8-2-22 0-8-2-38 0z"/>
<path fill="#00f1fa" d="M2819 1873l710 0 0 988-28-1-82-13-28-6-34-13-10-3-24-5-16-1-6-1-84 0-20 2-90 0-10-2-20 0-6-1-18-1-6-2-36-2-22-4-12 0-22-4-10 0-6-2-16 0-6-2-22-1-8-1-22-1-8-1-38-1z"/>
<path fill="#00fbfd" d="M2819 1873l710 0 0 986-26-1-82-12-30-6-34-13-10-3-10-2-9-1-5-2-14 0-8-2-86 1-16 1-92 0-8-1-22-1-6-1-18-1-6-1-36-3-6-1-12-1-4-1-12-1-22-3-10-1-6-1-16-1-6-1-21-1-9-2-20 0-8-2-40 0z"/>
<path fill="#00fdfb" d="M2819 1873l710 0 0 983-26 0-18-3-8-1-6-1-8-1-6-1-36-5-30-6-34-13-8-2-26-4-14-1-8-1-88 0-16 2-88 0-9-2-23-1-6-1-18-1-6-1-34-3-6-1-12-1-6-1-26-3-6-1-12-1-6-1-16-1-6-1-20-1-8-1-22-1-8-1-40-1z"/>
<path fill="#00f8f2" d="M2819 1873l710 0 0 981-24-1-82-11-30-6-30-10-14-4-26-4-14-1-6-1-90 0-18 2-86 0-8-2-22 0-8-2-16 0-8-2-34-2-56-8-12 0-6-2-16 0-6-2-20 0-8-2-22 0-8-2-40 0z"/>
<path fill="#00f4ea" d="M2819 1873l710 0 0 978-26 0-78-11-32-6-30-10-14-3-24-4-14-1-8-1-90 0-20 2-82 0-10-2-22 0-8-2-16 0-8-2-32-2-58-8-12 0-6-2-14 0-8-2-18 0-10-2-20 0-10-2-40 0z"/>
<path fill="#00efe1" d="M2819 1873l710 0 0 976-28-1-76-10-32-6-44-12-24-4-22-2-90 0-22 2-80 0-96-8-58-7-40-4-48-3-10-1-40 0z"/>
<path fill="#00ead9" d="M2819 1873l710 0 0 973-28-1-66-8-40-6-46-13-24-3-22-2-88 1-26 1-76 0-78-6-118-13-58-4-40 0z"/>
<path fill="#00e6d0" d="M2819 1873l710 0 0 970-32 0-62-8-40-6-46-12-24-3-22-2-86 1-30 1-74 0-78-6-118-13-58-4-40 0z"/>
<path fill="#00e1c8" d="M2819 1873l710 0 0 968-34-1-62-7-38-6-42-10-30-4-34-2-74 1-28 1-74 0-76-6-120-12-58-4-40 0z"/>
<path fill="#00ddc0" d="M2819 1873l710 0 0 966-34-1-60-7-38-6-44-10-30-3-34-2-74 1-28 1-74 0-76-6-120-12-58-4-40 0z"/>
<path fill="#00d8b7" d="M2819 1873l710 0 0 963-34-1-58-6-38-5-46-10-30-3-34-2-74 1-28 2-72-1-78-6-120-12-58-4-40 0z"/>
<path fill="#00d4af" d="M2819 1873l710 0 0 961-34-1-54-5-40-6-48-9-30-3-34-2-104 3-70-1-78-5-120-13-58-3-40-1z"/>
<path fill="#00cfa6" d="M2819 1873l710 0 0 958-34 0-50-5-42-5-50-9-30-3-34-2-104 3-70-1-78-5-120-12-58-4-40 0z"/>
<path fill="#00cb9e" d="M2819 1873l710 0 0 956-34-1-48-4-42-5-52-9-28-2-36-2-104 3-70 0-76-6-122-12-58-4-40 0z"/>
<path fill="#00c695" d="M2819 1873l710 0 0 954-34-1-42-3-46-6-54-8-28-3-36-1-104 3-70 0-76-6-122-12-58-3-40-1z"/>
<path fill="#00c28d" d="M2819 1873l710 0 0 951-34 0-38-3-48-5-54-8-28-3-38-1-106 3-68 0-74-6-122-12-60-3-40 0z"/>
<path fill="#00bd85" d="M2819 1873l710 0 0 949-32 0-36-3-50-5-56-7-26-3-40-1-106 3-68 0-74-5-122-12-60-4-40 0z"/>
<path fill="#00b97c" d="M2819 1873l710 0 0 947-32-1-32-2-52-4-56-7-26-3-42 0-104 2-70 0-72-5-124-12-60-4-40 0z"/>
<path fill="#00b474" d="M2819 1873l710 0 0 945-30-1-30-1-54-5-58-7-30-2-40 0-118 3-58-1-68-5-122-12-60-3-42 0z"/>
<path fill="#00b06b" d="M2819 1873l710 0 0 942-30 0-28-1-110-11-34-2-40 0-118 3-58-1-66-5-124-12-60-3-42 0z"/>
<path fill="#00ac62" d="M2819 1873l710 0 0 940-56-2-108-9-36-2-42 0-118 3-56-1-68-5-124-12-58-3-44 0z"/>
<path fill="#00a95a" d="M2819 1873l710 0 0 937-54-1-104-8-42-2-42-1-118 4-56-1-68-5-124-12-58-2-44-1z"/>
<path fill="#00a551" d="M2819 1873l710 0 0 935-52-1-104-8-42-2-44 0-118 4-56-1-68-5-122-11-56-3-48-1z"/>
<path fill="#00a248" d="M2819 1873l710 0 0 932-50 0-104-7-44-2-46 0-116 4-56-1-68-4-122-12-50-3-54 0z"/>
<path fill="#009e40" d="M2819 1873l710 0 0 930-48-1-104-6-46-1-46 0-58 3-60 1-54-1-68-4-122-12-48-3-56 0z"/>
<path fill="#009a37" d="M2819 1873l710 0 0 928-48-1-102-5-48-1-164 4-56-1-66-4-122-12-48-2-56-1z"/>
<path fill="#00972e" d="M2819 1873l710 0 0 925-46 0-102-5-50-1-48 1-56 3-60 1-56-1-66-4-120-12-48-2-58-1z"/>
<path fill="#009325" d="M2819 1873l710 0 0 923-50-1-106-4-88 1-56 3-62 1-56-1-90-6-96-10-30-1-18-1-58 0z"/>
<path fill="#00901d" d="M2819 1873l710 0 0 920-50 0-32-2-74-2-48 1-12 1-30 0-14 1-28 1-12 1-62 1-56-1-90-6-96-10-30 0-16-2-60 0z"/>
<path fill="#008c14" d="M2819 1873l710 0 0 918-52 0-28-2-74-2-16 1-32 0-14 2-32 0-10 1-30 1-14 1-50 1-10 0-10 0-48-1-12-1-24-1-8-1-44-3-8-1-14-1-8-1-12-1-28-3-16-1-8-1-34-1-12-2-62 0z"/>
<path fill="#00890b" d="M2819 1873l710 0 0 916-54-1-24-1-78-1-12 1-36 0-10 2-36 0-8 1-32 1-12 1-52 1-8 1-8-1-50 0-12-2-22-1-10-1-18-1-10-1-16-1-6-1-16-1-6-1-14-1-28-3-16-1-8-1-34-1-12-2-62 0z"/>
<path fill="#008502" d="M2819 1873l710 0 0 913-58 0-18-2-82 0-12 2-36 0-8 1-36 1-8 1-32 1-12 2-60 1-56-1-12-2-24 0-8-2-20 0-8-2-18-1-6-1-16-1-6-1-34-3-6-1-18-1-8-1-34-1-10-2-64 0z"/>
<path fill="#068700" d="M2819 1873l710 0 0 911-56 0-16-2-86 0-14 2-36 1-8 1-36 1-8 2-32 0-10 2-60 1-56-1-12-2-24 0-8-2-20 0-8-2-18 0-6-2-16 0-6-2-32-3-6-1-20-1-6-1-34-1-10-1-66-1z"/>
<path fill="#0f8c00" d="M2819 1873l710 0 0 908-52 0-22-1-82 1-18 1-34 1-10 2-34 1-8 2-34 0-10 2-112 1-6-1-6-1-24-1-8-1-20-1-8-1-20-1-6-2-16 0-24-4-14-1-6-1-18-1-8-1-34-1-12-1-64-1z"/>
<path fill="#179000" d="M2819 1873l710 0 0 906-50-1-26-1-72 2-60 3-10 2-34 1-10 2-32 1-10 2-100 0-16 0-8-2-24 0-8-2-46-3-8-1-14-1-26-4-12 0-8-2-18-1-8-1-32-1-14-1-64-1z"/>
<path fill="#1f9400" d="M2819 1873l710 0 0 903-76-1-62 2-68 4-14 2-32 1-10 2-32 1-10 2-98 1-18 0-8-2-24-1-8-1-46-4-8-1-14-1-26-3-46-5-32-1-16-1-62-1z"/>
<path fill="#289900" d="M2819 1873l710 0 0 900-76 0-52 1-32 2-60 6-32 2-10 1-32 2-12 1-94 2-20-1-8-1-22-1-10-2-20-1-8-1-18-1-68-8-28-3-28-1-18-1-62-1z"/>
<path fill="#309d00" d="M2819 1873l710 0 0 898-76 0-46 1-38 2-104 10-30 2-12 2-46 1-46 0-22 0-8-2-22-1-10-1-20-1-122-14-48-2-60-1z"/>
<path fill="#39a100" d="M2819 1873l710 0 0 895-74 0-42 2-42 3-148 14-44 2-46 0-22-1-10-1-24-1-8-2-46-4-96-11-50-3-58 0z"/>
<path fill="#41a600" d="M2819 1873l710 0 0 892-72 1-42 2-42 3-66 7-84 9-44 1-42 1-26-1-10-2-24-1-150-16-50-4-58 0z"/>
<path fill="#4aaa00" d="M2819 1873l710 0 0 890-72 0-46 3-38 3-68 8-80 9-58 2-44 0-44-3-154-18-50-3-56 0z"/>
<path fill="#52ae00" d="M2819 1873l710 0 0 887-70 1-46 3-40 3-68 9-80 9-54 3-60-1-86-8-98-12-52-4-56-1z"/>
<path fill="#5ab300" d="M2819 1873l710 0 0 885-68 1-48 3-40 4-68 9-80 10-52 2-46 0-18 0-84-9-98-12-54-4-54-1z"/>
<path fill="#63b700" d="M2819 1873l710 0 0 882-64 1-50 3-42 5-114 16-42 5-44 2-44 0-20-1-84-9-98-12-54-4-54-1z"/>
<path fill="#6bbb00" d="M2819 1873l710 0 0 879-60 1-52 4-44 5-114 18-42 4-42 3-46 0-20-1-84-9-98-13-56-4-52-1z"/>
<path fill="#74c000" d="M2819 1873l710 0 0 877-56 1-56 4-42 5-118 19-40 5-42 2-48 0-18-1-82-9-100-13-56-4-52-1z"/>
<path fill="#7cc400" d="M2819 1873l710 0 0 874-54 1-56 5-44 5-118 20-44 6-38 2-48 0-18-1-82-9-100-14-58-4-50-1z"/>
<path fill="#84c800" d="M2819 1873l710 0 0 871-52 1-58 5-44 7-118 21-44 5-38 3-48 0-18-1-82-10-100-14-58-4-50-1z"/>
<path fill="#8dcc00" d="M2819 1873l710 0 0 868-50 2-60 5-44 7-70 14-49 8-43 6-36 2-50 0-18-1-82-10-100-14-60-4-48-1z"/>
<path fill="#96d000" d="M2819 1873l710 0 0 866-48 1-60 6-44 7-72 14-50 9-44 7-34 2-50 0-20-1-78-10-102-15-60-4-48-1z"/>
<path fill="#9ed400" d="M2819 1873l710 0 0 863-48 1-60 7-44 7-72 15-50 10-44 6-34 3-50 0-20-2-78-9-102-16-60-4-48-2z"/>
<path fill="#a7d800" d="M2819 1873l710 0 0 860-46 2-62 6-42 8-73 16-51 10-44 7-34 2-50 0-20-1-78-10-102-15-60-5-48-2z"/>
<path fill="#b0dc00" d="M2819 1873l710 0 0 857-44 2-64 7-42 8-74 17-52 11-42 6-34 3-50 0-22-2-76-10-102-15-60-6-48-1z"/>
<path fill="#b8df00" d="M2819 1873l710 0 0 855-24 0-20 1-64 8-40 8-76 18-52 11-42 7-34 3-50 0-22-2-76-10-102-16-60-6-24-1-24 0z"/>
<path fill="#c1e300" d="M2819 1873l710 0 0 852-22 0-20 1-34 4-32 5-40 8-76 19-52 11-42 7-34 3-50 0-22-1-76-11-102-16-60-6-24-1-24 0z"/>
<path fill="#cae700" d="M2819 1873l710 0 0 849-22 0-18 1-36 5-32 4-38 8-78 21-52 12-42 7-32 3-52 0-22-2-76-11-102-16-78-7-30 0z"/>
<path fill="#d2eb00" d="M2819 1873l710 0 0 846-20 0-18 1-38 5-32 5-36 8-82 22-52 12-40 7-32 4-52 0-22-2-76-11-102-17-78-7-30-1z"/>
<path fill="#dbef00" d="M2819 1873l710 0 0 843-20 0-16 1-42 6-30 5-36 8-82 23-52 13-40 7-32 3-52 0-22-2-76-11-76-13-26-4-80-7-28-1z"/>
<path fill="#e4f300" d="M2819 1873l710 0 0 840-20 0-16 1-44 7-36 6-50 13-62 18-50 13-40 7-32 4-52 0-10-2-12 0-76-11-76-14-26-4-78-7-30-1z"/>
<path fill="#ecf700" d="M2819 1873l710 0 0 837-18 0-16 1-46 7-38 7-48 13-62 19-50 13-40 8-26 2-6 2-52 0-8-2-14 0-76-12-100-18-80-8-30 0z"/>
<path fill="#f5fa00" d="M2819 1873l710 0 0 833-18 1-14 1-48 8-38 7-48 13-62 20-50 13-40 8-10 1-6 1-10 1-6 1-52 0-8-1-14-1-6-1-22-3-28-5-20-3-100-18-28-3-8-1-36-3-8-1-30 0z"/>
<path fill="#feff00" d="M2819 1873l710 0 0 830-22 0-58 10-38 7-50 15-54 18-35 10-41 10-6 0-16 4-8 0-6 2-12 0-6 2-48 0-10-2-14 0-4-2-10 0-6-2-20-2-26-5-8-1-66-13-36-6-10-1-6-1-12-1-6-1-16-1-6-1-16-1-6-1-32 0z"/>
<path fill="#fff800" d="M2819 1873l710 0 0 819-20 0-14 2-28 5-30 6-46 13-92 35-27 8-53 13-42 6-48 0-10-2-12 0-86-14-56-12-36-6-8 0-6-1-14-1-6-2-16 0-6-2-16 0-6-2-32 0z"/>
<path fill="#ffef00" d="M2819 1873l710 0 0 800-22 0-16 1-20 4-22 6-24 8-26 10-77 37-31 14-72 20-24 4-20 2-44 0-24-3-52-8-110-21-29-4-57-5-8-1-32-1z"/>
<path fill="#ffe600" d="M2819 1873l710 0 0 777-22 1-18 1-20 5-20 6-22 9-22 12-75 45-39 21-30 8-42 13-26 5-20 2-18 0-24-1-22-2-54-8-110-21-28-4-66-7-32 0z"/>
<path fill="#ffde00" d="M2819 1873l710 0 0 752-24 0-18 2-20 5-18 7-20 10-20 13-20 14-55 43-20 14-23 14-8 3-22 5-42 15-26 4-20 2-18 1-24-1-22-2-52-8-112-22-28-4-68-7-30 0z"/>
<path fill="#ffd500" d="M2819 1873l710 0 0 720-24 0-20 3-20 6-20 10-20 13-18 14-18 17-53 53-19 16-24 18-10 5-20 4-34 13-16 5-22 4-18 1-42-1-50-6-60-10-76-15-28-4-68-7-30-1z"/>
<path fill="#ffcc00" d="M2819 1873l710 0 0 678-28 1-12 2-12 3-12 5-12 6-22 15-18 16-16 18-16 21-32 45-17 20-20 20-27 22-4 2-12 0-8 2-32 15-16 5-24 4-36 1-22-1-40-5-70-12-74-14-30-5-68-7-30 0z"/>
<path fill="#ffc300" d="M2819 1977l54 0 66 2 62 5 60 6 60 8 62 10 176 34 54 10 32 4 28 2 56 2 0 424-18 0-12 1-12 3-12 4-14 7-12 7-12 10-12 12-18 22-17 27-15 29-27 57-14 26-10 14-10 12-24 24-7 5-2 1-10-1-8 1-8 3-28 15-14 5-24 3-36 2-22-1-40-5-70-12-74-15-30-4-70-8-28 0z"/>
<path fill="#ffbb00" d="M2819 2075l0-1 30 0 48 2 42 4 40 6 38 7 38 9 38 12 36 12 38 16 36 17 34 19 32 20 29 21 26 22 19 20 18 22 9 14 8 16 5 16 4 16 2 16 0 18-2 18-3 22-18 90-18 108-5 22-6 22-9 22-10 18-11 14-25 28-3 0-6-3-10 1-10 5-25 15-15 6-14 1-10 2-36 2-22-2-40-4-166-31-78-8-28-1z"/>
<path fill="#ffb200" d="M2819 2163l0-1 30 0 64 6 32 4 34 7 36 12 21 10 29 15 28 17 24 16 24 18 19 16 19 18 14 16 13 18 14 22 69 123 11 23 11 26 6 20 5 20 5 32 0 20 2 8-1 10-1 8-1 12-3 12-2 10-10 20-8 12-20 25-2 1-2-3-4-1-10 1-10 5-27 18-7 4-8 3-16 1-8 2-36 1-6-1-16 0-40-5-164-30-82-9-26-1z"/>
<path fill="#ffa900" d="M2819 2193l20 0 24 1 36 3 28 3 40 8 18 5 18 7 22 9 22 12 22 13 22 14 22 16 18 15 18 16 15 16 13 16 12 18 78 124 20 38 8 20 6 18 6 24 3 24 2 24-2 22-4 18-6 16-11 18-10 12-20 11-24 19-16 9-6 2-18 2-8 2-32 1-8-1-14 0-42-5-164-31-82-9-26-1z"/>
<path fill="#ffa000" d="M2819 2217l0-2 42 1 34 2 30 4 24 4 22 6 20 6 20 8 22 10 22 12 22 13 22 16 18 15 18 16 16 17 14 17 20 27 41 62 18 28 14 24 12 24 9 24 8 24 5 24 4 26 0 24-2 20-6 20-6 14-8 12-40 36-15 10-6 2-34 4-22 1-8-2-14 0-6-1-26-2-32-5-144-27-82-10-26 0z"/>
<path fill="#ff9800" d="M2819 2237l54 1 54 6 42 8 20 6 20 8 22 10 20 11 20 12 20 15 18 14 16 15 15 16 15 18 22 29 30 42 18 27 14 24 14 26 10 24 8 26 6 24 4 24 2 24-2 20-4 20-5 14-8 14-24 28-9 8-14 10-38 5-20 0-24-1-30-3-34-5-58-11-32-7-52-10-84-10-26 0z"/>
<path fill="#ff8f00" d="M2819 2259l0-1 40 0 32 2 30 3 42 8 20 5 18 6 20 9 18 9 18 11 20 14 18 14 16 14 14 14 14 16 54 69 16 23 14 22 11 22 11 24 10 28 7 26 5 26 3 24 0 20-3 20-4 14-7 14-16 24-11 12-12 9-38 4-20 1-22-1-32-4-32-5-42-8-16-2-42-10-44-8-8 0-6-2-10 0-6-2-10 0-6-2-12 0-6-2-12 0-6-2-28 0z"/>
<path fill="#ff8600" d="M2819 2279l0-1 32 0 80 6 34 6 30 9 16 6 16 8 36 22 19 14 17 15 10 9 12 14 62 75 14 19 12 18 12 23 8 19 11 30 8 26 7 34 4 26 0 24-2 14-3 10-4 10-12 22-6 8-11 10-4 3-38 5-20 0-38-2-48-7-142-28-30-4-12-1-6-1-30-3-6-1-28 0z"/>
<path fill="#ff7d00" d="M2819 2295l30 0 80 6 30 4 24 6 28 12 32 17 36 25 12 10 12 12 62 74 25 34 12 20 12 24 13 38 12 40 4 22 4 26 0 22-4 18-9 22-6 12-14 16-4 2-5 1-26 4-20 0-38-3-48-7-142-27-84-10-28 0z"/>
<path fill="#ff7500" d="M2819 2309l52 1 54 4 34 5 30 8 16 6 18 9 16 8 18 11 28 22 12 11 12 13 47 58 15 20 12 20 11 20 11 24 9 24 8 26 6 26 4 22 1 20 0 18-3 16-6 18-6 14-13 22-3 2-23 3-20 1-40-3-44-7-144-27-30-4-54-6-28-1z"/>
<path fill="#fc6d00" d="M2819 2323l50 0 54 4 36 5 30 8 18 7 18 8 32 18 26 20 24 24 20 24 19 26 14 20 13 22 12 22 10 24 9 24 8 26 5 24 3 20 1 18-1 18-2 14-4 16-7 16-11 24-3 2-14 2-20 0-40-2-44-7-144-27-30-5-54-5-28-1z"/>
<path fill="#f66600" d="M2819 2337l0-2 32 0 36 1 32 2 36 5 32 8 34 13 16 7 16 10 14 9 12 10 24 24 15 19 21 28 13 20 11 20 11 22 12 26 8 24 7 24 5 20 3 20 1 20 0 16-2 14-4 14-15 44-4 2-6 1-18 0-50-3-36-6-144-28-30-4-54-6-28 0z"/>
<path fill="#f15f00" d="M2819 2349l0-2 58 1 50 2 32 5 26 6 32 11 18 8 18 11 12 8 12 9 22 23 20 26 17 24 20 36 8 18 15 34 7 22 7 24 6 32 1 24-1 18-2 12-9 30-8 24-3 1-16 1-50-4-36-5-144-28-30-4-54-6-28 0z"/>
<path fill="#eb5900" d="M2819 2359l64 0 42 2 32 4 36 9 30 11 15 8 13 8 18 14 24 24 11 14 17 24 11 18 14 24 13 28 9 22 10 28 6 20 3 18 3 16-1 34-2 14-4 14-7 22-7 18-4 2-6 0-16 0-32-3-36-6-144-27-30-4-52-6-30 0z"/>
<path fill="#e55200" d="M2819 2369l60 0 46 2 32 3 32 8 26 9 24 13 22 16 23 23 13 16 14 20 13 20 14 24 12 24 10 24 9 24 6 22 4 18 2 16 0 16-1 16-3 16-5 18-6 16-8 18-6 2-7 1-26-2-42-6-146-28-28-4-54-6-30 0z"/>
<path fill="#df4b00" d="M2819 2379l60 0 48 1 32 4 30 6 24 9 21 12 21 16 22 22 14 18 15 20 14 22 12 22 12 24 11 25 7 19 6 22 3 16 1 18 0 16-2 14-4 18-7 20-6 14-8 13-2 1-10 1-12-1-32-4-138-27-44-7-60-6-28-1z"/>
<path fill="#da4400" d="M2819 2389l110 1 30 2 28 5 12 4 8 3 10 5 12 8 17 14 23 23 17 21 12 16 15 24 17 30 12 24 10 24 9 32 2 12 2 24-1 14-2 10-6 20-7 20-9 14-7 9-2 1-12 1-30-5-136-26-38-6-68-7-28-1z"/>
<path fill="#d43e00" d="M2819 2401l0-1 104 1 32 3 26 5 20 7 20 12 18 15 22 22 12 14 15 20 18 28 10 18 14 28 8 18 7 20 4 18 2 14 1 16-1 14-3 14-5 18-7 16-16 26-9 0-22-3-134-26-36-6-72-7-28-1z"/>
<path fill="#cc3a00" d="M2819 2415l0-2 16 0 72 2 30 3 28 6 23 9 21 12 20 16 22 22 13 16 12 16 13 20 11 20 18 38 6 18 4 16 3 14 1 14 0 14-2 14-3 14-4 14-14 32-4 1-16-1-134-26-36-6-72-8-28 0z"/>
<path fill="#c53500" d="M2819 2427l36 0 50 3 26 3 24 6 22 9 20 11 20 16 20 20 12 14 11 16 22 36 17 36 6 16 5 16 4 26 0 14-1 14-4 22-12 36-8 0-14-2-120-24-36-5-72-8-28-1z"/>
<path fill="#bd3100" d="M2819 2441l34 0 54 4 16 2 22 5 20 8 19 11 19 14 22 22 21 28 22 36 17 36 9 26 4 20 0 34-3 14-7 22-2 14-3 1-8-1-128-24-28-5-72-8-28 0z"/>
<path fill="#b62d00" d="M2819 2455l0-2 20 1 42 2 32 4 22 5 18 7 18 10 18 13 19 18 19 24 18 28 18 36 11 30 5 22 1 24-2 18-7 38-10 0-16-2-98-20-42-6-60-6-26 0z"/>
<path fill="#ae2800" d="M2819 2467l0-1 24 0 40 3 26 4 22 5 18 7 17 10 17 14 17 16 17 22 14 24 15 32 11 30 4 22 1 22-2 20-6 32-8 0-9-1-90-18-40-6-60-7-28 0z"/>
<path fill="#a72400" d="M2819 2479l0-1 24 0 26 2 36 4 18 4 18 7 14 8 20 16 10 10 20 24 12 20 16 36 9 32 3 12 1 22-1 20-5 16-5 12-4 1-10-1-12-4-6 0-4-1-6-1-4-1-7-1-3-1-7-1-25-5-22-3-4-1-10-1-4-1-14-1-4-1-14-1-6-1-14-1-6-1-30-1z"/>
<path fill="#a02000" d="M2819 2545l42 0 26 3 14 5 12 5 12 7 10 8 10 10 10 12 8 13 5 13 2 12 0 12-2 10-6 10-7 6-8 5-10 3-10 0-20-1-56-11-32-1z"/></g>
</g></g>
<rect x="1093.8" y="983" width="14" height="267" fill="url(#gN)" stroke="#fff" stroke-width="2"/>
<path d="M1108.8 1250h6.5M1108.8 1183.2h6.5M1108.8 1116.5h6.5M1108.8 1049.8h6.5M1108.8 983h6.5" stroke="#fff" stroke-width="2" fill="none"/>
<text x="1122" y="1263.2" font-size="25" fill="#fff" stroke="#fff">10</text>
<text x="1151.5" y="1245.4" font-size="17" fill="#fff" stroke="#fff">−2</text>
<text x="1122" y="1196.5" font-size="25" fill="#fff" stroke="#fff">10</text>
<text x="1151.5" y="1178.7" font-size="17" fill="#fff" stroke="#fff">−1</text>
<text x="1122" y="1129.7" font-size="25" fill="#fff" stroke="#fff">10</text>
<text x="1151" y="1111.9" font-size="17" fill="#fff" stroke="#fff">0</text>
<text x="1122" y="1063" font-size="25" fill="#fff" stroke="#fff">10</text>
<text x="1151" y="1045.2" font-size="17" fill="#fff" stroke="#fff">1</text>
<text x="1122" y="996.2" font-size="25" fill="#fff" stroke="#fff">10</text>
<text x="1151" y="978.4" font-size="17" fill="#fff" stroke="#fff">2</text>
<g transform="translate(1201.6,1170.1) rotate(-90)"><text x="0" y="0" font-size="38" textLength="99" lengthAdjust="spacingAndGlyphs" fill="#fff" stroke="#fff" font-style="italic">n<tspan font-size="27" dy="6">e</tspan><tspan dy="-6">(n</tspan><tspan font-size="27" dy="6">c</tspan><tspan dy="-6">)</tspan></text></g>
<rect x="1727.4" y="983" width="13" height="267" fill="url(#gT)" stroke="#000" stroke-width="1.8"/>
<path d="M1718.4 1250h8M1718.4 1173.6h8M1718.4 1097.2h8M1718.4 1020.8h8" stroke="#000" stroke-width="2" fill="none"/>
<text x="1714.5" y="1258.6" font-size="24.5" text-anchor="end" stroke="#000">0</text>
<text x="1714.5" y="1182.2" font-size="24.5" text-anchor="end" stroke="#000">1</text>
<text x="1714.5" y="1105.8" font-size="24.5" text-anchor="end" stroke="#000">2</text>
<text x="1714.5" y="1029.4" font-size="24.5" text-anchor="end" stroke="#000">3</text>
<g transform="translate(1686.3,1181.6) rotate(-90)"><text x="0" y="0" font-size="34.5" textLength="127" lengthAdjust="spacingAndGlyphs" font-style="italic" stroke="#000">T<tspan font-size="25" dy="5">e</tspan><tspan dy="-5">(keV)</tspan></text></g>
<path d="M1061.6 1651.9H1078.4M1070.4 1622.5H1078.4M1070.4 1593H1078.4M1070.4 1563.6H1078.4M1061.6 1534.2H1078.4M1070.4 1504.7H1078.4M1070.4 1475.3H1078.4M1070.4 1445.8H1078.4M1061.6 1416.4H1078.4M1070.4 1387H1078.4M1070.4 1357.5H1078.4M1070.4 1328.1H1078.4M1061.6 1298.7H1078.4M1070.4 1269.2H1078.4M1070.4 1239.8H1078.4M1070.4 1210.3H1078.4M1061.6 1180.9H1078.4M1070.4 1151.5H1078.4M1070.4 1122H1078.4M1070.4 1092.6H1078.4M1061.6 1063.2H1078.4M1070.4 1033.7H1078.4M1070.4 1004.3H1078.4M1070.4 974.8H1078.4M1061.6 945.4H1078.4M1078.4 1651.9V1659.9M1112.3 1651.9V1659.9M1146.2 1651.9V1669.5M1180.1 1651.9V1659.9M1214 1651.9V1659.9M1247.9 1651.9V1659.9M1281.8 1651.9V1669.5M1315.7 1651.9V1659.9M1349.6 1651.9V1659.9M1383.5 1651.9V1659.9M1417.4 1651.9V1669.5M1451.3 1651.9V1659.9M1485.2 1651.9V1659.9M1519.1 1651.9V1659.9M1553 1651.9V1669.5M1586.9 1651.9V1659.9M1620.8 1651.9V1659.9M1654.7 1651.9V1659.9M1688.6 1651.9V1669.5M1722.5 1651.9V1659.9M1756.4 1651.9V1659.9" stroke="#000" stroke-width="2.4" fill="none"/>
<path d="M1417.4 945.4V1651.9" stroke="#000" stroke-width="3"/>
<rect x="1078.4" y="945.4" width="678" height="706.5" fill="none" stroke="#000" stroke-width="3"/>
<text x="1044.5" y="1664.3" font-size="34.5" text-anchor="end" stroke="#000">0</text>
<text x="1044.5" y="1546.6" font-size="34.5" text-anchor="end" stroke="#000">200</text>
<text x="1044.5" y="1428.8" font-size="34.5" text-anchor="end" stroke="#000">400</text>
<text x="1044.5" y="1311.1" font-size="34.5" text-anchor="end" stroke="#000">600</text>
<text x="1044.5" y="1193.3" font-size="34.5" text-anchor="end" stroke="#000">800</text>
<text x="1044.5" y="1075.6" font-size="34.5" text-anchor="end" stroke="#000">1000</text>
<text x="1044.5" y="957.8" font-size="34.5" text-anchor="end" stroke="#000">1200</text>
<text x="1146.2" y="1710.9" font-size="34.5" text-anchor="middle" stroke="#000">400</text>
<text x="1281.8" y="1710.9" font-size="34.5" text-anchor="middle" stroke="#000">200</text>
<text x="1417.4" y="1710.9" font-size="34.5" text-anchor="middle" stroke="#000">0</text>
<text x="1553" y="1710.9" font-size="34.5" text-anchor="middle" stroke="#000">200</text>
<text x="1688.6" y="1710.9" font-size="34.5" text-anchor="middle" stroke="#000">400</text>
<text x="1241.3" y="1761.5" font-size="34.5" text-anchor="middle" textLength="109" lengthAdjust="spacingAndGlyphs" stroke="#000">R (µm)</text>
<text x="1584.5" y="1761.5" font-size="34.5" text-anchor="middle" textLength="109" lengthAdjust="spacingAndGlyphs" stroke="#000">R (µm)</text>
<g transform="translate(939,1353.4) rotate(-90)"><text x="0" y="0" font-size="34.5" textLength="104" lengthAdjust="spacingAndGlyphs" stroke="#000">Z (µm)</text></g>
<path d="M916.1 903.1q-20 17.75 0 35.5M947.1 903.1q20 17.75 0 35.5" fill="none" stroke="#000" stroke-width="1.6"/>
<text x="931.6" y="932.6" font-size="39" text-anchor="middle" stroke="#000">e</text>
</g>
</svg>
</body></html>
